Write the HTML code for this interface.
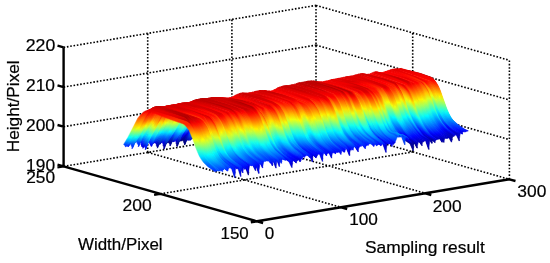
<!DOCTYPE html>
<html><head><meta charset="utf-8"><title>Sampling result surface</title>
<style>html,body{margin:0;padding:0;background:#fff;}svg{display:block;}</style></head>
<body><svg width="550" height="263" viewBox="0 0 550 263">
<rect width="550" height="263" fill="#fff"/>
<path d="M63.6 126.7L316 84.7M316 84.7L509.4 139.6M63.6 87.1L316 45.1M316 45.1L509.4 100M63.6 47.4L316 5.4M316 5.4L509.4 60.3M147.7 152.4L147.7 33.4M231.9 138.4L231.9 19.4M316 124.4L316 5.4M412.7 151.9L412.7 32.8M509.4 179.3L509.4 60.3M63.6 166.4L316 124.4M316 124.4L509.4 179.3M147.7 152.4L341.1 207.3M231.9 138.4L425.3 193.3M160.3 193.9L412.7 151.9" stroke="#000" stroke-width="1.6" stroke-dasharray="1.6 1.75" fill="none"/>
<defs><linearGradient id="g0" gradientUnits="userSpaceOnUse" x1="0" y1="0" x2="0" y2="263"><stop offset=".261" stop-color="#ec0000"/><stop offset=".275" stop-color="#f70000"/><stop offset=".308" stop-color="#ff4400"/><stop offset=".343" stop-color="#ffd300"/><stop offset=".362" stop-color="#d6ff29"/><stop offset=".406" stop-color="#19ffe6"/><stop offset=".423" stop-color="#00cfff"/><stop offset=".449" stop-color="#0068ff"/><stop offset=".478" stop-color="#0009ff"/><stop offset=".498" stop-color="#0000e3"/></linearGradient><linearGradient id="g1" gradientUnits="userSpaceOnUse" x1="0" y1="0" x2="0" y2="263"><stop offset=".262" stop-color="#eb0000"/><stop offset=".280" stop-color="#c90000"/><stop offset=".295" stop-color="#d20000"/><stop offset=".303" stop-color="#ed0000"/><stop offset=".313" stop-color="#ff1600"/><stop offset=".366" stop-color="#fff700"/><stop offset=".390" stop-color="#a1ff5e"/><stop offset=".429" stop-color="#00f9ff"/><stop offset=".464" stop-color="#006fff"/><stop offset=".490" stop-color="#0019ff"/><stop offset=".501" stop-color="#0000f1"/></linearGradient><linearGradient id="g2" gradientUnits="userSpaceOnUse" x1="0" y1="0" x2="0" y2="263"><stop offset=".262" stop-color="#e80000"/><stop offset=".279" stop-color="#b80000"/><stop offset=".293" stop-color="#be0000"/><stop offset=".306" stop-color="#e50000"/><stop offset=".317" stop-color="#ff1100"/><stop offset=".371" stop-color="#fff600"/><stop offset=".394" stop-color="#a5ff5a"/><stop offset=".433" stop-color="#00fdff"/><stop offset=".477" stop-color="#0053ff"/><stop offset=".502" stop-color="#0000f5"/></linearGradient><linearGradient id="g3" gradientUnits="userSpaceOnUse" x1="0" y1="0" x2="0" y2="263"><stop offset=".262" stop-color="#e60000"/><stop offset=".306" stop-color="#ff0500"/><stop offset=".317" stop-color="#ff2600"/><stop offset=".362" stop-color="#ffdf00"/><stop offset=".384" stop-color="#c3ff3c"/><stop offset=".424" stop-color="#13ffec"/><stop offset=".442" stop-color="#00c6ff"/><stop offset=".480" stop-color="#0038ff"/><stop offset=".500" stop-color="#0000fc"/></linearGradient><linearGradient id="g4" gradientUnits="userSpaceOnUse" x1="0" y1="0" x2="0" y2="263"><stop offset=".262" stop-color="#e50000"/><stop offset=".280" stop-color="#ff0400"/><stop offset=".311" stop-color="#ff2200"/><stop offset=".334" stop-color="#ff6e00"/><stop offset=".367" stop-color="#fffb00"/><stop offset=".389" stop-color="#a6ff59"/><stop offset=".429" stop-color="#00f9ff"/><stop offset=".467" stop-color="#005fff"/><stop offset=".495" stop-color="#0004ff"/><stop offset=".509" stop-color="#0000cc"/></linearGradient><linearGradient id="g5" gradientUnits="userSpaceOnUse" x1="0" y1="0" x2="0" y2="263"><stop offset=".263" stop-color="#e50000"/><stop offset=".280" stop-color="#ff0100"/><stop offset=".311" stop-color="#ff1f00"/><stop offset=".324" stop-color="#ff4900"/><stop offset=".369" stop-color="#f9ff06"/><stop offset=".413" stop-color="#3cffc3"/><stop offset=".431" stop-color="#00efff"/><stop offset=".459" stop-color="#007cff"/><stop offset=".491" stop-color="#000eff"/><stop offset=".496" stop-color="#0000fe"/><stop offset=".510" stop-color="#0000c9"/></linearGradient><linearGradient id="g6" gradientUnits="userSpaceOnUse" x1="0" y1="0" x2="0" y2="263"><stop offset=".263" stop-color="#e40000"/><stop offset=".279" stop-color="#f90000"/><stop offset=".309" stop-color="#ff1800"/><stop offset=".356" stop-color="#ffcf00"/><stop offset=".376" stop-color="#d9ff26"/><stop offset=".418" stop-color="#24ffdb"/><stop offset=".435" stop-color="#00d9ff"/><stop offset=".485" stop-color="#0021ff"/><stop offset=".496" stop-color="#0001ff"/><stop offset=".503" stop-color="#0000ec"/></linearGradient><linearGradient id="g7" gradientUnits="userSpaceOnUse" x1="0" y1="0" x2="0" y2="263"><stop offset=".263" stop-color="#e30000"/><stop offset=".293" stop-color="#ff0100"/><stop offset=".309" stop-color="#ff1500"/><stop offset=".361" stop-color="#ffe700"/><stop offset=".382" stop-color="#bcff43"/><stop offset=".423" stop-color="#0efff1"/><stop offset=".440" stop-color="#00c3ff"/><stop offset=".487" stop-color="#0018ff"/><stop offset=".497" stop-color="#0000f9"/><stop offset=".507" stop-color="#0000dd"/></linearGradient><linearGradient id="g8" gradientUnits="userSpaceOnUse" x1="0" y1="0" x2="0" y2="263"><stop offset=".263" stop-color="#e30000"/><stop offset=".311" stop-color="#ff0c00"/><stop offset=".357" stop-color="#ffc900"/><stop offset=".377" stop-color="#dbff24"/><stop offset=".418" stop-color="#2affd5"/><stop offset=".436" stop-color="#00e0ff"/><stop offset=".490" stop-color="#0017ff"/><stop offset=".496" stop-color="#0007ff"/><stop offset=".505" stop-color="#0000ed"/></linearGradient><linearGradient id="g9" gradientUnits="userSpaceOnUse" x1="0" y1="0" x2="0" y2="263"><stop offset=".264" stop-color="#e20000"/><stop offset=".278" stop-color="#ee0000"/><stop offset=".292" stop-color="#e00000"/><stop offset=".313" stop-color="#ff0300"/><stop offset=".355" stop-color="#ffb600"/><stop offset=".376" stop-color="#edff12"/><stop offset=".417" stop-color="#3cffc3"/><stop offset=".434" stop-color="#00f3ff"/><stop offset=".496" stop-color="#0009ff"/><stop offset=".536" stop-color="#000080"/></linearGradient><linearGradient id="g10" gradientUnits="userSpaceOnUse" x1="0" y1="0" x2="0" y2="263"><stop offset=".264" stop-color="#e20000"/><stop offset=".278" stop-color="#ed0000"/><stop offset=".292" stop-color="#d90000"/><stop offset=".316" stop-color="#ff0600"/><stop offset=".362" stop-color="#ffd000"/><stop offset=".384" stop-color="#ceff31"/><stop offset=".423" stop-color="#27ffd8"/><stop offset=".439" stop-color="#00e6ff"/><stop offset=".501" stop-color="#0001ff"/><stop offset=".525" stop-color="#00009f"/></linearGradient><linearGradient id="g11" gradientUnits="userSpaceOnUse" x1="0" y1="0" x2="0" y2="263"><stop offset=".264" stop-color="#e30000"/><stop offset=".314" stop-color="#ff0d00"/><stop offset=".370" stop-color="#fff900"/><stop offset=".392" stop-color="#a4ff5b"/><stop offset=".429" stop-color="#05fffa"/><stop offset=".499" stop-color="#0001ff"/><stop offset=".516" stop-color="#0000c5"/></linearGradient><linearGradient id="g12" gradientUnits="userSpaceOnUse" x1="0" y1="0" x2="0" y2="263"><stop offset=".266" stop-color="#e50000"/><stop offset=".284" stop-color="#ff0600"/><stop offset=".315" stop-color="#ff3b00"/><stop offset=".354" stop-color="#ffce00"/><stop offset=".373" stop-color="#e0ff1f"/><stop offset=".416" stop-color="#26ffd9"/><stop offset=".434" stop-color="#00dbff"/><stop offset=".489" stop-color="#0006ff"/><stop offset=".509" stop-color="#0000d2"/></linearGradient><linearGradient id="g13" gradientUnits="userSpaceOnUse" x1="0" y1="0" x2="0" y2="263"><stop offset=".268" stop-color="#ea0000"/><stop offset=".283" stop-color="#fa0000"/><stop offset=".313" stop-color="#ff4700"/><stop offset=".344" stop-color="#ffbe00"/><stop offset=".364" stop-color="#ecff13"/><stop offset=".407" stop-color="#30ffcf"/><stop offset=".426" stop-color="#00e0ff"/><stop offset=".477" stop-color="#0013ff"/><stop offset=".486" stop-color="#0000f3"/><stop offset=".513" stop-color="#0000b8"/></linearGradient><linearGradient id="g14" gradientUnits="userSpaceOnUse" x1="0" y1="0" x2="0" y2="263"><stop offset=".270" stop-color="#f00000"/><stop offset=".284" stop-color="#f90000"/><stop offset=".312" stop-color="#f30000"/><stop offset=".318" stop-color="#ff0700"/><stop offset=".376" stop-color="#fff300"/><stop offset=".399" stop-color="#a9ff56"/><stop offset=".438" stop-color="#02fffd"/><stop offset=".501" stop-color="#0007ff"/><stop offset=".518" stop-color="#0000c9"/></linearGradient><linearGradient id="g15" gradientUnits="userSpaceOnUse" x1="0" y1="0" x2="0" y2="263"><stop offset=".273" stop-color="#f70000"/><stop offset=".297" stop-color="#ff0600"/><stop offset=".314" stop-color="#ff2400"/><stop offset=".354" stop-color="#ffc800"/><stop offset=".375" stop-color="#ddff22"/><stop offset=".420" stop-color="#1affe5"/><stop offset=".437" stop-color="#00cfff"/><stop offset=".485" stop-color="#0013ff"/><stop offset=".494" stop-color="#0000f3"/><stop offset=".522" stop-color="#0000a5"/></linearGradient><linearGradient id="g16" gradientUnits="userSpaceOnUse" x1="0" y1="0" x2="0" y2="263"><stop offset=".273" stop-color="#f80000"/><stop offset=".297" stop-color="#ff0600"/><stop offset=".314" stop-color="#ff2300"/><stop offset=".355" stop-color="#ffc800"/><stop offset=".375" stop-color="#deff21"/><stop offset=".420" stop-color="#1affe5"/><stop offset=".437" stop-color="#00cfff"/><stop offset=".485" stop-color="#0014ff"/><stop offset=".494" stop-color="#0000f4"/><stop offset=".530" stop-color="#000080"/></linearGradient><linearGradient id="g17" gradientUnits="userSpaceOnUse" x1="0" y1="0" x2="0" y2="263"><stop offset=".274" stop-color="#fa0000"/><stop offset=".297" stop-color="#f60000"/><stop offset=".314" stop-color="#ff1000"/><stop offset=".358" stop-color="#ffc400"/><stop offset=".379" stop-color="#e0ff1f"/><stop offset=".424" stop-color="#1fffe0"/><stop offset=".442" stop-color="#00d1ff"/><stop offset=".492" stop-color="#000aff"/><stop offset=".519" stop-color="#0000af"/><stop offset=".541" stop-color="#000080"/></linearGradient><linearGradient id="g18" gradientUnits="userSpaceOnUse" x1="0" y1="0" x2="0" y2="263"><stop offset=".275" stop-color="#fd0000"/><stop offset=".297" stop-color="#e80000"/><stop offset=".315" stop-color="#fd0000"/><stop offset=".362" stop-color="#ffc000"/><stop offset=".383" stop-color="#e1ff1e"/><stop offset=".427" stop-color="#23ffdc"/><stop offset=".445" stop-color="#00d8ff"/><stop offset=".498" stop-color="#000eff"/><stop offset=".506" stop-color="#0000ed"/><stop offset=".523" stop-color="#0000b6"/></linearGradient><linearGradient id="g19" gradientUnits="userSpaceOnUse" x1="0" y1="0" x2="0" y2="263"><stop offset=".275" stop-color="#fd0000"/><stop offset=".297" stop-color="#e60000"/><stop offset=".315" stop-color="#fa0000"/><stop offset=".363" stop-color="#ffc000"/><stop offset=".384" stop-color="#e1ff1e"/><stop offset=".428" stop-color="#23ffdc"/><stop offset=".445" stop-color="#00d9ff"/><stop offset=".498" stop-color="#0010ff"/><stop offset=".506" stop-color="#0000ef"/><stop offset=".522" stop-color="#0000be"/></linearGradient><linearGradient id="g20" gradientUnits="userSpaceOnUse" x1="0" y1="0" x2="0" y2="263"><stop offset=".276" stop-color="#fe0000"/><stop offset=".299" stop-color="#ec0000"/><stop offset=".316" stop-color="#ff0200"/><stop offset=".361" stop-color="#ffbc00"/><stop offset=".382" stop-color="#e7ff18"/><stop offset=".427" stop-color="#26ffd9"/><stop offset=".444" stop-color="#00dbff"/><stop offset=".499" stop-color="#0007ff"/><stop offset=".524" stop-color="#0000b8"/></linearGradient><linearGradient id="g21" gradientUnits="userSpaceOnUse" x1="0" y1="0" x2="0" y2="263"><stop offset=".276" stop-color="#fa0000"/><stop offset=".318" stop-color="#ff0a00"/><stop offset=".377" stop-color="#fffb00"/><stop offset=".399" stop-color="#a2ff5d"/><stop offset=".439" stop-color="#00f5ff"/><stop offset=".499" stop-color="#000cff"/><stop offset=".507" stop-color="#0000ea"/><stop offset=".526" stop-color="#0000ae"/></linearGradient><linearGradient id="g22" gradientUnits="userSpaceOnUse" x1="0" y1="0" x2="0" y2="263"><stop offset=".275" stop-color="#f00000"/><stop offset=".298" stop-color="#d30000"/><stop offset=".318" stop-color="#f00000"/><stop offset=".338" stop-color="#ff4600"/><stop offset=".378" stop-color="#fff200"/><stop offset=".402" stop-color="#a5ff5a"/><stop offset=".441" stop-color="#00fcff"/><stop offset=".503" stop-color="#000fff"/><stop offset=".511" stop-color="#0000ef"/><stop offset=".526" stop-color="#0000c1"/></linearGradient><linearGradient id="g23" gradientUnits="userSpaceOnUse" x1="0" y1="0" x2="0" y2="263"><stop offset=".275" stop-color="#e90000"/><stop offset=".290" stop-color="#f90000"/><stop offset=".304" stop-color="#ef0000"/><stop offset=".323" stop-color="#ff0800"/><stop offset=".374" stop-color="#ffde00"/><stop offset=".396" stop-color="#c3ff3c"/><stop offset=".435" stop-color="#1cffe3"/><stop offset=".451" stop-color="#00d7ff"/><stop offset=".510" stop-color="#0000f7"/><stop offset=".527" stop-color="#0000be"/></linearGradient><linearGradient id="g24" gradientUnits="userSpaceOnUse" x1="0" y1="0" x2="0" y2="263"><stop offset=".274" stop-color="#e50000"/><stop offset=".292" stop-color="#ff0500"/><stop offset=".308" stop-color="#ff0200"/><stop offset=".327" stop-color="#ff1800"/><stop offset=".372" stop-color="#ffd100"/><stop offset=".392" stop-color="#d6ff29"/><stop offset=".431" stop-color="#30ffcf"/><stop offset=".449" stop-color="#00e3ff"/><stop offset=".504" stop-color="#000eff"/><stop offset=".513" stop-color="#0000ea"/><stop offset=".542" stop-color="#000080"/></linearGradient><linearGradient id="g25" gradientUnits="userSpaceOnUse" x1="0" y1="0" x2="0" y2="263"><stop offset=".274" stop-color="#e50000"/><stop offset=".292" stop-color="#ff0200"/><stop offset=".308" stop-color="#fe0000"/><stop offset=".326" stop-color="#ff1400"/><stop offset=".371" stop-color="#ffcb00"/><stop offset=".391" stop-color="#ddff22"/><stop offset=".430" stop-color="#34ffcb"/><stop offset=".448" stop-color="#00e7ff"/><stop offset=".505" stop-color="#000cff"/><stop offset=".513" stop-color="#0000e8"/><stop offset=".540" stop-color="#000080"/></linearGradient><linearGradient id="g26" gradientUnits="userSpaceOnUse" x1="0" y1="0" x2="0" y2="263"><stop offset=".274" stop-color="#e20000"/><stop offset=".288" stop-color="#ec0000"/><stop offset=".302" stop-color="#e30000"/><stop offset=".319" stop-color="#f30000"/><stop offset=".342" stop-color="#ff4d00"/><stop offset=".379" stop-color="#ffeb00"/><stop offset=".401" stop-color="#b1ff4e"/><stop offset=".440" stop-color="#0cfff3"/><stop offset=".455" stop-color="#00cfff"/><stop offset=".508" stop-color="#0001ff"/><stop offset=".526" stop-color="#0000c1"/></linearGradient><linearGradient id="g27" gradientUnits="userSpaceOnUse" x1="0" y1="0" x2="0" y2="263"><stop offset=".274" stop-color="#e10000"/><stop offset=".300" stop-color="#d90000"/><stop offset=".316" stop-color="#e70000"/><stop offset=".326" stop-color="#ff1000"/><stop offset=".375" stop-color="#ffda00"/><stop offset=".397" stop-color="#c3ff3c"/><stop offset=".437" stop-color="#18ffe7"/><stop offset=".453" stop-color="#00d5ff"/><stop offset=".507" stop-color="#0003ff"/><stop offset=".528" stop-color="#0000b7"/></linearGradient><linearGradient id="g28" gradientUnits="userSpaceOnUse" x1="0" y1="0" x2="0" y2="263"><stop offset=".274" stop-color="#de0000"/><stop offset=".295" stop-color="#c60000"/><stop offset=".311" stop-color="#d00000"/><stop offset=".319" stop-color="#ef0000"/><stop offset=".332" stop-color="#ff2300"/><stop offset=".367" stop-color="#ffb600"/><stop offset=".389" stop-color="#e7ff18"/><stop offset=".432" stop-color="#2fffd0"/><stop offset=".450" stop-color="#00e1ff"/><stop offset=".508" stop-color="#0000f9"/><stop offset=".541" stop-color="#000080"/></linearGradient><linearGradient id="g29" gradientUnits="userSpaceOnUse" x1="0" y1="0" x2="0" y2="263"><stop offset=".274" stop-color="#de0000"/><stop offset=".296" stop-color="#c50000"/><stop offset=".311" stop-color="#d10000"/><stop offset=".321" stop-color="#f50000"/><stop offset=".334" stop-color="#ff2900"/><stop offset=".370" stop-color="#ffc100"/><stop offset=".392" stop-color="#dbff24"/><stop offset=".434" stop-color="#26ffd9"/><stop offset=".452" stop-color="#00d8ff"/><stop offset=".501" stop-color="#0019ff"/><stop offset=".510" stop-color="#0000f4"/><stop offset=".541" stop-color="#000080"/></linearGradient><linearGradient id="g30" gradientUnits="userSpaceOnUse" x1="0" y1="0" x2="0" y2="263"><stop offset=".274" stop-color="#df0000"/><stop offset=".297" stop-color="#c50000"/><stop offset=".314" stop-color="#d60000"/><stop offset=".328" stop-color="#ff0c00"/><stop offset=".381" stop-color="#ffec00"/><stop offset=".404" stop-color="#abff54"/><stop offset=".443" stop-color="#07fff8"/><stop offset=".509" stop-color="#0002ff"/><stop offset=".527" stop-color="#0000c4"/></linearGradient><linearGradient id="g31" gradientUnits="userSpaceOnUse" x1="0" y1="0" x2="0" y2="263"><stop offset=".275" stop-color="#df0000"/><stop offset=".286" stop-color="#db0000"/><stop offset=".298" stop-color="#c50000"/><stop offset=".317" stop-color="#db0000"/><stop offset=".334" stop-color="#ff2100"/><stop offset=".370" stop-color="#ffb900"/><stop offset=".392" stop-color="#e3ff1c"/><stop offset=".434" stop-color="#31ffce"/><stop offset=".451" stop-color="#00e9ff"/><stop offset=".511" stop-color="#0001ff"/><stop offset=".528" stop-color="#0000c4"/></linearGradient><linearGradient id="g32" gradientUnits="userSpaceOnUse" x1="0" y1="0" x2="0" y2="263"><stop offset=".278" stop-color="#e60000"/><stop offset=".321" stop-color="#ff0300"/><stop offset=".333" stop-color="#ff2500"/><stop offset=".378" stop-color="#ffde00"/><stop offset=".399" stop-color="#c3ff3c"/><stop offset=".440" stop-color="#14ffeb"/><stop offset=".459" stop-color="#00c1ff"/><stop offset=".506" stop-color="#0005ff"/><stop offset=".529" stop-color="#0000b9"/></linearGradient><linearGradient id="g33" gradientUnits="userSpaceOnUse" x1="0" y1="0" x2="0" y2="263"><stop offset=".280" stop-color="#ef0000"/><stop offset=".324" stop-color="#ff1000"/><stop offset=".368" stop-color="#ffb800"/><stop offset=".387" stop-color="#f1ff0e"/><stop offset=".431" stop-color="#33ffcc"/><stop offset=".449" stop-color="#00e9ff"/><stop offset=".501" stop-color="#0014ff"/><stop offset=".511" stop-color="#0000ef"/><stop offset=".531" stop-color="#0000b3"/></linearGradient><linearGradient id="g34" gradientUnits="userSpaceOnUse" x1="0" y1="0" x2="0" y2="263"><stop offset=".283" stop-color="#f40000"/><stop offset=".295" stop-color="#f80000"/><stop offset=".309" stop-color="#d90000"/><stop offset=".323" stop-color="#d40000"/><stop offset=".340" stop-color="#ff0d00"/><stop offset=".390" stop-color="#ffde00"/><stop offset=".412" stop-color="#bcff43"/><stop offset=".451" stop-color="#17ffe8"/><stop offset=".467" stop-color="#00d2ff"/><stop offset=".520" stop-color="#0000fc"/><stop offset=".533" stop-color="#0000c8"/></linearGradient><linearGradient id="g35" gradientUnits="userSpaceOnUse" x1="0" y1="0" x2="0" y2="263"><stop offset=".283" stop-color="#f30000"/><stop offset=".296" stop-color="#f80000"/><stop offset=".309" stop-color="#e00000"/><stop offset=".324" stop-color="#df0000"/><stop offset=".330" stop-color="#f20000"/><stop offset=".339" stop-color="#ff1400"/><stop offset=".388" stop-color="#ffdf00"/><stop offset=".410" stop-color="#bdff42"/><stop offset=".449" stop-color="#15ffea"/><stop offset=".466" stop-color="#00ccff"/><stop offset=".513" stop-color="#0011ff"/><stop offset=".519" stop-color="#0000f6"/><stop offset=".543" stop-color="#000094"/></linearGradient><linearGradient id="g36" gradientUnits="userSpaceOnUse" x1="0" y1="0" x2="0" y2="263"><stop offset=".283" stop-color="#f20000"/><stop offset=".309" stop-color="#ee0000"/><stop offset=".329" stop-color="#ff0300"/><stop offset=".384" stop-color="#ffe000"/><stop offset=".406" stop-color="#beff41"/><stop offset=".447" stop-color="#0dfff2"/><stop offset=".466" stop-color="#00bbff"/><stop offset=".514" stop-color="#0000fa"/><stop offset=".539" stop-color="#00009c"/></linearGradient><linearGradient id="g37" gradientUnits="userSpaceOnUse" x1="0" y1="0" x2="0" y2="263"><stop offset=".283" stop-color="#f20000"/><stop offset=".324" stop-color="#ff0100"/><stop offset=".336" stop-color="#ff2400"/><stop offset=".382" stop-color="#ffe100"/><stop offset=".403" stop-color="#bfff40"/><stop offset=".445" stop-color="#0dfff2"/><stop offset=".464" stop-color="#00b8ff"/><stop offset=".513" stop-color="#0000f7"/><stop offset=".535" stop-color="#0000ac"/></linearGradient><linearGradient id="g38" gradientUnits="userSpaceOnUse" x1="0" y1="0" x2="0" y2="263"><stop offset=".283" stop-color="#f00000"/><stop offset=".325" stop-color="#ff0a00"/><stop offset=".337" stop-color="#ff2e00"/><stop offset=".382" stop-color="#ffea00"/><stop offset=".404" stop-color="#b7ff48"/><stop offset=".445" stop-color="#07fff8"/><stop offset=".502" stop-color="#001dff"/><stop offset=".512" stop-color="#0000f5"/><stop offset=".537" stop-color="#0000a0"/></linearGradient><linearGradient id="g39" gradientUnits="userSpaceOnUse" x1="0" y1="0" x2="0" y2="263"><stop offset=".283" stop-color="#ec0000"/><stop offset=".298" stop-color="#ff0000"/><stop offset=".332" stop-color="#ff3200"/><stop offset=".384" stop-color="#fcff03"/><stop offset=".429" stop-color="#3cffc3"/><stop offset=".446" stop-color="#00f1ff"/><stop offset=".502" stop-color="#000dff"/><stop offset=".512" stop-color="#0000e8"/><stop offset=".532" stop-color="#0000b3"/></linearGradient><linearGradient id="g40" gradientUnits="userSpaceOnUse" x1="0" y1="0" x2="0" y2="263"><stop offset=".282" stop-color="#e90000"/><stop offset=".300" stop-color="#ff0400"/><stop offset=".334" stop-color="#ff4600"/><stop offset=".367" stop-color="#ffc200"/><stop offset=".386" stop-color="#ebff14"/><stop offset=".430" stop-color="#2bffd4"/><stop offset=".448" stop-color="#00ddff"/><stop offset=".495" stop-color="#001dff"/><stop offset=".505" stop-color="#0000f3"/><stop offset=".543" stop-color="#000080"/></linearGradient><linearGradient id="g41" gradientUnits="userSpaceOnUse" x1="0" y1="0" x2="0" y2="263"><stop offset=".282" stop-color="#e80000"/><stop offset=".299" stop-color="#ff0100"/><stop offset=".329" stop-color="#ff3900"/><stop offset=".368" stop-color="#ffcb00"/><stop offset=".388" stop-color="#e1ff1e"/><stop offset=".432" stop-color="#22ffdd"/><stop offset=".450" stop-color="#00d2ff"/><stop offset=".496" stop-color="#0016ff"/><stop offset=".506" stop-color="#0000ec"/><stop offset=".546" stop-color="#000080"/></linearGradient><linearGradient id="g42" gradientUnits="userSpaceOnUse" x1="0" y1="0" x2="0" y2="263"><stop offset=".282" stop-color="#e30000"/><stop offset=".296" stop-color="#f10000"/><stop offset=".326" stop-color="#ff3000"/><stop offset=".376" stop-color="#fff600"/><stop offset=".397" stop-color="#afff50"/><stop offset=".438" stop-color="#00faff"/><stop offset=".494" stop-color="#0016ff"/><stop offset=".505" stop-color="#0000ed"/><stop offset=".534" stop-color="#0000a0"/></linearGradient><linearGradient id="g43" gradientUnits="userSpaceOnUse" x1="0" y1="0" x2="0" y2="263"><stop offset=".281" stop-color="#df0000"/><stop offset=".294" stop-color="#e20000"/><stop offset=".307" stop-color="#ff0600"/><stop offset=".324" stop-color="#ff2c00"/><stop offset=".363" stop-color="#ffca00"/><stop offset=".383" stop-color="#ddff22"/><stop offset=".428" stop-color="#1bffe4"/><stop offset=".445" stop-color="#00d0ff"/><stop offset=".496" stop-color="#0005ff"/><stop offset=".516" stop-color="#0000c2"/><stop offset=".532" stop-color="#0000a7"/></linearGradient><linearGradient id="g44" gradientUnits="userSpaceOnUse" x1="0" y1="0" x2="0" y2="263"><stop offset=".281" stop-color="#da0000"/><stop offset=".304" stop-color="#d80000"/><stop offset=".320" stop-color="#ec0000"/><stop offset=".330" stop-color="#ff1000"/><stop offset=".378" stop-color="#ffd900"/><stop offset=".400" stop-color="#c4ff3b"/><stop offset=".441" stop-color="#13ffec"/><stop offset=".458" stop-color="#00caff"/><stop offset=".505" stop-color="#0015ff"/><stop offset=".514" stop-color="#0000f1"/><stop offset=".535" stop-color="#0000b3"/></linearGradient><linearGradient id="g45" gradientUnits="userSpaceOnUse" x1="0" y1="0" x2="0" y2="263"><stop offset=".281" stop-color="#d60000"/><stop offset=".301" stop-color="#b00000"/><stop offset=".317" stop-color="#b40000"/><stop offset=".338" stop-color="#ff0700"/><stop offset=".395" stop-color="#fffa00"/><stop offset=".418" stop-color="#9eff61"/><stop offset=".458" stop-color="#00f1ff"/><stop offset=".513" stop-color="#0017ff"/><stop offset=".522" stop-color="#0000ef"/><stop offset=".533" stop-color="#0000c4"/><stop offset=".569" stop-color="#000080"/></linearGradient><linearGradient id="g46" gradientUnits="userSpaceOnUse" x1="0" y1="0" x2="0" y2="263"><stop offset=".281" stop-color="#d60000"/><stop offset=".301" stop-color="#ad0000"/><stop offset=".317" stop-color="#b00000"/><stop offset=".338" stop-color="#ff0200"/><stop offset=".395" stop-color="#fff400"/><stop offset=".418" stop-color="#a3ff5c"/><stop offset=".458" stop-color="#00f8ff"/><stop offset=".490" stop-color="#0072ff"/><stop offset=".521" stop-color="#0000f6"/><stop offset=".533" stop-color="#0000ca"/><stop offset=".566" stop-color="#000080"/></linearGradient><linearGradient id="g47" gradientUnits="userSpaceOnUse" x1="0" y1="0" x2="0" y2="263"><stop offset=".281" stop-color="#d40000"/><stop offset=".305" stop-color="#cc0000"/><stop offset=".322" stop-color="#df0000"/><stop offset=".333" stop-color="#ff0d00"/><stop offset=".383" stop-color="#ffdf00"/><stop offset=".406" stop-color="#bbff44"/><stop offset=".446" stop-color="#12ffed"/><stop offset=".461" stop-color="#00d3ff"/><stop offset=".515" stop-color="#0000ff"/><stop offset=".533" stop-color="#0000c8"/></linearGradient><linearGradient id="g48" gradientUnits="userSpaceOnUse" x1="0" y1="0" x2="0" y2="263"><stop offset=".281" stop-color="#d10000"/><stop offset=".310" stop-color="#f90000"/><stop offset=".329" stop-color="#ff2400"/><stop offset=".379" stop-color="#fff600"/><stop offset=".400" stop-color="#abff54"/><stop offset=".440" stop-color="#02fffd"/><stop offset=".499" stop-color="#0018ff"/><stop offset=".509" stop-color="#0000f4"/><stop offset=".518" stop-color="#0000d6"/><stop offset=".533" stop-color="#0000bc"/></linearGradient><linearGradient id="g49" gradientUnits="userSpaceOnUse" x1="0" y1="0" x2="0" y2="263"><stop offset=".282" stop-color="#d20000"/><stop offset=".301" stop-color="#f60000"/><stop offset=".318" stop-color="#ff0000"/><stop offset=".343" stop-color="#ff3b00"/><stop offset=".390" stop-color="#f8ff07"/><stop offset=".446" stop-color="#09fff6"/><stop offset=".514" stop-color="#0009ff"/><stop offset=".534" stop-color="#0000cd"/></linearGradient><linearGradient id="g50" gradientUnits="userSpaceOnUse" x1="0" y1="0" x2="0" y2="263"><stop offset=".284" stop-color="#d60000"/><stop offset=".304" stop-color="#ff0200"/><stop offset=".322" stop-color="#ff0f00"/><stop offset=".347" stop-color="#ff4800"/><stop offset=".373" stop-color="#ffbd00"/><stop offset=".391" stop-color="#f4ff0b"/><stop offset=".447" stop-color="#09fff6"/><stop offset=".516" stop-color="#0005ff"/><stop offset=".539" stop-color="#0000bd"/></linearGradient><linearGradient id="g51" gradientUnits="userSpaceOnUse" x1="0" y1="0" x2="0" y2="263"><stop offset=".285" stop-color="#d90000"/><stop offset=".302" stop-color="#f20000"/><stop offset=".317" stop-color="#f90000"/><stop offset=".337" stop-color="#ff1a00"/><stop offset=".388" stop-color="#fff200"/><stop offset=".410" stop-color="#afff50"/><stop offset=".447" stop-color="#10ffef"/><stop offset=".463" stop-color="#00d0ff"/><stop offset=".514" stop-color="#000dff"/><stop offset=".523" stop-color="#0000eb"/><stop offset=".539" stop-color="#0000bd"/></linearGradient><linearGradient id="g52" gradientUnits="userSpaceOnUse" x1="0" y1="0" x2="0" y2="263"><stop offset=".286" stop-color="#db0000"/><stop offset=".333" stop-color="#ff0500"/><stop offset=".376" stop-color="#ffb600"/><stop offset=".396" stop-color="#f0ff0f"/><stop offset=".438" stop-color="#3bffc4"/><stop offset=".456" stop-color="#00efff"/><stop offset=".516" stop-color="#0005ff"/><stop offset=".553" stop-color="#000080"/></linearGradient><linearGradient id="g53" gradientUnits="userSpaceOnUse" x1="0" y1="0" x2="0" y2="263"><stop offset=".286" stop-color="#db0000"/><stop offset=".333" stop-color="#ff0500"/><stop offset=".395" stop-color="#f6ff09"/><stop offset=".437" stop-color="#40ffbf"/><stop offset=".455" stop-color="#00f3ff"/><stop offset=".516" stop-color="#0003ff"/><stop offset=".553" stop-color="#000080"/></linearGradient><linearGradient id="g54" gradientUnits="userSpaceOnUse" x1="0" y1="0" x2="0" y2="263"><stop offset=".287" stop-color="#dd0000"/><stop offset=".333" stop-color="#ff0300"/><stop offset=".390" stop-color="#ffe900"/><stop offset=".411" stop-color="#b6ff49"/><stop offset=".451" stop-color="#0efff1"/><stop offset=".466" stop-color="#00cdff"/><stop offset=".512" stop-color="#001bff"/><stop offset=".521" stop-color="#0000f5"/><stop offset=".543" stop-color="#0000ae"/></linearGradient><linearGradient id="g55" gradientUnits="userSpaceOnUse" x1="0" y1="0" x2="0" y2="263"><stop offset=".288" stop-color="#de0000"/><stop offset=".333" stop-color="#ff0100"/><stop offset=".384" stop-color="#ffcc00"/><stop offset=".405" stop-color="#d9ff26"/><stop offset=".446" stop-color="#28ffd7"/><stop offset=".464" stop-color="#00deff"/><stop offset=".521" stop-color="#0000fb"/><stop offset=".541" stop-color="#0000bb"/></linearGradient><linearGradient id="g56" gradientUnits="userSpaceOnUse" x1="0" y1="0" x2="0" y2="263"><stop offset=".289" stop-color="#e00000"/><stop offset=".310" stop-color="#d50000"/><stop offset=".324" stop-color="#e40000"/><stop offset=".336" stop-color="#ff0900"/><stop offset=".381" stop-color="#ffc100"/><stop offset=".402" stop-color="#e1ff1e"/><stop offset=".445" stop-color="#27ffd8"/><stop offset=".465" stop-color="#00d3ff"/><stop offset=".518" stop-color="#0000fe"/><stop offset=".540" stop-color="#0000bb"/></linearGradient><linearGradient id="g57" gradientUnits="userSpaceOnUse" x1="0" y1="0" x2="0" y2="263"><stop offset=".290" stop-color="#e00000"/><stop offset=".313" stop-color="#d60000"/><stop offset=".328" stop-color="#e00000"/><stop offset=".334" stop-color="#f30000"/><stop offset=".343" stop-color="#ff1400"/><stop offset=".392" stop-color="#ffe300"/><stop offset=".415" stop-color="#b9ff46"/><stop offset=".455" stop-color="#0ffff0"/><stop offset=".473" stop-color="#00c1ff"/><stop offset=".520" stop-color="#0004ff"/><stop offset=".542" stop-color="#0000bb"/></linearGradient><linearGradient id="g58" gradientUnits="userSpaceOnUse" x1="0" y1="0" x2="0" y2="263"><stop offset=".290" stop-color="#e00000"/><stop offset=".332" stop-color="#dd0000"/><stop offset=".339" stop-color="#f80000"/><stop offset=".384" stop-color="#ffb100"/><stop offset=".405" stop-color="#f2ff0d"/><stop offset=".448" stop-color="#3affc5"/><stop offset=".467" stop-color="#00e8ff"/><stop offset=".519" stop-color="#0015ff"/><stop offset=".529" stop-color="#0000ed"/><stop offset=".563" stop-color="#000080"/></linearGradient><linearGradient id="g59" gradientUnits="userSpaceOnUse" x1="0" y1="0" x2="0" y2="263"><stop offset=".290" stop-color="#e00000"/><stop offset=".304" stop-color="#e80000"/><stop offset=".317" stop-color="#d80000"/><stop offset=".333" stop-color="#de0000"/><stop offset=".342" stop-color="#fe0000"/><stop offset=".388" stop-color="#ffbc00"/><stop offset=".410" stop-color="#e4ff1b"/><stop offset=".451" stop-color="#33ffcc"/><stop offset=".469" stop-color="#00e4ff"/><stop offset=".528" stop-color="#0000f7"/><stop offset=".562" stop-color="#000080"/></linearGradient><linearGradient id="g60" gradientUnits="userSpaceOnUse" x1="0" y1="0" x2="0" y2="263"><stop offset=".290" stop-color="#e00000"/><stop offset=".337" stop-color="#ff0200"/><stop offset=".400" stop-color="#f6ff09"/><stop offset=".442" stop-color="#40ffbf"/><stop offset=".460" stop-color="#00f5ff"/><stop offset=".517" stop-color="#0016ff"/><stop offset=".527" stop-color="#0000f0"/><stop offset=".551" stop-color="#000097"/></linearGradient><linearGradient id="g61" gradientUnits="userSpaceOnUse" x1="0" y1="0" x2="0" y2="263"><stop offset=".291" stop-color="#df0000"/><stop offset=".308" stop-color="#fa0000"/><stop offset=".324" stop-color="#ff1900"/><stop offset=".346" stop-color="#ff5100"/><stop offset=".388" stop-color="#faff05"/><stop offset=".447" stop-color="#00fcff"/><stop offset=".513" stop-color="#0000f9"/><stop offset=".531" stop-color="#0000bc"/><stop offset=".547" stop-color="#00009a"/></linearGradient><linearGradient id="g62" gradientUnits="userSpaceOnUse" x1="0" y1="0" x2="0" y2="263"><stop offset=".292" stop-color="#df0000"/><stop offset=".303" stop-color="#da0000"/><stop offset=".315" stop-color="#eb0000"/><stop offset=".335" stop-color="#ff1c00"/><stop offset=".374" stop-color="#ffc300"/><stop offset=".395" stop-color="#e1ff1e"/><stop offset=".440" stop-color="#1fffe0"/><stop offset=".458" stop-color="#00d3ff"/><stop offset=".512" stop-color="#0004ff"/><stop offset=".529" stop-color="#0000c7"/><stop offset=".543" stop-color="#0000b3"/></linearGradient><linearGradient id="g63" gradientUnits="userSpaceOnUse" x1="0" y1="0" x2="0" y2="263"><stop offset=".292" stop-color="#de0000"/><stop offset=".301" stop-color="#d20000"/><stop offset=".333" stop-color="#ff0f00"/><stop offset=".371" stop-color="#ffb100"/><stop offset=".392" stop-color="#f1ff0e"/><stop offset=".438" stop-color="#29ffd6"/><stop offset=".456" stop-color="#00dbff"/><stop offset=".505" stop-color="#0018ff"/><stop offset=".515" stop-color="#0000f3"/><stop offset=".532" stop-color="#0000b7"/><stop offset=".558" stop-color="#000080"/></linearGradient><linearGradient id="g64" gradientUnits="userSpaceOnUse" x1="0" y1="0" x2="0" y2="263"><stop offset=".292" stop-color="#de0000"/><stop offset=".303" stop-color="#d80000"/><stop offset=".315" stop-color="#ec0000"/><stop offset=".335" stop-color="#ff1c00"/><stop offset=".371" stop-color="#ffb700"/><stop offset=".392" stop-color="#eeff11"/><stop offset=".437" stop-color="#28ffd7"/><stop offset=".455" stop-color="#00dbff"/><stop offset=".509" stop-color="#0002ff"/><stop offset=".541" stop-color="#000096"/><stop offset=".573" stop-color="#000080"/></linearGradient><linearGradient id="g65" gradientUnits="userSpaceOnUse" x1="0" y1="0" x2="0" y2="263"><stop offset=".293" stop-color="#de0000"/><stop offset=".306" stop-color="#e40000"/><stop offset=".319" stop-color="#ff0500"/><stop offset=".339" stop-color="#ff3600"/><stop offset=".372" stop-color="#ffc100"/><stop offset=".392" stop-color="#e7ff18"/><stop offset=".436" stop-color="#25ffda"/><stop offset=".454" stop-color="#00dbff"/><stop offset=".510" stop-color="#0000ff"/><stop offset=".527" stop-color="#0000c7"/><stop offset=".546" stop-color="#00009e"/></linearGradient><linearGradient id="g66" gradientUnits="userSpaceOnUse" x1="0" y1="0" x2="0" y2="263"><stop offset=".293" stop-color="#de0000"/><stop offset=".308" stop-color="#ed0000"/><stop offset=".322" stop-color="#ff1600"/><stop offset=".341" stop-color="#ff4800"/><stop offset=".372" stop-color="#ffc800"/><stop offset=".392" stop-color="#e2ff1d"/><stop offset=".436" stop-color="#24ffdb"/><stop offset=".453" stop-color="#00dbff"/><stop offset=".510" stop-color="#0000fc"/><stop offset=".527" stop-color="#0000c5"/><stop offset=".541" stop-color="#0000b4"/></linearGradient><linearGradient id="g67" gradientUnits="userSpaceOnUse" x1="0" y1="0" x2="0" y2="263"><stop offset=".294" stop-color="#df0000"/><stop offset=".305" stop-color="#da0000"/><stop offset=".335" stop-color="#ff1300"/><stop offset=".380" stop-color="#ffcb00"/><stop offset=".401" stop-color="#d8ff27"/><stop offset=".445" stop-color="#18ffe7"/><stop offset=".462" stop-color="#00cdff"/><stop offset=".516" stop-color="#0000ff"/><stop offset=".538" stop-color="#0000d1"/></linearGradient><linearGradient id="g68" gradientUnits="userSpaceOnUse" x1="0" y1="0" x2="0" y2="263"><stop offset=".296" stop-color="#e10000"/><stop offset=".308" stop-color="#e20000"/><stop offset=".321" stop-color="#ff0400"/><stop offset=".336" stop-color="#ff2100"/><stop offset=".386" stop-color="#ffe900"/><stop offset=".407" stop-color="#bbff44"/><stop offset=".450" stop-color="#01fffe"/><stop offset=".512" stop-color="#0008ff"/><stop offset=".516" stop-color="#0003ff"/><stop offset=".519" stop-color="#0018ff"/><stop offset=".527" stop-color="#0004ff"/></linearGradient><linearGradient id="g69" gradientUnits="userSpaceOnUse" x1="0" y1="0" x2="0" y2="263"><stop offset=".297" stop-color="#e20000"/><stop offset=".315" stop-color="#ff0000"/><stop offset=".330" stop-color="#fd0000"/><stop offset=".350" stop-color="#ff1a00"/><stop offset=".401" stop-color="#fff000"/><stop offset=".422" stop-color="#b1ff4e"/><stop offset=".460" stop-color="#13ffec"/><stop offset=".475" stop-color="#00d4ff"/><stop offset=".511" stop-color="#004fff"/><stop offset=".518" stop-color="#004cff"/><stop offset=".519" stop-color="#0036ff"/><stop offset=".519" stop-color="#0041ff"/><stop offset=".520" stop-color="#0035ff"/><stop offset=".521" stop-color="#004eff"/></linearGradient><linearGradient id="g70" gradientUnits="userSpaceOnUse" x1="0" y1="0" x2="0" y2="263"><stop offset=".298" stop-color="#e30000"/><stop offset=".317" stop-color="#ff0600"/><stop offset=".351" stop-color="#ff0c00"/><stop offset=".399" stop-color="#ffc900"/><stop offset=".420" stop-color="#dbff24"/><stop offset=".461" stop-color="#2dffd2"/><stop offset=".478" stop-color="#00e2ff"/><stop offset=".509" stop-color="#006eff"/><stop offset=".512" stop-color="#0074ff"/><stop offset=".512" stop-color="#0067ff"/><stop offset=".519" stop-color="#005eff"/></linearGradient><linearGradient id="g71" gradientUnits="userSpaceOnUse" x1="0" y1="0" x2="0" y2="263"><stop offset=".298" stop-color="#e30000"/><stop offset=".318" stop-color="#ff0800"/><stop offset=".349" stop-color="#fe0000"/><stop offset=".372" stop-color="#ff4a00"/><stop offset=".406" stop-color="#ffd900"/><stop offset=".429" stop-color="#c0ff3f"/><stop offset=".471" stop-color="#0afff5"/><stop offset=".510" stop-color="#006eff"/><stop offset=".513" stop-color="#0064ff"/><stop offset=".514" stop-color="#006dff"/><stop offset=".530" stop-color="#0028ff"/></linearGradient><linearGradient id="g72" gradientUnits="userSpaceOnUse" x1="0" y1="0" x2="0" y2="263"><stop offset=".299" stop-color="#e40000"/><stop offset=".315" stop-color="#f90000"/><stop offset=".349" stop-color="#ff0600"/><stop offset=".401" stop-color="#ffd400"/><stop offset=".422" stop-color="#cdff32"/><stop offset=".466" stop-color="#11ffee"/><stop offset=".485" stop-color="#00beff"/><stop offset=".510" stop-color="#005cff"/><stop offset=".518" stop-color="#0040ff"/><stop offset=".520" stop-color="#004aff"/><stop offset=".520" stop-color="#003bff"/><stop offset=".520" stop-color="#0041ff"/><stop offset=".551" stop-color="#0000c2"/></linearGradient><linearGradient id="g73" gradientUnits="userSpaceOnUse" x1="0" y1="0" x2="0" y2="263"><stop offset=".299" stop-color="#e40000"/><stop offset=".321" stop-color="#d50000"/><stop offset=".340" stop-color="#f10000"/><stop offset=".355" stop-color="#ff3300"/><stop offset=".390" stop-color="#ffc700"/><stop offset=".412" stop-color="#d7ff28"/><stop offset=".455" stop-color="#1effe1"/><stop offset=".473" stop-color="#00d3ff"/><stop offset=".510" stop-color="#004bff"/><stop offset=".516" stop-color="#0055ff"/><stop offset=".516" stop-color="#0035ff"/><stop offset=".517" stop-color="#0047ff"/><stop offset=".518" stop-color="#0038ff"/><stop offset=".519" stop-color="#0052ff"/></linearGradient><linearGradient id="g74" gradientUnits="userSpaceOnUse" x1="0" y1="0" x2="0" y2="263"><stop offset=".299" stop-color="#e40000"/><stop offset=".305" stop-color="#c40000"/><stop offset=".314" stop-color="#bc0000"/><stop offset=".338" stop-color="#f80000"/><stop offset=".389" stop-color="#ffda00"/><stop offset=".414" stop-color="#b9ff46"/><stop offset=".457" stop-color="#00fbff"/><stop offset=".485" stop-color="#008aff"/><stop offset=".515" stop-color="#0025ff"/><stop offset=".517" stop-color="#0049ff"/><stop offset=".520" stop-color="#002dff"/><stop offset=".520" stop-color="#0048ff"/><stop offset=".521" stop-color="#0014ff"/><stop offset=".521" stop-color="#001dff"/></linearGradient><linearGradient id="g75" gradientUnits="userSpaceOnUse" x1="0" y1="0" x2="0" y2="263"><stop offset=".301" stop-color="#e40000"/><stop offset=".310" stop-color="#db0000"/><stop offset=".322" stop-color="#fe0000"/><stop offset=".337" stop-color="#ff1f00"/><stop offset=".385" stop-color="#ffda00"/><stop offset=".406" stop-color="#c9ff36"/><stop offset=".450" stop-color="#07fff8"/><stop offset=".510" stop-color="#001eff"/><stop offset=".510" stop-color="#004eff"/><stop offset=".511" stop-color="#0028ff"/><stop offset=".511" stop-color="#0039ff"/><stop offset=".519" stop-color="#003cff"/></linearGradient><linearGradient id="g76" gradientUnits="userSpaceOnUse" x1="0" y1="0" x2="0" y2="263"><stop offset=".302" stop-color="#e50000"/><stop offset=".323" stop-color="#ce0000"/><stop offset=".337" stop-color="#d50000"/><stop offset=".351" stop-color="#fb0000"/><stop offset=".412" stop-color="#fff800"/><stop offset=".474" stop-color="#00fcff"/><stop offset=".499" stop-color="#0096ff"/><stop offset=".503" stop-color="#008dff"/><stop offset=".505" stop-color="#0097ff"/><stop offset=".512" stop-color="#0085ff"/></linearGradient><linearGradient id="g77" gradientUnits="userSpaceOnUse" x1="0" y1="0" x2="0" y2="263"><stop offset=".303" stop-color="#e60000"/><stop offset=".323" stop-color="#cc0000"/><stop offset=".337" stop-color="#d10000"/><stop offset=".351" stop-color="#f40000"/><stop offset=".361" stop-color="#ff1800"/><stop offset=".410" stop-color="#ffe700"/><stop offset=".432" stop-color="#b7ff48"/><stop offset=".472" stop-color="#0cfff3"/><stop offset=".499" stop-color="#00a0ff"/><stop offset=".511" stop-color="#008cff"/></linearGradient><linearGradient id="g78" gradientUnits="userSpaceOnUse" x1="0" y1="0" x2="0" y2="263"><stop offset=".303" stop-color="#e60000"/><stop offset=".324" stop-color="#cb0000"/><stop offset=".338" stop-color="#cf0000"/><stop offset=".351" stop-color="#f10000"/><stop offset=".360" stop-color="#ff1300"/><stop offset=".409" stop-color="#ffdf00"/><stop offset=".432" stop-color="#beff41"/><stop offset=".473" stop-color="#0efff1"/><stop offset=".500" stop-color="#009eff"/><stop offset=".505" stop-color="#0090ff"/><stop offset=".507" stop-color="#0097ff"/><stop offset=".517" stop-color="#0072ff"/></linearGradient><linearGradient id="g79" gradientUnits="userSpaceOnUse" x1="0" y1="0" x2="0" y2="263"><stop offset=".303" stop-color="#e70000"/><stop offset=".323" stop-color="#cd0000"/><stop offset=".337" stop-color="#d30000"/><stop offset=".351" stop-color="#f60000"/><stop offset=".361" stop-color="#ff1900"/><stop offset=".410" stop-color="#ffe700"/><stop offset=".432" stop-color="#b5ff4a"/><stop offset=".474" stop-color="#04fffb"/><stop offset=".501" stop-color="#0095ff"/><stop offset=".506" stop-color="#0087ff"/><stop offset=".508" stop-color="#008cff"/><stop offset=".521" stop-color="#005eff"/></linearGradient><linearGradient id="g80" gradientUnits="userSpaceOnUse" x1="0" y1="0" x2="0" y2="263"><stop offset=".304" stop-color="#e80000"/><stop offset=".312" stop-color="#d40000"/><stop offset=".323" stop-color="#d40000"/><stop offset=".345" stop-color="#f30000"/><stop offset=".352" stop-color="#ff0b00"/><stop offset=".412" stop-color="#fdff02"/><stop offset=".456" stop-color="#3bffc4"/><stop offset=".474" stop-color="#00f0ff"/><stop offset=".500" stop-color="#0085ff"/><stop offset=".518" stop-color="#0066ff"/></linearGradient><linearGradient id="g81" gradientUnits="userSpaceOnUse" x1="0" y1="0" x2="0" y2="263"><stop offset=".305" stop-color="#e90000"/><stop offset=".311" stop-color="#d00000"/><stop offset=".344" stop-color="#ff0400"/><stop offset=".393" stop-color="#ffc500"/><stop offset=".413" stop-color="#e3ff1c"/><stop offset=".458" stop-color="#22ffdd"/><stop offset=".475" stop-color="#00d7ff"/><stop offset=".501" stop-color="#006eff"/><stop offset=".523" stop-color="#0042ff"/></linearGradient><linearGradient id="g82" gradientUnits="userSpaceOnUse" x1="0" y1="0" x2="0" y2="263"><stop offset=".306" stop-color="#ec0000"/><stop offset=".319" stop-color="#f10000"/><stop offset=".333" stop-color="#d30000"/><stop offset=".350" stop-color="#dc0000"/><stop offset=".363" stop-color="#ff1000"/><stop offset=".415" stop-color="#ffe900"/><stop offset=".437" stop-color="#b1ff4e"/><stop offset=".475" stop-color="#10ffef"/><stop offset=".489" stop-color="#00d9ff"/><stop offset=".543" stop-color="#0014ff"/></linearGradient><linearGradient id="g83" gradientUnits="userSpaceOnUse" x1="0" y1="0" x2="0" y2="263"><stop offset=".308" stop-color="#ef0000"/><stop offset=".318" stop-color="#e30000"/><stop offset=".347" stop-color="#ff0d00"/><stop offset=".392" stop-color="#ffbd00"/><stop offset=".413" stop-color="#e8ff17"/><stop offset=".458" stop-color="#26ffd9"/><stop offset=".475" stop-color="#00dcff"/><stop offset=".519" stop-color="#0037ff"/><stop offset=".532" stop-color="#0013ff"/><stop offset=".549" stop-color="#0000d2"/></linearGradient><linearGradient id="g84" gradientUnits="userSpaceOnUse" x1="0" y1="0" x2="0" y2="263"><stop offset=".309" stop-color="#f00000"/><stop offset=".331" stop-color="#ed0000"/><stop offset=".351" stop-color="#ff0900"/><stop offset=".405" stop-color="#ffe500"/><stop offset=".427" stop-color="#bbff44"/><stop offset=".468" stop-color="#08fff7"/><stop offset=".515" stop-color="#0050ff"/><stop offset=".534" stop-color="#0016ff"/><stop offset=".547" stop-color="#0000e8"/></linearGradient><linearGradient id="g85" gradientUnits="userSpaceOnUse" x1="0" y1="0" x2="0" y2="263"><stop offset=".309" stop-color="#f00000"/><stop offset=".334" stop-color="#e60000"/><stop offset=".349" stop-color="#ee0000"/><stop offset=".357" stop-color="#ff0b00"/><stop offset=".401" stop-color="#ffbf00"/><stop offset=".422" stop-color="#e4ff1b"/><stop offset=".465" stop-color="#2affd5"/><stop offset=".483" stop-color="#00ddff"/><stop offset=".539" stop-color="#0010ff"/><stop offset=".557" stop-color="#0000c6"/></linearGradient><linearGradient id="g86" gradientUnits="userSpaceOnUse" x1="0" y1="0" x2="0" y2="263"><stop offset=".310" stop-color="#f10000"/><stop offset=".322" stop-color="#f30000"/><stop offset=".335" stop-color="#e30000"/><stop offset=".351" stop-color="#ed0000"/><stop offset=".360" stop-color="#ff1000"/><stop offset=".408" stop-color="#ffd400"/><stop offset=".430" stop-color="#caff35"/><stop offset=".470" stop-color="#1affe5"/><stop offset=".488" stop-color="#00d1ff"/><stop offset=".539" stop-color="#0017ff"/><stop offset=".549" stop-color="#0000f1"/></linearGradient><linearGradient id="g87" gradientUnits="userSpaceOnUse" x1="0" y1="0" x2="0" y2="263"><stop offset=".310" stop-color="#f10000"/><stop offset=".352" stop-color="#fc0000"/><stop offset=".405" stop-color="#ffd300"/><stop offset=".426" stop-color="#cfff30"/><stop offset=".468" stop-color="#1cffe3"/><stop offset=".485" stop-color="#00d1ff"/><stop offset=".507" stop-color="#007eff"/><stop offset=".547" stop-color="#0000f7"/></linearGradient><linearGradient id="g88" gradientUnits="userSpaceOnUse" x1="0" y1="0" x2="0" y2="263"><stop offset=".311" stop-color="#f10000"/><stop offset=".326" stop-color="#ff0400"/><stop offset=".356" stop-color="#ff2e00"/><stop offset=".398" stop-color="#ffce00"/><stop offset=".417" stop-color="#ddff22"/><stop offset=".461" stop-color="#20ffdf"/><stop offset=".478" stop-color="#00d5ff"/><stop offset=".520" stop-color="#0038ff"/><stop offset=".537" stop-color="#0009ff"/><stop offset=".546" stop-color="#0000ee"/></linearGradient><linearGradient id="g89" gradientUnits="userSpaceOnUse" x1="0" y1="0" x2="0" y2="263"><stop offset=".311" stop-color="#f00000"/><stop offset=".335" stop-color="#ff2800"/><stop offset=".369" stop-color="#ff4a00"/><stop offset=".413" stop-color="#fff300"/><stop offset=".432" stop-color="#bbff44"/><stop offset=".471" stop-color="#12ffed"/><stop offset=".488" stop-color="#00c8ff"/><stop offset=".509" stop-color="#0079ff"/><stop offset=".548" stop-color="#0000fb"/></linearGradient><linearGradient id="g90" gradientUnits="userSpaceOnUse" x1="0" y1="0" x2="0" y2="263"><stop offset=".312" stop-color="#ec0000"/><stop offset=".323" stop-color="#e80000"/><stop offset=".335" stop-color="#ff0600"/><stop offset=".350" stop-color="#ff2500"/><stop offset=".405" stop-color="#fdff02"/><stop offset=".450" stop-color="#39ffc6"/><stop offset=".469" stop-color="#00e7ff"/><stop offset=".523" stop-color="#0018ff"/><stop offset=".535" stop-color="#0000fd"/><stop offset=".547" stop-color="#0000e6"/></linearGradient><linearGradient id="g91" gradientUnits="userSpaceOnUse" x1="0" y1="0" x2="0" y2="263"><stop offset=".312" stop-color="#ec0000"/><stop offset=".322" stop-color="#e30000"/><stop offset=".334" stop-color="#ff0200"/><stop offset=".349" stop-color="#ff2200"/><stop offset=".404" stop-color="#fcff03"/><stop offset=".450" stop-color="#36ffc9"/><stop offset=".469" stop-color="#00e3ff"/><stop offset=".524" stop-color="#000eff"/><stop offset=".530" stop-color="#0001ff"/><stop offset=".541" stop-color="#0000ed"/><stop offset=".552" stop-color="#0000cb"/></linearGradient><linearGradient id="g92" gradientUnits="userSpaceOnUse" x1="0" y1="0" x2="0" y2="263"><stop offset=".312" stop-color="#ea0000"/><stop offset=".322" stop-color="#e40000"/><stop offset=".335" stop-color="#f90000"/><stop offset=".349" stop-color="#ff1200"/><stop offset=".400" stop-color="#ffda00"/><stop offset=".421" stop-color="#c9ff36"/><stop offset=".466" stop-color="#07fff8"/><stop offset=".531" stop-color="#0002ff"/><stop offset=".580" stop-color="#000080"/></linearGradient><linearGradient id="g93" gradientUnits="userSpaceOnUse" x1="0" y1="0" x2="0" y2="263"><stop offset=".312" stop-color="#e70000"/><stop offset=".323" stop-color="#e50000"/><stop offset=".350" stop-color="#ff0100"/><stop offset=".415" stop-color="#fbff04"/><stop offset=".460" stop-color="#38ffc7"/><stop offset=".477" stop-color="#00eeff"/><stop offset=".520" stop-color="#004aff"/><stop offset=".538" stop-color="#0016ff"/><stop offset=".550" stop-color="#0000ec"/></linearGradient><linearGradient id="g94" gradientUnits="userSpaceOnUse" x1="0" y1="0" x2="0" y2="263"><stop offset=".312" stop-color="#e60000"/><stop offset=".351" stop-color="#f90000"/><stop offset=".356" stop-color="#ff0b00"/><stop offset=".413" stop-color="#fff200"/><stop offset=".435" stop-color="#abff54"/><stop offset=".476" stop-color="#00feff"/><stop offset=".512" stop-color="#006dff"/><stop offset=".549" stop-color="#0000f4"/></linearGradient><linearGradient id="g95" gradientUnits="userSpaceOnUse" x1="0" y1="0" x2="0" y2="263"><stop offset=".311" stop-color="#dc0000"/><stop offset=".334" stop-color="#c80000"/><stop offset=".348" stop-color="#cd0000"/><stop offset=".361" stop-color="#f50000"/><stop offset=".374" stop-color="#ff2800"/><stop offset=".408" stop-color="#ffbb00"/><stop offset=".430" stop-color="#e4ff1b"/><stop offset=".472" stop-color="#32ffcd"/><stop offset=".489" stop-color="#00e7ff"/><stop offset=".546" stop-color="#0016ff"/></linearGradient><linearGradient id="g96" gradientUnits="userSpaceOnUse" x1="0" y1="0" x2="0" y2="263"><stop offset=".309" stop-color="#d10000"/><stop offset=".320" stop-color="#cd0000"/><stop offset=".333" stop-color="#ab0000"/><stop offset=".351" stop-color="#b70000"/><stop offset=".366" stop-color="#f40000"/><stop offset=".379" stop-color="#ff2a00"/><stop offset=".421" stop-color="#ffe200"/><stop offset=".445" stop-color="#b6ff49"/><stop offset=".482" stop-color="#1affe5"/><stop offset=".493" stop-color="#00eaff"/><stop offset=".524" stop-color="#0081ff"/><stop offset=".550" stop-color="#0017ff"/></linearGradient><linearGradient id="g97" gradientUnits="userSpaceOnUse" x1="0" y1="0" x2="0" y2="263"><stop offset=".309" stop-color="#d00000"/><stop offset=".320" stop-color="#cd0000"/><stop offset=".333" stop-color="#ad0000"/><stop offset=".351" stop-color="#ba0000"/><stop offset=".366" stop-color="#f60000"/><stop offset=".379" stop-color="#ff2b00"/><stop offset=".421" stop-color="#ffe200"/><stop offset=".444" stop-color="#b6ff49"/><stop offset=".481" stop-color="#19ffe6"/><stop offset=".493" stop-color="#00e9ff"/><stop offset=".524" stop-color="#007fff"/><stop offset=".551" stop-color="#0014ff"/></linearGradient><linearGradient id="g98" gradientUnits="userSpaceOnUse" x1="0" y1="0" x2="0" y2="263"><stop offset=".309" stop-color="#cb0000"/><stop offset=".335" stop-color="#c80000"/><stop offset=".353" stop-color="#db0000"/><stop offset=".366" stop-color="#ff1100"/><stop offset=".418" stop-color="#ffec00"/><stop offset=".441" stop-color="#afff50"/><stop offset=".479" stop-color="#0efff1"/><stop offset=".492" stop-color="#00d6ff"/><stop offset=".541" stop-color="#002aff"/><stop offset=".555" stop-color="#0000f5"/></linearGradient><linearGradient id="g99" gradientUnits="userSpaceOnUse" x1="0" y1="0" x2="0" y2="263"><stop offset=".308" stop-color="#c60000"/><stop offset=".355" stop-color="#fd0000"/><stop offset=".415" stop-color="#fff500"/><stop offset=".437" stop-color="#a8ff57"/><stop offset=".475" stop-color="#06fff9"/><stop offset=".508" stop-color="#0086ff"/><stop offset=".550" stop-color="#0005ff"/></linearGradient><linearGradient id="g100" gradientUnits="userSpaceOnUse" x1="0" y1="0" x2="0" y2="263"><stop offset=".308" stop-color="#c60000"/><stop offset=".355" stop-color="#ff0300"/><stop offset=".415" stop-color="#fff600"/><stop offset=".437" stop-color="#a7ff58"/><stop offset=".475" stop-color="#05fffa"/><stop offset=".508" stop-color="#0083ff"/><stop offset=".549" stop-color="#0004ff"/></linearGradient><linearGradient id="g101" gradientUnits="userSpaceOnUse" x1="0" y1="0" x2="0" y2="263"><stop offset=".308" stop-color="#be0000"/><stop offset=".340" stop-color="#eb0000"/><stop offset=".359" stop-color="#ff1100"/><stop offset=".408" stop-color="#ffdd00"/><stop offset=".429" stop-color="#c6ff39"/><stop offset=".467" stop-color="#23ffdc"/><stop offset=".484" stop-color="#00ddff"/><stop offset=".511" stop-color="#007aff"/><stop offset=".549" stop-color="#000aff"/></linearGradient><linearGradient id="g102" gradientUnits="userSpaceOnUse" x1="0" y1="0" x2="0" y2="263"><stop offset=".308" stop-color="#ba0000"/><stop offset=".348" stop-color="#cf0000"/><stop offset=".366" stop-color="#ff1100"/><stop offset=".418" stop-color="#ffeb00"/><stop offset=".441" stop-color="#afff50"/><stop offset=".479" stop-color="#0efff1"/><stop offset=".492" stop-color="#00d7ff"/><stop offset=".555" stop-color="#0000f7"/></linearGradient><linearGradient id="g103" gradientUnits="userSpaceOnUse" x1="0" y1="0" x2="0" y2="263"><stop offset=".309" stop-color="#ba0000"/><stop offset=".333" stop-color="#ae0000"/><stop offset=".349" stop-color="#bb0000"/><stop offset=".371" stop-color="#ff1200"/><stop offset=".430" stop-color="#f3ff0c"/><stop offset=".487" stop-color="#00feff"/><stop offset=".546" stop-color="#0032ff"/></linearGradient><linearGradient id="g104" gradientUnits="userSpaceOnUse" x1="0" y1="0" x2="0" y2="263"><stop offset=".309" stop-color="#ba0000"/><stop offset=".334" stop-color="#b90000"/><stop offset=".351" stop-color="#cb0000"/><stop offset=".361" stop-color="#f10000"/><stop offset=".373" stop-color="#ff2200"/><stop offset=".409" stop-color="#ffbc00"/><stop offset=".432" stop-color="#e1ff1e"/><stop offset=".472" stop-color="#35ffca"/><stop offset=".488" stop-color="#00f1ff"/><stop offset=".551" stop-color="#0014ff"/></linearGradient><linearGradient id="g105" gradientUnits="userSpaceOnUse" x1="0" y1="0" x2="0" y2="263"><stop offset=".310" stop-color="#bb0000"/><stop offset=".336" stop-color="#cd0000"/><stop offset=".353" stop-color="#e70000"/><stop offset=".364" stop-color="#ff1200"/><stop offset=".413" stop-color="#ffdc00"/><stop offset=".435" stop-color="#c0ff3f"/><stop offset=".475" stop-color="#17ffe8"/><stop offset=".490" stop-color="#00d4ff"/><stop offset=".519" stop-color="#006cff"/><stop offset=".541" stop-color="#002bff"/><stop offset=".557" stop-color="#0000ee"/></linearGradient><linearGradient id="g106" gradientUnits="userSpaceOnUse" x1="0" y1="0" x2="0" y2="263"><stop offset=".310" stop-color="#bb0000"/><stop offset=".324" stop-color="#c50000"/><stop offset=".355" stop-color="#fa0000"/><stop offset=".415" stop-color="#fff200"/><stop offset=".437" stop-color="#aaff55"/><stop offset=".476" stop-color="#04fffb"/><stop offset=".518" stop-color="#0064ff"/><stop offset=".548" stop-color="#0016ff"/></linearGradient><linearGradient id="g107" gradientUnits="userSpaceOnUse" x1="0" y1="0" x2="0" y2="263"><stop offset=".310" stop-color="#bb0000"/><stop offset=".324" stop-color="#c50000"/><stop offset=".355" stop-color="#f50000"/><stop offset=".377" stop-color="#ff4c00"/><stop offset=".413" stop-color="#ffe500"/><stop offset=".435" stop-color="#b8ff47"/><stop offset=".475" stop-color="#10ffef"/><stop offset=".490" stop-color="#00d0ff"/><stop offset=".523" stop-color="#005aff"/><stop offset=".546" stop-color="#0022ff"/></linearGradient><linearGradient id="g108" gradientUnits="userSpaceOnUse" x1="0" y1="0" x2="0" y2="263"><stop offset=".311" stop-color="#bc0000"/><stop offset=".353" stop-color="#d30000"/><stop offset=".360" stop-color="#ec0000"/><stop offset=".371" stop-color="#ff1800"/><stop offset=".424" stop-color="#fff500"/><stop offset=".447" stop-color="#a6ff59"/><stop offset=".484" stop-color="#07fff8"/><stop offset=".549" stop-color="#0026ff"/></linearGradient><linearGradient id="g109" gradientUnits="userSpaceOnUse" x1="0" y1="0" x2="0" y2="263"><stop offset=".313" stop-color="#bd0000"/><stop offset=".334" stop-color="#9e0000"/><stop offset=".349" stop-color="#a00000"/><stop offset=".371" stop-color="#ea0000"/><stop offset=".383" stop-color="#ff1e00"/><stop offset=".423" stop-color="#ffc900"/><stop offset=".446" stop-color="#d2ff2d"/><stop offset=".484" stop-color="#2fffd0"/><stop offset=".498" stop-color="#00f5ff"/><stop offset=".546" stop-color="#0047ff"/></linearGradient><linearGradient id="g110" gradientUnits="userSpaceOnUse" x1="0" y1="0" x2="0" y2="263"><stop offset=".314" stop-color="#bc0000"/><stop offset=".358" stop-color="#f50000"/><stop offset=".368" stop-color="#ff1c00"/><stop offset=".415" stop-color="#ffe000"/><stop offset=".437" stop-color="#beff41"/><stop offset=".477" stop-color="#14ffeb"/><stop offset=".493" stop-color="#00d2ff"/><stop offset=".520" stop-color="#006fff"/><stop offset=".552" stop-color="#0015ff"/></linearGradient><linearGradient id="g111" gradientUnits="userSpaceOnUse" x1="0" y1="0" x2="0" y2="263"><stop offset=".315" stop-color="#bd0000"/><stop offset=".329" stop-color="#c70000"/><stop offset=".343" stop-color="#ee0000"/><stop offset=".358" stop-color="#ff0d00"/><stop offset=".408" stop-color="#ffd500"/><stop offset=".429" stop-color="#cfff30"/><stop offset=".471" stop-color="#1affe5"/><stop offset=".488" stop-color="#00cfff"/><stop offset=".526" stop-color="#0046ff"/><stop offset=".552" stop-color="#000aff"/></linearGradient><linearGradient id="g112" gradientUnits="userSpaceOnUse" x1="0" y1="0" x2="0" y2="263"><stop offset=".315" stop-color="#be0000"/><stop offset=".329" stop-color="#c60000"/><stop offset=".359" stop-color="#ff0500"/><stop offset=".419" stop-color="#fffb00"/><stop offset=".442" stop-color="#a1ff5e"/><stop offset=".480" stop-color="#00faff"/><stop offset=".522" stop-color="#005cff"/><stop offset=".552" stop-color="#0014ff"/></linearGradient><linearGradient id="g113" gradientUnits="userSpaceOnUse" x1="0" y1="0" x2="0" y2="263"><stop offset=".316" stop-color="#be0000"/><stop offset=".342" stop-color="#cc0000"/><stop offset=".362" stop-color="#f40000"/><stop offset=".420" stop-color="#ffec00"/><stop offset=".443" stop-color="#aeff51"/><stop offset=".481" stop-color="#0afff5"/><stop offset=".537" stop-color="#003bff"/><stop offset=".551" stop-color="#0017ff"/><stop offset=".566" stop-color="#0000e2"/></linearGradient><linearGradient id="g114" gradientUnits="userSpaceOnUse" x1="0" y1="0" x2="0" y2="263"><stop offset=".316" stop-color="#bf0000"/><stop offset=".342" stop-color="#bc0000"/><stop offset=".366" stop-color="#f20000"/><stop offset=".413" stop-color="#ffc300"/><stop offset=".436" stop-color="#d8ff27"/><stop offset=".476" stop-color="#2dffd2"/><stop offset=".491" stop-color="#00ebff"/><stop offset=".526" stop-color="#0070ff"/><stop offset=".556" stop-color="#001cff"/></linearGradient><linearGradient id="g115" gradientUnits="userSpaceOnUse" x1="0" y1="0" x2="0" y2="263"><stop offset=".317" stop-color="#c00000"/><stop offset=".342" stop-color="#c10000"/><stop offset=".362" stop-color="#e70000"/><stop offset=".383" stop-color="#ff3f00"/><stop offset=".423" stop-color="#ffee00"/><stop offset=".446" stop-color="#abff54"/><stop offset=".484" stop-color="#0afff5"/><stop offset=".523" stop-color="#007aff"/><stop offset=".554" stop-color="#0025ff"/></linearGradient><linearGradient id="g116" gradientUnits="userSpaceOnUse" x1="0" y1="0" x2="0" y2="263"><stop offset=".318" stop-color="#c30000"/><stop offset=".330" stop-color="#c20000"/><stop offset=".364" stop-color="#fe0000"/><stop offset=".417" stop-color="#ffd300"/><stop offset=".438" stop-color="#cfff30"/><stop offset=".480" stop-color="#1bffe4"/><stop offset=".498" stop-color="#00d0ff"/><stop offset=".520" stop-color="#007bff"/><stop offset=".549" stop-color="#002cff"/></linearGradient><linearGradient id="g117" gradientUnits="userSpaceOnUse" x1="0" y1="0" x2="0" y2="263"><stop offset=".320" stop-color="#c80000"/><stop offset=".367" stop-color="#fb0000"/><stop offset=".372" stop-color="#ff0900"/><stop offset=".425" stop-color="#ffe000"/><stop offset=".447" stop-color="#bfff40"/><stop offset=".486" stop-color="#16ffe9"/><stop offset=".502" stop-color="#00d5ff"/><stop offset=".529" stop-color="#0073ff"/><stop offset=".555" stop-color="#0023ff"/></linearGradient><linearGradient id="g118" gradientUnits="userSpaceOnUse" x1="0" y1="0" x2="0" y2="263"><stop offset=".322" stop-color="#cc0000"/><stop offset=".336" stop-color="#d40000"/><stop offset=".349" stop-color="#f70000"/><stop offset=".365" stop-color="#ff1500"/><stop offset=".416" stop-color="#ffe200"/><stop offset=".437" stop-color="#c1ff3e"/><stop offset=".479" stop-color="#0dfff2"/><stop offset=".496" stop-color="#00c2ff"/><stop offset=".533" stop-color="#003bff"/><stop offset=".558" stop-color="#0006ff"/></linearGradient><linearGradient id="g119" gradientUnits="userSpaceOnUse" x1="0" y1="0" x2="0" y2="263"><stop offset=".323" stop-color="#cd0000"/><stop offset=".336" stop-color="#d20000"/><stop offset=".365" stop-color="#ff0700"/><stop offset=".417" stop-color="#ffdb00"/><stop offset=".439" stop-color="#c7ff38"/><stop offset=".480" stop-color="#14ffeb"/><stop offset=".498" stop-color="#00c9ff"/><stop offset=".534" stop-color="#0045ff"/><stop offset=".560" stop-color="#0008ff"/></linearGradient><linearGradient id="g120" gradientUnits="userSpaceOnUse" x1="0" y1="0" x2="0" y2="263"><stop offset=".324" stop-color="#ce0000"/><stop offset=".336" stop-color="#d10000"/><stop offset=".365" stop-color="#f90000"/><stop offset=".373" stop-color="#ff1700"/><stop offset=".419" stop-color="#ffd400"/><stop offset=".440" stop-color="#cdff32"/><stop offset=".482" stop-color="#17ffe8"/><stop offset=".501" stop-color="#00c6ff"/><stop offset=".533" stop-color="#004cff"/><stop offset=".557" stop-color="#000cff"/><stop offset=".576" stop-color="#0000bd"/></linearGradient><linearGradient id="g121" gradientUnits="userSpaceOnUse" x1="0" y1="0" x2="0" y2="263"><stop offset=".324" stop-color="#ce0000"/><stop offset=".336" stop-color="#d00000"/><stop offset=".365" stop-color="#f70000"/><stop offset=".373" stop-color="#ff1600"/><stop offset=".419" stop-color="#ffd300"/><stop offset=".441" stop-color="#cdff32"/><stop offset=".483" stop-color="#18ffe7"/><stop offset=".501" stop-color="#00c7ff"/><stop offset=".533" stop-color="#004fff"/><stop offset=".556" stop-color="#000eff"/><stop offset=".576" stop-color="#0000c0"/></linearGradient><linearGradient id="g122" gradientUnits="userSpaceOnUse" x1="0" y1="0" x2="0" y2="263"><stop offset=".324" stop-color="#ce0000"/><stop offset=".335" stop-color="#cc0000"/><stop offset=".365" stop-color="#fc0000"/><stop offset=".429" stop-color="#f8ff07"/><stop offset=".474" stop-color="#37ffc8"/><stop offset=".491" stop-color="#00ecff"/><stop offset=".538" stop-color="#0041ff"/><stop offset=".554" stop-color="#0018ff"/><stop offset=".568" stop-color="#0000e5"/></linearGradient><linearGradient id="g123" gradientUnits="userSpaceOnUse" x1="0" y1="0" x2="0" y2="263"><stop offset=".325" stop-color="#cd0000"/><stop offset=".335" stop-color="#c50000"/><stop offset=".366" stop-color="#ff0400"/><stop offset=".423" stop-color="#fff400"/><stop offset=".446" stop-color="#a5ff5a"/><stop offset=".487" stop-color="#00f5ff"/><stop offset=".535" stop-color="#003fff"/><stop offset=".556" stop-color="#000eff"/><stop offset=".560" stop-color="#000fff"/></linearGradient><linearGradient id="g124" gradientUnits="userSpaceOnUse" x1="0" y1="0" x2="0" y2="263"><stop offset=".325" stop-color="#cc0000"/><stop offset=".333" stop-color="#ba0000"/><stop offset=".344" stop-color="#c00000"/><stop offset=".358" stop-color="#cf0000"/><stop offset=".372" stop-color="#f20000"/><stop offset=".381" stop-color="#ff1200"/><stop offset=".429" stop-color="#ffda00"/><stop offset=".451" stop-color="#c7ff38"/><stop offset=".492" stop-color="#16ffe9"/><stop offset=".509" stop-color="#00ccff"/><stop offset=".554" stop-color="#0034ff"/></linearGradient><linearGradient id="g125" gradientUnits="userSpaceOnUse" x1="0" y1="0" x2="0" y2="263"><stop offset=".326" stop-color="#cb0000"/><stop offset=".368" stop-color="#e00000"/><stop offset=".377" stop-color="#f50000"/><stop offset=".386" stop-color="#ff1600"/><stop offset=".435" stop-color="#ffe000"/><stop offset=".457" stop-color="#bdff42"/><stop offset=".496" stop-color="#14ffeb"/><stop offset=".512" stop-color="#00d3ff"/><stop offset=".560" stop-color="#0026ff"/></linearGradient><linearGradient id="g126" gradientUnits="userSpaceOnUse" x1="0" y1="0" x2="0" y2="263"><stop offset=".326" stop-color="#ca0000"/><stop offset=".343" stop-color="#e10000"/><stop offset=".376" stop-color="#e70000"/><stop offset=".381" stop-color="#f70000"/><stop offset=".401" stop-color="#ff4400"/><stop offset=".440" stop-color="#ffe800"/><stop offset=".464" stop-color="#adff52"/><stop offset=".504" stop-color="#01fffe"/><stop offset=".571" stop-color="#0000f6"/></linearGradient><linearGradient id="g127" gradientUnits="userSpaceOnUse" x1="0" y1="0" x2="0" y2="263"><stop offset=".326" stop-color="#ca0000"/><stop offset=".343" stop-color="#e20000"/><stop offset=".376" stop-color="#e70000"/><stop offset=".381" stop-color="#f70000"/><stop offset=".401" stop-color="#ff4400"/><stop offset=".440" stop-color="#ffe900"/><stop offset=".464" stop-color="#adff52"/><stop offset=".504" stop-color="#01fffe"/><stop offset=".569" stop-color="#0003ff"/></linearGradient><linearGradient id="g128" gradientUnits="userSpaceOnUse" x1="0" y1="0" x2="0" y2="263"><stop offset=".326" stop-color="#ca0000"/><stop offset=".376" stop-color="#fb0000"/><stop offset=".393" stop-color="#ff3700"/><stop offset=".424" stop-color="#ffb800"/><stop offset=".445" stop-color="#edff12"/><stop offset=".486" stop-color="#3affc5"/><stop offset=".504" stop-color="#00efff"/><stop offset=".564" stop-color="#0017ff"/></linearGradient><linearGradient id="g129" gradientUnits="userSpaceOnUse" x1="0" y1="0" x2="0" y2="263"><stop offset=".327" stop-color="#ca0000"/><stop offset=".373" stop-color="#fa0000"/><stop offset=".379" stop-color="#ff0a00"/><stop offset=".433" stop-color="#ffe600"/><stop offset=".455" stop-color="#b9ff46"/><stop offset=".494" stop-color="#12ffed"/><stop offset=".509" stop-color="#00d4ff"/><stop offset=".562" stop-color="#0022ff"/></linearGradient><linearGradient id="g130" gradientUnits="userSpaceOnUse" x1="0" y1="0" x2="0" y2="263"><stop offset=".327" stop-color="#c90000"/><stop offset=".359" stop-color="#f20000"/><stop offset=".377" stop-color="#ff0f00"/><stop offset=".437" stop-color="#f6ff09"/><stop offset=".496" stop-color="#00f7ff"/><stop offset=".537" stop-color="#005eff"/><stop offset=".570" stop-color="#0000fa"/></linearGradient><linearGradient id="g131" gradientUnits="userSpaceOnUse" x1="0" y1="0" x2="0" y2="263"><stop offset=".327" stop-color="#c90000"/><stop offset=".358" stop-color="#f00000"/><stop offset=".376" stop-color="#ff0d00"/><stop offset=".436" stop-color="#fbff04"/><stop offset=".495" stop-color="#00faff"/><stop offset=".537" stop-color="#005cff"/><stop offset=".559" stop-color="#001eff"/><stop offset=".571" stop-color="#0000f1"/></linearGradient><linearGradient id="g132" gradientUnits="userSpaceOnUse" x1="0" y1="0" x2="0" y2="263"><stop offset=".327" stop-color="#c90000"/><stop offset=".340" stop-color="#cd0000"/><stop offset=".369" stop-color="#f50000"/><stop offset=".379" stop-color="#ff1800"/><stop offset=".425" stop-color="#ffda00"/><stop offset=".447" stop-color="#c5ff3a"/><stop offset=".488" stop-color="#16ffe9"/><stop offset=".505" stop-color="#00cdff"/><stop offset=".539" stop-color="#0052ff"/><stop offset=".565" stop-color="#000dff"/></linearGradient><linearGradient id="g133" gradientUnits="userSpaceOnUse" x1="0" y1="0" x2="0" y2="263"><stop offset=".328" stop-color="#c90000"/><stop offset=".339" stop-color="#c80000"/><stop offset=".367" stop-color="#ef0000"/><stop offset=".376" stop-color="#ff0e00"/><stop offset=".422" stop-color="#ffce00"/><stop offset=".444" stop-color="#d2ff2d"/><stop offset=".486" stop-color="#1effe1"/><stop offset=".503" stop-color="#00d3ff"/><stop offset=".539" stop-color="#0052ff"/><stop offset=".569" stop-color="#0000f7"/></linearGradient><linearGradient id="g134" gradientUnits="userSpaceOnUse" x1="0" y1="0" x2="0" y2="263"><stop offset=".328" stop-color="#c90000"/><stop offset=".337" stop-color="#ba0000"/><stop offset=".363" stop-color="#de0000"/><stop offset=".371" stop-color="#fa0000"/><stop offset=".414" stop-color="#ffad00"/><stop offset=".436" stop-color="#f3ff0c"/><stop offset=".481" stop-color="#2fffd0"/><stop offset=".500" stop-color="#00dcff"/><stop offset=".537" stop-color="#0049ff"/><stop offset=".562" stop-color="#0007ff"/><stop offset=".587" stop-color="#0000a0"/></linearGradient><linearGradient id="g135" gradientUnits="userSpaceOnUse" x1="0" y1="0" x2="0" y2="263"><stop offset=".328" stop-color="#ca0000"/><stop offset=".337" stop-color="#bb0000"/><stop offset=".363" stop-color="#df0000"/><stop offset=".371" stop-color="#f90000"/><stop offset=".394" stop-color="#ff5600"/><stop offset=".434" stop-color="#fdff02"/><stop offset=".480" stop-color="#36ffc9"/><stop offset=".499" stop-color="#00e1ff"/><stop offset=".538" stop-color="#0045ff"/><stop offset=".563" stop-color="#0001ff"/><stop offset=".592" stop-color="#000088"/></linearGradient><linearGradient id="g136" gradientUnits="userSpaceOnUse" x1="0" y1="0" x2="0" y2="263"><stop offset=".329" stop-color="#ca0000"/><stop offset=".339" stop-color="#c30000"/><stop offset=".371" stop-color="#f10000"/><stop offset=".378" stop-color="#ff0b00"/><stop offset=".426" stop-color="#ffd000"/><stop offset=".447" stop-color="#d0ff2f"/><stop offset=".489" stop-color="#1dffe2"/><stop offset=".506" stop-color="#00d2ff"/><stop offset=".535" stop-color="#0066ff"/><stop offset=".571" stop-color="#0000f4"/></linearGradient><linearGradient id="g137" gradientUnits="userSpaceOnUse" x1="0" y1="0" x2="0" y2="263"><stop offset=".330" stop-color="#cb0000"/><stop offset=".354" stop-color="#d70000"/><stop offset=".371" stop-color="#ec0000"/><stop offset=".378" stop-color="#ff0100"/><stop offset=".437" stop-color="#fff500"/><stop offset=".460" stop-color="#a7ff58"/><stop offset=".499" stop-color="#00ffff"/><stop offset=".533" stop-color="#0078ff"/><stop offset=".568" stop-color="#000aff"/></linearGradient><linearGradient id="g138" gradientUnits="userSpaceOnUse" x1="0" y1="0" x2="0" y2="263"><stop offset=".332" stop-color="#d10000"/><stop offset=".381" stop-color="#ff0400"/><stop offset=".431" stop-color="#ffca00"/><stop offset=".452" stop-color="#d8ff27"/><stop offset=".494" stop-color="#25ffda"/><stop offset=".511" stop-color="#00daff"/><stop offset=".533" stop-color="#0086ff"/><stop offset=".563" stop-color="#0028ff"/></linearGradient><linearGradient id="g139" gradientUnits="userSpaceOnUse" x1="0" y1="0" x2="0" y2="263"><stop offset=".333" stop-color="#d50000"/><stop offset=".365" stop-color="#ff0100"/><stop offset=".380" stop-color="#ff1000"/><stop offset=".402" stop-color="#ff5c00"/><stop offset=".435" stop-color="#ffe700"/><stop offset=".457" stop-color="#baff45"/><stop offset=".497" stop-color="#0dfff2"/><stop offset=".513" stop-color="#00c7ff"/><stop offset=".541" stop-color="#0063ff"/><stop offset=".567" stop-color="#0017ff"/></linearGradient><linearGradient id="g140" gradientUnits="userSpaceOnUse" x1="0" y1="0" x2="0" y2="263"><stop offset=".334" stop-color="#d90000"/><stop offset=".353" stop-color="#f90000"/><stop offset=".386" stop-color="#ff2c00"/><stop offset=".440" stop-color="#f6ff09"/><stop offset=".500" stop-color="#00f6ff"/><stop offset=".543" stop-color="#004fff"/><stop offset=".566" stop-color="#000fff"/><stop offset=".578" stop-color="#0000e3"/></linearGradient><linearGradient id="g141" gradientUnits="userSpaceOnUse" x1="0" y1="0" x2="0" y2="263"><stop offset=".335" stop-color="#da0000"/><stop offset=".353" stop-color="#fb0000"/><stop offset=".387" stop-color="#ff3300"/><stop offset=".427" stop-color="#ffd000"/><stop offset=".446" stop-color="#ddff22"/><stop offset=".486" stop-color="#2fffd0"/><stop offset=".504" stop-color="#00e3ff"/><stop offset=".544" stop-color="#004aff"/><stop offset=".566" stop-color="#000dff"/><stop offset=".577" stop-color="#0000e8"/></linearGradient><linearGradient id="g142" gradientUnits="userSpaceOnUse" x1="0" y1="0" x2="0" y2="263"><stop offset=".336" stop-color="#de0000"/><stop offset=".367" stop-color="#ff0300"/><stop offset=".383" stop-color="#ff1c00"/><stop offset=".441" stop-color="#f6ff09"/><stop offset=".484" stop-color="#3dffc2"/><stop offset=".501" stop-color="#00f2ff"/><stop offset=".543" stop-color="#0055ff"/><stop offset=".566" stop-color="#0013ff"/><stop offset=".579" stop-color="#0000e1"/></linearGradient><linearGradient id="g143" gradientUnits="userSpaceOnUse" x1="0" y1="0" x2="0" y2="263"><stop offset=".338" stop-color="#e60000"/><stop offset=".361" stop-color="#e00000"/><stop offset=".377" stop-color="#f40000"/><stop offset=".386" stop-color="#ff1700"/><stop offset=".434" stop-color="#ffdf00"/><stop offset=".456" stop-color="#beff41"/><stop offset=".498" stop-color="#0cfff3"/><stop offset=".543" stop-color="#005aff"/><stop offset=".574" stop-color="#0000ff"/></linearGradient><linearGradient id="g144" gradientUnits="userSpaceOnUse" x1="0" y1="0" x2="0" y2="263"><stop offset=".341" stop-color="#ee0000"/><stop offset=".380" stop-color="#e80000"/><stop offset=".389" stop-color="#fe0000"/><stop offset=".447" stop-color="#ffea00"/><stop offset=".469" stop-color="#b3ff4c"/><stop offset=".509" stop-color="#09fff6"/><stop offset=".573" stop-color="#0013ff"/></linearGradient><linearGradient id="g145" gradientUnits="userSpaceOnUse" x1="0" y1="0" x2="0" y2="263"><stop offset=".342" stop-color="#f10000"/><stop offset=".382" stop-color="#e50000"/><stop offset=".394" stop-color="#ff0300"/><stop offset=".457" stop-color="#f8ff07"/><stop offset=".501" stop-color="#37ffc8"/><stop offset=".519" stop-color="#00e9ff"/><stop offset=".580" stop-color="#0000f7"/></linearGradient><linearGradient id="g146" gradientUnits="userSpaceOnUse" x1="0" y1="0" x2="0" y2="263"><stop offset=".342" stop-color="#f30000"/><stop offset=".382" stop-color="#ec0000"/><stop offset=".395" stop-color="#ff0b00"/><stop offset=".437" stop-color="#ffb600"/><stop offset=".458" stop-color="#edff12"/><stop offset=".503" stop-color="#28ffd7"/><stop offset=".522" stop-color="#00d8ff"/><stop offset=".567" stop-color="#0028ff"/><stop offset=".587" stop-color="#0000d3"/></linearGradient><linearGradient id="g147" gradientUnits="userSpaceOnUse" x1="0" y1="0" x2="0" y2="263"><stop offset=".343" stop-color="#f70000"/><stop offset=".383" stop-color="#ff0000"/><stop offset=".390" stop-color="#ff0a00"/><stop offset=".439" stop-color="#ffd000"/><stop offset=".460" stop-color="#d4ff2b"/><stop offset=".503" stop-color="#1cffe3"/><stop offset=".520" stop-color="#00d2ff"/><stop offset=".575" stop-color="#000cff"/></linearGradient><linearGradient id="g148" gradientUnits="userSpaceOnUse" x1="0" y1="0" x2="0" y2="263"><stop offset=".344" stop-color="#fa0000"/><stop offset=".387" stop-color="#ff1200"/><stop offset=".397" stop-color="#ff3100"/><stop offset=".441" stop-color="#ffe500"/><stop offset=".462" stop-color="#beff41"/><stop offset=".505" stop-color="#08fff7"/><stop offset=".545" stop-color="#0063ff"/><stop offset=".577" stop-color="#0000f8"/></linearGradient><linearGradient id="g149" gradientUnits="userSpaceOnUse" x1="0" y1="0" x2="0" y2="263"><stop offset=".346" stop-color="#fd0000"/><stop offset=".370" stop-color="#fe0000"/><stop offset=".388" stop-color="#ff1200"/><stop offset=".437" stop-color="#ffd400"/><stop offset=".458" stop-color="#d1ff2e"/><stop offset=".501" stop-color="#16ffe9"/><stop offset=".519" stop-color="#00cbff"/><stop offset=".558" stop-color="#0036ff"/><stop offset=".579" stop-color="#0000f4"/></linearGradient><linearGradient id="g150" gradientUnits="userSpaceOnUse" x1="0" y1="0" x2="0" y2="263"><stop offset=".347" stop-color="#fa0000"/><stop offset=".391" stop-color="#ff1700"/><stop offset=".403" stop-color="#ff3c00"/><stop offset=".449" stop-color="#fff900"/><stop offset=".471" stop-color="#a6ff59"/><stop offset=".511" stop-color="#00f7ff"/><stop offset=".549" stop-color="#0061ff"/><stop offset=".578" stop-color="#0002ff"/></linearGradient><linearGradient id="g151" gradientUnits="userSpaceOnUse" x1="0" y1="0" x2="0" y2="263"><stop offset=".347" stop-color="#fa0000"/><stop offset=".391" stop-color="#ff1800"/><stop offset=".403" stop-color="#ff3b00"/><stop offset=".449" stop-color="#fff800"/><stop offset=".471" stop-color="#a8ff57"/><stop offset=".511" stop-color="#00f7ff"/><stop offset=".549" stop-color="#0061ff"/><stop offset=".579" stop-color="#0001ff"/></linearGradient><linearGradient id="g152" gradientUnits="userSpaceOnUse" x1="0" y1="0" x2="0" y2="263"><stop offset=".347" stop-color="#f80000"/><stop offset=".361" stop-color="#ff0400"/><stop offset=".396" stop-color="#ff2a00"/><stop offset=".448" stop-color="#fffa00"/><stop offset=".470" stop-color="#a6ff59"/><stop offset=".493" stop-color="#3fffc0"/><stop offset=".512" stop-color="#00eeff"/><stop offset=".558" stop-color="#0039ff"/><stop offset=".571" stop-color="#0011ff"/><stop offset=".586" stop-color="#0000da"/></linearGradient><linearGradient id="g153" gradientUnits="userSpaceOnUse" x1="0" y1="0" x2="0" y2="263"><stop offset=".346" stop-color="#f50000"/><stop offset=".361" stop-color="#ff0200"/><stop offset=".396" stop-color="#ff3100"/><stop offset=".446" stop-color="#fffc00"/><stop offset=".468" stop-color="#a5ff5a"/><stop offset=".491" stop-color="#42ffbd"/><stop offset=".509" stop-color="#00f2ff"/><stop offset=".548" stop-color="#0056ff"/><stop offset=".577" stop-color="#0002ff"/></linearGradient><linearGradient id="g154" gradientUnits="userSpaceOnUse" x1="0" y1="0" x2="0" y2="263"><stop offset=".346" stop-color="#f40000"/><stop offset=".361" stop-color="#ff0100"/><stop offset=".396" stop-color="#ff3300"/><stop offset=".446" stop-color="#fffd00"/><stop offset=".467" stop-color="#a5ff5a"/><stop offset=".490" stop-color="#42ffbd"/><stop offset=".509" stop-color="#00f1ff"/><stop offset=".548" stop-color="#0055ff"/><stop offset=".569" stop-color="#0019ff"/><stop offset=".581" stop-color="#0000ef"/></linearGradient><linearGradient id="g155" gradientUnits="userSpaceOnUse" x1="0" y1="0" x2="0" y2="263"><stop offset=".346" stop-color="#eb0000"/><stop offset=".361" stop-color="#fe0000"/><stop offset=".392" stop-color="#ff0d00"/><stop offset=".416" stop-color="#ff6000"/><stop offset=".451" stop-color="#fff300"/><stop offset=".473" stop-color="#abff54"/><stop offset=".513" stop-color="#00ffff"/><stop offset=".540" stop-color="#0094ff"/><stop offset=".582" stop-color="#0000fc"/></linearGradient><linearGradient id="g156" gradientUnits="userSpaceOnUse" x1="0" y1="0" x2="0" y2="263"><stop offset=".345" stop-color="#e80000"/><stop offset=".392" stop-color="#ff0600"/><stop offset=".456" stop-color="#f5ff0a"/><stop offset=".500" stop-color="#39ffc6"/><stop offset=".517" stop-color="#00eeff"/><stop offset=".542" stop-color="#008cff"/><stop offset=".579" stop-color="#000fff"/></linearGradient><linearGradient id="g157" gradientUnits="userSpaceOnUse" x1="0" y1="0" x2="0" y2="263"><stop offset=".345" stop-color="#e40000"/><stop offset=".392" stop-color="#ff0100"/><stop offset=".444" stop-color="#ffd300"/><stop offset=".465" stop-color="#cfff30"/><stop offset=".509" stop-color="#12ffed"/><stop offset=".528" stop-color="#00c0ff"/><stop offset=".577" stop-color="#000fff"/><stop offset=".601" stop-color="#0000a5"/></linearGradient><linearGradient id="g158" gradientUnits="userSpaceOnUse" x1="0" y1="0" x2="0" y2="263"><stop offset=".345" stop-color="#e20000"/><stop offset=".386" stop-color="#ed0000"/><stop offset=".392" stop-color="#fe0000"/><stop offset=".448" stop-color="#ffe500"/><stop offset=".471" stop-color="#b8ff47"/><stop offset=".511" stop-color="#09fff6"/><stop offset=".574" stop-color="#0020ff"/><stop offset=".589" stop-color="#0000e1"/></linearGradient><linearGradient id="g159" gradientUnits="userSpaceOnUse" x1="0" y1="0" x2="0" y2="263"><stop offset=".345" stop-color="#e00000"/><stop offset=".370" stop-color="#e10000"/><stop offset=".385" stop-color="#ec0000"/><stop offset=".391" stop-color="#fe0000"/><stop offset=".448" stop-color="#ffea00"/><stop offset=".471" stop-color="#b2ff4d"/><stop offset=".510" stop-color="#09fff6"/><stop offset=".581" stop-color="#000aff"/></linearGradient><linearGradient id="g160" gradientUnits="userSpaceOnUse" x1="0" y1="0" x2="0" y2="263"><stop offset=".344" stop-color="#da0000"/><stop offset=".353" stop-color="#cd0000"/><stop offset=".365" stop-color="#d50000"/><stop offset=".380" stop-color="#e90000"/><stop offset=".387" stop-color="#ff0100"/><stop offset=".448" stop-color="#feff01"/><stop offset=".493" stop-color="#3affc5"/><stop offset=".511" stop-color="#00efff"/><stop offset=".553" stop-color="#004eff"/><stop offset=".583" stop-color="#0000f4"/></linearGradient><linearGradient id="g161" gradientUnits="userSpaceOnUse" x1="0" y1="0" x2="0" y2="263"><stop offset=".344" stop-color="#d50000"/><stop offset=".351" stop-color="#bc0000"/><stop offset=".376" stop-color="#eb0000"/><stop offset=".386" stop-color="#ff0e00"/><stop offset=".435" stop-color="#ffdb00"/><stop offset=".457" stop-color="#c0ff3f"/><stop offset=".501" stop-color="#05fffa"/><stop offset=".555" stop-color="#0032ff"/><stop offset=".572" stop-color="#000fff"/><stop offset=".582" stop-color="#0000f2"/></linearGradient><linearGradient id="g162" gradientUnits="userSpaceOnUse" x1="0" y1="0" x2="0" y2="263"><stop offset=".345" stop-color="#d50000"/><stop offset=".352" stop-color="#c10000"/><stop offset=".379" stop-color="#ee0000"/><stop offset=".389" stop-color="#ff1400"/><stop offset=".439" stop-color="#ffe500"/><stop offset=".462" stop-color="#b4ff4b"/><stop offset=".504" stop-color="#00feff"/><stop offset=".556" stop-color="#0036ff"/><stop offset=".583" stop-color="#0000f4"/></linearGradient><linearGradient id="g163" gradientUnits="userSpaceOnUse" x1="0" y1="0" x2="0" y2="263"><stop offset=".345" stop-color="#d40000"/><stop offset=".354" stop-color="#c80000"/><stop offset=".382" stop-color="#f20000"/><stop offset=".394" stop-color="#ff1f00"/><stop offset=".444" stop-color="#fff400"/><stop offset=".468" stop-color="#a4ff5b"/><stop offset=".508" stop-color="#00f5ff"/><stop offset=".559" stop-color="#0034ff"/><stop offset=".576" stop-color="#000cff"/><stop offset=".593" stop-color="#0000cc"/></linearGradient><linearGradient id="g164" gradientUnits="userSpaceOnUse" x1="0" y1="0" x2="0" y2="263"><stop offset=".345" stop-color="#d30000"/><stop offset=".355" stop-color="#cb0000"/><stop offset=".384" stop-color="#f40000"/><stop offset=".409" stop-color="#ff5700"/><stop offset=".447" stop-color="#fffc00"/><stop offset=".471" stop-color="#9cff63"/><stop offset=".493" stop-color="#3dffc2"/><stop offset=".510" stop-color="#00f1ff"/><stop offset=".553" stop-color="#0050ff"/><stop offset=".584" stop-color="#0000fa"/></linearGradient><linearGradient id="g165" gradientUnits="userSpaceOnUse" x1="0" y1="0" x2="0" y2="263"><stop offset=".345" stop-color="#d30000"/><stop offset=".356" stop-color="#d00000"/><stop offset=".385" stop-color="#f70000"/><stop offset=".395" stop-color="#ff1d00"/><stop offset=".443" stop-color="#ffe600"/><stop offset=".466" stop-color="#b6ff49"/><stop offset=".506" stop-color="#07fff8"/><stop offset=".551" stop-color="#005bff"/><stop offset=".585" stop-color="#0000f9"/></linearGradient><linearGradient id="g166" gradientUnits="userSpaceOnUse" x1="0" y1="0" x2="0" y2="263"><stop offset=".346" stop-color="#d30000"/><stop offset=".389" stop-color="#ff0900"/><stop offset=".413" stop-color="#ff5c00"/><stop offset=".447" stop-color="#ffec00"/><stop offset=".469" stop-color="#b4ff4b"/><stop offset=".509" stop-color="#06fff9"/><stop offset=".554" stop-color="#005aff"/><stop offset=".581" stop-color="#000fff"/></linearGradient><linearGradient id="g167" gradientUnits="userSpaceOnUse" x1="0" y1="0" x2="0" y2="263"><stop offset=".347" stop-color="#d40000"/><stop offset=".388" stop-color="#e20000"/><stop offset=".395" stop-color="#f90000"/><stop offset=".417" stop-color="#ff5000"/><stop offset=".456" stop-color="#fff700"/><stop offset=".479" stop-color="#a3ff5c"/><stop offset=".517" stop-color="#00ffff"/><stop offset=".541" stop-color="#009eff"/><stop offset=".584" stop-color="#000fff"/></linearGradient><linearGradient id="g168" gradientUnits="userSpaceOnUse" x1="0" y1="0" x2="0" y2="263"><stop offset=".347" stop-color="#d50000"/><stop offset=".372" stop-color="#cb0000"/><stop offset=".387" stop-color="#d30000"/><stop offset=".395" stop-color="#ee0000"/><stop offset=".406" stop-color="#ff1b00"/><stop offset=".460" stop-color="#fffd00"/><stop offset=".483" stop-color="#9cff63"/><stop offset=".522" stop-color="#00f3ff"/><stop offset=".548" stop-color="#008aff"/><stop offset=".580" stop-color="#001dff"/><stop offset=".602" stop-color="#0000c2"/></linearGradient><linearGradient id="g169" gradientUnits="userSpaceOnUse" x1="0" y1="0" x2="0" y2="263"><stop offset=".348" stop-color="#d50000"/><stop offset=".387" stop-color="#dd0000"/><stop offset=".395" stop-color="#f60000"/><stop offset=".418" stop-color="#ff5100"/><stop offset=".458" stop-color="#fffe00"/><stop offset=".481" stop-color="#9cff63"/><stop offset=".502" stop-color="#40ffbf"/><stop offset=".522" stop-color="#00eaff"/><stop offset=".551" stop-color="#0076ff"/><stop offset=".584" stop-color="#0009ff"/><stop offset=".614" stop-color="#000083"/></linearGradient><linearGradient id="g170" gradientUnits="userSpaceOnUse" x1="0" y1="0" x2="0" y2="263"><stop offset=".348" stop-color="#d60000"/><stop offset=".389" stop-color="#f70000"/><stop offset=".395" stop-color="#ff0d00"/><stop offset=".455" stop-color="#fdff02"/><stop offset=".499" stop-color="#3dffc2"/><stop offset=".516" stop-color="#00f2ff"/><stop offset=".550" stop-color="#006eff"/><stop offset=".584" stop-color="#000dff"/></linearGradient><linearGradient id="g171" gradientUnits="userSpaceOnUse" x1="0" y1="0" x2="0" y2="263"><stop offset=".349" stop-color="#d70000"/><stop offset=".362" stop-color="#db0000"/><stop offset=".375" stop-color="#f60000"/><stop offset=".390" stop-color="#ff1000"/><stop offset=".452" stop-color="#f8ff07"/><stop offset=".496" stop-color="#36ffc9"/><stop offset=".514" stop-color="#00ebff"/><stop offset=".557" stop-color="#0045ff"/><stop offset=".575" stop-color="#0019ff"/><stop offset=".588" stop-color="#0000ed"/></linearGradient><linearGradient id="g172" gradientUnits="userSpaceOnUse" x1="0" y1="0" x2="0" y2="263"><stop offset=".351" stop-color="#da0000"/><stop offset=".392" stop-color="#ff0b00"/><stop offset=".437" stop-color="#ffb900"/><stop offset=".457" stop-color="#eeff11"/><stop offset=".501" stop-color="#2fffd0"/><stop offset=".518" stop-color="#00e4ff"/><stop offset=".560" stop-color="#0047ff"/><stop offset=".585" stop-color="#0009ff"/></linearGradient><linearGradient id="g173" gradientUnits="userSpaceOnUse" x1="0" y1="0" x2="0" y2="263"><stop offset=".352" stop-color="#dd0000"/><stop offset=".381" stop-color="#ff0400"/><stop offset=".401" stop-color="#ff2f00"/><stop offset=".434" stop-color="#ffbb00"/><stop offset=".454" stop-color="#efff10"/><stop offset=".497" stop-color="#33ffcc"/><stop offset=".515" stop-color="#00eaff"/><stop offset=".557" stop-color="#0049ff"/><stop offset=".574" stop-color="#0017ff"/><stop offset=".588" stop-color="#0000fe"/></linearGradient><linearGradient id="g174" gradientUnits="userSpaceOnUse" x1="0" y1="0" x2="0" y2="263"><stop offset=".353" stop-color="#de0000"/><stop offset=".365" stop-color="#df0000"/><stop offset=".378" stop-color="#fe0000"/><stop offset=".398" stop-color="#ff3500"/><stop offset=".436" stop-color="#ffd700"/><stop offset=".457" stop-color="#cdff32"/><stop offset=".501" stop-color="#0efff1"/><stop offset=".519" stop-color="#00c3ff"/><stop offset=".543" stop-color="#0062ff"/><stop offset=".571" stop-color="#0008ff"/><stop offset=".585" stop-color="#0000ef"/><stop offset=".596" stop-color="#0000d2"/></linearGradient><linearGradient id="g175" gradientUnits="userSpaceOnUse" x1="0" y1="0" x2="0" y2="263"><stop offset=".354" stop-color="#df0000"/><stop offset=".364" stop-color="#d60000"/><stop offset=".376" stop-color="#fb0000"/><stop offset=".396" stop-color="#ff3900"/><stop offset=".438" stop-color="#ffeb00"/><stop offset=".459" stop-color="#b6ff49"/><stop offset=".504" stop-color="#00f4ff"/><stop offset=".546" stop-color="#0049ff"/><stop offset=".568" stop-color="#0000ff"/><stop offset=".588" stop-color="#0000de"/><stop offset=".601" stop-color="#0000b6"/></linearGradient><linearGradient id="g176" gradientUnits="userSpaceOnUse" x1="0" y1="0" x2="0" y2="263"><stop offset=".354" stop-color="#df0000"/><stop offset=".364" stop-color="#d60000"/><stop offset=".376" stop-color="#f90000"/><stop offset=".396" stop-color="#ff3500"/><stop offset=".435" stop-color="#ffde00"/><stop offset=".457" stop-color="#c4ff3b"/><stop offset=".502" stop-color="#01fffe"/><stop offset=".545" stop-color="#0050ff"/><stop offset=".567" stop-color="#0003ff"/><stop offset=".588" stop-color="#0000de"/><stop offset=".600" stop-color="#0000bb"/></linearGradient><linearGradient id="g177" gradientUnits="userSpaceOnUse" x1="0" y1="0" x2="0" y2="263"><stop offset=".354" stop-color="#de0000"/><stop offset=".363" stop-color="#d10000"/><stop offset=".391" stop-color="#ff0b00"/><stop offset=".433" stop-color="#ffb400"/><stop offset=".454" stop-color="#efff10"/><stop offset=".500" stop-color="#26ffd9"/><stop offset=".518" stop-color="#00dbff"/><stop offset=".567" stop-color="#0023ff"/><stop offset=".590" stop-color="#0000f6"/></linearGradient><linearGradient id="g178" gradientUnits="userSpaceOnUse" x1="0" y1="0" x2="0" y2="263"><stop offset=".354" stop-color="#dd0000"/><stop offset=".363" stop-color="#cc0000"/><stop offset=".394" stop-color="#f60000"/><stop offset=".402" stop-color="#ff1100"/><stop offset=".449" stop-color="#ffd800"/><stop offset=".471" stop-color="#c7ff38"/><stop offset=".513" stop-color="#11ffee"/><stop offset=".531" stop-color="#00c7ff"/><stop offset=".561" stop-color="#0057ff"/><stop offset=".588" stop-color="#000cff"/></linearGradient><linearGradient id="g179" gradientUnits="userSpaceOnUse" x1="0" y1="0" x2="0" y2="263"><stop offset=".355" stop-color="#da0000"/><stop offset=".365" stop-color="#d20000"/><stop offset=".377" stop-color="#ef0000"/><stop offset=".392" stop-color="#ff0c00"/><stop offset=".405" stop-color="#ff3800"/><stop offset=".453" stop-color="#fdff02"/><stop offset=".498" stop-color="#3affc5"/><stop offset=".516" stop-color="#00ecff"/><stop offset=".562" stop-color="#003cff"/><stop offset=".588" stop-color="#0001ff"/></linearGradient><linearGradient id="g180" gradientUnits="userSpaceOnUse" x1="0" y1="0" x2="0" y2="263"><stop offset=".355" stop-color="#d80000"/><stop offset=".366" stop-color="#d40000"/><stop offset=".378" stop-color="#f90000"/><stop offset=".393" stop-color="#ff1800"/><stop offset=".434" stop-color="#ffb600"/><stop offset=".455" stop-color="#efff10"/><stop offset=".500" stop-color="#29ffd6"/><stop offset=".519" stop-color="#00d7ff"/><stop offset=".566" stop-color="#001fff"/><stop offset=".585" stop-color="#0000f8"/><stop offset=".607" stop-color="#0000a2"/></linearGradient><linearGradient id="g181" gradientUnits="userSpaceOnUse" x1="0" y1="0" x2="0" y2="263"><stop offset=".354" stop-color="#d70000"/><stop offset=".367" stop-color="#d80000"/><stop offset=".380" stop-color="#ff0000"/><stop offset=".394" stop-color="#ff2000"/><stop offset=".441" stop-color="#ffd600"/><stop offset=".461" stop-color="#d1ff2e"/><stop offset=".506" stop-color="#0dfff2"/><stop offset=".526" stop-color="#00b9ff"/><stop offset=".571" stop-color="#0009ff"/><stop offset=".589" stop-color="#0000e7"/><stop offset=".616" stop-color="#000080"/></linearGradient><linearGradient id="g182" gradientUnits="userSpaceOnUse" x1="0" y1="0" x2="0" y2="263"><stop offset=".354" stop-color="#d40000"/><stop offset=".369" stop-color="#e20000"/><stop offset=".383" stop-color="#ff1100"/><stop offset=".400" stop-color="#ff3900"/><stop offset=".438" stop-color="#ffce00"/><stop offset=".457" stop-color="#dcff23"/><stop offset=".501" stop-color="#1fffe0"/><stop offset=".518" stop-color="#00d4ff"/><stop offset=".567" stop-color="#001eff"/><stop offset=".583" stop-color="#0002ff"/><stop offset=".593" stop-color="#0000eb"/></linearGradient><linearGradient id="g183" gradientUnits="userSpaceOnUse" x1="0" y1="0" x2="0" y2="263"><stop offset=".354" stop-color="#d10000"/><stop offset=".371" stop-color="#ea0000"/><stop offset=".387" stop-color="#ff1e00"/><stop offset=".405" stop-color="#ff4f00"/><stop offset=".432" stop-color="#ffbd00"/><stop offset=".451" stop-color="#f0ff0f"/><stop offset=".494" stop-color="#39ffc6"/><stop offset=".511" stop-color="#00eeff"/><stop offset=".550" stop-color="#0055ff"/><stop offset=".570" stop-color="#0014ff"/><stop offset=".591" stop-color="#0000f6"/></linearGradient><linearGradient id="g184" gradientUnits="userSpaceOnUse" x1="0" y1="0" x2="0" y2="263"><stop offset=".354" stop-color="#d00000"/><stop offset=".385" stop-color="#ff0c00"/><stop offset=".402" stop-color="#ff3100"/><stop offset=".440" stop-color="#ffc900"/><stop offset=".459" stop-color="#e2ff1d"/><stop offset=".502" stop-color="#29ffd6"/><stop offset=".520" stop-color="#00deff"/><stop offset=".567" stop-color="#002dff"/><stop offset=".592" stop-color="#0000f7"/></linearGradient><linearGradient id="g185" gradientUnits="userSpaceOnUse" x1="0" y1="0" x2="0" y2="263"><stop offset=".354" stop-color="#cd0000"/><stop offset=".397" stop-color="#ff0300"/><stop offset=".424" stop-color="#ff6500"/><stop offset=".461" stop-color="#fcff03"/><stop offset=".505" stop-color="#3cffc3"/><stop offset=".523" stop-color="#00efff"/><stop offset=".565" stop-color="#004cff"/><stop offset=".583" stop-color="#001eff"/><stop offset=".600" stop-color="#0000df"/></linearGradient><linearGradient id="g186" gradientUnits="userSpaceOnUse" x1="0" y1="0" x2="0" y2="263"><stop offset=".354" stop-color="#cb0000"/><stop offset=".380" stop-color="#db0000"/><stop offset=".405" stop-color="#ff0a00"/><stop offset=".450" stop-color="#ffbf00"/><stop offset=".471" stop-color="#e3ff1c"/><stop offset=".513" stop-color="#2cffd3"/><stop offset=".531" stop-color="#00e1ff"/><stop offset=".554" stop-color="#0087ff"/><stop offset=".595" stop-color="#0000fd"/></linearGradient><linearGradient id="g187" gradientUnits="userSpaceOnUse" x1="0" y1="0" x2="0" y2="263"><stop offset=".354" stop-color="#cb0000"/><stop offset=".379" stop-color="#d60000"/><stop offset=".398" stop-color="#f20000"/><stop offset=".406" stop-color="#ff0c00"/><stop offset=".452" stop-color="#ffcc00"/><stop offset=".474" stop-color="#d4ff2b"/><stop offset=".515" stop-color="#23ffdc"/><stop offset=".533" stop-color="#00d8ff"/><stop offset=".561" stop-color="#006fff"/><stop offset=".588" stop-color="#0023ff"/></linearGradient><linearGradient id="g188" gradientUnits="userSpaceOnUse" x1="0" y1="0" x2="0" y2="263"><stop offset=".354" stop-color="#c90000"/><stop offset=".363" stop-color="#b80000"/><stop offset=".374" stop-color="#bb0000"/><stop offset=".389" stop-color="#ce0000"/><stop offset=".397" stop-color="#ed0000"/><stop offset=".409" stop-color="#ff1d00"/><stop offset=".465" stop-color="#f4ff0b"/><stop offset=".509" stop-color="#37ffc8"/><stop offset=".526" stop-color="#00ecff"/><stop offset=".558" stop-color="#0075ff"/><stop offset=".592" stop-color="#0010ff"/></linearGradient><linearGradient id="g189" gradientUnits="userSpaceOnUse" x1="0" y1="0" x2="0" y2="263"><stop offset=".356" stop-color="#cc0000"/><stop offset=".381" stop-color="#d40000"/><stop offset=".396" stop-color="#e30000"/><stop offset=".402" stop-color="#f40000"/><stop offset=".410" stop-color="#ff1300"/><stop offset=".459" stop-color="#ffdc00"/><stop offset=".481" stop-color="#c1ff3e"/><stop offset=".521" stop-color="#16ffe9"/><stop offset=".537" stop-color="#00d2ff"/><stop offset=".564" stop-color="#006eff"/><stop offset=".592" stop-color="#001bff"/></linearGradient><linearGradient id="g190" gradientUnits="userSpaceOnUse" x1="0" y1="0" x2="0" y2="263"><stop offset=".359" stop-color="#d40000"/><stop offset=".372" stop-color="#db0000"/><stop offset=".386" stop-color="#f80000"/><stop offset=".401" stop-color="#ff1100"/><stop offset=".447" stop-color="#ffc600"/><stop offset=".467" stop-color="#e1ff1e"/><stop offset=".511" stop-color="#24ffdb"/><stop offset=".528" stop-color="#00d9ff"/><stop offset=".569" stop-color="#0041ff"/><stop offset=".586" stop-color="#0019ff"/><stop offset=".599" stop-color="#0000f0"/></linearGradient><linearGradient id="g191" gradientUnits="userSpaceOnUse" x1="0" y1="0" x2="0" y2="263"><stop offset=".361" stop-color="#dc0000"/><stop offset=".388" stop-color="#e20000"/><stop offset=".403" stop-color="#ec0000"/><stop offset=".408" stop-color="#fa0000"/><stop offset=".428" stop-color="#ff4500"/><stop offset=".463" stop-color="#ffd900"/><stop offset=".485" stop-color="#c5ff3a"/><stop offset=".525" stop-color="#18ffe7"/><stop offset=".542" stop-color="#00d2ff"/><stop offset=".595" stop-color="#0019ff"/></linearGradient><linearGradient id="g192" gradientUnits="userSpaceOnUse" x1="0" y1="0" x2="0" y2="263"><stop offset=".362" stop-color="#e00000"/><stop offset=".376" stop-color="#e60000"/><stop offset=".389" stop-color="#d60000"/><stop offset=".404" stop-color="#d80000"/><stop offset=".415" stop-color="#fa0000"/><stop offset=".461" stop-color="#ffb600"/><stop offset=".482" stop-color="#ebff14"/><stop offset=".524" stop-color="#36ffc9"/><stop offset=".542" stop-color="#00e9ff"/><stop offset=".601" stop-color="#0009ff"/></linearGradient><linearGradient id="g193" gradientUnits="userSpaceOnUse" x1="0" y1="0" x2="0" y2="263"><stop offset=".363" stop-color="#e10000"/><stop offset=".376" stop-color="#e80000"/><stop offset=".390" stop-color="#d90000"/><stop offset=".404" stop-color="#db0000"/><stop offset=".418" stop-color="#ff0700"/><stop offset=".465" stop-color="#ffca00"/><stop offset=".487" stop-color="#d5ff2a"/><stop offset=".528" stop-color="#24ffdb"/><stop offset=".545" stop-color="#00dbff"/><stop offset=".591" stop-color="#002eff"/><stop offset=".608" stop-color="#0000ea"/></linearGradient><linearGradient id="g194" gradientUnits="userSpaceOnUse" x1="0" y1="0" x2="0" y2="263"><stop offset=".364" stop-color="#e60000"/><stop offset=".378" stop-color="#ef0000"/><stop offset=".392" stop-color="#e40000"/><stop offset=".408" stop-color="#ee0000"/><stop offset=".416" stop-color="#ff0e00"/><stop offset=".462" stop-color="#ffcb00"/><stop offset=".484" stop-color="#d6ff29"/><stop offset=".524" stop-color="#27ffd8"/><stop offset=".542" stop-color="#00ddff"/><stop offset=".603" stop-color="#0001ff"/></linearGradient><linearGradient id="g195" gradientUnits="userSpaceOnUse" x1="0" y1="0" x2="0" y2="263"><stop offset=".366" stop-color="#eb0000"/><stop offset=".380" stop-color="#f50000"/><stop offset=".394" stop-color="#ed0000"/><stop offset=".412" stop-color="#ff0300"/><stop offset=".457" stop-color="#ffbc00"/><stop offset=".477" stop-color="#e8ff17"/><stop offset=".519" stop-color="#34ffcb"/><stop offset=".537" stop-color="#00e9ff"/><stop offset=".560" stop-color="#008fff"/><stop offset=".603" stop-color="#0003ff"/></linearGradient><linearGradient id="g196" gradientUnits="userSpaceOnUse" x1="0" y1="0" x2="0" y2="263"><stop offset=".366" stop-color="#ec0000"/><stop offset=".412" stop-color="#ff0700"/><stop offset=".460" stop-color="#ffcc00"/><stop offset=".481" stop-color="#d6ff29"/><stop offset=".522" stop-color="#26ffd9"/><stop offset=".540" stop-color="#00dbff"/><stop offset=".597" stop-color="#000fff"/><stop offset=".609" stop-color="#0000e2"/></linearGradient><linearGradient id="g197" gradientUnits="userSpaceOnUse" x1="0" y1="0" x2="0" y2="263"><stop offset=".367" stop-color="#ef0000"/><stop offset=".397" stop-color="#ff0600"/><stop offset=".415" stop-color="#ff1f00"/><stop offset=".459" stop-color="#ffd400"/><stop offset=".480" stop-color="#d2ff2d"/><stop offset=".521" stop-color="#21ffde"/><stop offset=".539" stop-color="#00d5ff"/><stop offset=".571" stop-color="#005aff"/><stop offset=".600" stop-color="#0000fd"/><stop offset=".616" stop-color="#0000be"/></linearGradient><linearGradient id="g198" gradientUnits="userSpaceOnUse" x1="0" y1="0" x2="0" y2="263"><stop offset=".369" stop-color="#f40000"/><stop offset=".419" stop-color="#ff3c00"/><stop offset=".459" stop-color="#ffde00"/><stop offset=".478" stop-color="#cdff32"/><stop offset=".520" stop-color="#1bffe4"/><stop offset=".537" stop-color="#00d0ff"/><stop offset=".561" stop-color="#0071ff"/><stop offset=".589" stop-color="#0018ff"/><stop offset=".599" stop-color="#0000fd"/><stop offset=".608" stop-color="#0000e0"/></linearGradient><linearGradient id="g199" gradientUnits="userSpaceOnUse" x1="0" y1="0" x2="0" y2="263"><stop offset=".369" stop-color="#f60000"/><stop offset=".420" stop-color="#ff4800"/><stop offset=".459" stop-color="#ffe100"/><stop offset=".478" stop-color="#cbff34"/><stop offset=".519" stop-color="#19ffe6"/><stop offset=".537" stop-color="#00ceff"/><stop offset=".583" stop-color="#0024ff"/><stop offset=".594" stop-color="#0006ff"/><stop offset=".605" stop-color="#0000ed"/></linearGradient><linearGradient id="g200" gradientUnits="userSpaceOnUse" x1="0" y1="0" x2="0" y2="263"><stop offset=".372" stop-color="#fc0000"/><stop offset=".381" stop-color="#f00000"/><stop offset=".392" stop-color="#f50000"/><stop offset=".411" stop-color="#ff1800"/><stop offset=".460" stop-color="#ffe700"/><stop offset=".482" stop-color="#b6ff49"/><stop offset=".526" stop-color="#00f9ff"/><stop offset=".566" stop-color="#0057ff"/><stop offset=".586" stop-color="#0015ff"/><stop offset=".597" stop-color="#0000f9"/><stop offset=".610" stop-color="#0000d6"/></linearGradient><linearGradient id="g201" gradientUnits="userSpaceOnUse" x1="0" y1="0" x2="0" y2="263"><stop offset=".372" stop-color="#fc0000"/><stop offset=".392" stop-color="#e90000"/><stop offset=".411" stop-color="#ff0d00"/><stop offset=".467" stop-color="#fff900"/><stop offset=".490" stop-color="#a0ff5f"/><stop offset=".514" stop-color="#38ffc7"/><stop offset=".532" stop-color="#00eaff"/><stop offset=".582" stop-color="#002dff"/><stop offset=".598" stop-color="#0000fd"/><stop offset=".608" stop-color="#0000e8"/></linearGradient><linearGradient id="g202" gradientUnits="userSpaceOnUse" x1="0" y1="0" x2="0" y2="263"><stop offset=".373" stop-color="#fd0000"/><stop offset=".391" stop-color="#d40000"/><stop offset=".412" stop-color="#f80000"/><stop offset=".457" stop-color="#ffbb00"/><stop offset=".480" stop-color="#e1ff1e"/><stop offset=".524" stop-color="#1fffe0"/><stop offset=".543" stop-color="#00d0ff"/><stop offset=".566" stop-color="#0073ff"/><stop offset=".599" stop-color="#0006ff"/><stop offset=".621" stop-color="#0000ba"/></linearGradient><linearGradient id="g203" gradientUnits="userSpaceOnUse" x1="0" y1="0" x2="0" y2="263"><stop offset=".373" stop-color="#fe0000"/><stop offset=".391" stop-color="#cb0000"/><stop offset=".414" stop-color="#f50000"/><stop offset=".462" stop-color="#ffc700"/><stop offset=".485" stop-color="#d1ff2e"/><stop offset=".528" stop-color="#15ffea"/><stop offset=".546" stop-color="#00c9ff"/><stop offset=".604" stop-color="#0000ff"/><stop offset=".617" stop-color="#0000d1"/></linearGradient><linearGradient id="g204" gradientUnits="userSpaceOnUse" x1="0" y1="0" x2="0" y2="263"><stop offset=".373" stop-color="#fe0000"/><stop offset=".391" stop-color="#c60000"/><stop offset=".415" stop-color="#f20000"/><stop offset=".465" stop-color="#ffcf00"/><stop offset=".489" stop-color="#c7ff38"/><stop offset=".531" stop-color="#0efff1"/><stop offset=".548" stop-color="#00c8ff"/><stop offset=".603" stop-color="#0007ff"/><stop offset=".614" stop-color="#0000e4"/></linearGradient><linearGradient id="g205" gradientUnits="userSpaceOnUse" x1="0" y1="0" x2="0" y2="263"><stop offset=".373" stop-color="#fe0000"/><stop offset=".392" stop-color="#d10000"/><stop offset=".417" stop-color="#ff0100"/><stop offset=".466" stop-color="#ffdb00"/><stop offset=".490" stop-color="#bbff44"/><stop offset=".532" stop-color="#06fff9"/><stop offset=".575" stop-color="#005fff"/><stop offset=".603" stop-color="#0008ff"/><stop offset=".611" stop-color="#0000f1"/></linearGradient><linearGradient id="g206" gradientUnits="userSpaceOnUse" x1="0" y1="0" x2="0" y2="263"><stop offset=".374" stop-color="#fc0000"/><stop offset=".399" stop-color="#ff0100"/><stop offset=".424" stop-color="#ff3c00"/><stop offset=".453" stop-color="#ffba00"/><stop offset=".473" stop-color="#edff12"/><stop offset=".517" stop-color="#2cffd3"/><stop offset=".535" stop-color="#00e1ff"/><stop offset=".560" stop-color="#007bff"/><stop offset=".588" stop-color="#001eff"/><stop offset=".598" stop-color="#0002ff"/><stop offset=".612" stop-color="#0000e1"/></linearGradient><linearGradient id="g207" gradientUnits="userSpaceOnUse" x1="0" y1="0" x2="0" y2="263"><stop offset=".374" stop-color="#fc0000"/><stop offset=".402" stop-color="#ff1100"/><stop offset=".427" stop-color="#ff5000"/><stop offset=".455" stop-color="#ffce00"/><stop offset=".475" stop-color="#daff25"/><stop offset=".518" stop-color="#1effe1"/><stop offset=".536" stop-color="#00d5ff"/><stop offset=".561" stop-color="#0072ff"/><stop offset=".589" stop-color="#0015ff"/><stop offset=".599" stop-color="#0000fa"/><stop offset=".609" stop-color="#0000ea"/></linearGradient><linearGradient id="g208" gradientUnits="userSpaceOnUse" x1="0" y1="0" x2="0" y2="263"><stop offset=".374" stop-color="#f90000"/><stop offset=".403" stop-color="#ff0200"/><stop offset=".422" stop-color="#ff1c00"/><stop offset=".471" stop-color="#ffea00"/><stop offset=".492" stop-color="#b7ff48"/><stop offset=".532" stop-color="#0dfff2"/><stop offset=".549" stop-color="#00c5ff"/><stop offset=".605" stop-color="#0003ff"/><stop offset=".612" stop-color="#0000ec"/></linearGradient><linearGradient id="g209" gradientUnits="userSpaceOnUse" x1="0" y1="0" x2="0" y2="263"><stop offset=".374" stop-color="#f80000"/><stop offset=".389" stop-color="#ff0800"/><stop offset=".403" stop-color="#fd0000"/><stop offset=".421" stop-color="#ff1000"/><stop offset=".464" stop-color="#ffc200"/><stop offset=".485" stop-color="#e5ff1a"/><stop offset=".526" stop-color="#31ffce"/><stop offset=".544" stop-color="#00e6ff"/><stop offset=".604" stop-color="#000dff"/><stop offset=".613" stop-color="#0000ec"/></linearGradient><linearGradient id="g210" gradientUnits="userSpaceOnUse" x1="0" y1="0" x2="0" y2="263"><stop offset=".374" stop-color="#f70000"/><stop offset=".420" stop-color="#ff0900"/><stop offset=".480" stop-color="#fffd00"/><stop offset=".502" stop-color="#a0ff5f"/><stop offset=".540" stop-color="#00fbff"/><stop offset=".606" stop-color="#0009ff"/><stop offset=".622" stop-color="#0000c6"/></linearGradient><linearGradient id="g211" gradientUnits="userSpaceOnUse" x1="0" y1="0" x2="0" y2="263"><stop offset=".374" stop-color="#f50000"/><stop offset=".421" stop-color="#ff0900"/><stop offset=".469" stop-color="#ffd500"/><stop offset=".491" stop-color="#cdff32"/><stop offset=".531" stop-color="#1fffe0"/><stop offset=".549" stop-color="#00d0ff"/><stop offset=".584" stop-color="#004bff"/><stop offset=".607" stop-color="#0000fa"/><stop offset=".637" stop-color="#000080"/></linearGradient><linearGradient id="g212" gradientUnits="userSpaceOnUse" x1="0" y1="0" x2="0" y2="263"><stop offset=".373" stop-color="#f20000"/><stop offset=".386" stop-color="#f70000"/><stop offset=".400" stop-color="#e90000"/><stop offset=".421" stop-color="#ff0a00"/><stop offset=".462" stop-color="#ffbb00"/><stop offset=".483" stop-color="#e8ff17"/><stop offset=".525" stop-color="#32ffcd"/><stop offset=".542" stop-color="#00e7ff"/><stop offset=".580" stop-color="#005eff"/><stop offset=".605" stop-color="#000bff"/><stop offset=".614" stop-color="#0000ee"/></linearGradient><linearGradient id="g213" gradientUnits="userSpaceOnUse" x1="0" y1="0" x2="0" y2="263"><stop offset=".373" stop-color="#f00000"/><stop offset=".386" stop-color="#f30000"/><stop offset=".399" stop-color="#e40000"/><stop offset=".422" stop-color="#ff1000"/><stop offset=".468" stop-color="#ffd800"/><stop offset=".490" stop-color="#c6ff39"/><stop offset=".530" stop-color="#18ffe7"/><stop offset=".547" stop-color="#00d1ff"/><stop offset=".575" stop-color="#006dff"/><stop offset=".609" stop-color="#0008ff"/></linearGradient><linearGradient id="g214" gradientUnits="userSpaceOnUse" x1="0" y1="0" x2="0" y2="263"><stop offset=".373" stop-color="#ed0000"/><stop offset=".387" stop-color="#f80000"/><stop offset=".401" stop-color="#e80000"/><stop offset=".420" stop-color="#fb0000"/><stop offset=".467" stop-color="#ffbf00"/><stop offset=".488" stop-color="#e4ff1b"/><stop offset=".529" stop-color="#33ffcc"/><stop offset=".546" stop-color="#00e9ff"/><stop offset=".611" stop-color="#0002ff"/></linearGradient><linearGradient id="g215" gradientUnits="userSpaceOnUse" x1="0" y1="0" x2="0" y2="263"><stop offset=".373" stop-color="#e70000"/><stop offset=".390" stop-color="#ff0400"/><stop offset=".422" stop-color="#e90000"/><stop offset=".434" stop-color="#ff0e00"/><stop offset=".479" stop-color="#ffc700"/><stop offset=".501" stop-color="#d5ff2a"/><stop offset=".541" stop-color="#2cffd3"/><stop offset=".556" stop-color="#00eaff"/><stop offset=".609" stop-color="#0018ff"/></linearGradient><linearGradient id="g216" gradientUnits="userSpaceOnUse" x1="0" y1="0" x2="0" y2="263"><stop offset=".372" stop-color="#e60000"/><stop offset=".388" stop-color="#f70000"/><stop offset=".419" stop-color="#e50000"/><stop offset=".424" stop-color="#f40000"/><stop offset=".433" stop-color="#ff1300"/><stop offset=".480" stop-color="#ffd700"/><stop offset=".502" stop-color="#c5ff3a"/><stop offset=".542" stop-color="#1dffe2"/><stop offset=".557" stop-color="#00deff"/><stop offset=".614" stop-color="#0000f9"/></linearGradient><linearGradient id="g217" gradientUnits="userSpaceOnUse" x1="0" y1="0" x2="0" y2="263"><stop offset=".372" stop-color="#e50000"/><stop offset=".387" stop-color="#f20000"/><stop offset=".401" stop-color="#e30000"/><stop offset=".418" stop-color="#e30000"/><stop offset=".424" stop-color="#f40000"/><stop offset=".432" stop-color="#ff1500"/><stop offset=".480" stop-color="#ffdd00"/><stop offset=".503" stop-color="#bfff40"/><stop offset=".542" stop-color="#17ffe8"/><stop offset=".557" stop-color="#00d8ff"/><stop offset=".605" stop-color="#0026ff"/></linearGradient><linearGradient id="g218" gradientUnits="userSpaceOnUse" x1="0" y1="0" x2="0" y2="263"><stop offset=".372" stop-color="#e20000"/><stop offset=".392" stop-color="#c90000"/><stop offset=".407" stop-color="#d10000"/><stop offset=".419" stop-color="#f40000"/><stop offset=".430" stop-color="#ff2000"/><stop offset=".484" stop-color="#fbff04"/><stop offset=".528" stop-color="#3cffc3"/><stop offset=".546" stop-color="#00eeff"/><stop offset=".571" stop-color="#008bff"/><stop offset=".598" stop-color="#002bff"/><stop offset=".613" stop-color="#0000f1"/></linearGradient><linearGradient id="g219" gradientUnits="userSpaceOnUse" x1="0" y1="0" x2="0" y2="263"><stop offset=".372" stop-color="#de0000"/><stop offset=".375" stop-color="#b60000"/><stop offset=".384" stop-color="#ae0000"/><stop offset=".398" stop-color="#bf0000"/><stop offset=".414" stop-color="#f40000"/><stop offset=".427" stop-color="#ff2c00"/><stop offset=".464" stop-color="#ffc900"/><stop offset=".487" stop-color="#d4ff2b"/><stop offset=".529" stop-color="#1cffe3"/><stop offset=".547" stop-color="#00d1ff"/><stop offset=".578" stop-color="#005cff"/><stop offset=".606" stop-color="#000cff"/></linearGradient><linearGradient id="g220" gradientUnits="userSpaceOnUse" x1="0" y1="0" x2="0" y2="263"><stop offset=".372" stop-color="#de0000"/><stop offset=".373" stop-color="#d00000"/><stop offset=".379" stop-color="#d20000"/><stop offset=".398" stop-color="#ff0300"/><stop offset=".415" stop-color="#ff4100"/><stop offset=".433" stop-color="#ffa000"/><stop offset=".452" stop-color="#e3ff1c"/><stop offset=".486" stop-color="#00f7ff"/><stop offset=".501" stop-color="#008fff"/><stop offset=".529" stop-color="#0000d6"/></linearGradient><linearGradient id="g221" gradientUnits="userSpaceOnUse" x1="0" y1="0" x2="0" y2="263"><stop offset=".372" stop-color="#de0000"/><stop offset=".376" stop-color="#b70000"/><stop offset=".384" stop-color="#b10000"/><stop offset=".399" stop-color="#c20000"/><stop offset=".414" stop-color="#f60000"/><stop offset=".428" stop-color="#ff2e00"/><stop offset=".464" stop-color="#ffca00"/><stop offset=".487" stop-color="#d2ff2d"/><stop offset=".529" stop-color="#1bffe4"/><stop offset=".547" stop-color="#00d0ff"/><stop offset=".570" stop-color="#0075ff"/><stop offset=".608" stop-color="#0001ff"/></linearGradient><linearGradient id="g222" gradientUnits="userSpaceOnUse" x1="0" y1="0" x2="0" y2="263"><stop offset=".372" stop-color="#dd0000"/><stop offset=".373" stop-color="#d00000"/><stop offset=".379" stop-color="#d30000"/><stop offset=".399" stop-color="#ff0500"/><stop offset=".415" stop-color="#ff4400"/><stop offset=".434" stop-color="#ffa300"/><stop offset=".452" stop-color="#e0ff1f"/><stop offset=".487" stop-color="#00f4ff"/><stop offset=".501" stop-color="#008cff"/><stop offset=".528" stop-color="#0000d8"/></linearGradient><linearGradient id="g223" gradientUnits="userSpaceOnUse" x1="0" y1="0" x2="0" y2="263"><stop offset=".372" stop-color="#dd0000"/><stop offset=".376" stop-color="#b80000"/><stop offset=".385" stop-color="#b30000"/><stop offset=".399" stop-color="#c50000"/><stop offset=".414" stop-color="#f80000"/><stop offset=".465" stop-color="#ffcc00"/><stop offset=".487" stop-color="#d1ff2e"/><stop offset=".529" stop-color="#1affe5"/><stop offset=".547" stop-color="#00cfff"/><stop offset=".578" stop-color="#005bff"/><stop offset=".607" stop-color="#0006ff"/></linearGradient><linearGradient id="g224" gradientUnits="userSpaceOnUse" x1="0" y1="0" x2="0" y2="263"><stop offset=".371" stop-color="#d60000"/><stop offset=".372" stop-color="#ca0000"/><stop offset=".394" stop-color="#fd0000"/><stop offset=".426" stop-color="#ff7600"/><stop offset=".444" stop-color="#ffd400"/><stop offset=".463" stop-color="#aeff51"/><stop offset=".480" stop-color="#3affc5"/><stop offset=".496" stop-color="#00caff"/><stop offset=".510" stop-color="#0064ff"/><stop offset=".533" stop-color="#0000bf"/></linearGradient><linearGradient id="g225" gradientUnits="userSpaceOnUse" x1="0" y1="0" x2="0" y2="263"><stop offset=".371" stop-color="#d60000"/><stop offset=".379" stop-color="#c50000"/><stop offset=".411" stop-color="#fd0000"/><stop offset=".466" stop-color="#ffe100"/><stop offset=".488" stop-color="#beff41"/><stop offset=".530" stop-color="#09fff6"/><stop offset=".577" stop-color="#004fff"/><stop offset=".610" stop-color="#0000f2"/></linearGradient><linearGradient id="g226" gradientUnits="userSpaceOnUse" x1="0" y1="0" x2="0" y2="263"><stop offset=".371" stop-color="#d00000"/><stop offset=".372" stop-color="#c40000"/><stop offset=".400" stop-color="#ff0e00"/><stop offset=".436" stop-color="#ff9700"/><stop offset=".454" stop-color="#fff600"/><stop offset=".472" stop-color="#8fff70"/><stop offset=".489" stop-color="#1dffe2"/><stop offset=".503" stop-color="#00b5ff"/><stop offset=".518" stop-color="#0049ff"/><stop offset=".533" stop-color="#0000cf"/></linearGradient><linearGradient id="g227" gradientUnits="userSpaceOnUse" x1="0" y1="0" x2="0" y2="263"><stop offset=".371" stop-color="#d00000"/><stop offset=".391" stop-color="#a70000"/><stop offset=".406" stop-color="#ab0000"/><stop offset=".427" stop-color="#fb0000"/><stop offset=".483" stop-color="#ffec00"/><stop offset=".507" stop-color="#abff54"/><stop offset=".544" stop-color="#0dfff2"/><stop offset=".556" stop-color="#00dbff"/><stop offset=".608" stop-color="#0022ff"/></linearGradient><linearGradient id="g228" gradientUnits="userSpaceOnUse" x1="0" y1="0" x2="0" y2="263"><stop offset=".371" stop-color="#cd0000"/><stop offset=".373" stop-color="#c20000"/><stop offset=".395" stop-color="#ff0200"/><stop offset=".427" stop-color="#ff7b00"/><stop offset=".445" stop-color="#ffda00"/><stop offset=".464" stop-color="#a9ff56"/><stop offset=".481" stop-color="#35ffca"/><stop offset=".496" stop-color="#00c5ff"/><stop offset=".511" stop-color="#005fff"/><stop offset=".534" stop-color="#0000bd"/></linearGradient><linearGradient id="g229" gradientUnits="userSpaceOnUse" x1="0" y1="0" x2="0" y2="263"><stop offset=".371" stop-color="#cd0000"/><stop offset=".395" stop-color="#be0000"/><stop offset=".409" stop-color="#c60000"/><stop offset=".422" stop-color="#ec0000"/><stop offset=".434" stop-color="#ff1e00"/><stop offset=".469" stop-color="#ffaf00"/><stop offset=".490" stop-color="#f1ff0e"/><stop offset=".532" stop-color="#3effc1"/><stop offset=".549" stop-color="#00f3ff"/><stop offset=".604" stop-color="#0030ff"/></linearGradient><linearGradient id="g230" gradientUnits="userSpaceOnUse" x1="0" y1="0" x2="0" y2="263"><stop offset=".372" stop-color="#cd0000"/><stop offset=".373" stop-color="#c20000"/><stop offset=".394" stop-color="#ff0400"/><stop offset=".426" stop-color="#ff7c00"/><stop offset=".444" stop-color="#ffda00"/><stop offset=".462" stop-color="#a8ff57"/><stop offset=".480" stop-color="#33ffcc"/><stop offset=".496" stop-color="#00c3ff"/><stop offset=".509" stop-color="#005dff"/><stop offset=".534" stop-color="#0000b6"/></linearGradient><linearGradient id="g231" gradientUnits="userSpaceOnUse" x1="0" y1="0" x2="0" y2="263"><stop offset=".372" stop-color="#cd0000"/><stop offset=".395" stop-color="#c20000"/><stop offset=".410" stop-color="#c90000"/><stop offset=".421" stop-color="#ea0000"/><stop offset=".433" stop-color="#ff1900"/><stop offset=".487" stop-color="#ffff00"/><stop offset=".547" stop-color="#00feff"/><stop offset=".605" stop-color="#002cff"/></linearGradient><linearGradient id="g232" gradientUnits="userSpaceOnUse" x1="0" y1="0" x2="0" y2="263"><stop offset=".372" stop-color="#cd0000"/><stop offset=".373" stop-color="#c30000"/><stop offset=".392" stop-color="#ff0a00"/><stop offset=".423" stop-color="#ff7d00"/><stop offset=".441" stop-color="#ffdc00"/><stop offset=".460" stop-color="#a7ff58"/><stop offset=".477" stop-color="#31ffce"/><stop offset=".494" stop-color="#00bfff"/><stop offset=".507" stop-color="#005bff"/><stop offset=".534" stop-color="#0000a7"/></linearGradient><linearGradient id="g233" gradientUnits="userSpaceOnUse" x1="0" y1="0" x2="0" y2="263"><stop offset=".372" stop-color="#cd0000"/><stop offset=".412" stop-color="#d10000"/><stop offset=".431" stop-color="#ff0f00"/><stop offset=".481" stop-color="#ffe200"/><stop offset=".504" stop-color="#b7ff48"/><stop offset=".545" stop-color="#0bfff4"/><stop offset=".560" stop-color="#00cbff"/><stop offset=".614" stop-color="#0002ff"/></linearGradient><linearGradient id="g234" gradientUnits="userSpaceOnUse" x1="0" y1="0" x2="0" y2="263"><stop offset=".372" stop-color="#cd0000"/><stop offset=".373" stop-color="#c40000"/><stop offset=".391" stop-color="#ff0d00"/><stop offset=".421" stop-color="#ff7e00"/><stop offset=".440" stop-color="#ffdc00"/><stop offset=".458" stop-color="#a6ff59"/><stop offset=".476" stop-color="#2fffd0"/><stop offset=".492" stop-color="#00bdff"/><stop offset=".506" stop-color="#0059ff"/><stop offset=".537" stop-color="#00008e"/></linearGradient><linearGradient id="g235" gradientUnits="userSpaceOnUse" x1="0" y1="0" x2="0" y2="263"><stop offset=".372" stop-color="#cd0000"/><stop offset=".415" stop-color="#d80000"/><stop offset=".430" stop-color="#ff0800"/><stop offset=".478" stop-color="#ffd000"/><stop offset=".501" stop-color="#caff35"/><stop offset=".543" stop-color="#13ffec"/><stop offset=".560" stop-color="#00c9ff"/><stop offset=".600" stop-color="#0037ff"/><stop offset=".621" stop-color="#0000df"/></linearGradient><linearGradient id="g236" gradientUnits="userSpaceOnUse" x1="0" y1="0" x2="0" y2="263"><stop offset=".372" stop-color="#cc0000"/><stop offset=".373" stop-color="#c50000"/><stop offset=".380" stop-color="#e70000"/><stop offset=".389" stop-color="#ff1500"/><stop offset=".417" stop-color="#ff7f00"/><stop offset=".436" stop-color="#ffde00"/><stop offset=".454" stop-color="#a5ff5a"/><stop offset=".472" stop-color="#2bffd4"/><stop offset=".488" stop-color="#00b9ff"/><stop offset=".503" stop-color="#0053ff"/><stop offset=".543" stop-color="#000080"/></linearGradient><linearGradient id="g237" gradientUnits="userSpaceOnUse" x1="0" y1="0" x2="0" y2="263"><stop offset=".372" stop-color="#cc0000"/><stop offset=".417" stop-color="#e10000"/><stop offset=".427" stop-color="#fb0000"/><stop offset=".490" stop-color="#faff05"/><stop offset=".550" stop-color="#00f8ff"/><stop offset=".604" stop-color="#0033ff"/></linearGradient><linearGradient id="g238" gradientUnits="userSpaceOnUse" x1="0" y1="0" x2="0" y2="263"><stop offset=".372" stop-color="#cc0000"/><stop offset=".373" stop-color="#c50000"/><stop offset=".380" stop-color="#e80000"/><stop offset=".389" stop-color="#ff1700"/><stop offset=".417" stop-color="#ff8200"/><stop offset=".436" stop-color="#ffe100"/><stop offset=".454" stop-color="#a2ff5d"/><stop offset=".472" stop-color="#29ffd6"/><stop offset=".489" stop-color="#00b7ff"/><stop offset=".503" stop-color="#0050ff"/><stop offset=".544" stop-color="#000080"/></linearGradient><linearGradient id="g239" gradientUnits="userSpaceOnUse" x1="0" y1="0" x2="0" y2="263"><stop offset=".372" stop-color="#cc0000"/><stop offset=".417" stop-color="#e10000"/><stop offset=".427" stop-color="#fa0000"/><stop offset=".491" stop-color="#faff05"/><stop offset=".550" stop-color="#00f9ff"/><stop offset=".606" stop-color="#002bff"/></linearGradient><linearGradient id="g240" gradientUnits="userSpaceOnUse" x1="0" y1="0" x2="0" y2="263"><stop offset=".372" stop-color="#cc0000"/><stop offset=".374" stop-color="#c60000"/><stop offset=".380" stop-color="#f10000"/><stop offset=".390" stop-color="#ff2900"/><stop offset=".418" stop-color="#ff9600"/><stop offset=".437" stop-color="#fff500"/><stop offset=".455" stop-color="#8eff71"/><stop offset=".473" stop-color="#15ffea"/><stop offset=".489" stop-color="#00a3ff"/><stop offset=".503" stop-color="#003dff"/><stop offset=".551" stop-color="#000080"/></linearGradient><linearGradient id="g241" gradientUnits="userSpaceOnUse" x1="0" y1="0" x2="0" y2="263"><stop offset=".372" stop-color="#cc0000"/><stop offset=".417" stop-color="#db0000"/><stop offset=".427" stop-color="#f80000"/><stop offset=".438" stop-color="#ff2500"/><stop offset=".492" stop-color="#f8ff07"/><stop offset=".551" stop-color="#00f8ff"/><stop offset=".606" stop-color="#002eff"/></linearGradient><linearGradient id="g242" gradientUnits="userSpaceOnUse" x1="0" y1="0" x2="0" y2="263"><stop offset=".372" stop-color="#cc0000"/><stop offset=".374" stop-color="#c60000"/><stop offset=".380" stop-color="#f20000"/><stop offset=".390" stop-color="#ff2a00"/><stop offset=".418" stop-color="#ff9700"/><stop offset=".437" stop-color="#fff600"/><stop offset=".455" stop-color="#8dff72"/><stop offset=".473" stop-color="#14ffeb"/><stop offset=".489" stop-color="#00a2ff"/><stop offset=".503" stop-color="#003cff"/><stop offset=".551" stop-color="#000080"/></linearGradient><linearGradient id="g243" gradientUnits="userSpaceOnUse" x1="0" y1="0" x2="0" y2="263"><stop offset=".372" stop-color="#cc0000"/><stop offset=".417" stop-color="#db0000"/><stop offset=".427" stop-color="#f70000"/><stop offset=".438" stop-color="#ff2500"/><stop offset=".492" stop-color="#f7ff08"/><stop offset=".551" stop-color="#00f8ff"/><stop offset=".607" stop-color="#0028ff"/></linearGradient><linearGradient id="g244" gradientUnits="userSpaceOnUse" x1="0" y1="0" x2="0" y2="263"><stop offset=".373" stop-color="#cb0000"/><stop offset=".374" stop-color="#c80000"/><stop offset=".381" stop-color="#ff0200"/><stop offset=".391" stop-color="#ff4700"/><stop offset=".420" stop-color="#ffb900"/><stop offset=".438" stop-color="#e6ff19"/><stop offset=".474" stop-color="#00f2ff"/><stop offset=".505" stop-color="#001cff"/><stop offset=".542" stop-color="#000080"/></linearGradient><linearGradient id="g245" gradientUnits="userSpaceOnUse" x1="0" y1="0" x2="0" y2="263"><stop offset=".373" stop-color="#cb0000"/><stop offset=".413" stop-color="#d00000"/><stop offset=".427" stop-color="#f30000"/><stop offset=".439" stop-color="#ff2400"/><stop offset=".472" stop-color="#ffaf00"/><stop offset=".494" stop-color="#eeff11"/><stop offset=".540" stop-color="#26ffd9"/><stop offset=".560" stop-color="#00d1ff"/><stop offset=".603" stop-color="#0031ff"/><stop offset=".634" stop-color="#0000a8"/></linearGradient><linearGradient id="g246" gradientUnits="userSpaceOnUse" x1="0" y1="0" x2="0" y2="263"><stop offset=".373" stop-color="#cb0000"/><stop offset=".374" stop-color="#c90000"/><stop offset=".381" stop-color="#ff0a00"/><stop offset=".391" stop-color="#ff5600"/><stop offset=".420" stop-color="#ffca00"/><stop offset=".439" stop-color="#d5ff2a"/><stop offset=".457" stop-color="#5affa5"/><stop offset=".475" stop-color="#00e1ff"/><stop offset=".505" stop-color="#000bff"/><stop offset=".537" stop-color="#000080"/></linearGradient><linearGradient id="g247" gradientUnits="userSpaceOnUse" x1="0" y1="0" x2="0" y2="263"><stop offset=".373" stop-color="#cb0000"/><stop offset=".412" stop-color="#cb0000"/><stop offset=".427" stop-color="#f20000"/><stop offset=".439" stop-color="#ff2300"/><stop offset=".473" stop-color="#ffb100"/><stop offset=".495" stop-color="#eeff11"/><stop offset=".538" stop-color="#32ffcd"/><stop offset=".557" stop-color="#00e2ff"/><stop offset=".618" stop-color="#0000f7"/></linearGradient><linearGradient id="g248" gradientUnits="userSpaceOnUse" x1="0" y1="0" x2="0" y2="263"><stop offset=".373" stop-color="#ca0000"/><stop offset=".374" stop-color="#ca0000"/><stop offset=".382" stop-color="#ff0e00"/><stop offset=".392" stop-color="#ff5f00"/><stop offset=".421" stop-color="#ffd400"/><stop offset=".439" stop-color="#cbff34"/><stop offset=".458" stop-color="#50ffaf"/><stop offset=".476" stop-color="#00d7ff"/><stop offset=".506" stop-color="#0001ff"/><stop offset=".533" stop-color="#000080"/></linearGradient><linearGradient id="g249" gradientUnits="userSpaceOnUse" x1="0" y1="0" x2="0" y2="263"><stop offset=".373" stop-color="#ca0000"/><stop offset=".413" stop-color="#ca0000"/><stop offset=".431" stop-color="#ff0200"/><stop offset=".480" stop-color="#ffce00"/><stop offset=".503" stop-color="#ceff31"/><stop offset=".542" stop-color="#25ffda"/><stop offset=".558" stop-color="#00e3ff"/><stop offset=".607" stop-color="#0032ff"/></linearGradient><linearGradient id="g250" gradientUnits="userSpaceOnUse" x1="0" y1="0" x2="0" y2="263"><stop offset=".373" stop-color="#ca0000"/><stop offset=".374" stop-color="#ca0000"/><stop offset=".382" stop-color="#ff0f00"/><stop offset=".392" stop-color="#ff6000"/><stop offset=".421" stop-color="#ffd500"/><stop offset=".440" stop-color="#caff35"/><stop offset=".458" stop-color="#4fffb0"/><stop offset=".476" stop-color="#00d6ff"/><stop offset=".506" stop-color="#0000ff"/><stop offset=".533" stop-color="#000080"/></linearGradient><linearGradient id="g251" gradientUnits="userSpaceOnUse" x1="0" y1="0" x2="0" y2="263"><stop offset=".373" stop-color="#ca0000"/><stop offset=".413" stop-color="#ca0000"/><stop offset=".432" stop-color="#ff0400"/><stop offset=".481" stop-color="#ffd100"/><stop offset=".503" stop-color="#cbff34"/><stop offset=".542" stop-color="#23ffdc"/><stop offset=".558" stop-color="#00e4ff"/><stop offset=".606" stop-color="#0036ff"/></linearGradient><linearGradient id="g252" gradientUnits="userSpaceOnUse" x1="0" y1="0" x2="0" y2="263"><stop offset=".374" stop-color="#c90000"/><stop offset=".383" stop-color="#ff2100"/><stop offset=".393" stop-color="#ff8300"/><stop offset=".423" stop-color="#fffe00"/><stop offset=".442" stop-color="#a1ff5e"/><stop offset=".460" stop-color="#26ffd9"/><stop offset=".478" stop-color="#00aeff"/><stop offset=".494" stop-color="#003dff"/><stop offset=".508" stop-color="#0000d7"/><stop offset=".535" stop-color="#000080"/></linearGradient><linearGradient id="g253" gradientUnits="userSpaceOnUse" x1="0" y1="0" x2="0" y2="263"><stop offset=".374" stop-color="#c90000"/><stop offset=".388" stop-color="#d40000"/><stop offset=".402" stop-color="#c50000"/><stop offset=".417" stop-color="#ca0000"/><stop offset=".436" stop-color="#ff1100"/><stop offset=".490" stop-color="#fff300"/><stop offset=".512" stop-color="#a9ff56"/><stop offset=".549" stop-color="#0ffff0"/><stop offset=".560" stop-color="#00e1ff"/><stop offset=".611" stop-color="#002bff"/></linearGradient><linearGradient id="g254" gradientUnits="userSpaceOnUse" x1="0" y1="0" x2="0" y2="263"><stop offset=".374" stop-color="#c80000"/><stop offset=".384" stop-color="#ff2500"/><stop offset=".396" stop-color="#ff8e00"/><stop offset=".409" stop-color="#ffc600"/><stop offset=".427" stop-color="#eeff11"/><stop offset=".446" stop-color="#90ff6f"/><stop offset=".464" stop-color="#15ffea"/><stop offset=".481" stop-color="#009fff"/><stop offset=".497" stop-color="#002fff"/><stop offset=".511" stop-color="#0000c9"/><stop offset=".536" stop-color="#000080"/></linearGradient><linearGradient id="g255" gradientUnits="userSpaceOnUse" x1="0" y1="0" x2="0" y2="263"><stop offset=".374" stop-color="#c80000"/><stop offset=".389" stop-color="#d90000"/><stop offset=".419" stop-color="#de0000"/><stop offset=".426" stop-color="#f60000"/><stop offset=".449" stop-color="#ff5100"/><stop offset=".489" stop-color="#fffd00"/><stop offset=".548" stop-color="#04fffb"/><stop offset=".611" stop-color="#0025ff"/></linearGradient><linearGradient id="g256" gradientUnits="userSpaceOnUse" x1="0" y1="0" x2="0" y2="263"><stop offset=".374" stop-color="#c70000"/><stop offset=".385" stop-color="#ff2a00"/><stop offset=".399" stop-color="#ff9b00"/><stop offset=".414" stop-color="#ffdc00"/><stop offset=".432" stop-color="#d8ff27"/><stop offset=".451" stop-color="#7aff85"/><stop offset=".469" stop-color="#00fdff"/><stop offset=".501" stop-color="#001eff"/><stop offset=".516" stop-color="#0000b6"/><stop offset=".536" stop-color="#000080"/></linearGradient><linearGradient id="g257" gradientUnits="userSpaceOnUse" x1="0" y1="0" x2="0" y2="263"><stop offset=".374" stop-color="#c70000"/><stop offset=".421" stop-color="#f90000"/><stop offset=".438" stop-color="#ff3800"/><stop offset=".469" stop-color="#ffb500"/><stop offset=".489" stop-color="#f3ff0c"/><stop offset=".531" stop-color="#3cffc3"/><stop offset=".551" stop-color="#00e7ff"/><stop offset=".578" stop-color="#007bff"/><stop offset=".609" stop-color="#0014ff"/><stop offset=".639" stop-color="#000092"/></linearGradient><linearGradient id="g258" gradientUnits="userSpaceOnUse" x1="0" y1="0" x2="0" y2="263"><stop offset=".374" stop-color="#c60000"/><stop offset=".386" stop-color="#ff2c00"/><stop offset=".401" stop-color="#ffa100"/><stop offset=".416" stop-color="#ffe700"/><stop offset=".435" stop-color="#ceff31"/><stop offset=".472" stop-color="#00f3ff"/><stop offset=".503" stop-color="#0017ff"/><stop offset=".518" stop-color="#0000ad"/><stop offset=".536" stop-color="#000080"/></linearGradient><linearGradient id="g259" gradientUnits="userSpaceOnUse" x1="0" y1="0" x2="0" y2="263"><stop offset=".374" stop-color="#c60000"/><stop offset=".422" stop-color="#ff0700"/><stop offset=".469" stop-color="#ffbc00"/><stop offset=".488" stop-color="#edff12"/><stop offset=".530" stop-color="#37ffc8"/><stop offset=".549" stop-color="#00e7ff"/><stop offset=".574" stop-color="#0083ff"/><stop offset=".606" stop-color="#0021ff"/><stop offset=".624" stop-color="#0000d7"/></linearGradient><linearGradient id="g260" gradientUnits="userSpaceOnUse" x1="0" y1="0" x2="0" y2="263"><stop offset=".374" stop-color="#c60000"/><stop offset=".386" stop-color="#ff2200"/><stop offset=".399" stop-color="#ff8c00"/><stop offset=".414" stop-color="#ffcc00"/><stop offset=".432" stop-color="#e9ff16"/><stop offset=".451" stop-color="#8bff74"/><stop offset=".469" stop-color="#0ffff0"/><stop offset=".486" stop-color="#009bff"/><stop offset=".501" stop-color="#002eff"/><stop offset=".516" stop-color="#0000c6"/><stop offset=".537" stop-color="#000080"/></linearGradient><linearGradient id="g261" gradientUnits="userSpaceOnUse" x1="0" y1="0" x2="0" y2="263"><stop offset=".374" stop-color="#c60000"/><stop offset=".422" stop-color="#ff0300"/><stop offset=".446" stop-color="#ff5400"/><stop offset=".480" stop-color="#ffe500"/><stop offset=".502" stop-color="#bbff44"/><stop offset=".541" stop-color="#13ffec"/><stop offset=".556" stop-color="#00d3ff"/><stop offset=".583" stop-color="#0072ff"/><stop offset=".609" stop-color="#0024ff"/></linearGradient><linearGradient id="g262" gradientUnits="userSpaceOnUse" x1="0" y1="0" x2="0" y2="263"><stop offset=".375" stop-color="#c40000"/><stop offset=".376" stop-color="#c20000"/><stop offset=".384" stop-color="#ff0500"/><stop offset=".395" stop-color="#ff5600"/><stop offset=".426" stop-color="#ffd000"/><stop offset=".444" stop-color="#d0ff2f"/><stop offset=".463" stop-color="#54ffab"/><stop offset=".480" stop-color="#00ddff"/><stop offset=".510" stop-color="#0008ff"/><stop offset=".537" stop-color="#000080"/></linearGradient><linearGradient id="g263" gradientUnits="userSpaceOnUse" x1="0" y1="0" x2="0" y2="263"><stop offset=".375" stop-color="#c40000"/><stop offset=".393" stop-color="#e30000"/><stop offset=".429" stop-color="#ff0000"/><stop offset=".481" stop-color="#ffce00"/><stop offset=".503" stop-color="#cfff30"/><stop offset=".542" stop-color="#25ffda"/><stop offset=".558" stop-color="#00e2ff"/><stop offset=".612" stop-color="#001eff"/></linearGradient><linearGradient id="g264" gradientUnits="userSpaceOnUse" x1="0" y1="0" x2="0" y2="263"><stop offset=".375" stop-color="#c40000"/><stop offset=".376" stop-color="#c10000"/><stop offset=".384" stop-color="#ff0100"/><stop offset=".394" stop-color="#ff4d00"/><stop offset=".425" stop-color="#ffc400"/><stop offset=".443" stop-color="#dbff24"/><stop offset=".461" stop-color="#60ff9f"/><stop offset=".479" stop-color="#00e8ff"/><stop offset=".509" stop-color="#0012ff"/><stop offset=".539" stop-color="#000080"/></linearGradient><linearGradient id="g265" gradientUnits="userSpaceOnUse" x1="0" y1="0" x2="0" y2="263"><stop offset=".375" stop-color="#c40000"/><stop offset=".393" stop-color="#e30000"/><stop offset=".428" stop-color="#fa0000"/><stop offset=".445" stop-color="#ff3600"/><stop offset=".477" stop-color="#ffbd00"/><stop offset=".499" stop-color="#e2ff1d"/><stop offset=".540" stop-color="#34ffcb"/><stop offset=".557" stop-color="#00ecff"/><stop offset=".608" stop-color="#0033ff"/></linearGradient><linearGradient id="g266" gradientUnits="userSpaceOnUse" x1="0" y1="0" x2="0" y2="263"><stop offset=".375" stop-color="#c20000"/><stop offset=".376" stop-color="#bd0000"/><stop offset=".385" stop-color="#f20000"/><stop offset=".397" stop-color="#ff3600"/><stop offset=".428" stop-color="#ffb100"/><stop offset=".446" stop-color="#efff10"/><stop offset=".482" stop-color="#00fdff"/><stop offset=".512" stop-color="#0028ff"/><stop offset=".550" stop-color="#000080"/></linearGradient><linearGradient id="g267" gradientUnits="userSpaceOnUse" x1="0" y1="0" x2="0" y2="263"><stop offset=".375" stop-color="#c20000"/><stop offset=".425" stop-color="#f70000"/><stop offset=".431" stop-color="#ff0a00"/><stop offset=".474" stop-color="#ffba00"/><stop offset=".496" stop-color="#e7ff18"/><stop offset=".537" stop-color="#34ffcb"/><stop offset=".555" stop-color="#00e9ff"/><stop offset=".577" stop-color="#0095ff"/><stop offset=".606" stop-color="#0039ff"/></linearGradient><linearGradient id="g268" gradientUnits="userSpaceOnUse" x1="0" y1="0" x2="0" y2="263"><stop offset=".375" stop-color="#c20000"/><stop offset=".376" stop-color="#bb0000"/><stop offset=".386" stop-color="#e80000"/><stop offset=".398" stop-color="#ff2600"/><stop offset=".430" stop-color="#ffa300"/><stop offset=".448" stop-color="#fdff02"/><stop offset=".484" stop-color="#0dfff2"/><stop offset=".500" stop-color="#009dff"/><stop offset=".514" stop-color="#0037ff"/><stop offset=".558" stop-color="#000080"/></linearGradient><linearGradient id="g269" gradientUnits="userSpaceOnUse" x1="0" y1="0" x2="0" y2="263"><stop offset=".375" stop-color="#c20000"/><stop offset=".423" stop-color="#f50000"/><stop offset=".429" stop-color="#ff0a00"/><stop offset=".472" stop-color="#ffb900"/><stop offset=".494" stop-color="#e8ff17"/><stop offset=".539" stop-color="#24ffdb"/><stop offset=".558" stop-color="#00d3ff"/><stop offset=".581" stop-color="#0077ff"/><stop offset=".602" stop-color="#0038ff"/><stop offset=".625" stop-color="#0000d7"/></linearGradient><linearGradient id="g270" gradientUnits="userSpaceOnUse" x1="0" y1="0" x2="0" y2="263"><stop offset=".375" stop-color="#c10000"/><stop offset=".377" stop-color="#ba0000"/><stop offset=".386" stop-color="#e40000"/><stop offset=".399" stop-color="#ff2000"/><stop offset=".431" stop-color="#ff9d00"/><stop offset=".449" stop-color="#fffc00"/><stop offset=".468" stop-color="#86ff79"/><stop offset=".485" stop-color="#13ffec"/><stop offset=".501" stop-color="#00a4ff"/><stop offset=".515" stop-color="#003dff"/><stop offset=".555" stop-color="#000080"/></linearGradient><linearGradient id="g271" gradientUnits="userSpaceOnUse" x1="0" y1="0" x2="0" y2="263"><stop offset=".375" stop-color="#c10000"/><stop offset=".388" stop-color="#c70000"/><stop offset=".422" stop-color="#f40000"/><stop offset=".429" stop-color="#ff0a00"/><stop offset=".471" stop-color="#ffb800"/><stop offset=".493" stop-color="#e8ff17"/><stop offset=".539" stop-color="#1effe1"/><stop offset=".559" stop-color="#00caff"/><stop offset=".583" stop-color="#006cff"/><stop offset=".603" stop-color="#002eff"/><stop offset=".631" stop-color="#0000ba"/></linearGradient><linearGradient id="g272" gradientUnits="userSpaceOnUse" x1="0" y1="0" x2="0" y2="263"><stop offset=".375" stop-color="#c10000"/><stop offset=".377" stop-color="#b90000"/><stop offset=".386" stop-color="#e20000"/><stop offset=".399" stop-color="#ff1c00"/><stop offset=".432" stop-color="#ff9a00"/><stop offset=".450" stop-color="#fff800"/><stop offset=".468" stop-color="#8aff75"/><stop offset=".485" stop-color="#16ffe9"/><stop offset=".501" stop-color="#00a8ff"/><stop offset=".515" stop-color="#0041ff"/><stop offset=".553" stop-color="#000080"/></linearGradient><linearGradient id="g273" gradientUnits="userSpaceOnUse" x1="0" y1="0" x2="0" y2="263"><stop offset=".375" stop-color="#c10000"/><stop offset=".388" stop-color="#c40000"/><stop offset=".422" stop-color="#f40000"/><stop offset=".428" stop-color="#ff0a00"/><stop offset=".471" stop-color="#ffb700"/><stop offset=".492" stop-color="#eaff15"/><stop offset=".538" stop-color="#22ffdd"/><stop offset=".557" stop-color="#00d0ff"/><stop offset=".581" stop-color="#0071ff"/><stop offset=".602" stop-color="#0034ff"/><stop offset=".625" stop-color="#0000d7"/></linearGradient><linearGradient id="g274" gradientUnits="userSpaceOnUse" x1="0" y1="0" x2="0" y2="263"><stop offset=".375" stop-color="#c00000"/><stop offset=".377" stop-color="#b70000"/><stop offset=".396" stop-color="#fd0000"/><stop offset=".427" stop-color="#ff7300"/><stop offset=".445" stop-color="#ffd100"/><stop offset=".464" stop-color="#b1ff4e"/><stop offset=".481" stop-color="#3cffc3"/><stop offset=".498" stop-color="#00c9ff"/><stop offset=".511" stop-color="#0065ff"/><stop offset=".545" stop-color="#000090"/></linearGradient><linearGradient id="g275" gradientUnits="userSpaceOnUse" x1="0" y1="0" x2="0" y2="263"><stop offset=".375" stop-color="#c00000"/><stop offset=".400" stop-color="#cc0000"/><stop offset=".417" stop-color="#e10000"/><stop offset=".424" stop-color="#f70000"/><stop offset=".446" stop-color="#ff4d00"/><stop offset=".484" stop-color="#fff000"/><stop offset=".507" stop-color="#abff54"/><stop offset=".546" stop-color="#05fffa"/><stop offset=".617" stop-color="#0004ff"/></linearGradient><linearGradient id="g276" gradientUnits="userSpaceOnUse" x1="0" y1="0" x2="0" y2="263"><stop offset=".376" stop-color="#bf0000"/><stop offset=".377" stop-color="#b40000"/><stop offset=".405" stop-color="#ff0b00"/><stop offset=".423" stop-color="#ff4f00"/><stop offset=".441" stop-color="#ffae00"/><stop offset=".460" stop-color="#d5ff2a"/><stop offset=".478" stop-color="#5dffa2"/><stop offset=".494" stop-color="#00eaff"/><stop offset=".508" stop-color="#0086ff"/><stop offset=".535" stop-color="#0000d0"/></linearGradient><linearGradient id="g277" gradientUnits="userSpaceOnUse" x1="0" y1="0" x2="0" y2="263"><stop offset=".376" stop-color="#bf0000"/><stop offset=".386" stop-color="#b90000"/><stop offset=".413" stop-color="#d10000"/><stop offset=".427" stop-color="#fe0000"/><stop offset=".476" stop-color="#ffca00"/><stop offset=".498" stop-color="#d4ff2b"/><stop offset=".538" stop-color="#25ffda"/><stop offset=".556" stop-color="#00ddff"/><stop offset=".583" stop-color="#0077ff"/><stop offset=".613" stop-color="#001dff"/></linearGradient><linearGradient id="g278" gradientUnits="userSpaceOnUse" x1="0" y1="0" x2="0" y2="263"><stop offset=".376" stop-color="#bf0000"/><stop offset=".377" stop-color="#b20000"/><stop offset=".383" stop-color="#ba0000"/><stop offset=".403" stop-color="#f10000"/><stop offset=".419" stop-color="#ff3000"/><stop offset=".438" stop-color="#ff8f00"/><stop offset=".456" stop-color="#f4ff0b"/><stop offset=".491" stop-color="#08fff7"/><stop offset=".505" stop-color="#00a0ff"/><stop offset=".532" stop-color="#0000ec"/></linearGradient><linearGradient id="g279" gradientUnits="userSpaceOnUse" x1="0" y1="0" x2="0" y2="263"><stop offset=".376" stop-color="#bf0000"/><stop offset=".397" stop-color="#b60000"/><stop offset=".412" stop-color="#c60000"/><stop offset=".432" stop-color="#ff1100"/><stop offset=".487" stop-color="#fff800"/><stop offset=".510" stop-color="#a0ff5f"/><stop offset=".548" stop-color="#00ffff"/><stop offset=".571" stop-color="#00a2ff"/><stop offset=".621" stop-color="#0000f7"/></linearGradient><linearGradient id="g280" gradientUnits="userSpaceOnUse" x1="0" y1="0" x2="0" y2="263"><stop offset=".376" stop-color="#bf0000"/><stop offset=".377" stop-color="#b20000"/><stop offset=".383" stop-color="#b90000"/><stop offset=".403" stop-color="#ef0000"/><stop offset=".419" stop-color="#ff2e00"/><stop offset=".438" stop-color="#ff8e00"/><stop offset=".456" stop-color="#f6ff09"/><stop offset=".491" stop-color="#0afff5"/><stop offset=".505" stop-color="#00a1ff"/><stop offset=".532" stop-color="#0000ee"/></linearGradient><linearGradient id="g281" gradientUnits="userSpaceOnUse" x1="0" y1="0" x2="0" y2="263"><stop offset=".376" stop-color="#bf0000"/><stop offset=".397" stop-color="#b50000"/><stop offset=".412" stop-color="#c50000"/><stop offset=".432" stop-color="#ff1200"/><stop offset=".487" stop-color="#fffb00"/><stop offset=".511" stop-color="#9dff62"/><stop offset=".548" stop-color="#00fdff"/><stop offset=".572" stop-color="#00a1ff"/><stop offset=".617" stop-color="#000bff"/></linearGradient><linearGradient id="g282" gradientUnits="userSpaceOnUse" x1="0" y1="0" x2="0" y2="263"><stop offset=".376" stop-color="#be0000"/><stop offset=".377" stop-color="#b10000"/><stop offset=".385" stop-color="#c00000"/><stop offset=".408" stop-color="#ff0300"/><stop offset=".427" stop-color="#ff4d00"/><stop offset=".445" stop-color="#ffab00"/><stop offset=".463" stop-color="#d8ff27"/><stop offset=".481" stop-color="#61ff9e"/><stop offset=".497" stop-color="#00efff"/><stop offset=".511" stop-color="#008aff"/><stop offset=".538" stop-color="#0000d5"/></linearGradient><linearGradient id="g283" gradientUnits="userSpaceOnUse" x1="0" y1="0" x2="0" y2="263"><stop offset=".376" stop-color="#be0000"/><stop offset=".416" stop-color="#d10000"/><stop offset=".429" stop-color="#f80000"/><stop offset=".475" stop-color="#ffbb00"/><stop offset=".497" stop-color="#e5ff1a"/><stop offset=".539" stop-color="#32ffcd"/><stop offset=".557" stop-color="#00e5ff"/><stop offset=".616" stop-color="#0015ff"/></linearGradient><linearGradient id="g284" gradientUnits="userSpaceOnUse" x1="0" y1="0" x2="0" y2="263"><stop offset=".376" stop-color="#bd0000"/><stop offset=".378" stop-color="#b10000"/><stop offset=".401" stop-color="#ed0000"/><stop offset=".416" stop-color="#ff2200"/><stop offset=".434" stop-color="#ff6c00"/><stop offset=".452" stop-color="#ffca00"/><stop offset=".471" stop-color="#b8ff47"/><stop offset=".488" stop-color="#45ffba"/><stop offset=".503" stop-color="#00d8ff"/><stop offset=".518" stop-color="#0070ff"/><stop offset=".539" stop-color="#0000d8"/></linearGradient><linearGradient id="g285" gradientUnits="userSpaceOnUse" x1="0" y1="0" x2="0" y2="263"><stop offset=".376" stop-color="#bd0000"/><stop offset=".422" stop-color="#de0000"/><stop offset=".436" stop-color="#ff0c00"/><stop offset=".483" stop-color="#ffd000"/><stop offset=".506" stop-color="#cdff32"/><stop offset=".545" stop-color="#24ffdb"/><stop offset=".560" stop-color="#00e4ff"/><stop offset=".608" stop-color="#0041ff"/></linearGradient><linearGradient id="g286" gradientUnits="userSpaceOnUse" x1="0" y1="0" x2="0" y2="263"><stop offset=".376" stop-color="#bc0000"/><stop offset=".378" stop-color="#b00000"/><stop offset=".402" stop-color="#f20000"/><stop offset=".418" stop-color="#ff2a00"/><stop offset=".436" stop-color="#ff7400"/><stop offset=".454" stop-color="#ffd200"/><stop offset=".473" stop-color="#b0ff4f"/><stop offset=".490" stop-color="#3effc1"/><stop offset=".505" stop-color="#00d2ff"/><stop offset=".519" stop-color="#006aff"/><stop offset=".539" stop-color="#0000da"/></linearGradient><linearGradient id="g287" gradientUnits="userSpaceOnUse" x1="0" y1="0" x2="0" y2="263"><stop offset=".376" stop-color="#bc0000"/><stop offset=".423" stop-color="#e00000"/><stop offset=".435" stop-color="#ff0400"/><stop offset=".480" stop-color="#ffbf00"/><stop offset=".502" stop-color="#e0ff1f"/><stop offset=".542" stop-color="#33ffcc"/><stop offset=".559" stop-color="#00ecff"/><stop offset=".611" stop-color="#0031ff"/></linearGradient><linearGradient id="g288" gradientUnits="userSpaceOnUse" x1="0" y1="0" x2="0" y2="263"><stop offset=".377" stop-color="#bb0000"/><stop offset=".378" stop-color="#af0000"/><stop offset=".399" stop-color="#e70000"/><stop offset=".411" stop-color="#ff1400"/><stop offset=".430" stop-color="#ff5e00"/><stop offset=".449" stop-color="#ffbc00"/><stop offset=".467" stop-color="#c6ff39"/><stop offset=".484" stop-color="#51ffae"/><stop offset=".500" stop-color="#00e0ff"/><stop offset=".514" stop-color="#007bff"/><stop offset=".539" stop-color="#0000d0"/></linearGradient><linearGradient id="g289" gradientUnits="userSpaceOnUse" x1="0" y1="0" x2="0" y2="263"><stop offset=".377" stop-color="#bb0000"/><stop offset=".425" stop-color="#ff0300"/><stop offset=".479" stop-color="#ffdb00"/><stop offset=".501" stop-color="#c5ff3a"/><stop offset=".541" stop-color="#18ffe7"/><stop offset=".558" stop-color="#00d2ff"/><stop offset=".585" stop-color="#006eff"/><stop offset=".612" stop-color="#0026ff"/></linearGradient><linearGradient id="g290" gradientUnits="userSpaceOnUse" x1="0" y1="0" x2="0" y2="263"><stop offset=".377" stop-color="#bb0000"/><stop offset=".378" stop-color="#af0000"/><stop offset=".399" stop-color="#e80000"/><stop offset=".411" stop-color="#ff1400"/><stop offset=".430" stop-color="#ff5e00"/><stop offset=".448" stop-color="#ffbc00"/><stop offset=".467" stop-color="#c6ff39"/><stop offset=".484" stop-color="#51ffae"/><stop offset=".500" stop-color="#00e0ff"/><stop offset=".514" stop-color="#007bff"/><stop offset=".539" stop-color="#0000cf"/></linearGradient><linearGradient id="g291" gradientUnits="userSpaceOnUse" x1="0" y1="0" x2="0" y2="263"><stop offset=".377" stop-color="#bb0000"/><stop offset=".425" stop-color="#ff0200"/><stop offset=".479" stop-color="#ffda00"/><stop offset=".501" stop-color="#c6ff39"/><stop offset=".541" stop-color="#19ffe6"/><stop offset=".558" stop-color="#00d3ff"/><stop offset=".585" stop-color="#006eff"/><stop offset=".610" stop-color="#002eff"/></linearGradient><linearGradient id="g292" gradientUnits="userSpaceOnUse" x1="0" y1="0" x2="0" y2="263"><stop offset=".378" stop-color="#bb0000"/><stop offset=".379" stop-color="#b20000"/><stop offset=".398" stop-color="#f60000"/><stop offset=".409" stop-color="#ff2000"/><stop offset=".427" stop-color="#ff6800"/><stop offset=".446" stop-color="#ffc600"/><stop offset=".464" stop-color="#bcff43"/><stop offset=".482" stop-color="#45ffba"/><stop offset=".498" stop-color="#00d3ff"/><stop offset=".512" stop-color="#006fff"/><stop offset=".555" stop-color="#000080"/></linearGradient><linearGradient id="g293" gradientUnits="userSpaceOnUse" x1="0" y1="0" x2="0" y2="263"><stop offset=".378" stop-color="#bb0000"/><stop offset=".421" stop-color="#e50000"/><stop offset=".431" stop-color="#ff0100"/><stop offset=".475" stop-color="#ffb400"/><stop offset=".496" stop-color="#f0ff0f"/><stop offset=".537" stop-color="#3bffc4"/><stop offset=".555" stop-color="#00f0ff"/><stop offset=".577" stop-color="#009aff"/><stop offset=".613" stop-color="#002bff"/></linearGradient><linearGradient id="g294" gradientUnits="userSpaceOnUse" x1="0" y1="0" x2="0" y2="263"><stop offset=".378" stop-color="#bb0000"/><stop offset=".379" stop-color="#b20000"/><stop offset=".397" stop-color="#f70000"/><stop offset=".409" stop-color="#ff2100"/><stop offset=".427" stop-color="#ff6800"/><stop offset=".446" stop-color="#ffc700"/><stop offset=".464" stop-color="#bcff43"/><stop offset=".482" stop-color="#44ffbb"/><stop offset=".498" stop-color="#00d2ff"/><stop offset=".512" stop-color="#006eff"/><stop offset=".554" stop-color="#000080"/></linearGradient><linearGradient id="g295" gradientUnits="userSpaceOnUse" x1="0" y1="0" x2="0" y2="263"><stop offset=".378" stop-color="#bb0000"/><stop offset=".421" stop-color="#e40000"/><stop offset=".431" stop-color="#ff0000"/><stop offset=".474" stop-color="#ffb000"/><stop offset=".495" stop-color="#f3ff0c"/><stop offset=".537" stop-color="#3effc1"/><stop offset=".555" stop-color="#00f3ff"/><stop offset=".584" stop-color="#0083ff"/><stop offset=".611" stop-color="#0035ff"/></linearGradient><linearGradient id="g296" gradientUnits="userSpaceOnUse" x1="0" y1="0" x2="0" y2="263"><stop offset=".380" stop-color="#be0000"/><stop offset=".381" stop-color="#b80000"/><stop offset=".389" stop-color="#e10000"/><stop offset=".399" stop-color="#ff1900"/><stop offset=".429" stop-color="#ff8c00"/><stop offset=".447" stop-color="#ffeb00"/><stop offset=".466" stop-color="#98ff67"/><stop offset=".484" stop-color="#21ffde"/><stop offset=".500" stop-color="#00afff"/><stop offset=".514" stop-color="#004aff"/><stop offset=".541" stop-color="#000094"/></linearGradient><linearGradient id="g297" gradientUnits="userSpaceOnUse" x1="0" y1="0" x2="0" y2="263"><stop offset=".380" stop-color="#be0000"/><stop offset=".401" stop-color="#ab0000"/><stop offset=".415" stop-color="#b50000"/><stop offset=".437" stop-color="#fd0000"/><stop offset=".489" stop-color="#ffda00"/><stop offset=".512" stop-color="#c1ff3e"/><stop offset=".551" stop-color="#1cffe3"/><stop offset=".565" stop-color="#00dfff"/><stop offset=".614" stop-color="#0034ff"/></linearGradient><linearGradient id="g298" gradientUnits="userSpaceOnUse" x1="0" y1="0" x2="0" y2="263"><stop offset=".380" stop-color="#bf0000"/><stop offset=".381" stop-color="#b90000"/><stop offset=".389" stop-color="#e50000"/><stop offset=".400" stop-color="#ff2000"/><stop offset=".429" stop-color="#ff9300"/><stop offset=".448" stop-color="#fff200"/><stop offset=".466" stop-color="#91ff6e"/><stop offset=".484" stop-color="#1affe5"/><stop offset=".500" stop-color="#00a7ff"/><stop offset=".514" stop-color="#0043ff"/><stop offset=".541" stop-color="#00008d"/></linearGradient><linearGradient id="g299" gradientUnits="userSpaceOnUse" x1="0" y1="0" x2="0" y2="263"><stop offset=".380" stop-color="#bf0000"/><stop offset=".400" stop-color="#a30000"/><stop offset=".414" stop-color="#ab0000"/><stop offset=".436" stop-color="#f40000"/><stop offset=".449" stop-color="#ff2900"/><stop offset=".488" stop-color="#ffd100"/><stop offset=".511" stop-color="#cbff34"/><stop offset=".550" stop-color="#24ffdb"/><stop offset=".565" stop-color="#00e5ff"/><stop offset=".614" stop-color="#0036ff"/></linearGradient><linearGradient id="g300" gradientUnits="userSpaceOnUse" x1="0" y1="0" x2="0" y2="263"><stop offset=".381" stop-color="#c10000"/><stop offset=".382" stop-color="#bb0000"/><stop offset=".390" stop-color="#e90000"/><stop offset=".400" stop-color="#ff2500"/><stop offset=".430" stop-color="#ff9900"/><stop offset=".449" stop-color="#fff700"/><stop offset=".467" stop-color="#8bff74"/><stop offset=".485" stop-color="#14ffeb"/><stop offset=".501" stop-color="#00a2ff"/><stop offset=".515" stop-color="#003eff"/><stop offset=".542" stop-color="#000088"/></linearGradient><linearGradient id="g301" gradientUnits="userSpaceOnUse" x1="0" y1="0" x2="0" y2="263"><stop offset=".381" stop-color="#c10000"/><stop offset=".403" stop-color="#b70000"/><stop offset=".418" stop-color="#c20000"/><stop offset=".430" stop-color="#e70000"/><stop offset=".443" stop-color="#ff1900"/><stop offset=".498" stop-color="#f7ff08"/><stop offset=".558" stop-color="#00f8ff"/><stop offset=".580" stop-color="#00a2ff"/><stop offset=".615" stop-color="#002fff"/></linearGradient><linearGradient id="g302" gradientUnits="userSpaceOnUse" x1="0" y1="0" x2="0" y2="263"><stop offset=".382" stop-color="#c40000"/><stop offset=".383" stop-color="#bf0000"/><stop offset=".391" stop-color="#ef0000"/><stop offset=".402" stop-color="#ff2d00"/><stop offset=".432" stop-color="#ffa200"/><stop offset=".450" stop-color="#feff01"/><stop offset=".486" stop-color="#0cfff3"/><stop offset=".502" stop-color="#0099ff"/><stop offset=".516" stop-color="#0035ff"/><stop offset=".543" stop-color="#000080"/></linearGradient><linearGradient id="g303" gradientUnits="userSpaceOnUse" x1="0" y1="0" x2="0" y2="263"><stop offset=".382" stop-color="#c40000"/><stop offset=".424" stop-color="#e80000"/><stop offset=".431" stop-color="#ff0000"/><stop offset=".493" stop-color="#fffd00"/><stop offset=".515" stop-color="#9eff61"/><stop offset=".555" stop-color="#00f1ff"/><stop offset=".583" stop-color="#0082ff"/><stop offset=".615" stop-color="#001cff"/><stop offset=".639" stop-color="#0000b8"/></linearGradient><linearGradient id="g304" gradientUnits="userSpaceOnUse" x1="0" y1="0" x2="0" y2="263"><stop offset=".383" stop-color="#c60000"/><stop offset=".384" stop-color="#c10000"/><stop offset=".392" stop-color="#f20000"/><stop offset=".402" stop-color="#ff3200"/><stop offset=".432" stop-color="#ffa700"/><stop offset=".451" stop-color="#f8ff07"/><stop offset=".487" stop-color="#06fff9"/><stop offset=".517" stop-color="#0030ff"/><stop offset=".544" stop-color="#000080"/></linearGradient><linearGradient id="g305" gradientUnits="userSpaceOnUse" x1="0" y1="0" x2="0" y2="263"><stop offset=".383" stop-color="#c60000"/><stop offset=".429" stop-color="#ff0400"/><stop offset=".482" stop-color="#ffda00"/><stop offset=".503" stop-color="#c9ff36"/><stop offset=".544" stop-color="#1bffe4"/><stop offset=".561" stop-color="#00d0ff"/><stop offset=".597" stop-color="#004eff"/><stop offset=".614" stop-color="#0022ff"/><stop offset=".628" stop-color="#0000ee"/></linearGradient><linearGradient id="g306" gradientUnits="userSpaceOnUse" x1="0" y1="0" x2="0" y2="263"><stop offset=".383" stop-color="#c80000"/><stop offset=".384" stop-color="#c20000"/><stop offset=".393" stop-color="#f30000"/><stop offset=".404" stop-color="#ff3400"/><stop offset=".453" stop-color="#f4ff0b"/><stop offset=".489" stop-color="#02fffd"/><stop offset=".519" stop-color="#002cff"/><stop offset=".545" stop-color="#000080"/></linearGradient><linearGradient id="g307" gradientUnits="userSpaceOnUse" x1="0" y1="0" x2="0" y2="263"><stop offset=".383" stop-color="#c80000"/><stop offset=".429" stop-color="#fc0000"/><stop offset=".484" stop-color="#ffdb00"/><stop offset=".506" stop-color="#c6ff39"/><stop offset=".545" stop-color="#1cffe3"/><stop offset=".562" stop-color="#00d7ff"/><stop offset=".589" stop-color="#0073ff"/><stop offset=".619" stop-color="#001cff"/></linearGradient><linearGradient id="g308" gradientUnits="userSpaceOnUse" x1="0" y1="0" x2="0" y2="263"><stop offset=".385" stop-color="#cd0000"/><stop offset=".386" stop-color="#c60000"/><stop offset=".396" stop-color="#f70000"/><stop offset=".409" stop-color="#ff3900"/><stop offset=".442" stop-color="#ffba00"/><stop offset=".460" stop-color="#e6ff19"/><stop offset=".496" stop-color="#00f6ff"/><stop offset=".526" stop-color="#0021ff"/><stop offset=".547" stop-color="#000087"/></linearGradient><linearGradient id="g309" gradientUnits="userSpaceOnUse" x1="0" y1="0" x2="0" y2="263"><stop offset=".385" stop-color="#cd0000"/><stop offset=".399" stop-color="#d90000"/><stop offset=".413" stop-color="#d50000"/><stop offset=".431" stop-color="#e60000"/><stop offset=".442" stop-color="#ff1300"/><stop offset=".490" stop-color="#ffdd00"/><stop offset=".513" stop-color="#bfff40"/><stop offset=".551" stop-color="#1cffe3"/><stop offset=".566" stop-color="#00dfff"/><stop offset=".624" stop-color="#0015ff"/></linearGradient><linearGradient id="g310" gradientUnits="userSpaceOnUse" x1="0" y1="0" x2="0" y2="263"><stop offset=".386" stop-color="#cf0000"/><stop offset=".387" stop-color="#c80000"/><stop offset=".398" stop-color="#f80000"/><stop offset=".412" stop-color="#ff3c00"/><stop offset=".446" stop-color="#ffc200"/><stop offset=".464" stop-color="#deff21"/><stop offset=".483" stop-color="#62ff9d"/><stop offset=".499" stop-color="#00efff"/><stop offset=".529" stop-color="#001cff"/><stop offset=".554" stop-color="#000080"/></linearGradient><linearGradient id="g311" gradientUnits="userSpaceOnUse" x1="0" y1="0" x2="0" y2="263"><stop offset=".386" stop-color="#cf0000"/><stop offset=".400" stop-color="#da0000"/><stop offset=".414" stop-color="#cc0000"/><stop offset=".431" stop-color="#db0000"/><stop offset=".444" stop-color="#ff0d00"/><stop offset=".494" stop-color="#ffe000"/><stop offset=".516" stop-color="#bcff43"/><stop offset=".554" stop-color="#1bffe4"/><stop offset=".568" stop-color="#00e4ff"/><stop offset=".623" stop-color="#0022ff"/></linearGradient><linearGradient id="g312" gradientUnits="userSpaceOnUse" x1="0" y1="0" x2="0" y2="263"><stop offset=".387" stop-color="#d40000"/><stop offset=".388" stop-color="#ca0000"/><stop offset=".407" stop-color="#ff0b00"/><stop offset=".437" stop-color="#ff7b00"/><stop offset=".455" stop-color="#ffd900"/><stop offset=".473" stop-color="#a9ff56"/><stop offset=".491" stop-color="#32ffcd"/><stop offset=".507" stop-color="#00c0ff"/><stop offset=".521" stop-color="#005cff"/><stop offset=".566" stop-color="#000080"/></linearGradient><linearGradient id="g313" gradientUnits="userSpaceOnUse" x1="0" y1="0" x2="0" y2="263"><stop offset=".387" stop-color="#d40000"/><stop offset=".433" stop-color="#f60000"/><stop offset=".440" stop-color="#ff1100"/><stop offset=".484" stop-color="#ffc500"/><stop offset=".505" stop-color="#dfff20"/><stop offset=".546" stop-color="#2fffd0"/><stop offset=".563" stop-color="#00e4ff"/><stop offset=".585" stop-color="#0094ff"/><stop offset=".624" stop-color="#0017ff"/></linearGradient><linearGradient id="g314" gradientUnits="userSpaceOnUse" x1="0" y1="0" x2="0" y2="263"><stop offset=".387" stop-color="#d40000"/><stop offset=".389" stop-color="#ca0000"/><stop offset=".406" stop-color="#ff0500"/><stop offset=".435" stop-color="#ff7200"/><stop offset=".454" stop-color="#ffd100"/><stop offset=".472" stop-color="#b2ff4d"/><stop offset=".490" stop-color="#3affc5"/><stop offset=".506" stop-color="#00c8ff"/><stop offset=".520" stop-color="#0063ff"/><stop offset=".566" stop-color="#000080"/></linearGradient><linearGradient id="g315" gradientUnits="userSpaceOnUse" x1="0" y1="0" x2="0" y2="263"><stop offset=".387" stop-color="#d40000"/><stop offset=".433" stop-color="#f90000"/><stop offset=".440" stop-color="#ff1200"/><stop offset=".483" stop-color="#ffc200"/><stop offset=".504" stop-color="#e3ff1c"/><stop offset=".545" stop-color="#31ffce"/><stop offset=".563" stop-color="#00e4ff"/><stop offset=".586" stop-color="#008dff"/><stop offset=".617" stop-color="#0027ff"/><stop offset=".632" stop-color="#0000ec"/></linearGradient><linearGradient id="g316" gradientUnits="userSpaceOnUse" x1="0" y1="0" x2="0" y2="263"><stop offset=".388" stop-color="#d70000"/><stop offset=".389" stop-color="#cb0000"/><stop offset=".395" stop-color="#d10000"/><stop offset=".413" stop-color="#ff0700"/><stop offset=".429" stop-color="#ff4000"/><stop offset=".447" stop-color="#ffa000"/><stop offset=".466" stop-color="#e3ff1c"/><stop offset=".501" stop-color="#00f6ff"/><stop offset=".515" stop-color="#008cff"/><stop offset=".553" stop-color="#0000a6"/></linearGradient><linearGradient id="g317" gradientUnits="userSpaceOnUse" x1="0" y1="0" x2="0" y2="263"><stop offset=".388" stop-color="#d70000"/><stop offset=".420" stop-color="#ff0000"/><stop offset=".434" stop-color="#ff1000"/><stop offset=".460" stop-color="#ff6a00"/><stop offset=".496" stop-color="#fbff04"/><stop offset=".540" stop-color="#3affc5"/><stop offset=".560" stop-color="#00e3ff"/><stop offset=".600" stop-color="#0045ff"/><stop offset=".624" stop-color="#0000fa"/><stop offset=".656" stop-color="#000080"/></linearGradient><linearGradient id="g318" gradientUnits="userSpaceOnUse" x1="0" y1="0" x2="0" y2="263"><stop offset=".388" stop-color="#d70000"/><stop offset=".389" stop-color="#cb0000"/><stop offset=".395" stop-color="#d10000"/><stop offset=".413" stop-color="#ff0700"/><stop offset=".429" stop-color="#ff4000"/><stop offset=".447" stop-color="#ffa000"/><stop offset=".466" stop-color="#e4ff1b"/><stop offset=".501" stop-color="#00f6ff"/><stop offset=".515" stop-color="#008cff"/><stop offset=".553" stop-color="#0000a6"/></linearGradient><linearGradient id="g319" gradientUnits="userSpaceOnUse" x1="0" y1="0" x2="0" y2="263"><stop offset=".388" stop-color="#d70000"/><stop offset=".420" stop-color="#ff0000"/><stop offset=".434" stop-color="#ff1000"/><stop offset=".460" stop-color="#ff6b00"/><stop offset=".496" stop-color="#fbff04"/><stop offset=".540" stop-color="#3affc5"/><stop offset=".560" stop-color="#00e3ff"/><stop offset=".591" stop-color="#0066ff"/><stop offset=".619" stop-color="#0007ff"/><stop offset=".625" stop-color="#0000f8"/><stop offset=".660" stop-color="#000080"/></linearGradient><linearGradient id="g320" gradientUnits="userSpaceOnUse" x1="0" y1="0" x2="0" y2="263"><stop offset=".389" stop-color="#d90000"/><stop offset=".390" stop-color="#cc0000"/><stop offset=".395" stop-color="#d00000"/><stop offset=".413" stop-color="#ff0000"/><stop offset=".428" stop-color="#ff3700"/><stop offset=".447" stop-color="#ff9700"/><stop offset=".465" stop-color="#edff12"/><stop offset=".500" stop-color="#00feff"/><stop offset=".515" stop-color="#0093ff"/><stop offset=".543" stop-color="#0000dc"/></linearGradient><linearGradient id="g321" gradientUnits="userSpaceOnUse" x1="0" y1="0" x2="0" y2="263"><stop offset=".389" stop-color="#d90000"/><stop offset=".420" stop-color="#fd0000"/><stop offset=".436" stop-color="#ff0f00"/><stop offset=".483" stop-color="#ffcb00"/><stop offset=".504" stop-color="#dcff23"/><stop offset=".545" stop-color="#28ffd7"/><stop offset=".563" stop-color="#00deff"/><stop offset=".593" stop-color="#006cff"/><stop offset=".625" stop-color="#000eff"/></linearGradient><linearGradient id="g322" gradientUnits="userSpaceOnUse" x1="0" y1="0" x2="0" y2="263"><stop offset=".389" stop-color="#d90000"/><stop offset=".390" stop-color="#cd0000"/><stop offset=".395" stop-color="#cf0000"/><stop offset=".413" stop-color="#fe0000"/><stop offset=".428" stop-color="#ff3600"/><stop offset=".446" stop-color="#ff9500"/><stop offset=".465" stop-color="#eeff11"/><stop offset=".500" stop-color="#00ffff"/><stop offset=".515" stop-color="#0094ff"/><stop offset=".541" stop-color="#0000e3"/></linearGradient><linearGradient id="g323" gradientUnits="userSpaceOnUse" x1="0" y1="0" x2="0" y2="263"><stop offset=".389" stop-color="#d90000"/><stop offset=".420" stop-color="#fd0000"/><stop offset=".436" stop-color="#ff0f00"/><stop offset=".484" stop-color="#ffcf00"/><stop offset=".505" stop-color="#d8ff27"/><stop offset=".546" stop-color="#25ffda"/><stop offset=".564" stop-color="#00daff"/><stop offset=".593" stop-color="#006bff"/><stop offset=".629" stop-color="#0000fb"/></linearGradient><linearGradient id="g324" gradientUnits="userSpaceOnUse" x1="0" y1="0" x2="0" y2="263"><stop offset=".390" stop-color="#db0000"/><stop offset=".391" stop-color="#ce0000"/><stop offset=".402" stop-color="#d50000"/><stop offset=".413" stop-color="#f70000"/><stop offset=".427" stop-color="#ff2b00"/><stop offset=".446" stop-color="#ff8b00"/><stop offset=".464" stop-color="#f8ff07"/><stop offset=".499" stop-color="#0afff5"/><stop offset=".515" stop-color="#009cff"/><stop offset=".541" stop-color="#0000ec"/></linearGradient><linearGradient id="g325" gradientUnits="userSpaceOnUse" x1="0" y1="0" x2="0" y2="263"><stop offset=".390" stop-color="#db0000"/><stop offset=".421" stop-color="#fc0000"/><stop offset=".438" stop-color="#ff1100"/><stop offset=".492" stop-color="#ffeb00"/><stop offset=".513" stop-color="#b6ff49"/><stop offset=".553" stop-color="#0dfff2"/><stop offset=".569" stop-color="#00c8ff"/><stop offset=".596" stop-color="#0064ff"/><stop offset=".631" stop-color="#0000f3"/></linearGradient><linearGradient id="g326" gradientUnits="userSpaceOnUse" x1="0" y1="0" x2="0" y2="263"><stop offset=".391" stop-color="#db0000"/><stop offset=".392" stop-color="#cf0000"/><stop offset=".397" stop-color="#d70000"/><stop offset=".416" stop-color="#ff0e00"/><stop offset=".431" stop-color="#ff4700"/><stop offset=".449" stop-color="#ffa600"/><stop offset=".468" stop-color="#ddff22"/><stop offset=".486" stop-color="#61ff9e"/><stop offset=".503" stop-color="#00efff"/><stop offset=".518" stop-color="#0085ff"/><stop offset=".544" stop-color="#0000d3"/></linearGradient><linearGradient id="g327" gradientUnits="userSpaceOnUse" x1="0" y1="0" x2="0" y2="263"><stop offset=".391" stop-color="#db0000"/><stop offset=".435" stop-color="#fd0000"/><stop offset=".490" stop-color="#ffdc00"/><stop offset=".512" stop-color="#c4ff3b"/><stop offset=".552" stop-color="#18ffe7"/><stop offset=".569" stop-color="#00d1ff"/><stop offset=".589" stop-color="#0085ff"/><stop offset=".627" stop-color="#000cff"/></linearGradient><linearGradient id="g328" gradientUnits="userSpaceOnUse" x1="0" y1="0" x2="0" y2="263"><stop offset=".391" stop-color="#db0000"/><stop offset=".392" stop-color="#d00000"/><stop offset=".407" stop-color="#fc0000"/><stop offset=".435" stop-color="#ff6300"/><stop offset=".454" stop-color="#ffc200"/><stop offset=".472" stop-color="#c1ff3e"/><stop offset=".490" stop-color="#47ffb8"/><stop offset=".506" stop-color="#00d5ff"/><stop offset=".521" stop-color="#006eff"/><stop offset=".548" stop-color="#0000ba"/></linearGradient><linearGradient id="g329" gradientUnits="userSpaceOnUse" x1="0" y1="0" x2="0" y2="263"><stop offset=".391" stop-color="#db0000"/><stop offset=".417" stop-color="#dc0000"/><stop offset=".433" stop-color="#ea0000"/><stop offset=".442" stop-color="#ff0c00"/><stop offset=".489" stop-color="#ffcd00"/><stop offset=".511" stop-color="#d2ff2d"/><stop offset=".552" stop-color="#21ffde"/><stop offset=".570" stop-color="#00d2ff"/><stop offset=".625" stop-color="#0011ff"/><stop offset=".649" stop-color="#0000a6"/></linearGradient><linearGradient id="g330" gradientUnits="userSpaceOnUse" x1="0" y1="0" x2="0" y2="263"><stop offset=".391" stop-color="#db0000"/><stop offset=".392" stop-color="#d00000"/><stop offset=".408" stop-color="#ff0200"/><stop offset=".436" stop-color="#ff6a00"/><stop offset=".455" stop-color="#ffc900"/><stop offset=".473" stop-color="#baff45"/><stop offset=".491" stop-color="#41ffbe"/><stop offset=".507" stop-color="#00cfff"/><stop offset=".522" stop-color="#0068ff"/><stop offset=".549" stop-color="#0000b4"/></linearGradient><linearGradient id="g331" gradientUnits="userSpaceOnUse" x1="0" y1="0" x2="0" y2="263"><stop offset=".391" stop-color="#db0000"/><stop offset=".417" stop-color="#d80000"/><stop offset=".433" stop-color="#e50000"/><stop offset=".442" stop-color="#ff0700"/><stop offset=".489" stop-color="#ffc900"/><stop offset=".510" stop-color="#d6ff29"/><stop offset=".552" stop-color="#24ffdb"/><stop offset=".570" stop-color="#00d6ff"/><stop offset=".623" stop-color="#0018ff"/><stop offset=".644" stop-color="#0000c2"/></linearGradient><linearGradient id="g332" gradientUnits="userSpaceOnUse" x1="0" y1="0" x2="0" y2="263"><stop offset=".391" stop-color="#da0000"/><stop offset=".392" stop-color="#cf0000"/><stop offset=".407" stop-color="#ff0000"/><stop offset=".434" stop-color="#ff6500"/><stop offset=".453" stop-color="#ffc400"/><stop offset=".471" stop-color="#bfff40"/><stop offset=".490" stop-color="#45ffba"/><stop offset=".506" stop-color="#00d3ff"/><stop offset=".520" stop-color="#006bff"/><stop offset=".547" stop-color="#0000b7"/></linearGradient><linearGradient id="g333" gradientUnits="userSpaceOnUse" x1="0" y1="0" x2="0" y2="263"><stop offset=".391" stop-color="#da0000"/><stop offset=".417" stop-color="#d70000"/><stop offset=".433" stop-color="#e30000"/><stop offset=".442" stop-color="#ff0500"/><stop offset=".489" stop-color="#ffc600"/><stop offset=".511" stop-color="#d9ff26"/><stop offset=".551" stop-color="#29ffd6"/><stop offset=".569" stop-color="#00dfff"/><stop offset=".630" stop-color="#0007ff"/></linearGradient><linearGradient id="g334" gradientUnits="userSpaceOnUse" x1="0" y1="0" x2="0" y2="263"><stop offset=".391" stop-color="#d90000"/><stop offset=".393" stop-color="#cf0000"/><stop offset=".406" stop-color="#fe0000"/><stop offset=".433" stop-color="#ff6200"/><stop offset=".452" stop-color="#ffc100"/><stop offset=".470" stop-color="#c2ff3d"/><stop offset=".489" stop-color="#47ffb8"/><stop offset=".505" stop-color="#00d5ff"/><stop offset=".520" stop-color="#006dff"/><stop offset=".546" stop-color="#0000ba"/></linearGradient><linearGradient id="g335" gradientUnits="userSpaceOnUse" x1="0" y1="0" x2="0" y2="263"><stop offset=".391" stop-color="#d90000"/><stop offset=".417" stop-color="#d60000"/><stop offset=".433" stop-color="#e20000"/><stop offset=".442" stop-color="#ff0400"/><stop offset=".489" stop-color="#ffc500"/><stop offset=".511" stop-color="#dbff24"/><stop offset=".551" stop-color="#2bffd4"/><stop offset=".569" stop-color="#00e1ff"/><stop offset=".629" stop-color="#000eff"/></linearGradient><linearGradient id="g336" gradientUnits="userSpaceOnUse" x1="0" y1="0" x2="0" y2="263"><stop offset=".392" stop-color="#d70000"/><stop offset=".393" stop-color="#cd0000"/><stop offset=".405" stop-color="#fb0000"/><stop offset=".416" stop-color="#ff2300"/><stop offset=".431" stop-color="#ff5b00"/><stop offset=".450" stop-color="#ffbb00"/><stop offset=".468" stop-color="#c8ff37"/><stop offset=".487" stop-color="#4cffb3"/><stop offset=".503" stop-color="#00daff"/><stop offset=".518" stop-color="#0070ff"/><stop offset=".553" stop-color="#000093"/></linearGradient><linearGradient id="g337" gradientUnits="userSpaceOnUse" x1="0" y1="0" x2="0" y2="263"><stop offset=".392" stop-color="#d70000"/><stop offset=".418" stop-color="#d40000"/><stop offset=".434" stop-color="#e00000"/><stop offset=".443" stop-color="#ff0100"/><stop offset=".489" stop-color="#ffc100"/><stop offset=".511" stop-color="#dfff20"/><stop offset=".551" stop-color="#2fffd0"/><stop offset=".569" stop-color="#00e5ff"/><stop offset=".629" stop-color="#0012ff"/></linearGradient><linearGradient id="g338" gradientUnits="userSpaceOnUse" x1="0" y1="0" x2="0" y2="263"><stop offset=".392" stop-color="#d50000"/><stop offset=".393" stop-color="#cb0000"/><stop offset=".406" stop-color="#fc0000"/><stop offset=".433" stop-color="#ff5e00"/><stop offset=".451" stop-color="#ffbe00"/><stop offset=".469" stop-color="#c5ff3a"/><stop offset=".488" stop-color="#4affb5"/><stop offset=".504" stop-color="#00d8ff"/><stop offset=".519" stop-color="#006fff"/><stop offset=".564" stop-color="#000080"/></linearGradient><linearGradient id="g339" gradientUnits="userSpaceOnUse" x1="0" y1="0" x2="0" y2="263"><stop offset=".392" stop-color="#d50000"/><stop offset=".433" stop-color="#dc0000"/><stop offset=".441" stop-color="#f50000"/><stop offset=".463" stop-color="#ff4e00"/><stop offset=".504" stop-color="#fffb00"/><stop offset=".527" stop-color="#9fff60"/><stop offset=".564" stop-color="#01fffe"/><stop offset=".627" stop-color="#001fff"/></linearGradient><linearGradient id="g340" gradientUnits="userSpaceOnUse" x1="0" y1="0" x2="0" y2="263"><stop offset=".392" stop-color="#d20000"/><stop offset=".393" stop-color="#c80000"/><stop offset=".407" stop-color="#fd0000"/><stop offset=".434" stop-color="#ff6200"/><stop offset=".453" stop-color="#ffc100"/><stop offset=".471" stop-color="#c2ff3d"/><stop offset=".489" stop-color="#47ffb8"/><stop offset=".506" stop-color="#00d5ff"/><stop offset=".520" stop-color="#006dff"/><stop offset=".554" stop-color="#000097"/></linearGradient><linearGradient id="g341" gradientUnits="userSpaceOnUse" x1="0" y1="0" x2="0" y2="263"><stop offset=".392" stop-color="#d20000"/><stop offset=".434" stop-color="#db0000"/><stop offset=".448" stop-color="#ff0b00"/><stop offset=".496" stop-color="#ffd100"/><stop offset=".518" stop-color="#ccff33"/><stop offset=".558" stop-color="#23ffdc"/><stop offset=".573" stop-color="#00e2ff"/><stop offset=".630" stop-color="#0013ff"/></linearGradient><linearGradient id="g342" gradientUnits="userSpaceOnUse" x1="0" y1="0" x2="0" y2="263"><stop offset=".392" stop-color="#d10000"/><stop offset=".393" stop-color="#c70000"/><stop offset=".406" stop-color="#f50000"/><stop offset=".417" stop-color="#ff1d00"/><stop offset=".432" stop-color="#ff5700"/><stop offset=".451" stop-color="#ffb600"/><stop offset=".469" stop-color="#cdff32"/><stop offset=".488" stop-color="#52ffad"/><stop offset=".504" stop-color="#00dfff"/><stop offset=".519" stop-color="#0076ff"/><stop offset=".545" stop-color="#0000c4"/></linearGradient><linearGradient id="g343" gradientUnits="userSpaceOnUse" x1="0" y1="0" x2="0" y2="263"><stop offset=".392" stop-color="#d10000"/><stop offset=".435" stop-color="#dc0000"/><stop offset=".442" stop-color="#f30000"/><stop offset=".464" stop-color="#ff4900"/><stop offset=".503" stop-color="#fff200"/><stop offset=".526" stop-color="#aaff55"/><stop offset=".564" stop-color="#0afff5"/><stop offset=".577" stop-color="#00d5ff"/><stop offset=".630" stop-color="#0017ff"/></linearGradient><linearGradient id="g344" gradientUnits="userSpaceOnUse" x1="0" y1="0" x2="0" y2="263"><stop offset=".392" stop-color="#cf0000"/><stop offset=".393" stop-color="#c50000"/><stop offset=".415" stop-color="#ff0e00"/><stop offset=".429" stop-color="#ff4200"/><stop offset=".448" stop-color="#ffa200"/><stop offset=".466" stop-color="#e2ff1d"/><stop offset=".501" stop-color="#00f2ff"/><stop offset=".517" stop-color="#0086ff"/><stop offset=".543" stop-color="#0000d6"/></linearGradient><linearGradient id="g345" gradientUnits="userSpaceOnUse" x1="0" y1="0" x2="0" y2="263"><stop offset=".392" stop-color="#cf0000"/><stop offset=".438" stop-color="#e50000"/><stop offset=".449" stop-color="#ff0e00"/><stop offset=".496" stop-color="#ffd200"/><stop offset=".518" stop-color="#ccff33"/><stop offset=".557" stop-color="#26ffd9"/><stop offset=".572" stop-color="#00e7ff"/><stop offset=".628" stop-color="#0025ff"/></linearGradient><linearGradient id="g346" gradientUnits="userSpaceOnUse" x1="0" y1="0" x2="0" y2="263"><stop offset=".393" stop-color="#cf0000"/><stop offset=".394" stop-color="#c40000"/><stop offset=".417" stop-color="#ff0700"/><stop offset=".431" stop-color="#ff3d00"/><stop offset=".450" stop-color="#ff9c00"/><stop offset=".468" stop-color="#e7ff18"/><stop offset=".503" stop-color="#00f8ff"/><stop offset=".518" stop-color="#008dff"/><stop offset=".545" stop-color="#0000dc"/></linearGradient><linearGradient id="g347" gradientUnits="userSpaceOnUse" x1="0" y1="0" x2="0" y2="263"><stop offset=".393" stop-color="#cf0000"/><stop offset=".405" stop-color="#d10000"/><stop offset=".418" stop-color="#ea0000"/><stop offset=".437" stop-color="#ff1400"/><stop offset=".487" stop-color="#ffe600"/><stop offset=".509" stop-color="#b9ff46"/><stop offset=".551" stop-color="#07fff8"/><stop offset=".602" stop-color="#0041ff"/><stop offset=".631" stop-color="#0003ff"/></linearGradient><linearGradient id="g348" gradientUnits="userSpaceOnUse" x1="0" y1="0" x2="0" y2="263"><stop offset=".393" stop-color="#d00000"/><stop offset=".394" stop-color="#c40000"/><stop offset=".399" stop-color="#cd0000"/><stop offset=".417" stop-color="#ff0400"/><stop offset=".432" stop-color="#ff3b00"/><stop offset=".451" stop-color="#ff9a00"/><stop offset=".469" stop-color="#e9ff16"/><stop offset=".504" stop-color="#00faff"/><stop offset=".519" stop-color="#008fff"/><stop offset=".545" stop-color="#0000de"/></linearGradient><linearGradient id="g349" gradientUnits="userSpaceOnUse" x1="0" y1="0" x2="0" y2="263"><stop offset=".393" stop-color="#d00000"/><stop offset=".404" stop-color="#cb0000"/><stop offset=".417" stop-color="#f10000"/><stop offset=".436" stop-color="#ff2600"/><stop offset=".471" stop-color="#ffb700"/><stop offset=".492" stop-color="#eeff11"/><stop offset=".537" stop-color="#28ffd7"/><stop offset=".555" stop-color="#00dbff"/><stop offset=".610" stop-color="#0008ff"/><stop offset=".631" stop-color="#0000de"/><stop offset=".656" stop-color="#000080"/></linearGradient><linearGradient id="g350" gradientUnits="userSpaceOnUse" x1="0" y1="0" x2="0" y2="263"><stop offset=".394" stop-color="#d00000"/><stop offset=".395" stop-color="#c40000"/><stop offset=".399" stop-color="#c90000"/><stop offset=".416" stop-color="#f90000"/><stop offset=".430" stop-color="#ff2d00"/><stop offset=".449" stop-color="#ff8c00"/><stop offset=".467" stop-color="#f7ff08"/><stop offset=".502" stop-color="#09fff6"/><stop offset=".518" stop-color="#009cff"/><stop offset=".544" stop-color="#0000eb"/></linearGradient><linearGradient id="g351" gradientUnits="userSpaceOnUse" x1="0" y1="0" x2="0" y2="263"><stop offset=".394" stop-color="#d00000"/><stop offset=".405" stop-color="#d00000"/><stop offset=".418" stop-color="#f60000"/><stop offset=".436" stop-color="#ff2400"/><stop offset=".485" stop-color="#ffed00"/><stop offset=".507" stop-color="#b3ff4c"/><stop offset=".549" stop-color="#00fcff"/><stop offset=".612" stop-color="#0002ff"/><stop offset=".634" stop-color="#0000d5"/><stop offset=".666" stop-color="#000080"/></linearGradient><linearGradient id="g352" gradientUnits="userSpaceOnUse" x1="0" y1="0" x2="0" y2="263"><stop offset=".394" stop-color="#d10000"/><stop offset=".395" stop-color="#c40000"/><stop offset=".399" stop-color="#c50000"/><stop offset=".415" stop-color="#f00000"/><stop offset=".429" stop-color="#ff2200"/><stop offset=".448" stop-color="#ff8100"/><stop offset=".466" stop-color="#fffb00"/><stop offset=".484" stop-color="#88ff77"/><stop offset=".501" stop-color="#14ffeb"/><stop offset=".517" stop-color="#00a6ff"/><stop offset=".543" stop-color="#0000f6"/></linearGradient><linearGradient id="g353" gradientUnits="userSpaceOnUse" x1="0" y1="0" x2="0" y2="263"><stop offset=".394" stop-color="#d10000"/><stop offset=".406" stop-color="#d40000"/><stop offset=".419" stop-color="#fa0000"/><stop offset=".437" stop-color="#ff2200"/><stop offset=".480" stop-color="#ffd000"/><stop offset=".501" stop-color="#d5ff2a"/><stop offset=".544" stop-color="#18ffe7"/><stop offset=".563" stop-color="#00c9ff"/><stop offset=".614" stop-color="#0005ff"/><stop offset=".630" stop-color="#0000e9"/><stop offset=".655" stop-color="#000089"/></linearGradient><linearGradient id="g354" gradientUnits="userSpaceOnUse" x1="0" y1="0" x2="0" y2="263"><stop offset=".394" stop-color="#d20000"/><stop offset=".395" stop-color="#c40000"/><stop offset=".399" stop-color="#bd0000"/><stop offset=".404" stop-color="#be0000"/><stop offset=".426" stop-color="#ff0700"/><stop offset=".444" stop-color="#ff6500"/><stop offset=".463" stop-color="#ffdf00"/><stop offset=".481" stop-color="#a4ff5b"/><stop offset=".498" stop-color="#2fffd0"/><stop offset=".514" stop-color="#00beff"/><stop offset=".546" stop-color="#0000f0"/></linearGradient><linearGradient id="g355" gradientUnits="userSpaceOnUse" x1="0" y1="0" x2="0" y2="263"><stop offset=".394" stop-color="#d20000"/><stop offset=".408" stop-color="#dd0000"/><stop offset=".422" stop-color="#ff0400"/><stop offset=".437" stop-color="#ff1e00"/><stop offset=".487" stop-color="#ffe100"/><stop offset=".508" stop-color="#c4ff3b"/><stop offset=".550" stop-color="#0efff1"/><stop offset=".568" stop-color="#00c3ff"/><stop offset=".605" stop-color="#0039ff"/><stop offset=".631" stop-color="#0000fe"/></linearGradient><linearGradient id="g356" gradientUnits="userSpaceOnUse" x1="0" y1="0" x2="0" y2="263"><stop offset=".395" stop-color="#d30000"/><stop offset=".398" stop-color="#b30000"/><stop offset=".402" stop-color="#aa0000"/><stop offset=".423" stop-color="#e90000"/><stop offset=".440" stop-color="#ff4300"/><stop offset=".458" stop-color="#ffbd00"/><stop offset=".477" stop-color="#c7ff38"/><stop offset=".494" stop-color="#50ffaf"/><stop offset=".511" stop-color="#00dfff"/><stop offset=".551" stop-color="#0000e7"/></linearGradient><linearGradient id="g357" gradientUnits="userSpaceOnUse" x1="0" y1="0" x2="0" y2="263"><stop offset=".395" stop-color="#d30000"/><stop offset=".426" stop-color="#ff0f00"/><stop offset=".444" stop-color="#ff2600"/><stop offset=".491" stop-color="#ffdc00"/><stop offset=".511" stop-color="#caff35"/><stop offset=".553" stop-color="#13ffec"/><stop offset=".571" stop-color="#00c8ff"/><stop offset=".601" stop-color="#0056ff"/><stop offset=".628" stop-color="#0016ff"/></linearGradient><linearGradient id="g358" gradientUnits="userSpaceOnUse" x1="0" y1="0" x2="0" y2="263"><stop offset=".395" stop-color="#d40000"/><stop offset=".399" stop-color="#b60000"/><stop offset=".404" stop-color="#b00000"/><stop offset=".425" stop-color="#f00000"/><stop offset=".443" stop-color="#ff4d00"/><stop offset=".461" stop-color="#ffc700"/><stop offset=".480" stop-color="#bdff42"/><stop offset=".497" stop-color="#47ffb8"/><stop offset=".513" stop-color="#00d6ff"/><stop offset=".558" stop-color="#0000cb"/></linearGradient><linearGradient id="g359" gradientUnits="userSpaceOnUse" x1="0" y1="0" x2="0" y2="263"><stop offset=".395" stop-color="#d40000"/><stop offset=".425" stop-color="#ff0800"/><stop offset=".443" stop-color="#ff2100"/><stop offset=".491" stop-color="#ffdd00"/><stop offset=".512" stop-color="#c8ff37"/><stop offset=".554" stop-color="#13ffec"/><stop offset=".572" stop-color="#00c8ff"/><stop offset=".602" stop-color="#0057ff"/><stop offset=".628" stop-color="#0017ff"/></linearGradient><linearGradient id="g360" gradientUnits="userSpaceOnUse" x1="0" y1="0" x2="0" y2="263"><stop offset=".397" stop-color="#d70000"/><stop offset=".398" stop-color="#c90000"/><stop offset=".409" stop-color="#c00000"/><stop offset=".420" stop-color="#e00000"/><stop offset=".434" stop-color="#ff1400"/><stop offset=".452" stop-color="#ff6e00"/><stop offset=".470" stop-color="#ffe700"/><stop offset=".489" stop-color="#9dff62"/><stop offset=".505" stop-color="#2cffd3"/><stop offset=".520" stop-color="#00bfff"/><stop offset=".552" stop-color="#0000ee"/></linearGradient><linearGradient id="g361" gradientUnits="userSpaceOnUse" x1="0" y1="0" x2="0" y2="263"><stop offset=".397" stop-color="#d70000"/><stop offset=".409" stop-color="#dc0000"/><stop offset=".423" stop-color="#f30000"/><stop offset=".442" stop-color="#ff0f00"/><stop offset=".494" stop-color="#ffde00"/><stop offset=".516" stop-color="#c3ff3c"/><stop offset=".557" stop-color="#10ffef"/><stop offset=".575" stop-color="#00c6ff"/><stop offset=".603" stop-color="#005aff"/><stop offset=".632" stop-color="#000cff"/></linearGradient><linearGradient id="g362" gradientUnits="userSpaceOnUse" x1="0" y1="0" x2="0" y2="263"><stop offset=".397" stop-color="#d80000"/><stop offset=".398" stop-color="#ca0000"/><stop offset=".411" stop-color="#c70000"/><stop offset=".422" stop-color="#e80000"/><stop offset=".437" stop-color="#ff2000"/><stop offset=".455" stop-color="#ff7900"/><stop offset=".473" stop-color="#fff200"/><stop offset=".491" stop-color="#93ff6c"/><stop offset=".508" stop-color="#23ffdc"/><stop offset=".523" stop-color="#00b8ff"/><stop offset=".551" stop-color="#0000fa"/></linearGradient><linearGradient id="g363" gradientUnits="userSpaceOnUse" x1="0" y1="0" x2="0" y2="263"><stop offset=".397" stop-color="#d80000"/><stop offset=".409" stop-color="#d90000"/><stop offset=".441" stop-color="#ff0900"/><stop offset=".495" stop-color="#ffdf00"/><stop offset=".517" stop-color="#c1ff3e"/><stop offset=".559" stop-color="#0dfff2"/><stop offset=".598" stop-color="#006cff"/><stop offset=".624" stop-color="#0022ff"/><stop offset=".642" stop-color="#0000e0"/></linearGradient><linearGradient id="g364" gradientUnits="userSpaceOnUse" x1="0" y1="0" x2="0" y2="263"><stop offset=".397" stop-color="#d80000"/><stop offset=".398" stop-color="#ca0000"/><stop offset=".411" stop-color="#c60000"/><stop offset=".422" stop-color="#e70000"/><stop offset=".436" stop-color="#ff1d00"/><stop offset=".454" stop-color="#ff7600"/><stop offset=".472" stop-color="#ffee00"/><stop offset=".491" stop-color="#96ff69"/><stop offset=".507" stop-color="#26ffd9"/><stop offset=".522" stop-color="#00baff"/><stop offset=".548" stop-color="#0007ff"/></linearGradient><linearGradient id="g365" gradientUnits="userSpaceOnUse" x1="0" y1="0" x2="0" y2="263"><stop offset=".397" stop-color="#d80000"/><stop offset=".409" stop-color="#da0000"/><stop offset=".437" stop-color="#ff0000"/><stop offset=".449" stop-color="#ff2200"/><stop offset=".496" stop-color="#ffe300"/><stop offset=".518" stop-color="#bdff42"/><stop offset=".560" stop-color="#08fff7"/><stop offset=".607" stop-color="#004fff"/><stop offset=".625" stop-color="#001eff"/><stop offset=".641" stop-color="#0000e2"/></linearGradient><linearGradient id="g366" gradientUnits="userSpaceOnUse" x1="0" y1="0" x2="0" y2="263"><stop offset=".397" stop-color="#d90000"/><stop offset=".399" stop-color="#cb0000"/><stop offset=".410" stop-color="#c50000"/><stop offset=".421" stop-color="#e50000"/><stop offset=".435" stop-color="#ff1800"/><stop offset=".453" stop-color="#ff7100"/><stop offset=".471" stop-color="#ffe900"/><stop offset=".489" stop-color="#9cff63"/><stop offset=".505" stop-color="#2bffd4"/><stop offset=".521" stop-color="#00beff"/><stop offset=".547" stop-color="#000cff"/></linearGradient><linearGradient id="g367" gradientUnits="userSpaceOnUse" x1="0" y1="0" x2="0" y2="263"><stop offset=".397" stop-color="#d90000"/><stop offset=".410" stop-color="#dc0000"/><stop offset=".438" stop-color="#ff0300"/><stop offset=".451" stop-color="#ff2800"/><stop offset=".498" stop-color="#ffea00"/><stop offset=".520" stop-color="#b5ff4a"/><stop offset=".562" stop-color="#00ffff"/><stop offset=".609" stop-color="#0047ff"/><stop offset=".627" stop-color="#0018ff"/><stop offset=".644" stop-color="#0000d5"/></linearGradient><linearGradient id="g368" gradientUnits="userSpaceOnUse" x1="0" y1="0" x2="0" y2="263"><stop offset=".398" stop-color="#da0000"/><stop offset=".399" stop-color="#cc0000"/><stop offset=".403" stop-color="#c30000"/><stop offset=".408" stop-color="#c40000"/><stop offset=".430" stop-color="#ff0b00"/><stop offset=".448" stop-color="#ff6200"/><stop offset=".466" stop-color="#ffda00"/><stop offset=".484" stop-color="#acff53"/><stop offset=".501" stop-color="#38ffc7"/><stop offset=".517" stop-color="#00c9ff"/><stop offset=".543" stop-color="#0018ff"/></linearGradient><linearGradient id="g369" gradientUnits="userSpaceOnUse" x1="0" y1="0" x2="0" y2="263"><stop offset=".398" stop-color="#da0000"/><stop offset=".426" stop-color="#fa0000"/><stop offset=".440" stop-color="#ff0c00"/><stop offset=".455" stop-color="#ff3700"/><stop offset=".503" stop-color="#ffff00"/><stop offset=".547" stop-color="#3fffc0"/><stop offset=".565" stop-color="#00f4ff"/><stop offset=".607" stop-color="#0053ff"/><stop offset=".632" stop-color="#0013ff"/></linearGradient><linearGradient id="g370" gradientUnits="userSpaceOnUse" x1="0" y1="0" x2="0" y2="263"><stop offset=".399" stop-color="#db0000"/><stop offset=".402" stop-color="#c30000"/><stop offset=".407" stop-color="#c30000"/><stop offset=".428" stop-color="#ff0300"/><stop offset=".446" stop-color="#ff5800"/><stop offset=".463" stop-color="#ffd000"/><stop offset=".481" stop-color="#b6ff49"/><stop offset=".499" stop-color="#41ffbe"/><stop offset=".515" stop-color="#00d2ff"/><stop offset=".540" stop-color="#0020ff"/></linearGradient><linearGradient id="g371" gradientUnits="userSpaceOnUse" x1="0" y1="0" x2="0" y2="263"><stop offset=".399" stop-color="#db0000"/><stop offset=".427" stop-color="#ff0100"/><stop offset=".442" stop-color="#ff1100"/><stop offset=".457" stop-color="#ff4200"/><stop offset=".486" stop-color="#ffb800"/><stop offset=".506" stop-color="#f1ff0e"/><stop offset=".550" stop-color="#34ffcb"/><stop offset=".567" stop-color="#00e9ff"/><stop offset=".608" stop-color="#004fff"/><stop offset=".634" stop-color="#0010ff"/></linearGradient><linearGradient id="g372" gradientUnits="userSpaceOnUse" x1="0" y1="0" x2="0" y2="263"><stop offset=".399" stop-color="#db0000"/><stop offset=".403" stop-color="#c30000"/><stop offset=".407" stop-color="#c30000"/><stop offset=".428" stop-color="#ff0300"/><stop offset=".446" stop-color="#ff5900"/><stop offset=".464" stop-color="#ffd000"/><stop offset=".482" stop-color="#b6ff49"/><stop offset=".499" stop-color="#41ffbe"/><stop offset=".515" stop-color="#00d2ff"/><stop offset=".540" stop-color="#0020ff"/></linearGradient><linearGradient id="g373" gradientUnits="userSpaceOnUse" x1="0" y1="0" x2="0" y2="263"><stop offset=".399" stop-color="#db0000"/><stop offset=".427" stop-color="#ff0100"/><stop offset=".442" stop-color="#ff1100"/><stop offset=".458" stop-color="#ff4200"/><stop offset=".487" stop-color="#ffb900"/><stop offset=".507" stop-color="#f0ff0f"/><stop offset=".550" stop-color="#33ffcc"/><stop offset=".568" stop-color="#00e8ff"/><stop offset=".608" stop-color="#004fff"/><stop offset=".635" stop-color="#000aff"/></linearGradient><linearGradient id="g374" gradientUnits="userSpaceOnUse" x1="0" y1="0" x2="0" y2="263"><stop offset=".399" stop-color="#da0000"/><stop offset=".400" stop-color="#ce0000"/><stop offset=".403" stop-color="#c60000"/><stop offset=".408" stop-color="#c80000"/><stop offset=".429" stop-color="#ff0900"/><stop offset=".447" stop-color="#ff5e00"/><stop offset=".465" stop-color="#ffd500"/><stop offset=".482" stop-color="#b2ff4d"/><stop offset=".500" stop-color="#3effc1"/><stop offset=".516" stop-color="#00cfff"/><stop offset=".541" stop-color="#001cff"/></linearGradient><linearGradient id="g375" gradientUnits="userSpaceOnUse" x1="0" y1="0" x2="0" y2="263"><stop offset=".399" stop-color="#da0000"/><stop offset=".428" stop-color="#fc0000"/><stop offset=".443" stop-color="#ff0a00"/><stop offset=".461" stop-color="#ff4300"/><stop offset=".491" stop-color="#ffc100"/><stop offset=".512" stop-color="#e5ff1a"/><stop offset=".555" stop-color="#2affd5"/><stop offset=".574" stop-color="#00d7ff"/><stop offset=".609" stop-color="#004dff"/><stop offset=".633" stop-color="#0009ff"/><stop offset=".658" stop-color="#0000a3"/></linearGradient><linearGradient id="g376" gradientUnits="userSpaceOnUse" x1="0" y1="0" x2="0" y2="263"><stop offset=".400" stop-color="#da0000"/><stop offset=".401" stop-color="#ce0000"/><stop offset=".404" stop-color="#c80000"/><stop offset=".409" stop-color="#cd0000"/><stop offset=".430" stop-color="#ff0f00"/><stop offset=".448" stop-color="#ff6300"/><stop offset=".466" stop-color="#ffd900"/><stop offset=".483" stop-color="#aeff51"/><stop offset=".500" stop-color="#3affc5"/><stop offset=".516" stop-color="#00ccff"/><stop offset=".542" stop-color="#0019ff"/></linearGradient><linearGradient id="g377" gradientUnits="userSpaceOnUse" x1="0" y1="0" x2="0" y2="263"><stop offset=".400" stop-color="#da0000"/><stop offset=".444" stop-color="#ff0500"/><stop offset=".463" stop-color="#ff4400"/><stop offset=".496" stop-color="#ffca00"/><stop offset=".516" stop-color="#daff25"/><stop offset=".558" stop-color="#29ffd6"/><stop offset=".575" stop-color="#00deff"/><stop offset=".604" stop-color="#0072ff"/><stop offset=".637" stop-color="#000fff"/></linearGradient><linearGradient id="g378" gradientUnits="userSpaceOnUse" x1="0" y1="0" x2="0" y2="263"><stop offset=".400" stop-color="#da0000"/><stop offset=".401" stop-color="#ce0000"/><stop offset=".404" stop-color="#c90000"/><stop offset=".409" stop-color="#cd0000"/><stop offset=".430" stop-color="#ff1000"/><stop offset=".448" stop-color="#ff6300"/><stop offset=".466" stop-color="#ffda00"/><stop offset=".484" stop-color="#adff52"/><stop offset=".501" stop-color="#3affc5"/><stop offset=".516" stop-color="#00ccff"/><stop offset=".542" stop-color="#0018ff"/></linearGradient><linearGradient id="g379" gradientUnits="userSpaceOnUse" x1="0" y1="0" x2="0" y2="263"><stop offset=".400" stop-color="#da0000"/><stop offset=".445" stop-color="#ff0400"/><stop offset=".464" stop-color="#ff4400"/><stop offset=".496" stop-color="#ffcb00"/><stop offset=".517" stop-color="#d9ff26"/><stop offset=".558" stop-color="#28ffd7"/><stop offset=".576" stop-color="#00ddff"/><stop offset=".597" stop-color="#008cff"/><stop offset=".639" stop-color="#0007ff"/></linearGradient><linearGradient id="g380" gradientUnits="userSpaceOnUse" x1="0" y1="0" x2="0" y2="263"><stop offset=".400" stop-color="#d90000"/><stop offset=".401" stop-color="#cc0000"/><stop offset=".405" stop-color="#c60000"/><stop offset=".411" stop-color="#c90000"/><stop offset=".432" stop-color="#ff1000"/><stop offset=".450" stop-color="#ff6200"/><stop offset=".468" stop-color="#ffd800"/><stop offset=".486" stop-color="#afff50"/><stop offset=".502" stop-color="#3dffc2"/><stop offset=".518" stop-color="#00cfff"/><stop offset=".544" stop-color="#001bff"/></linearGradient><linearGradient id="g381" gradientUnits="userSpaceOnUse" x1="0" y1="0" x2="0" y2="263"><stop offset=".400" stop-color="#d90000"/><stop offset=".444" stop-color="#f00000"/><stop offset=".450" stop-color="#ff0000"/><stop offset=".471" stop-color="#ff4c00"/><stop offset=".508" stop-color="#ffeb00"/><stop offset=".530" stop-color="#b1ff4e"/><stop offset=".569" stop-color="#0dfff2"/><stop offset=".583" stop-color="#00d2ff"/><stop offset=".635" stop-color="#0021ff"/></linearGradient><linearGradient id="g382" gradientUnits="userSpaceOnUse" x1="0" y1="0" x2="0" y2="263"><stop offset=".400" stop-color="#d90000"/><stop offset=".401" stop-color="#cc0000"/><stop offset=".405" stop-color="#c60000"/><stop offset=".411" stop-color="#c90000"/><stop offset=".432" stop-color="#ff1000"/><stop offset=".450" stop-color="#ff6200"/><stop offset=".468" stop-color="#ffd800"/><stop offset=".486" stop-color="#afff50"/><stop offset=".502" stop-color="#3dffc2"/><stop offset=".518" stop-color="#00cfff"/><stop offset=".544" stop-color="#001bff"/></linearGradient><linearGradient id="g383" gradientUnits="userSpaceOnUse" x1="0" y1="0" x2="0" y2="263"><stop offset=".400" stop-color="#d90000"/><stop offset=".443" stop-color="#f00000"/><stop offset=".450" stop-color="#ff0000"/><stop offset=".471" stop-color="#ff4c00"/><stop offset=".508" stop-color="#ffeb00"/><stop offset=".530" stop-color="#b1ff4e"/><stop offset=".569" stop-color="#0dfff2"/><stop offset=".583" stop-color="#00d2ff"/><stop offset=".634" stop-color="#0027ff"/></linearGradient><linearGradient id="g384" gradientUnits="userSpaceOnUse" x1="0" y1="0" x2="0" y2="263"><stop offset=".400" stop-color="#d80000"/><stop offset=".401" stop-color="#ca0000"/><stop offset=".406" stop-color="#c20000"/><stop offset=".412" stop-color="#c40000"/><stop offset=".435" stop-color="#ff1000"/><stop offset=".453" stop-color="#ff6000"/><stop offset=".471" stop-color="#ffd600"/><stop offset=".488" stop-color="#b2ff4d"/><stop offset=".505" stop-color="#41ffbe"/><stop offset=".521" stop-color="#00d4ff"/><stop offset=".556" stop-color="#0000ee"/></linearGradient><linearGradient id="g385" gradientUnits="userSpaceOnUse" x1="0" y1="0" x2="0" y2="263"><stop offset=".400" stop-color="#d80000"/><stop offset=".414" stop-color="#e30000"/><stop offset=".443" stop-color="#d90000"/><stop offset=".453" stop-color="#ed0000"/><stop offset=".464" stop-color="#ff1b00"/><stop offset=".518" stop-color="#fffd00"/><stop offset=".542" stop-color="#99ff66"/><stop offset=".563" stop-color="#3effc1"/><stop offset=".582" stop-color="#00e9ff"/><stop offset=".634" stop-color="#0027ff"/><stop offset=".672" stop-color="#000080"/></linearGradient><linearGradient id="g386" gradientUnits="userSpaceOnUse" x1="0" y1="0" x2="0" y2="263"><stop offset=".400" stop-color="#d70000"/><stop offset=".401" stop-color="#c90000"/><stop offset=".406" stop-color="#c10000"/><stop offset=".413" stop-color="#c10000"/><stop offset=".437" stop-color="#ff1000"/><stop offset=".455" stop-color="#ff5f00"/><stop offset=".472" stop-color="#ffd400"/><stop offset=".490" stop-color="#b3ff4c"/><stop offset=".506" stop-color="#44ffbb"/><stop offset=".522" stop-color="#00d7ff"/><stop offset=".562" stop-color="#0000d7"/></linearGradient><linearGradient id="g387" gradientUnits="userSpaceOnUse" x1="0" y1="0" x2="0" y2="263"><stop offset=".400" stop-color="#d70000"/><stop offset=".414" stop-color="#e10000"/><stop offset=".445" stop-color="#cc0000"/><stop offset=".461" stop-color="#ff0300"/><stop offset=".512" stop-color="#ffd600"/><stop offset=".535" stop-color="#c3ff3c"/><stop offset=".575" stop-color="#16ffe9"/><stop offset=".590" stop-color="#00d9ff"/><stop offset=".629" stop-color="#0047ff"/><stop offset=".649" stop-color="#0000ef"/></linearGradient><linearGradient id="g388" gradientUnits="userSpaceOnUse" x1="0" y1="0" x2="0" y2="263"><stop offset=".400" stop-color="#d60000"/><stop offset=".401" stop-color="#c80000"/><stop offset=".407" stop-color="#c00000"/><stop offset=".414" stop-color="#c10000"/><stop offset=".438" stop-color="#ff1100"/><stop offset=".456" stop-color="#ff6000"/><stop offset=".473" stop-color="#ffd500"/><stop offset=".491" stop-color="#b3ff4c"/><stop offset=".507" stop-color="#44ffbb"/><stop offset=".523" stop-color="#00d9ff"/><stop offset=".569" stop-color="#0000bf"/></linearGradient><linearGradient id="g389" gradientUnits="userSpaceOnUse" x1="0" y1="0" x2="0" y2="263"><stop offset=".400" stop-color="#d60000"/><stop offset=".414" stop-color="#df0000"/><stop offset=".442" stop-color="#d10000"/><stop offset=".455" stop-color="#f30000"/><stop offset=".467" stop-color="#ff2200"/><stop offset=".502" stop-color="#ffb600"/><stop offset=".524" stop-color="#e9ff16"/><stop offset=".581" stop-color="#00f7ff"/><stop offset=".637" stop-color="#002bff"/></linearGradient><linearGradient id="g390" gradientUnits="userSpaceOnUse" x1="0" y1="0" x2="0" y2="263"><stop offset=".400" stop-color="#d60000"/><stop offset=".401" stop-color="#c80000"/><stop offset=".407" stop-color="#c00000"/><stop offset=".414" stop-color="#c10000"/><stop offset=".438" stop-color="#ff1200"/><stop offset=".456" stop-color="#ff6000"/><stop offset=".473" stop-color="#ffd500"/><stop offset=".491" stop-color="#b3ff4c"/><stop offset=".507" stop-color="#44ffbb"/><stop offset=".523" stop-color="#00d9ff"/><stop offset=".569" stop-color="#0000bf"/></linearGradient><linearGradient id="g391" gradientUnits="userSpaceOnUse" x1="0" y1="0" x2="0" y2="263"><stop offset=".400" stop-color="#d60000"/><stop offset=".414" stop-color="#df0000"/><stop offset=".442" stop-color="#d10000"/><stop offset=".456" stop-color="#f30000"/><stop offset=".467" stop-color="#ff2200"/><stop offset=".502" stop-color="#ffb700"/><stop offset=".524" stop-color="#e8ff17"/><stop offset=".581" stop-color="#00f7ff"/><stop offset=".635" stop-color="#0034ff"/></linearGradient><linearGradient id="g392" gradientUnits="userSpaceOnUse" x1="0" y1="0" x2="0" y2="263"><stop offset=".400" stop-color="#d40000"/><stop offset=".402" stop-color="#c50000"/><stop offset=".408" stop-color="#bc0000"/><stop offset=".417" stop-color="#bf0000"/><stop offset=".428" stop-color="#dc0000"/><stop offset=".444" stop-color="#ff1700"/><stop offset=".461" stop-color="#ff6300"/><stop offset=".479" stop-color="#ffd700"/><stop offset=".496" stop-color="#b1ff4e"/><stop offset=".512" stop-color="#46ffb9"/><stop offset=".526" stop-color="#00deff"/><stop offset=".555" stop-color="#0017ff"/></linearGradient><linearGradient id="g393" gradientUnits="userSpaceOnUse" x1="0" y1="0" x2="0" y2="263"><stop offset=".400" stop-color="#d40000"/><stop offset=".427" stop-color="#d70000"/><stop offset=".446" stop-color="#ee0000"/><stop offset=".463" stop-color="#ff3300"/><stop offset=".499" stop-color="#ffc800"/><stop offset=".522" stop-color="#d5ff2a"/><stop offset=".561" stop-color="#2bffd4"/><stop offset=".577" stop-color="#00e8ff"/><stop offset=".604" stop-color="#0085ff"/><stop offset=".636" stop-color="#002cff"/></linearGradient><linearGradient id="g394" gradientUnits="userSpaceOnUse" x1="0" y1="0" x2="0" y2="263"><stop offset=".401" stop-color="#d40000"/><stop offset=".402" stop-color="#c50000"/><stop offset=".409" stop-color="#c00000"/><stop offset=".418" stop-color="#c70000"/><stop offset=".430" stop-color="#e50000"/><stop offset=".446" stop-color="#ff2300"/><stop offset=".463" stop-color="#ff6e00"/><stop offset=".480" stop-color="#ffe300"/><stop offset=".498" stop-color="#a7ff58"/><stop offset=".513" stop-color="#3cffc3"/><stop offset=".528" stop-color="#00d5ff"/><stop offset=".554" stop-color="#001bff"/></linearGradient><linearGradient id="g395" gradientUnits="userSpaceOnUse" x1="0" y1="0" x2="0" y2="263"><stop offset=".401" stop-color="#d40000"/><stop offset=".427" stop-color="#dc0000"/><stop offset=".446" stop-color="#f50000"/><stop offset=".463" stop-color="#ff3700"/><stop offset=".498" stop-color="#ffca00"/><stop offset=".520" stop-color="#d4ff2b"/><stop offset=".561" stop-color="#28ffd7"/><stop offset=".577" stop-color="#00e3ff"/><stop offset=".604" stop-color="#007fff"/><stop offset=".640" stop-color="#0014ff"/></linearGradient><linearGradient id="g396" gradientUnits="userSpaceOnUse" x1="0" y1="0" x2="0" y2="263"><stop offset=".401" stop-color="#d20000"/><stop offset=".403" stop-color="#c70000"/><stop offset=".426" stop-color="#fc0000"/><stop offset=".441" stop-color="#ff2f00"/><stop offset=".476" stop-color="#ffbb00"/><stop offset=".493" stop-color="#ceff31"/><stop offset=".525" stop-color="#00f5ff"/><stop offset=".537" stop-color="#0098ff"/><stop offset=".565" stop-color="#0000d8"/></linearGradient><linearGradient id="g397" gradientUnits="userSpaceOnUse" x1="0" y1="0" x2="0" y2="263"><stop offset=".401" stop-color="#d20000"/><stop offset=".414" stop-color="#d50000"/><stop offset=".427" stop-color="#fc0000"/><stop offset=".445" stop-color="#ff2200"/><stop offset=".491" stop-color="#ffd900"/><stop offset=".512" stop-color="#c9ff36"/><stop offset=".555" stop-color="#11ffee"/><stop offset=".572" stop-color="#00c7ff"/><stop offset=".616" stop-color="#002bff"/><stop offset=".642" stop-color="#0000f3"/></linearGradient><linearGradient id="g398" gradientUnits="userSpaceOnUse" x1="0" y1="0" x2="0" y2="263"><stop offset=".402" stop-color="#d40000"/><stop offset=".404" stop-color="#ca0000"/><stop offset=".422" stop-color="#ff0500"/><stop offset=".467" stop-color="#ffb200"/><stop offset=".484" stop-color="#d9ff26"/><stop offset=".516" stop-color="#00fcff"/><stop offset=".530" stop-color="#0099ff"/><stop offset=".556" stop-color="#0000de"/></linearGradient><linearGradient id="g399" gradientUnits="userSpaceOnUse" x1="0" y1="0" x2="0" y2="263"><stop offset=".402" stop-color="#d40000"/><stop offset=".414" stop-color="#d10000"/><stop offset=".426" stop-color="#ee0000"/><stop offset=".441" stop-color="#ff0000"/><stop offset=".459" stop-color="#ff3500"/><stop offset=".489" stop-color="#ffb500"/><stop offset=".510" stop-color="#f0ff0f"/><stop offset=".554" stop-color="#31ffce"/><stop offset=".572" stop-color="#00e6ff"/><stop offset=".612" stop-color="#004eff"/><stop offset=".638" stop-color="#0017ff"/></linearGradient><linearGradient id="g400" gradientUnits="userSpaceOnUse" x1="0" y1="0" x2="0" y2="263"><stop offset=".403" stop-color="#d40000"/><stop offset=".404" stop-color="#cb0000"/><stop offset=".421" stop-color="#ff0700"/><stop offset=".465" stop-color="#ffb100"/><stop offset=".482" stop-color="#dbff24"/><stop offset=".515" stop-color="#00fdff"/><stop offset=".529" stop-color="#0099ff"/><stop offset=".555" stop-color="#0000df"/></linearGradient><linearGradient id="g401" gradientUnits="userSpaceOnUse" x1="0" y1="0" x2="0" y2="263"><stop offset=".403" stop-color="#d40000"/><stop offset=".414" stop-color="#d00000"/><stop offset=".426" stop-color="#ec0000"/><stop offset=".447" stop-color="#ff0b00"/><stop offset=".469" stop-color="#ff5a00"/><stop offset=".506" stop-color="#fff900"/><stop offset=".529" stop-color="#a2ff5d"/><stop offset=".551" stop-color="#41ffbe"/><stop offset=".570" stop-color="#00f2ff"/><stop offset=".614" stop-color="#0046ff"/><stop offset=".632" stop-color="#001dff"/><stop offset=".655" stop-color="#0000c3"/></linearGradient><linearGradient id="g402" gradientUnits="userSpaceOnUse" x1="0" y1="0" x2="0" y2="263"><stop offset=".403" stop-color="#d50000"/><stop offset=".404" stop-color="#cc0000"/><stop offset=".418" stop-color="#fa0000"/><stop offset=".428" stop-color="#ff2000"/><stop offset=".459" stop-color="#ff9600"/><stop offset=".476" stop-color="#f6ff09"/><stop offset=".509" stop-color="#17ffe8"/><stop offset=".524" stop-color="#00adff"/><stop offset=".549" stop-color="#0000f6"/></linearGradient><linearGradient id="g403" gradientUnits="userSpaceOnUse" x1="0" y1="0" x2="0" y2="263"><stop offset=".403" stop-color="#d50000"/><stop offset=".415" stop-color="#d50000"/><stop offset=".428" stop-color="#f10000"/><stop offset=".442" stop-color="#ff0000"/><stop offset=".448" stop-color="#ff0c00"/><stop offset=".469" stop-color="#ff5600"/><stop offset=".506" stop-color="#fff000"/><stop offset=".528" stop-color="#acff53"/><stop offset=".551" stop-color="#45ffba"/><stop offset=".571" stop-color="#00eeff"/><stop offset=".603" stop-color="#006aff"/><stop offset=".627" stop-color="#001aff"/><stop offset=".639" stop-color="#0001ff"/><stop offset=".676" stop-color="#000080"/></linearGradient><linearGradient id="g404" gradientUnits="userSpaceOnUse" x1="0" y1="0" x2="0" y2="263"><stop offset=".404" stop-color="#d70000"/><stop offset=".405" stop-color="#cd0000"/><stop offset=".422" stop-color="#ff0a00"/><stop offset=".433" stop-color="#ff2d00"/><stop offset=".450" stop-color="#ff6f00"/><stop offset=".467" stop-color="#ffe000"/><stop offset=".484" stop-color="#adff52"/><stop offset=".500" stop-color="#3cffc3"/><stop offset=".516" stop-color="#00d2ff"/><stop offset=".541" stop-color="#001aff"/></linearGradient><linearGradient id="g405" gradientUnits="userSpaceOnUse" x1="0" y1="0" x2="0" y2="263"><stop offset=".404" stop-color="#d70000"/><stop offset=".417" stop-color="#db0000"/><stop offset=".430" stop-color="#f80000"/><stop offset=".450" stop-color="#ff0e00"/><stop offset=".469" stop-color="#ff5100"/><stop offset=".504" stop-color="#ffe400"/><stop offset=".526" stop-color="#bbff44"/><stop offset=".567" stop-color="#0dfff2"/><stop offset=".612" stop-color="#005eff"/><stop offset=".637" stop-color="#0022ff"/></linearGradient><linearGradient id="g406" gradientUnits="userSpaceOnUse" x1="0" y1="0" x2="0" y2="263"><stop offset=".404" stop-color="#d80000"/><stop offset=".405" stop-color="#ce0000"/><stop offset=".419" stop-color="#fd0000"/><stop offset=".430" stop-color="#ff2100"/><stop offset=".444" stop-color="#ff5900"/><stop offset=".462" stop-color="#ffca00"/><stop offset=".478" stop-color="#c3ff3c"/><stop offset=".496" stop-color="#51ffae"/><stop offset=".511" stop-color="#00e6ff"/><stop offset=".537" stop-color="#002dff"/></linearGradient><linearGradient id="g407" gradientUnits="userSpaceOnUse" x1="0" y1="0" x2="0" y2="263"><stop offset=".404" stop-color="#d80000"/><stop offset=".418" stop-color="#df0000"/><stop offset=".431" stop-color="#fb0000"/><stop offset=".451" stop-color="#ff0e00"/><stop offset=".458" stop-color="#ff2000"/><stop offset=".504" stop-color="#ffdd00"/><stop offset=".525" stop-color="#c3ff3c"/><stop offset=".566" stop-color="#13ffec"/><stop offset=".584" stop-color="#00c8ff"/><stop offset=".612" stop-color="#0061ff"/><stop offset=".638" stop-color="#0020ff"/></linearGradient><linearGradient id="g408" gradientUnits="userSpaceOnUse" x1="0" y1="0" x2="0" y2="263"><stop offset=".405" stop-color="#d80000"/><stop offset=".406" stop-color="#ce0000"/><stop offset=".408" stop-color="#d40000"/><stop offset=".420" stop-color="#fd0000"/><stop offset=".430" stop-color="#ff2100"/><stop offset=".445" stop-color="#ff5a00"/><stop offset=".462" stop-color="#ffca00"/><stop offset=".479" stop-color="#c3ff3c"/><stop offset=".496" stop-color="#51ffae"/><stop offset=".512" stop-color="#00e7ff"/><stop offset=".537" stop-color="#002eff"/></linearGradient><linearGradient id="g409" gradientUnits="userSpaceOnUse" x1="0" y1="0" x2="0" y2="263"><stop offset=".405" stop-color="#d80000"/><stop offset=".419" stop-color="#e20000"/><stop offset=".432" stop-color="#ff0300"/><stop offset=".452" stop-color="#ff1500"/><stop offset=".459" stop-color="#ff2700"/><stop offset=".504" stop-color="#ffe200"/><stop offset=".526" stop-color="#bfff40"/><stop offset=".566" stop-color="#0ffff0"/><stop offset=".584" stop-color="#00c4ff"/><stop offset=".612" stop-color="#005eff"/><stop offset=".639" stop-color="#001dff"/></linearGradient><linearGradient id="g410" gradientUnits="userSpaceOnUse" x1="0" y1="0" x2="0" y2="263"><stop offset=".406" stop-color="#da0000"/><stop offset=".407" stop-color="#d00000"/><stop offset=".410" stop-color="#d40000"/><stop offset=".423" stop-color="#fd0000"/><stop offset=".433" stop-color="#ff2200"/><stop offset=".449" stop-color="#ff5e00"/><stop offset=".466" stop-color="#ffcb00"/><stop offset=".483" stop-color="#c3ff3c"/><stop offset=".500" stop-color="#52ffad"/><stop offset=".515" stop-color="#00e9ff"/><stop offset=".556" stop-color="#0000e3"/></linearGradient><linearGradient id="g411" gradientUnits="userSpaceOnUse" x1="0" y1="0" x2="0" y2="263"><stop offset=".406" stop-color="#da0000"/><stop offset=".423" stop-color="#f30000"/><stop offset=".438" stop-color="#ff2700"/><stop offset=".463" stop-color="#ff4900"/><stop offset=".507" stop-color="#fff900"/><stop offset=".528" stop-color="#aaff55"/><stop offset=".568" stop-color="#00faff"/><stop offset=".613" stop-color="#004bff"/><stop offset=".640" stop-color="#0017ff"/></linearGradient><linearGradient id="g412" gradientUnits="userSpaceOnUse" x1="0" y1="0" x2="0" y2="263"><stop offset=".406" stop-color="#da0000"/><stop offset=".407" stop-color="#d00000"/><stop offset=".410" stop-color="#d40000"/><stop offset=".423" stop-color="#fd0000"/><stop offset=".434" stop-color="#ff2200"/><stop offset=".449" stop-color="#ff5e00"/><stop offset=".466" stop-color="#ffcb00"/><stop offset=".483" stop-color="#c3ff3c"/><stop offset=".500" stop-color="#52ffad"/><stop offset=".515" stop-color="#00e9ff"/><stop offset=".558" stop-color="#0000de"/></linearGradient><linearGradient id="g413" gradientUnits="userSpaceOnUse" x1="0" y1="0" x2="0" y2="263"><stop offset=".406" stop-color="#da0000"/><stop offset=".423" stop-color="#f20000"/><stop offset=".438" stop-color="#ff2400"/><stop offset=".462" stop-color="#ff4100"/><stop offset=".505" stop-color="#ffef00"/><stop offset=".526" stop-color="#b5ff4a"/><stop offset=".567" stop-color="#03fffc"/><stop offset=".613" stop-color="#0050ff"/><stop offset=".642" stop-color="#000eff"/></linearGradient><linearGradient id="g414" gradientUnits="userSpaceOnUse" x1="0" y1="0" x2="0" y2="263"><stop offset=".407" stop-color="#d80000"/><stop offset=".408" stop-color="#ce0000"/><stop offset=".411" stop-color="#d30000"/><stop offset=".426" stop-color="#fd0000"/><stop offset=".436" stop-color="#ff2100"/><stop offset=".453" stop-color="#ff6100"/><stop offset=".469" stop-color="#ffca00"/><stop offset=".486" stop-color="#c5ff3a"/><stop offset=".503" stop-color="#55ffaa"/><stop offset=".517" stop-color="#00eeff"/><stop offset=".543" stop-color="#0036ff"/></linearGradient><linearGradient id="g415" gradientUnits="userSpaceOnUse" x1="0" y1="0" x2="0" y2="263"><stop offset=".407" stop-color="#d80000"/><stop offset=".435" stop-color="#f80000"/><stop offset=".454" stop-color="#f10000"/><stop offset=".461" stop-color="#ff0600"/><stop offset=".522" stop-color="#f9ff06"/><stop offset=".565" stop-color="#40ffbf"/><stop offset=".583" stop-color="#00f5ff"/><stop offset=".607" stop-color="#0098ff"/><stop offset=".637" stop-color="#003bff"/></linearGradient><linearGradient id="g416" gradientUnits="userSpaceOnUse" x1="0" y1="0" x2="0" y2="263"><stop offset=".407" stop-color="#d80000"/><stop offset=".408" stop-color="#ce0000"/><stop offset=".411" stop-color="#d20000"/><stop offset=".426" stop-color="#fd0000"/><stop offset=".436" stop-color="#ff2100"/><stop offset=".453" stop-color="#ff6200"/><stop offset=".469" stop-color="#ffca00"/><stop offset=".486" stop-color="#c5ff3a"/><stop offset=".503" stop-color="#55ffaa"/><stop offset=".518" stop-color="#00eeff"/><stop offset=".543" stop-color="#0036ff"/></linearGradient><linearGradient id="g417" gradientUnits="userSpaceOnUse" x1="0" y1="0" x2="0" y2="263"><stop offset=".407" stop-color="#d80000"/><stop offset=".435" stop-color="#f60000"/><stop offset=".454" stop-color="#ee0000"/><stop offset=".460" stop-color="#ff0200"/><stop offset=".521" stop-color="#fffd00"/><stop offset=".582" stop-color="#00fbff"/><stop offset=".606" stop-color="#009cff"/><stop offset=".639" stop-color="#0032ff"/></linearGradient><linearGradient id="g418" gradientUnits="userSpaceOnUse" x1="0" y1="0" x2="0" y2="263"><stop offset=".407" stop-color="#d30000"/><stop offset=".410" stop-color="#c80000"/><stop offset=".432" stop-color="#ff0b00"/><stop offset=".446" stop-color="#ff4000"/><stop offset=".463" stop-color="#ffa600"/><stop offset=".479" stop-color="#eaff15"/><stop offset=".511" stop-color="#13ffec"/><stop offset=".537" stop-color="#0058ff"/></linearGradient><linearGradient id="g419" gradientUnits="userSpaceOnUse" x1="0" y1="0" x2="0" y2="263"><stop offset=".407" stop-color="#d30000"/><stop offset=".419" stop-color="#d50000"/><stop offset=".432" stop-color="#eb0000"/><stop offset=".453" stop-color="#ef0000"/><stop offset=".460" stop-color="#ff0600"/><stop offset=".505" stop-color="#ffbe00"/><stop offset=".526" stop-color="#e4ff1b"/><stop offset=".568" stop-color="#30ffcf"/><stop offset=".585" stop-color="#00e5ff"/><stop offset=".608" stop-color="#008eff"/><stop offset=".637" stop-color="#003eff"/></linearGradient><linearGradient id="g420" gradientUnits="userSpaceOnUse" x1="0" y1="0" x2="0" y2="263"><stop offset=".407" stop-color="#d30000"/><stop offset=".410" stop-color="#c70000"/><stop offset=".431" stop-color="#ff0900"/><stop offset=".445" stop-color="#ff3e00"/><stop offset=".462" stop-color="#ffa300"/><stop offset=".478" stop-color="#edff12"/><stop offset=".510" stop-color="#16ffe9"/><stop offset=".536" stop-color="#005bff"/></linearGradient><linearGradient id="g421" gradientUnits="userSpaceOnUse" x1="0" y1="0" x2="0" y2="263"><stop offset=".407" stop-color="#d30000"/><stop offset=".419" stop-color="#d40000"/><stop offset=".432" stop-color="#ea0000"/><stop offset=".449" stop-color="#eb0000"/><stop offset=".460" stop-color="#ff0600"/><stop offset=".505" stop-color="#ffc000"/><stop offset=".526" stop-color="#e2ff1d"/><stop offset=".568" stop-color="#2cffd3"/><stop offset=".586" stop-color="#00e1ff"/><stop offset=".608" stop-color="#008bff"/><stop offset=".640" stop-color="#002fff"/></linearGradient><linearGradient id="g422" gradientUnits="userSpaceOnUse" x1="0" y1="0" x2="0" y2="263"><stop offset=".406" stop-color="#d00000"/><stop offset=".407" stop-color="#c60000"/><stop offset=".411" stop-color="#cb0000"/><stop offset=".425" stop-color="#f50000"/><stop offset=".435" stop-color="#ff1900"/><stop offset=".450" stop-color="#ff5600"/><stop offset=".467" stop-color="#ffb900"/><stop offset=".483" stop-color="#d7ff28"/><stop offset=".515" stop-color="#03fffc"/><stop offset=".541" stop-color="#0049ff"/></linearGradient><linearGradient id="g423" gradientUnits="userSpaceOnUse" x1="0" y1="0" x2="0" y2="263"><stop offset=".406" stop-color="#d00000"/><stop offset=".432" stop-color="#df0000"/><stop offset=".450" stop-color="#dc0000"/><stop offset=".467" stop-color="#ff1300"/><stop offset=".518" stop-color="#ffea00"/><stop offset=".541" stop-color="#b0ff4f"/><stop offset=".580" stop-color="#07fff8"/><stop offset=".649" stop-color="#000dff"/></linearGradient><linearGradient id="g424" gradientUnits="userSpaceOnUse" x1="0" y1="0" x2="0" y2="263"><stop offset=".406" stop-color="#cc0000"/><stop offset=".407" stop-color="#c30000"/><stop offset=".429" stop-color="#ff0900"/><stop offset=".457" stop-color="#ff7300"/><stop offset=".473" stop-color="#ffd400"/><stop offset=".489" stop-color="#bdff42"/><stop offset=".505" stop-color="#51ffae"/><stop offset=".520" stop-color="#00ebff"/><stop offset=".546" stop-color="#0034ff"/></linearGradient><linearGradient id="g425" gradientUnits="userSpaceOnUse" x1="0" y1="0" x2="0" y2="263"><stop offset=".406" stop-color="#cc0000"/><stop offset=".447" stop-color="#cd0000"/><stop offset=".463" stop-color="#f30000"/><stop offset=".475" stop-color="#ff2300"/><stop offset=".512" stop-color="#ffc200"/><stop offset=".535" stop-color="#d9ff26"/><stop offset=".574" stop-color="#33ffcc"/><stop offset=".589" stop-color="#00f5ff"/><stop offset=".651" stop-color="#0014ff"/></linearGradient><linearGradient id="g426" gradientUnits="userSpaceOnUse" x1="0" y1="0" x2="0" y2="263"><stop offset=".406" stop-color="#cb0000"/><stop offset=".407" stop-color="#c10000"/><stop offset=".420" stop-color="#eb0000"/><stop offset=".430" stop-color="#ff1100"/><stop offset=".459" stop-color="#ff7e00"/><stop offset=".475" stop-color="#ffde00"/><stop offset=".492" stop-color="#b2ff4d"/><stop offset=".507" stop-color="#48ffb7"/><stop offset=".522" stop-color="#00e2ff"/><stop offset=".548" stop-color="#002bff"/></linearGradient><linearGradient id="g427" gradientUnits="userSpaceOnUse" x1="0" y1="0" x2="0" y2="263"><stop offset=".406" stop-color="#cb0000"/><stop offset=".448" stop-color="#c60000"/><stop offset=".466" stop-color="#fa0000"/><stop offset=".519" stop-color="#ffd900"/><stop offset=".542" stop-color="#c2ff3d"/><stop offset=".579" stop-color="#24ffdb"/><stop offset=".591" stop-color="#00f1ff"/><stop offset=".645" stop-color="#0035ff"/></linearGradient><linearGradient id="g428" gradientUnits="userSpaceOnUse" x1="0" y1="0" x2="0" y2="263"><stop offset=".406" stop-color="#c80000"/><stop offset=".407" stop-color="#bf0000"/><stop offset=".421" stop-color="#ed0000"/><stop offset=".432" stop-color="#ff1300"/><stop offset=".461" stop-color="#ff8400"/><stop offset=".478" stop-color="#ffe300"/><stop offset=".494" stop-color="#aeff51"/><stop offset=".509" stop-color="#45ffba"/><stop offset=".524" stop-color="#00e0ff"/><stop offset=".549" stop-color="#002aff"/></linearGradient><linearGradient id="g429" gradientUnits="userSpaceOnUse" x1="0" y1="0" x2="0" y2="263"><stop offset=".406" stop-color="#c80000"/><stop offset=".448" stop-color="#c80000"/><stop offset=".464" stop-color="#f00000"/><stop offset=".476" stop-color="#ff1f00"/><stop offset=".514" stop-color="#ffc100"/><stop offset=".536" stop-color="#daff25"/><stop offset=".589" stop-color="#00fbff"/><stop offset=".646" stop-color="#0031ff"/></linearGradient><linearGradient id="g430" gradientUnits="userSpaceOnUse" x1="0" y1="0" x2="0" y2="263"><stop offset=".406" stop-color="#c50000"/><stop offset=".407" stop-color="#bb0000"/><stop offset=".423" stop-color="#ee0000"/><stop offset=".434" stop-color="#ff1600"/><stop offset=".464" stop-color="#ff8b00"/><stop offset=".480" stop-color="#ffe800"/><stop offset=".497" stop-color="#a9ff56"/><stop offset=".512" stop-color="#42ffbd"/><stop offset=".526" stop-color="#00deff"/><stop offset=".561" stop-color="#0000f9"/></linearGradient><linearGradient id="g431" gradientUnits="userSpaceOnUse" x1="0" y1="0" x2="0" y2="263"><stop offset=".406" stop-color="#c50000"/><stop offset=".433" stop-color="#d10000"/><stop offset=".448" stop-color="#ca0000"/><stop offset=".462" stop-color="#e50000"/><stop offset=".473" stop-color="#ff1300"/><stop offset=".531" stop-color="#f6ff09"/><stop offset=".587" stop-color="#07fff8"/><stop offset=".643" stop-color="#0042ff"/></linearGradient><linearGradient id="g432" gradientUnits="userSpaceOnUse" x1="0" y1="0" x2="0" y2="263"><stop offset=".406" stop-color="#c40000"/><stop offset=".407" stop-color="#ba0000"/><stop offset=".433" stop-color="#ff0c00"/><stop offset=".463" stop-color="#ff7d00"/><stop offset=".479" stop-color="#ffd900"/><stop offset=".495" stop-color="#b9ff46"/><stop offset=".510" stop-color="#51ffae"/><stop offset=".524" stop-color="#00edff"/><stop offset=".566" stop-color="#0000e9"/></linearGradient><linearGradient id="g433" gradientUnits="userSpaceOnUse" x1="0" y1="0" x2="0" y2="263"><stop offset=".406" stop-color="#c40000"/><stop offset=".434" stop-color="#d30000"/><stop offset=".449" stop-color="#cd0000"/><stop offset=".462" stop-color="#e40000"/><stop offset=".473" stop-color="#ff1200"/><stop offset=".530" stop-color="#fbff04"/><stop offset=".587" stop-color="#0afff5"/><stop offset=".641" stop-color="#004cff"/></linearGradient><linearGradient id="g434" gradientUnits="userSpaceOnUse" x1="0" y1="0" x2="0" y2="263"><stop offset=".406" stop-color="#c30000"/><stop offset=".408" stop-color="#b90000"/><stop offset=".413" stop-color="#c20000"/><stop offset=".431" stop-color="#f80000"/><stop offset=".460" stop-color="#ff6500"/><stop offset=".475" stop-color="#ffbe00"/><stop offset=".491" stop-color="#d5ff2a"/><stop offset=".521" stop-color="#09fff6"/><stop offset=".552" stop-color="#003aff"/></linearGradient><linearGradient id="g435" gradientUnits="userSpaceOnUse" x1="0" y1="0" x2="0" y2="263"><stop offset=".406" stop-color="#c30000"/><stop offset=".436" stop-color="#d70000"/><stop offset=".455" stop-color="#d20000"/><stop offset=".474" stop-color="#ff1000"/><stop offset=".529" stop-color="#fffb00"/><stop offset=".586" stop-color="#0efff1"/><stop offset=".597" stop-color="#00e4ff"/><stop offset=".644" stop-color="#0043ff"/></linearGradient><linearGradient id="g436" gradientUnits="userSpaceOnUse" x1="0" y1="0" x2="0" y2="263"><stop offset=".407" stop-color="#c40000"/><stop offset=".408" stop-color="#ba0000"/><stop offset=".413" stop-color="#c30000"/><stop offset=".432" stop-color="#fa0000"/><stop offset=".460" stop-color="#ff6600"/><stop offset=".476" stop-color="#ffbe00"/><stop offset=".492" stop-color="#d5ff2a"/><stop offset=".521" stop-color="#0afff5"/><stop offset=".549" stop-color="#0049ff"/></linearGradient><linearGradient id="g437" gradientUnits="userSpaceOnUse" x1="0" y1="0" x2="0" y2="263"><stop offset=".407" stop-color="#c40000"/><stop offset=".454" stop-color="#cd0000"/><stop offset=".473" stop-color="#ff0e00"/><stop offset=".530" stop-color="#feff01"/><stop offset=".587" stop-color="#0bfff4"/><stop offset=".598" stop-color="#00e1ff"/><stop offset=".646" stop-color="#003cff"/></linearGradient><linearGradient id="g438" gradientUnits="userSpaceOnUse" x1="0" y1="0" x2="0" y2="263"><stop offset=".407" stop-color="#c50000"/><stop offset=".408" stop-color="#bb0000"/><stop offset=".414" stop-color="#c40000"/><stop offset=".432" stop-color="#fa0000"/><stop offset=".460" stop-color="#ff6600"/><stop offset=".476" stop-color="#ffbe00"/><stop offset=".492" stop-color="#d5ff2a"/><stop offset=".522" stop-color="#0afff5"/><stop offset=".547" stop-color="#0051ff"/></linearGradient><linearGradient id="g439" gradientUnits="userSpaceOnUse" x1="0" y1="0" x2="0" y2="263"><stop offset=".407" stop-color="#c50000"/><stop offset=".448" stop-color="#c40000"/><stop offset=".473" stop-color="#ff0e00"/><stop offset=".531" stop-color="#fbff04"/><stop offset=".588" stop-color="#07fff8"/><stop offset=".644" stop-color="#0044ff"/></linearGradient><linearGradient id="g440" gradientUnits="userSpaceOnUse" x1="0" y1="0" x2="0" y2="263"><stop offset=".408" stop-color="#c80000"/><stop offset=".409" stop-color="#be0000"/><stop offset=".415" stop-color="#c70000"/><stop offset=".433" stop-color="#fd0000"/><stop offset=".460" stop-color="#ff6800"/><stop offset=".476" stop-color="#ffbe00"/><stop offset=".492" stop-color="#d5ff2a"/><stop offset=".522" stop-color="#0afff5"/><stop offset=".547" stop-color="#0052ff"/></linearGradient><linearGradient id="g441" gradientUnits="userSpaceOnUse" x1="0" y1="0" x2="0" y2="263"><stop offset=".408" stop-color="#c80000"/><stop offset=".445" stop-color="#b40000"/><stop offset=".473" stop-color="#ff0b00"/><stop offset=".510" stop-color="#ffaa00"/><stop offset=".533" stop-color="#f1ff0e"/><stop offset=".591" stop-color="#00f9ff"/><stop offset=".653" stop-color="#001cff"/></linearGradient><linearGradient id="g442" gradientUnits="userSpaceOnUse" x1="0" y1="0" x2="0" y2="263"><stop offset=".409" stop-color="#cb0000"/><stop offset=".410" stop-color="#c10000"/><stop offset=".415" stop-color="#ca0000"/><stop offset=".433" stop-color="#ff0100"/><stop offset=".461" stop-color="#ff6900"/><stop offset=".477" stop-color="#ffbf00"/><stop offset=".492" stop-color="#d5ff2a"/><stop offset=".522" stop-color="#0bfff4"/><stop offset=".548" stop-color="#0052ff"/></linearGradient><linearGradient id="g443" gradientUnits="userSpaceOnUse" x1="0" y1="0" x2="0" y2="263"><stop offset=".409" stop-color="#cb0000"/><stop offset=".416" stop-color="#b30000"/><stop offset=".441" stop-color="#a20000"/><stop offset=".473" stop-color="#ff0800"/><stop offset=".512" stop-color="#ffb200"/><stop offset=".536" stop-color="#e6ff19"/><stop offset=".591" stop-color="#00f9ff"/><stop offset=".647" stop-color="#0039ff"/></linearGradient><linearGradient id="g444" gradientUnits="userSpaceOnUse" x1="0" y1="0" x2="0" y2="263"><stop offset=".409" stop-color="#cc0000"/><stop offset=".411" stop-color="#c20000"/><stop offset=".416" stop-color="#cc0000"/><stop offset=".434" stop-color="#ff0600"/><stop offset=".462" stop-color="#ff6f00"/><stop offset=".477" stop-color="#ffc400"/><stop offset=".493" stop-color="#d0ff2f"/><stop offset=".523" stop-color="#06fff9"/><stop offset=".549" stop-color="#004eff"/></linearGradient><linearGradient id="g445" gradientUnits="userSpaceOnUse" x1="0" y1="0" x2="0" y2="263"><stop offset=".409" stop-color="#cc0000"/><stop offset=".416" stop-color="#b40000"/><stop offset=".442" stop-color="#a40000"/><stop offset=".473" stop-color="#ff0a00"/><stop offset=".513" stop-color="#ffb500"/><stop offset=".536" stop-color="#e3ff1c"/><stop offset=".591" stop-color="#00f9ff"/><stop offset=".645" stop-color="#0042ff"/></linearGradient><linearGradient id="g446" gradientUnits="userSpaceOnUse" x1="0" y1="0" x2="0" y2="263"><stop offset=".412" stop-color="#d50000"/><stop offset=".414" stop-color="#cd0000"/><stop offset=".431" stop-color="#ff1200"/><stop offset=".474" stop-color="#ffb700"/><stop offset=".489" stop-color="#f5ff0a"/><stop offset=".520" stop-color="#28ffd7"/><stop offset=".533" stop-color="#00c7ff"/><stop offset=".559" stop-color="#0011ff"/></linearGradient><linearGradient id="g447" gradientUnits="userSpaceOnUse" x1="0" y1="0" x2="0" y2="263"><stop offset=".412" stop-color="#d50000"/><stop offset=".420" stop-color="#c00000"/><stop offset=".445" stop-color="#b60000"/><stop offset=".466" stop-color="#ee0000"/><stop offset=".479" stop-color="#ff2500"/><stop offset=".521" stop-color="#ffda00"/><stop offset=".545" stop-color="#bcff43"/><stop offset=".583" stop-color="#1affe5"/><stop offset=".596" stop-color="#00e1ff"/><stop offset=".651" stop-color="#002dff"/></linearGradient><linearGradient id="g448" gradientUnits="userSpaceOnUse" x1="0" y1="0" x2="0" y2="263"><stop offset=".416" stop-color="#df0000"/><stop offset=".417" stop-color="#d60000"/><stop offset=".422" stop-color="#f00000"/><stop offset=".431" stop-color="#ff1900"/><stop offset=".470" stop-color="#ffb300"/><stop offset=".486" stop-color="#fdff02"/><stop offset=".516" stop-color="#2fffd0"/><stop offset=".530" stop-color="#00cfff"/><stop offset=".556" stop-color="#0017ff"/></linearGradient><linearGradient id="g449" gradientUnits="userSpaceOnUse" x1="0" y1="0" x2="0" y2="263"><stop offset=".416" stop-color="#df0000"/><stop offset=".433" stop-color="#b80000"/><stop offset=".448" stop-color="#ac0000"/><stop offset=".464" stop-color="#cf0000"/><stop offset=".478" stop-color="#ff0600"/><stop offset=".516" stop-color="#ffa900"/><stop offset=".539" stop-color="#f1ff0e"/><stop offset=".596" stop-color="#00fdff"/><stop offset=".650" stop-color="#0041ff"/></linearGradient><linearGradient id="g450" gradientUnits="userSpaceOnUse" x1="0" y1="0" x2="0" y2="263"><stop offset=".418" stop-color="#e60000"/><stop offset=".419" stop-color="#dd0000"/><stop offset=".425" stop-color="#f90000"/><stop offset=".474" stop-color="#ffc300"/><stop offset=".489" stop-color="#f1ff0e"/><stop offset=".520" stop-color="#25ffda"/><stop offset=".533" stop-color="#00c6ff"/><stop offset=".559" stop-color="#000eff"/></linearGradient><linearGradient id="g451" gradientUnits="userSpaceOnUse" x1="0" y1="0" x2="0" y2="263"><stop offset=".418" stop-color="#e60000"/><stop offset=".444" stop-color="#e00000"/><stop offset=".464" stop-color="#ba0000"/><stop offset=".477" stop-color="#e40000"/><stop offset=".489" stop-color="#ff1400"/><stop offset=".545" stop-color="#f7ff08"/><stop offset=".603" stop-color="#04fffb"/><stop offset=".650" stop-color="#004bff"/></linearGradient><linearGradient id="g452" gradientUnits="userSpaceOnUse" x1="0" y1="0" x2="0" y2="263"><stop offset=".420" stop-color="#ea0000"/><stop offset=".421" stop-color="#e20000"/><stop offset=".431" stop-color="#ff1100"/><stop offset=".462" stop-color="#ff8a00"/><stop offset=".478" stop-color="#ffd100"/><stop offset=".493" stop-color="#c8ff37"/><stop offset=".523" stop-color="#00ffff"/><stop offset=".549" stop-color="#0043ff"/></linearGradient><linearGradient id="g453" gradientUnits="userSpaceOnUse" x1="0" y1="0" x2="0" y2="263"><stop offset=".420" stop-color="#ea0000"/><stop offset=".438" stop-color="#ff0800"/><stop offset=".454" stop-color="#ff3000"/><stop offset=".476" stop-color="#ff2800"/><stop offset=".513" stop-color="#ffbf00"/><stop offset=".533" stop-color="#eaff15"/><stop offset=".576" stop-color="#30ffcf"/><stop offset=".594" stop-color="#00e5ff"/><stop offset=".625" stop-color="#006dff"/><stop offset=".653" stop-color="#0028ff"/></linearGradient></defs><g stroke-width="0.45"><path d="M400.3 68.6L422.2 75.9L433.2 81.1L437.3 90.1L443.5 106.8L445.6 111.4L447.6 115.3L449.7 118.1L451.8 120.4L455.9 124L457.9 125.6L464.1 129.6L467.2 131L468.4 130.8L465.3 129.4L459.1 125.4L457.1 123.8L453 120.2L450.9 117.9L448.8 115.1L446.8 111.2L444.7 106.6L438.5 89.9L434.4 80.9L423.4 75.7L401.5 68.4Z" fill="url(#g0)" stroke="url(#g0)"/><path d="M398.6 68.8L409.6 70.8L420.5 73.7L431.5 77.6L433.6 79.6L435.6 82.4L437.7 85.9L439.8 90.7L445.9 108.2L448 112.8L450.1 116.8L452.1 119.7L454.2 122.1L456.3 124.1L460.4 127.4L462.5 128.8L465.5 131.7L467.7 130.9L464.6 129.5L458.4 125.5L456.4 123.9L452.3 120.3L450.2 118L448.1 115.2L446.1 111.3L444 106.7L437.8 90L433.7 81L422.7 75.9L400.8 68.5Z" fill="url(#g1)" stroke="url(#g1)"/><path d="M396.9 68.9L407.9 70.7L418.9 73.3L429.8 77.1L431.9 78.3L434 80.4L436 83.4L438.1 87L440.1 92.1L446.3 109.2L448.4 113.9L450.5 117.9L452.5 120.9L454.6 123.3L456.6 125.3L460.8 128.7L463.9 132L466.1 131.6L463 128.7L460.9 127.3L456.8 124L454.7 122L452.6 119.6L450.6 116.7L448.5 112.7L446.5 108.1L440.3 90.6L438.2 85.8L436.1 82.3L434.1 79.5L432 77.5L421.1 73.6L410.1 70.8L399.1 68.7Z" fill="url(#g2)" stroke="url(#g2)"/><path d="M395.8 69L428.6 80.5L430.7 81.6L432.8 83.4L434.8 86.5L436.9 90.1L438.9 95.2L443.1 106.9L447.2 116.3L451.3 122.2L453.4 124.3L455.5 126.3L457.5 127.9L462.7 131.4L464.4 131.9L461.3 128.6L457.1 125.3L455.1 123.2L453 120.8L451 117.8L448.9 113.8L446.8 109.1L440.6 92L438.6 86.9L436.5 83.3L434.5 80.4L432.4 78.2L430.3 77.1L419.4 73.3L408.4 70.6L397.5 68.8Z" fill="url(#g3)" stroke="url(#g3)"/><path d="M395.3 69L406.2 73.8L417.2 77.9L428.1 81.8L430.2 83L432.3 84.9L434.3 87.7L436.4 91.6L438.5 96.6L442.6 108L446.7 117.1L448.8 120.2L450.8 122.9L455 127L459.1 130.1L462.2 134L463.2 131.3L458 127.9L456 126.2L453.9 124.2L451.8 122.1L447.7 116.2L443.6 106.8L439.5 95.2L437.4 90L435.3 86.4L433.3 83.4L431.2 81.5L429.1 80.4L396.3 68.9Z" fill="url(#g4)" stroke="url(#g4)"/><path d="M395 69L406 73.7L427.9 81.7L429.9 83L432 85.1L434.1 88L436.1 92.1L438.2 97.1L442.3 108.6L446.4 117.5L448.5 120.7L450.6 123.3L454.7 127.4L458.8 130.4L461.9 134.2L462.7 133.9L459.6 130L455.5 127L451.3 122.8L449.3 120.2L447.2 117L443.1 108L439 96.5L436.9 91.5L434.8 87.6L432.8 84.8L430.7 82.9L428.6 81.7L417.7 77.9L406.7 73.7L395.8 68.9Z" fill="url(#g5)" stroke="url(#g5)"/><path d="M394.2 69.1L405.2 73.4L427.1 81.3L429.2 83.1L433.3 88.6L437.4 98.9L441.6 109.9L443.6 114.5L445.7 118L447.7 121.1L451.9 125.6L453.9 127.5L456 129.1L461.2 132.3L462.4 134.1L459.3 130.3L455.2 127.3L451.1 123.2L449 120.6L446.9 117.4L442.8 108.5L438.7 97L436.6 92L434.6 87.9L432.5 85.1L430.4 82.9L428.4 81.6L406.5 73.6L395.5 69Z" fill="url(#g6)" stroke="url(#g6)"/><path d="M393.6 69.2L415.5 77L426.5 81.2L428.5 83.3L430.6 86.3L432.6 89.8L434.7 95L438.8 106.4L443 115.7L447.1 121.7L451.2 126.1L453.3 128L457.4 130.8L460.5 133.2L461.7 132.2L456.5 129L454.4 127.4L452.4 125.5L448.3 121.1L446.2 117.9L444.1 114.4L442.1 109.8L437.9 98.8L433.8 88.6L429.7 83L427.6 81.2L405.7 73.3L394.7 69Z" fill="url(#g7)" stroke="url(#g7)"/><path d="M393 69.3L414.9 76.9L425.8 81.7L430 88.6L434.1 99.2L436.2 105.1L440.3 114.6L444.4 120.7L448.5 125.2L450.6 127.1L452.7 129L456.8 131.6L459.9 132.9L461 133.1L457.9 130.7L453.8 127.9L451.7 126L447.6 121.6L443.5 115.7L439.3 106.3L435.2 94.9L433.2 89.7L431.1 86.2L429 83.2L427 81.1L416 76.9L394.1 69.1Z" fill="url(#g8)" stroke="url(#g8)"/><path d="M392.2 69.4L414.1 76.8L425.1 82.4L433.3 104.8L437.5 114.2L441.6 120.8L445.7 126.4L447.8 128.5L451.9 132.1L454 133.5L456 134.4L459.1 141.1L460.4 132.8L457.3 131.5L453.2 128.9L451.1 127L449 125.1L444.9 120.6L440.8 114.5L436.7 105L434.6 99.1L430.5 88.5L426.3 81.6L415.4 76.8L393.5 69.2Z" fill="url(#g9)" stroke="url(#g9)"/><path d="M391.9 69.4L413.8 76.8L424.8 83.1L426.8 90L428.9 95.3L433 106.8L437.2 115.4L441.3 121.1L445.4 126.1L447.5 128.2L451.6 131.7L453.7 133L455.7 133.7L458.8 138.1L459.6 141L456.5 134.3L454.5 133.4L452.4 132.1L448.3 128.5L446.2 126.3L442.1 120.8L438 114.1L433.8 104.7L425.6 82.3L414.6 76.7L392.7 69.3Z" fill="url(#g10)" stroke="url(#g10)"/><path d="M391.4 69.5L413.4 77.4L424.3 82.6L428.4 92.1L434.6 108.4L436.7 112.9L438.8 116.6L440.8 119.4L445 124.2L449.1 128.3L451.1 130L455.3 132.7L458.4 135.6L459.3 138L456.2 133.6L454.2 132.9L452.1 131.6L448 128.1L445.9 126L441.8 121L437.7 115.3L433.5 106.7L429.4 95.2L427.3 90L425.3 83L414.3 76.7L392.4 69.3Z" fill="url(#g11)" stroke="url(#g11)"/><path d="M390.2 69.8L401.2 74.7L412.1 78.9L423.1 82.8L425.2 84.1L427.2 86.3L429.3 89L431.3 93.2L433.4 98.1L437.5 109.4L441.7 118.2L443.7 121.4L445.8 124.2L449.9 128.7L452 130.3L457.1 133.9L458.9 135.6L455.8 132.6L451.6 129.9L449.6 128.2L445.5 124.1L441.3 119.4L439.3 116.5L437.2 112.8L435.1 108.3L429 92L424.8 82.6L413.9 77.3L391.9 69.5Z" fill="url(#g12)" stroke="url(#g12)"/><path d="M388.5 70.4L421.4 82.3L423.5 84.2L427.6 90.6L431.7 101.2L433.8 107.1L437.9 116.6L442 123L446.2 127.8L448.2 129.9L455.5 134.8L457.6 133.8L452.5 130.2L450.4 128.6L446.3 124.1L444.2 121.4L442.2 118.1L438 109.4L433.9 98L431.9 93.1L429.8 88.9L427.7 86.2L425.7 84.1L423.6 82.8L412.6 78.9L401.7 74.6L390.7 69.8Z" fill="url(#g13)" stroke="url(#g13)"/><path d="M386.9 71L408.8 78.3L419.7 82.1L421.8 83.8L423.9 86.2L425.9 89.3L428 93.7L430 99L434.2 110.5L438.3 119.3L440.4 122.7L444.5 128L446.5 130.2L450.7 133.3L453.8 136.2L456 134.7L448.7 129.8L446.7 127.7L442.5 123L438.4 116.5L434.3 107L432.2 101.1L428.1 90.5L424 84.2L421.9 82.2L389 70.3Z" fill="url(#g14)" stroke="url(#g14)"/><path d="M385.2 71.7L396.1 74.7L407.1 78.1L418 82.5L422.2 88.7L424.2 93.2L430.4 110.4L432.5 115L434.6 119L438.7 125L440.7 127.6L444.9 132L449 134.8L452.1 137.2L454.3 136.1L451.2 133.2L447.1 130.1L445 127.9L440.9 122.6L438.8 119.3L434.7 110.4L430.5 98.9L428.5 93.6L426.4 89.2L424.4 86.1L422.3 83.7L420.2 82.1L409.3 78.2L387.4 70.9Z" fill="url(#g15)" stroke="url(#g15)"/><path d="M385.1 71.7L396.1 74.7L407 78.1L418 82.5L422.1 88.7L424.2 93.2L430.4 110.4L432.4 115L434.5 119L438.6 125.1L440.7 127.6L444.8 132L448.9 134.9L452 139.5L452.6 137.1L449.5 134.7L445.4 131.9L441.2 127.5L439.2 125L435.1 118.9L433 114.9L430.9 110.3L424.7 93.1L422.7 88.6L418.6 82.4L407.6 78L396.6 74.6L385.7 71.6Z" fill="url(#g16)" stroke="url(#g16)"/><path d="M384.4 72L395.3 74.9L406.3 78.1L417.2 82.7L421.4 89.3L425.5 99.7L429.6 111.4L431.7 116.1L433.7 120.1L437.9 126.7L439.9 129.3L444.1 133.7L448.2 136.5L451.3 142.2L452.5 139.4L449.4 134.9L445.3 132L441.2 127.5L439.1 125L435 118.9L432.9 115L430.9 110.4L424.7 93.2L422.6 88.6L418.5 82.4L407.5 78L396.6 74.7L385.6 71.6Z" fill="url(#g17)" stroke="url(#g17)"/><path d="M383.6 72.2L394.6 75L405.5 78.2L416.5 82.9L420.6 89.9L428.9 112.3L430.9 116.9L433 120.3L435.1 123.5L437.1 126.1L439.2 128.6L443.3 133L450.5 137.6L451.8 142.1L448.7 136.4L444.6 133.7L440.4 129.2L438.4 126.6L434.2 120L432.2 116L430.1 111.3L426 99.6L421.9 89.2L417.7 82.6L406.8 78L395.8 74.8L384.9 71.9Z" fill="url(#g18)" stroke="url(#g18)"/><path d="M383.5 72.3L394.4 75L405.4 78.2L416.4 82.9L420.5 89.9L428.7 112.5L430.8 117.1L432.9 120.4L434.9 123.6L437 126.2L439.1 128.7L443.2 133.1L447.3 135.8L450.4 137.3L451 137.6L443.8 133L439.7 128.6L437.6 126L435.6 123.4L433.5 120.2L431.4 116.9L429.4 112.3L421.1 89.8L417 82.8L406 78.1L395.1 74.9L384.1 72.2Z" fill="url(#g19)" stroke="url(#g19)"/><path d="M381.8 72.6L392.8 75.4L403.7 78.5L414.7 83.1L418.8 89.9L422.9 100.6L427.1 112.3L429.1 116.9L431.2 120.5L435.3 126.4L437.4 129L441.5 133.6L445.6 136.2L448.7 137.7L450.9 137.2L447.8 135.7L443.7 133L439.6 128.6L437.5 126.1L435.4 123.5L433.4 120.3L431.3 117L429.2 112.4L421 89.9L416.9 82.8L405.9 78.1L394.9 74.9L384 72.2Z" fill="url(#g20)" stroke="url(#g20)"/><path d="M380.1 72.7L402 79.3L413 83.7L415.1 86.4L417.1 89.6L419.2 93.8L421.3 99.1L425.4 110.9L429.5 119.7L433.6 126.1L439.8 133.5L447 138.5L449.2 137.6L446.1 136.2L442 133.5L437.9 129L435.8 126.4L431.7 120.4L429.6 116.8L427.6 112.2L423.4 100.5L419.3 89.8L415.2 83L404.2 78.5L393.3 75.3L382.3 72.6Z" fill="url(#g21)" stroke="url(#g21)"/><path d="M378.4 72.4L389.4 75.2L400.4 78.4L411.3 83.7L415.4 93.9L421.6 111.2L423.7 115.9L425.8 119.6L431.9 127.6L436.1 132.4L438.1 134.4L442.3 137L445.4 138.2L447.5 138.4L440.3 133.4L434.1 126L430 119.6L425.9 110.8L421.8 99L419.7 93.7L417.6 89.5L415.6 86.3L413.5 83.6L402.5 79.3L380.6 72.6Z" fill="url(#g22)" stroke="url(#g22)"/><path d="M377.4 72.2L399.3 80L410.3 85.1L414.4 93.3L416.5 98.4L420.6 109.9L424.7 118.6L430.9 127L437.1 134.1L441.2 136.8L444.3 138.5L445.9 138.1L442.8 136.9L438.6 134.3L436.6 132.3L432.5 127.6L426.3 119.5L424.2 115.9L422.1 111.1L415.9 93.8L411.8 83.6L400.9 78.3L389.9 75.1L378.9 72.3Z" fill="url(#g23)" stroke="url(#g23)"/><path d="M376.8 72.1L387.7 76.9L398.7 81.1L409.6 86L413.8 92.9L415.8 97.8L419.9 108.8L424.1 118.1L428.2 124.6L432.3 130.2L436.5 134.9L440.6 137.6L443.7 142.5L444.8 138.4L441.7 136.7L437.6 134L431.4 127L425.2 118.5L421.1 109.8L417 98.3L414.9 93.2L410.8 85L399.8 79.9L377.9 72.1Z" fill="url(#g24)" stroke="url(#g24)"/><path d="M376.7 72.1L387.6 76.8L398.6 80.9L409.5 85.7L413.7 92.5L417.8 102.7L419.9 108.4L424 117.9L428.1 124.6L432.2 130.3L436.4 135L440.5 137.7L443.6 142L444.2 142.4L441.1 137.6L437 134.8L432.8 130.1L428.7 124.5L424.6 118L420.5 108.7L416.3 97.7L414.3 92.8L410.1 85.9L399.2 81L388.2 76.8L377.3 72Z" fill="url(#g25)" stroke="url(#g25)"/><path d="M375.9 72.1L397.8 79.4L408.8 83.8L412.9 89.9L415 94.4L417 99.6L421.2 111.1L423.2 115.7L425.3 119.5L429.4 125.9L431.5 128.6L435.6 133.5L442.8 138.4L444.1 141.9L441 137.6L436.9 134.9L432.7 130.2L428.6 124.5L424.5 117.8L420.4 108.3L418.3 102.7L414.2 92.4L410 85.7L399.1 80.8L388.1 76.7L377.2 72Z" fill="url(#g26)" stroke="url(#g26)"/><path d="M375.6 72L397.5 78.8L408.5 83.1L410.6 85.9L412.6 89L414.7 93.3L416.8 98.6L420.9 110.4L425 119.1L429.1 125.6L435.3 133.4L439.5 136.2L442.5 139L443.3 138.3L436.1 133.4L432 128.6L429.9 125.8L425.8 119.5L423.7 115.6L421.7 111L417.5 99.5L415.5 94.3L413.4 89.8L409.3 83.7L398.3 79.3L376.4 72Z" fill="url(#g27)" stroke="url(#g27)"/><path d="M375.1 72L386 74.6L397 77.6L408 81.7L410 84L414.1 91L420.3 108.5L422.4 113.5L424.5 118.3L428.6 125.8L432.7 131.3L434.8 133.7L438.9 136.7L442 142.2L443.1 138.9L440 136.1L435.8 133.3L429.6 125.6L425.5 119L421.4 110.3L417.3 98.5L415.2 93.2L413.1 88.9L411.1 85.8L409 83L398.1 78.7L376.1 72Z" fill="url(#g28)" stroke="url(#g28)"/><path d="M374.9 72L385.8 74.6L396.8 77.7L407.8 81.9L409.8 84.4L411.9 87.8L413.9 91.7L420.1 109.3L424.3 119L428.4 126.2L430.4 129.1L434.6 134.1L438.7 137L441.8 142.2L442.5 142.1L439.4 136.6L435.3 133.6L433.2 131.2L429.1 125.7L425 118.3L422.9 113.5L420.8 108.4L414.6 90.9L410.5 83.9L408.5 81.6L397.5 77.6L386.5 74.5L375.6 71.9Z" fill="url(#g29)" stroke="url(#g29)"/><path d="M374.1 72.2L385.1 74.9L396 78.1L407 82.7L411.1 89.5L415.2 100.1L419.4 111.8L421.4 116.4L423.5 120L427.6 126.3L429.7 129L433.8 133.9L441 138.6L442.3 142.1L439.2 137L435.1 134.1L430.9 129L428.9 126.2L424.8 118.9L420.6 109.3L414.4 91.7L412.4 87.7L410.3 84.4L408.3 81.8L397.3 77.7L386.3 74.5L375.4 72Z" fill="url(#g30)" stroke="url(#g30)"/><path d="M373.4 72.3L384.4 75.2L395.3 78.5L406.3 83.5L410.4 91.8L412.5 97.3L416.6 109.3L420.7 118.5L426.9 127.1L433.1 134.4L440.3 139L441.5 138.6L434.3 133.8L430.2 128.9L428.1 126.2L424 119.9L421.9 116.3L419.9 111.7L415.8 100.1L411.6 89.4L407.5 82.6L396.5 78L385.6 74.8L374.6 72.1Z" fill="url(#g31)" stroke="url(#g31)"/><path d="M371.7 73L404.6 84.5L406.6 85.6L408.7 87.5L410.8 90.5L412.8 94.1L414.9 99.3L419 111L423.2 120.7L425.2 124.4L427.3 127.8L431.4 133.2L435.5 136.4L438.6 139.1L440.8 138.9L433.6 134.3L427.4 127L421.2 118.4L417.1 109.2L413 97.2L410.9 91.8L406.8 83.4L395.8 78.4L384.9 75.1L373.9 72.2Z" fill="url(#g32)" stroke="url(#g32)"/><path d="M370 73.8L402.9 85.2L405 86.8L407 89.2L409.1 92.2L411.2 96.7L413.2 101.9L417.3 113.4L421.5 122.3L423.5 126L425.6 129.1L429.7 134.4L431.8 136.1L436.9 139.6L439.1 139L436 136.3L431.9 133.1L427.8 127.7L425.7 124.3L423.7 120.6L419.5 110.9L415.4 99.2L413.3 94.1L411.3 90.4L409.2 87.4L407.2 85.6L405.1 84.4L372.2 72.9Z" fill="url(#g33)" stroke="url(#g33)"/><path d="M368.3 74.3L390.3 81.2L401.2 85.1L403.3 86.8L405.3 89.3L407.4 92.5L409.5 97.1L411.5 102.5L415.7 114L419.8 122.9L421.9 126.6L423.9 129.7L428 135L430.1 136.7L435.3 140.2L437.4 139.5L432.3 136L430.2 134.3L426.1 129L424 125.9L422 122.2L417.8 113.3L413.7 101.8L411.7 96.6L409.6 92.1L407.5 89.1L405.5 86.7L403.4 85.1L370.5 73.7Z" fill="url(#g34)" stroke="url(#g34)"/><path d="M367.9 74.4L389.8 81.2L400.8 85.1L402.8 86.7L404.9 89.1L407 92.2L409 96.6L415.2 113.6L419.3 122.7L421.4 126.4L423.5 129.6L427.6 134.9L431.7 138.1L434.8 142.7L435.8 140.1L430.6 136.6L428.5 134.9L424.4 129.6L422.4 126.5L420.3 122.8L416.2 113.9L412 102.4L410 97.1L407.9 92.4L405.9 89.3L403.8 86.7L401.7 85L390.8 81.1L368.8 74.2Z" fill="url(#g35)" stroke="url(#g35)"/><path d="M367.1 74.4L389.1 81.3L400 85.2L402.1 86.6L404.1 88.6L406.2 91.8L408.3 95.7L410.3 101L414.5 112.8L418.6 122.6L420.6 126.4L422.7 129.8L426.8 135.3L431 138.4L434.1 141.9L435.3 142.6L432.2 138L428.1 134.8L424 129.5L421.9 126.3L419.8 122.6L415.7 113.5L409.5 96.5L407.5 92.1L405.4 89L403.3 86.6L401.3 85L390.3 81.1L368.4 74.3Z" fill="url(#g36)" stroke="url(#g36)"/><path d="M366.7 74.5L388.6 81.4L399.5 85.3L401.6 86.5L403.7 88.4L405.7 91.5L407.8 95.1L409.9 100.4L414 112.1L418.1 122.1L420.2 125.9L422.2 129.4L426.4 134.9L430.5 138L433.6 140.7L434.6 141.8L431.5 138.3L427.3 135.2L423.2 129.8L421.2 126.3L419.1 122.5L415 112.7L410.8 100.9L408.8 95.6L406.7 91.7L404.6 88.6L402.6 86.5L400.5 85.1L389.6 81.2L367.6 74.3Z" fill="url(#g37)" stroke="url(#g37)"/><path d="M366.4 74.4L388.3 81.6L399.3 85.5L401.3 86.7L403.4 88.6L405.5 91.7L407.5 95.3L409.6 100.6L413.7 112.3L417.8 122.1L419.9 125.8L422 129.3L426.1 134.7L430.2 137.9L433.3 141.2L434.1 140.6L431 138L426.9 134.8L422.7 129.3L420.7 125.8L418.6 122L414.5 112L410.4 100.3L408.3 95L406.2 91.4L404.2 88.3L402.1 86.4L400 85.2L389.1 81.3L367.2 74.4Z" fill="url(#g38)" stroke="url(#g38)"/><path d="M365.6 74.4L376.5 78.5L398.4 86.2L400.5 87.4L402.6 89.3L404.6 92.3L406.7 96L408.8 101.1L412.9 112.8L417 122.2L419.1 125.9L421.1 129.3L425.3 134.7L427.3 136.4L432.5 139.9L433.8 141.1L430.7 137.9L426.6 134.6L422.5 129.2L420.4 125.7L418.3 122L414.2 112.2L410.1 100.5L408 95.3L406 91.6L403.9 88.5L401.8 86.6L399.8 85.4L388.8 81.6L366.9 74.4Z" fill="url(#g39)" stroke="url(#g39)"/><path d="M365 74.3L375.9 78.8L397.9 86.8L399.9 87.9L402 89.8L404 92.7L406.1 96.5L408.2 101.5L412.3 113.1L416.4 122.8L418.5 126.7L420.5 130.1L424.7 135.5L428.8 138.6L431.9 142.7L433 139.8L427.8 136.4L425.8 134.7L421.6 129.2L419.6 125.9L417.5 122.2L413.4 112.7L409.3 101L407.2 95.9L405.1 92.2L403.1 89.2L401 87.4L399 86.2L377 78.4L366.1 74.3Z" fill="url(#g40)" stroke="url(#g40)"/><path d="M364.8 74.3L375.8 78.7L397.7 86.6L399.8 87.9L401.8 90L403.9 92.8L405.9 96.9L408 101.9L412.1 113.5L416.3 123.2L418.3 127.1L420.4 130.4L424.5 135.7L426.6 137.4L428.6 138.8L431.7 143.5L432.4 142.6L429.3 138.5L425.2 135.4L421.1 130L419 126.6L416.9 122.7L412.8 113L408.7 101.4L406.6 96.4L404.5 92.6L402.5 89.7L400.4 87.9L398.4 86.7L376.4 78.7L365.5 74.2Z" fill="url(#g41)" stroke="url(#g41)"/><path d="M364.1 74.1L386 81.7L396.9 85.7L399 87.6L403.1 93.7L407.2 104.3L409.3 110.2L411.4 115.3L413.4 119.9L417.6 127.2L423.8 135.2L431 140.5L432.2 143.4L429.1 138.7L427.1 137.4L425 135.7L420.9 130.3L418.8 127L416.8 123.1L412.6 113.4L408.5 101.8L406.4 96.8L404.4 92.7L402.3 89.9L400.3 87.8L398.2 86.5L376.3 78.6L365.3 74.2Z" fill="url(#g42)" stroke="url(#g42)"/><path d="M363.3 74L385.2 80.7L396.2 85.1L400.3 91.1L402.4 95.5L404.4 100.8L408.6 112.5L412.7 121.2L416.8 127.7L423 135.6L427.1 138.4L430.2 140L431.5 140.4L424.3 135.1L418.1 127.1L413.9 119.8L411.9 115.2L409.8 110.1L407.8 104.2L403.6 93.6L399.5 87.5L397.4 85.6L386.5 81.6L364.6 74Z" fill="url(#g43)" stroke="url(#g43)"/><path d="M362.4 73.9L373.4 76.7L384.4 80L395.3 84.2L397.4 86.7L399.4 90L401.5 93.9L403.6 99.3L407.7 111.3L411.8 120.5L415.9 127.3L422.1 135.2L426.3 138.1L429.3 140.7L430.7 139.9L427.6 138.3L423.5 135.5L417.3 127.7L413.2 121.1L409.1 112.4L404.9 100.7L402.9 95.4L400.8 91L396.7 85L385.7 80.7L363.8 73.9Z" fill="url(#g44)" stroke="url(#g44)"/><path d="M361.7 73.8L372.6 76.2L383.6 79.3L394.6 83.3L396.6 85.6L400.7 92.5L406.9 110L411.1 120.6L415.2 129.1L417.2 132.1L421.4 137.3L425.5 140.3L428.6 149.5L429.9 140.6L426.8 138L422.6 135.2L416.4 127.2L412.3 120.5L408.2 111.2L404.1 99.3L402 93.8L399.9 89.9L397.9 86.6L395.8 84.1L384.9 79.9L373.9 76.6L362.9 73.8Z" fill="url(#g45)" stroke="url(#g45)"/><path d="M361.6 73.8L372.6 76.2L383.5 79.2L394.5 83.2L396.6 85.5L400.7 92.4L406.9 109.9L408.9 115.2L411 120.4L415.1 128.9L417.2 131.9L421.3 137.1L425.4 140.1L428.5 148.8L429.1 149.5L426 140.2L421.9 137.2L417.8 132L415.7 129L411.6 120.5L407.4 110L401.2 92.4L397.1 85.5L395.1 83.2L384.1 79.2L373.1 76.2L362.2 73.7Z" fill="url(#g46)" stroke="url(#g46)"/><path d="M360.9 73.8L371.9 76.8L382.8 80.2L393.8 84.6L397.9 90.8L400 95.4L406.2 112.6L408.2 117.2L410.3 121.1L414.4 127.6L416.5 130.5L420.6 135.5L427.8 140.2L429 148.7L425.9 140L421.8 137L417.7 131.8L415.6 128.8L411.5 120.3L409.4 115.1L407.4 109.9L401.2 92.3L397.1 85.5L395 83.2L384 79.1L373.1 76.1L362.1 73.7Z" fill="url(#g47)" stroke="url(#g47)"/><path d="M359.9 73.8L381.8 81.5L392.8 86.5L396.9 94.5L399 99.7L403.1 111.2L407.2 120.1L413.4 128.7L419.6 136.1L423.8 138.8L426.8 140.1L428.3 140.1L421.1 135.4L417 130.4L414.9 127.6L410.8 121.1L408.7 117.1L406.7 112.5L400.5 95.3L398.4 90.8L394.3 84.5L383.3 80.1L372.4 76.7L361.4 73.7Z" fill="url(#g48)" stroke="url(#g48)"/><path d="M358.2 74.1L369.2 79.2L380.2 83.6L391.1 90.3L393.2 97.6L397.3 108L399.4 113.1L401.4 117.2L403.5 120.7L405.6 123.5L407.6 125.6L413.8 133.1L417.9 137.4L420 138.7L425.2 140.5L427.4 140L424.3 138.7L420.1 136L413.9 128.6L407.8 120L403.6 111.1L399.5 99.6L397.4 94.4L393.3 86.4L382.4 81.4L360.4 73.7Z" fill="url(#g49)" stroke="url(#g49)"/><path d="M356.6 74.6L367.5 80.1L378.5 84.6L389.4 91.2L391.5 98.2L393.6 102.9L397.7 113.4L399.8 117.5L401.8 121L403.9 123.8L405.9 126L412.1 133.5L416.3 137.9L418.3 139.2L420.4 139.9L423.5 141.7L425.7 140.4L420.5 138.6L418.4 137.4L414.3 133L408.1 125.5L406.1 123.4L404 120.6L401.9 117.2L399.9 113L397.8 108L393.7 97.5L391.6 90.2L380.7 83.5L369.7 79.1L358.8 74.1Z" fill="url(#g50)" stroke="url(#g50)"/><path d="M355.5 75L366.5 79.4L377.4 83.5L388.4 88.7L392.5 97.1L394.6 102.2L398.7 113.2L402.8 121.7L409 130.2L413.1 135.2L415.2 137.5L419.3 140.2L422.4 141.7L424 141.6L420.9 139.8L418.8 139.2L416.8 137.8L412.6 133.4L406.5 125.9L404.4 123.7L402.3 120.9L400.3 117.4L398.2 113.3L394.1 102.8L392 98.1L389.9 91.1L379 84.5L368 80L357.1 74.6Z" fill="url(#g51)" stroke="url(#g51)"/><path d="M354.9 75.2L376.8 82.8L387.8 87.5L391.9 93.9L400.1 115.3L402.2 120L406.3 127.1L410.5 133.1L414.6 138.1L418.7 140.8L421.8 145.4L422.9 141.6L419.8 140.1L415.7 137.4L413.6 135.1L409.5 130.1L403.3 121.6L399.2 113.2L395.1 102.1L393 97.1L388.9 88.6L377.9 83.4L367 79.4L356 74.9Z" fill="url(#g52)" stroke="url(#g52)"/><path d="M354.8 75.2L376.7 82.9L387.6 87.5L391.8 93.8L395.9 104L400 115.1L402.1 119.8L406.2 127.1L410.3 133.3L414.4 138.2L418.6 141L421.7 145.6L422.3 145.3L419.2 140.8L415.1 138L411 133L406.8 127L402.7 119.9L400.6 115.2L392.4 93.8L388.3 87.4L377.3 82.7L355.4 75.1Z" fill="url(#g53)" stroke="url(#g53)"/><path d="M354 75.4L375.9 83.2L386.9 87.6L391 93.2L393.1 97.3L395.1 102.5L399.2 113.9L403.4 122.6L407.5 129.2L413.7 137.1L417.8 140L420.9 142.7L422.2 145.5L419.1 140.9L415 138.2L410.8 133.2L406.7 127L402.6 119.7L400.5 115L396.4 103.9L392.3 93.7L388.1 87.4L377.2 82.8L355.3 75.1Z" fill="url(#g54)" stroke="url(#g54)"/><path d="M353.2 75.7L386.1 87.7L388.1 89.6L392.3 95.9L396.4 106.5L398.5 112.4L400.5 117.3L402.6 121.9L406.7 129L412.9 137L420.1 142.2L421.4 142.6L418.3 139.9L414.2 137.1L408 129.1L403.9 122.5L399.8 113.8L395.6 102.4L393.6 97.2L391.5 93.1L387.4 87.5L376.4 83.1L354.5 75.3Z" fill="url(#g55)" stroke="url(#g55)"/><path d="M351.5 76L362.5 78.4L373.4 81.5L384.4 85.3L386.5 86.5L388.5 88.4L392.6 94.9L396.8 105.8L398.8 111.8L403 122.2L405 126.6L407.1 130.3L411.2 136.1L418.4 142L420.6 142.1L413.4 136.9L407.2 128.9L403.1 121.8L401 117.2L399 112.3L396.9 106.4L392.8 95.9L388.6 89.6L386.6 87.6L353.7 75.6Z" fill="url(#g56)" stroke="url(#g56)"/><path d="M350.8 76.1L361.8 79L372.7 82.3L383.7 86.2L385.8 87.8L387.8 90.2L389.9 93.4L392 97.7L398.1 114.9L402.3 124.3L404.3 128L406.4 131.4L410.5 136.8L417.7 142.6L418.9 141.9L411.7 136L407.6 130.3L405.5 126.5L403.5 122.1L399.3 111.7L397.3 105.7L393.2 94.8L389 88.4L387 86.4L384.9 85.2L373.9 81.4L363 78.4L352 75.9Z" fill="url(#g57)" stroke="url(#g57)"/><path d="M350.1 76.3L372 83.2L382.9 87.2L385 89.3L389.1 95.7L393.3 106.6L395.3 112.6L397.4 117.8L399.4 122.8L403.6 130.9L407.7 136.6L409.8 139.1L411.8 140.7L413.9 142.1L417 148.2L418.2 142.5L411 136.8L406.9 131.3L404.8 127.9L402.8 124.2L398.6 114.9L392.5 97.6L390.4 93.3L388.3 90.1L386.3 87.7L384.2 86.1L373.2 82.2L362.3 79L351.3 76.1Z" fill="url(#g58)" stroke="url(#g58)"/><path d="M349.8 76.3L371.8 83.5L382.7 87.7L384.8 90L386.8 93.1L388.9 96.8L391 102L395.1 113.7L399.2 123.4L403.3 130.8L405.4 133.7L409.5 138.9L413.7 141.8L416.8 147.8L417.5 148.1L414.4 142L412.3 140.7L410.3 139L408.2 136.5L404.1 130.8L399.9 122.7L397.9 117.7L395.8 112.5L393.8 106.5L389.6 95.7L385.5 89.2L383.4 87.2L372.5 83.1L350.6 76.2Z" fill="url(#g59)" stroke="url(#g59)"/><path d="M349.3 76.4L371.2 84L382.2 88.7L386.3 95L390.4 105.3L392.5 111.2L394.6 116.4L396.6 121L398.7 124.4L402.8 130.7L404.9 133.5L409 138.5L413.1 141.3L416.2 145L417.3 147.7L414.2 141.8L410 138.8L405.9 133.6L403.8 130.7L399.7 123.3L395.6 113.6L391.5 102L389.4 96.7L387.3 93L385.3 89.9L383.2 87.6L372.3 83.4L350.3 76.2Z" fill="url(#g60)" stroke="url(#g60)"/><path d="M348.2 76.5L359.1 81.1L370.1 85.2L381 91.1L383.1 97L385.2 101.9L389.3 113L393.4 121.9L401.7 132.5L407.8 139.6L409.9 141L412 141.9L415.1 143.9L416.7 144.9L413.6 141.3L409.5 138.4L405.4 133.4L403.3 130.6L399.2 124.3L397.1 120.9L395.1 116.3L393 111.1L390.9 105.2L386.8 94.9L382.7 88.6L371.7 83.9L349.8 76.3Z" fill="url(#g61)" stroke="url(#g61)"/><path d="M346.8 76.7L357.8 79.6L368.7 82.9L379.7 88.2L383.8 98.4L390 115.6L392.1 120.3L394.1 123.9L400.3 132.1L404.5 137L406.5 139.1L410.6 141.6L413.7 142.7L415.6 143.8L412.5 141.9L410.4 141L408.4 139.5L402.2 132.4L393.9 121.8L389.8 112.9L385.7 101.9L383.6 96.9L381.5 91L370.6 85.1L359.6 81L348.7 76.5Z" fill="url(#g62)" stroke="url(#g62)"/><path d="M346.5 76.8L357.4 79.2L368.4 82.2L379.3 87.4L383.5 97.5L389.7 115.1L391.7 119.9L393.8 123.8L400 132.9L402 135.4L406.2 139.9L410.3 142.6L413.4 146.8L414.2 142.6L411.2 141.5L407 139L405 136.9L400.8 132L394.6 123.9L392.6 120.3L390.5 115.6L384.3 98.3L380.2 88.1L369.2 82.8L358.3 79.5L347.3 76.6Z" fill="url(#g63)" stroke="url(#g63)"/><path d="M346.1 76.8L357 79.6L368 82.8L378.9 88L383.1 97.6L389.3 115L393.4 123.9L399.6 133.8L401.6 136.5L405.8 141L409.9 143.7L413 150.8L413.9 146.7L410.8 142.5L406.7 139.9L402.5 135.3L400.5 132.8L394.3 123.8L392.2 119.8L390.2 115.1L384 97.4L379.9 87.4L368.9 82.1L357.9 79.1L347 76.7Z" fill="url(#g64)" stroke="url(#g64)"/><path d="M345.3 77L367.2 83.9L378.2 89L382.3 97.8L384.4 103.1L388.5 114.7L392.6 123.5L398.8 131.8L402.9 136.5L405 138.6L412.2 143.7L413.5 150.7L410.4 143.6L406.3 140.9L402.1 136.4L400.1 133.8L393.9 123.8L389.8 114.9L383.6 97.5L379.5 87.9L368.5 82.7L357.5 79.5L346.6 76.8Z" fill="url(#g65)" stroke="url(#g65)"/><path d="M344.8 77L366.7 84.7L377.7 89.7L381.8 97.9L383.9 103.1L388 114.6L392.1 123.4L398.3 131.7L404.5 138.5L408.6 141.2L411.7 142.4L412.7 143.6L405.5 138.5L403.4 136.4L399.3 131.7L393.1 123.4L389 114.7L384.9 103L382.8 97.7L378.7 88.9L367.7 83.8L345.8 76.9Z" fill="url(#g66)" stroke="url(#g66)"/><path d="M343.1 77.4L354.1 80.2L365 83.5L376 88.1L380.1 94.8L384.2 105.4L388.4 117L390.4 121.6L392.5 125.2L394.5 128.3L396.6 131L400.7 135.7L402.8 137.5L406.9 139.5L410 141.5L412.2 142.3L409.1 141.1L405 138.4L398.8 131.6L392.6 123.3L388.5 114.5L384.4 103L382.3 97.8L378.2 89.7L367.2 84.6L345.3 77Z" fill="url(#g67)" stroke="url(#g67)"/><path d="M341.4 77.7L363.3 84.4L374.3 88.3L376.4 90.3L380.5 96.3L388.7 118.3L390.8 122.9L394.9 129.9L399.1 134.7L401.1 135.8L403.2 136.3L405.2 136.4L408.3 138.7L410.5 141.4L407.4 139.4L403.3 137.5L401.2 135.6L397.1 130.9L395.1 128.2L393 125.1L390.9 121.5L388.9 116.9L384.7 105.3L380.6 94.7L376.5 88L365.5 83.4L354.6 80.1L343.6 77.3Z" fill="url(#g68)" stroke="url(#g68)"/><path d="M339.7 78.1L350.7 82.8L361.7 86.9L372.6 92.1L376.7 100.5L378.8 105.5L382.9 116.5L387.1 124.8L389.1 127.7L393.2 132.4L397.4 136.4L399.4 136.8L403.6 136.3L406.7 136.9L408.8 138.6L405.7 136.4L403.7 136.2L401.6 135.8L399.6 134.7L395.4 129.8L391.3 122.8L389.2 118.2L381 96.3L376.9 90.2L374.8 88.2L363.8 84.3L341.9 77.7Z" fill="url(#g69)" stroke="url(#g69)"/><path d="M338.5 78.4L349.4 83.3L360.4 87.6L371.3 91.5L373.4 92.4L375.5 94L377.5 96.7L379.6 100.2L381.7 105.1L385.8 116.5L389.9 125.8L392 128.9L394 131.7L396.1 133.9L398.2 134.6L402.3 134.6L405.4 136.4L407.2 136.8L404.1 136.2L399.9 136.7L397.9 136.3L393.8 132.4L389.6 127.6L387.6 124.8L383.4 116.4L379.3 105.4L377.2 100.4L373.1 92L362.2 86.8L351.2 82.7L340.2 78Z" fill="url(#g70)" stroke="url(#g70)"/><path d="M338.1 78.5L349 83.5L360 87.9L370.9 91.6L373 91.9L375.1 93.1L377.1 95L379.2 97.7L381.2 101.7L383.3 106.7L387.4 118.8L391.6 128.4L393.6 131.5L395.7 134.1L397.8 135L401.9 135.1L405 139.5L405.9 136.3L402.8 134.5L398.7 134.5L396.6 133.8L394.5 131.6L392.5 128.8L390.4 125.7L386.3 116.5L382.2 105L380.1 100.1L378 96.7L376 93.9L373.9 92.3L371.8 91.4L360.9 87.5L349.9 83.2L339 78.3Z" fill="url(#g71)" stroke="url(#g71)"/><path d="M337.7 78.5L348.7 82.8L370.6 90.7L372.7 91.8L374.7 93.7L376.8 96.6L378.8 100.4L380.9 105.4L385 117.3L387.1 122.5L389.2 127.5L391.2 131.1L393.3 134L395.3 136.2L397.4 136.8L401.5 136.8L404.6 144.8L405.5 139.4L402.4 135L398.3 134.9L396.2 134L394.1 131.5L392.1 128.3L387.9 118.7L383.8 106.6L381.8 101.6L379.7 97.6L377.6 94.9L375.6 93L373.5 91.8L371.4 91.6L360.5 87.8L349.5 83.4L338.6 78.4Z" fill="url(#g72)" stroke="url(#g72)"/><path d="M337 78.6L347.9 81.3L358.9 84.5L369.8 89.3L374 97.1L380.1 114.6L382.2 119.7L384.3 124.3L386.3 127.2L388.4 130L392.5 134.1L394.6 135.8L396.6 136.2L400.8 135.7L403.9 136.6L405.1 144.7L402 136.7L397.9 136.7L395.8 136.1L393.8 133.9L391.7 131.1L389.7 127.5L387.6 122.4L385.5 117.2L381.4 105.4L379.3 100.3L377.3 96.5L375.2 93.6L373.2 91.8L371.1 90.6L349.2 82.7L338.2 78.4Z" fill="url(#g73)" stroke="url(#g73)"/><path d="M336.4 78.7L347.3 80.1L358.3 82.7L369.3 88.9L371.3 96.5L377.5 115.1L379.6 120.3L381.6 124.7L383.7 127.5L385.8 129.9L389.9 133.7L394 136.9L396.1 137L398.1 136.8L400.2 135.9L403.3 136.9L404.4 136.5L401.3 135.6L397.2 136.1L395.1 135.7L393 134L388.9 129.9L386.8 127.2L384.8 124.2L382.7 119.6L380.7 114.6L374.5 97L370.3 89.2L359.4 84.4L348.4 81.2L337.5 78.6Z" fill="url(#g74)" stroke="url(#g74)"/><path d="M334.7 79L345.7 81.6L356.6 84.8L367.6 88.7L369.6 90.5L371.7 93.2L373.8 96.5L375.8 101.2L382 118.5L384.1 123.1L386.1 127L388.2 129.8L390.3 132.1L392.3 134L394.4 134.4L398.5 134.3L401.6 136.4L403.8 136.8L400.7 135.8L398.6 136.7L396.6 136.9L394.5 136.8L390.4 133.6L386.3 129.8L384.2 127.5L382.1 124.6L380.1 120.2L378 115L371.8 96.4L369.8 88.9L358.8 82.6L347.8 80.1L336.9 78.7Z" fill="url(#g75)" stroke="url(#g75)"/><path d="M333 79.4L344 81.8L354.9 84.8L365.9 88.6L370 90.5L372.1 92.4L374.1 95.1L376.2 98.5L380.3 108.5L384.5 120L386.5 124.6L388.6 128.5L390.6 131.4L392.7 132.3L394.8 132.7L396.8 132.8L399.9 134.5L402.1 136.4L399 134.2L394.9 134.3L392.8 133.9L390.8 132L388.7 129.7L386.6 126.9L384.6 123L382.5 118.4L376.3 101.1L374.3 96.4L372.2 93.1L370.1 90.4L368.1 88.6L357.1 84.7L346.2 81.6L335.2 79Z" fill="url(#g76)" stroke="url(#g76)"/><path d="M331.9 79.6L342.8 82L353.8 85L364.8 88.7L368.9 90.7L370.9 92.4L373 94.9L375.1 98.3L377.1 102.6L379.2 107.9L383.3 119.6L387.4 128.4L389.5 131.2L391.6 132.4L395.7 132.8L398.8 134.5L400.4 134.5L397.3 132.7L395.3 132.6L393.2 132.3L391.1 131.3L389.1 128.5L387 124.6L385 120L380.8 108.4L376.7 98.4L374.6 95L372.6 92.3L370.5 90.4L366.4 88.5L355.4 84.8L344.5 81.7L333.5 79.3Z" fill="url(#g77)" stroke="url(#g77)"/><path d="M331.3 79.7L342.3 82.1L353.2 85.1L364.2 88.8L368.3 90.7L370.4 92.4L372.5 94.8L374.5 98.2L376.6 102.3L378.6 107.7L382.8 119.6L386.9 128.7L389 131.5L391 132.7L395.1 133.2L398.2 136L399.3 134.4L396.2 132.8L392.1 132.3L390 131.1L387.9 128.3L383.8 119.5L379.7 107.8L377.6 102.5L375.6 98.2L373.5 94.8L371.4 92.3L369.4 90.6L365.3 88.6L354.3 84.9L343.3 81.9L332.4 79.5Z" fill="url(#g78)" stroke="url(#g78)"/><path d="M331.1 79.8L342.1 82.1L353 85.1L364 88.7L368.1 90.7L370.2 92.4L372.2 94.8L374.3 98.3L376.4 102.5L378.4 107.8L382.6 119.8L386.7 128.9L388.8 131.7L390.8 133L394.9 133.7L398 137L398.7 136L395.7 133.2L391.5 132.6L389.5 131.4L387.4 128.6L383.3 119.5L379.1 107.6L377.1 102.3L375 98.1L373 94.7L370.9 92.3L368.8 90.7L364.7 88.7L353.7 85L342.8 82L331.8 79.6Z" fill="url(#g79)" stroke="url(#g79)"/><path d="M330.4 80L341.3 82L352.3 84.8L363.2 88.5L367.4 90.6L369.4 92.5L371.5 95.1L373.6 98.6L375.6 103L377.7 108.2L381.8 119.9L385.9 128.8L388 131.6L390.1 133L394.2 134.2L397.3 136.1L398.5 136.9L395.4 133.6L391.3 132.9L389.3 131.6L387.2 128.8L383.1 119.7L378.9 107.7L376.9 102.4L374.8 98.2L372.8 94.8L370.7 92.3L368.6 90.6L364.5 88.7L353.5 85L342.6 82L331.6 79.7Z" fill="url(#g80)" stroke="url(#g80)"/><path d="M329.6 80.2L340.6 81.9L351.6 84.6L362.5 88.3L366.6 90.6L368.7 92.6L370.8 95.3L372.8 98.9L374.9 103.4L377 108.7L381.1 120.4L385.2 129.1L387.3 131.9L389.3 133.5L393.5 135.3L396.6 137.6L397.8 136.1L394.7 134.1L390.6 132.9L388.5 131.5L386.4 128.7L382.3 119.9L378.2 108.2L376.1 102.9L374.1 98.5L372 95L369.9 92.4L367.9 90.6L363.7 88.4L352.8 84.7L341.8 81.9L330.9 79.9Z" fill="url(#g81)" stroke="url(#g81)"/><path d="M328 80.6L349.9 87.5L360.8 92.1L365 98.6L369.1 109L373.2 120.4L375.3 125L377.3 128.5L379.4 131.3L383.5 135.3L387.7 138.2L391.8 140.2L394.9 142.7L397.1 137.6L394 135.2L389.8 133.4L387.8 131.8L385.7 129L381.6 120.3L377.5 108.6L375.4 103.3L373.3 98.8L371.3 95.2L369.2 92.5L367.2 90.5L363 88.2L352.1 84.5L341.1 81.8L330.1 80.1Z" fill="url(#g82)" stroke="url(#g82)"/><path d="M326.3 81L337.2 83.5L348.2 86.6L359.2 90.4L361.2 91.3L363.3 93L365.3 95.5L367.4 98.8L369.5 103.2L375.7 120.4L379.8 129.2L383.9 134.5L390.1 139.8L393.2 144.4L395.4 142.6L392.3 140.2L388.2 138.1L384 135.2L379.9 131.2L377.8 128.4L375.8 124.9L373.7 120.3L369.6 108.9L365.5 98.5L361.3 92L350.4 87.4L328.5 80.5Z" fill="url(#g83)" stroke="url(#g83)"/><path d="M325.7 81.2L336.6 83.9L347.6 87.1L358.6 91L360.6 92.3L362.7 94.2L366.8 101.1L373 118.3L377.1 127.8L381.2 133.6L385.4 137.3L389.5 140.5L392.6 143.8L393.7 144.3L390.6 139.8L384.4 134.4L380.3 129.1L376.2 120.3L370 103.1L367.9 98.8L365.8 95.4L363.8 92.9L361.7 91.2L359.7 90.3L348.7 86.5L337.7 83.4L326.8 81Z" fill="url(#g84)" stroke="url(#g84)"/><path d="M324.9 81.3L335.9 84.4L346.8 87.8L357.8 91.7L359.9 93.8L364 100L372.2 122.2L374.3 127L376.4 130.4L378.4 133.4L380.5 135.4L382.5 137.3L388.7 141.8L391.8 146.5L393.1 143.7L390 140.4L385.9 137.2L381.7 133.5L377.6 127.7L373.5 118.2L367.3 101L363.2 94.1L361.1 92.2L359.1 90.9L348.1 87L337.1 83.8L326.2 81.1Z" fill="url(#g85)" stroke="url(#g85)"/><path d="M324.6 81.4L346.5 88.1L357.5 92.3L359.5 94.7L361.6 97.9L363.7 101.8L365.7 107.2L369.9 119L374 128.3L378.1 133.8L380.2 135.7L384.3 139.1L388.4 141.8L391.5 144.5L392.3 146.4L389.2 141.7L383.1 137.2L381 135.3L378.9 133.3L376.9 130.3L374.8 126.9L372.7 122.2L364.5 100L360.4 93.7L358.3 91.6L347.3 87.7L336.4 84.3L325.4 81.3Z" fill="url(#g86)" stroke="url(#g86)"/><path d="M324.2 81.5L346.1 88.5L357 92.6L359.1 94.7L363.2 101.2L367.4 112.1L369.4 118.1L373.5 127.6L377.7 133.3L379.7 135.3L383.9 138.7L388 141.5L391.1 143.9L392 144.4L388.9 141.7L384.8 139L380.7 135.6L378.6 133.7L374.5 128.2L370.4 118.9L366.2 107.1L364.2 101.7L362.1 97.8L360 94.7L358 92.2L347 88L325.1 81.3Z" fill="url(#g87)" stroke="url(#g87)"/><path d="M322.9 81.7L333.9 85.8L355.8 93.6L357.9 95.1L359.9 97.3L362 100.3L364 104.6L366.1 109.7L370.2 121.2L372.3 125.8L374.4 129.7L376.4 132.5L378.5 134.8L380.5 136.7L389.8 143.7L391.6 143.8L388.5 141.4L384.4 138.6L380.2 135.2L378.2 133.3L374 127.6L369.9 118L367.9 112L363.7 101.1L359.6 94.6L357.5 92.5L346.6 88.4L324.7 81.4Z" fill="url(#g88)" stroke="url(#g88)"/><path d="M321.2 81.9L332.2 88L343.1 92.9L354.1 97.1L356.2 98.6L358.2 101L360.3 104L364.4 113.5L366.5 119.1L370.6 128.5L374.7 133.9L376.8 135.8L380.9 139.2L388.1 144.1L390.3 143.6L381.1 136.6L379 134.7L376.9 132.4L374.9 129.6L372.8 125.7L370.7 121.1L366.6 109.7L364.5 104.6L362.5 100.2L360.4 97.3L358.4 95L356.3 93.5L334.4 85.7L323.4 81.6Z" fill="url(#g89)" stroke="url(#g89)"/><path d="M319.7 82L330.6 84.8L341.6 88.1L352.5 92.1L354.6 94.3L358.7 101L364.9 118.3L369 127.9L373.2 133.8L375.2 135.7L377.3 137.5L381.4 140.6L386.6 143.9L388.7 144L381.4 139.1L377.3 135.7L375.2 133.8L371.1 128.4L367 119L364.9 113.5L360.8 103.9L358.7 100.9L356.7 98.5L354.6 97L343.7 92.8L332.7 87.9L321.7 81.8Z" fill="url(#g90)" stroke="url(#g90)"/><path d="M319.5 82L330.5 84.6L341.5 87.8L352.4 91.8L354.5 94L358.6 100.8L364.8 118.3L368.9 128L373.1 134.1L377.2 137.8L381.3 140.9L383.4 142.2L386.5 145.3L387.1 143.8L381.9 140.5L377.8 137.4L375.7 135.6L373.7 133.7L369.5 127.8L365.4 118.2L359.2 101L355.1 94.2L353 92L342.1 88L331.1 84.8L320.2 81.9Z" fill="url(#g91)" stroke="url(#g91)"/><path d="M318.9 82L329.9 84.8L340.8 88L351.8 91.9L353.8 93.9L355.9 96.8L358 100.1L362.1 110.7L366.2 122.5L368.3 127.7L370.3 131.9L372.4 135.3L374.5 137.6L376.5 139.5L380.7 142.7L382.7 144L385.8 152.5L387 145.2L383.9 142.2L381.8 140.9L377.7 137.8L373.6 134L369.4 127.9L365.3 118.2L359.1 100.8L355 94L352.9 91.7L342 87.7L331 84.6L320.1 81.9Z" fill="url(#g92)" stroke="url(#g92)"/><path d="M318.1 82L329.1 84.9L340.1 88.3L351 92.1L353.1 93.8L355.1 96.2L357.2 99.4L359.3 103.8L365.5 120.9L369.6 129.7L371.6 132.5L373.7 134.9L377.8 138.5L382 141.5L385.1 144.7L386.3 152.4L383.2 144L381.2 142.6L377 139.4L375 137.5L372.9 135.2L370.8 131.8L368.8 127.6L366.7 122.4L362.6 110.6L358.5 100L356.4 96.7L354.3 93.8L352.3 91.8L341.3 87.9L330.4 84.7L319.4 81.9Z" fill="url(#g93)" stroke="url(#g93)"/><path d="M317.9 81.9L328.8 85L339.8 88.4L350.7 92.2L352.8 93.7L354.9 95.9L356.9 99.2L359 103.3L365.2 120.5L369.3 129.4L373.4 134.7L377.6 138.4L381.7 141.4L384.8 144.5L385.6 144.6L382.5 141.4L378.3 138.4L374.2 134.8L372.2 132.4L370.1 129.6L366 120.8L359.8 103.7L357.7 99.3L355.6 96.1L353.6 93.7L351.5 92.1L340.6 88.2L329.6 84.9L318.6 81.9Z" fill="url(#g94)" stroke="url(#g94)"/><path d="M316.2 81.7L327.1 84.5L338.1 87.7L349.1 91.6L351.1 93L353.2 94.9L357.3 102L363.5 119.2L367.6 128.6L371.8 134.2L375.9 137.9L380 141L383.1 143.7L385.3 144.4L382.2 141.3L378.1 138.3L373.9 134.6L369.8 129.3L365.7 120.4L359.5 103.2L357.4 99.1L355.4 95.9L353.3 93.7L351.2 92.1L340.3 88.3L329.3 84.9L318.4 81.9Z" fill="url(#g95)" stroke="url(#g95)"/><path d="M314.5 81.3L325.5 84.2L336.4 87.5L347.4 92.3L351.5 99.7L355.6 110.8L357.7 117L361.8 126.7L365.9 132.5L368 134.4L372.1 137.9L378.3 142L381.4 144.8L383.6 143.6L380.5 140.9L376.4 137.8L372.3 134.1L368.1 128.5L364 119.1L357.8 101.9L353.7 94.9L351.6 92.9L349.6 91.5L338.6 87.6L327.6 84.4L316.7 81.6Z" fill="url(#g96)" stroke="url(#g96)"/><path d="M314.4 81.3L325.4 84.3L336.4 87.6L347.3 92.3L351.4 99.6L355.6 110.7L357.6 116.9L361.8 126.6L365.9 132.5L370 136.3L374.1 139.4L378.3 142L381.4 144.9L381.9 144.7L378.8 142L372.6 137.8L368.5 134.4L366.4 132.4L362.3 126.6L358.2 116.9L356.1 110.7L352 99.6L347.9 92.2L336.9 87.4L326 84.2L315 81.3Z" fill="url(#g97)" stroke="url(#g97)"/><path d="M313.7 81.2L335.6 88.2L346.6 92.8L350.7 99.4L354.8 110L356.9 115.9L358.9 121.2L361 125.9L363.1 129.5L365.1 132.5L369.3 136.6L373.4 139.8L377.5 142.4L380.6 145.9L381.9 144.8L378.8 141.9L374.6 139.3L370.5 136.2L366.4 132.4L362.3 126.5L358.1 116.8L356.1 110.7L351.9 99.5L347.8 92.2L336.9 87.5L325.9 84.2L314.9 81.3Z" fill="url(#g98)" stroke="url(#g98)"/><path d="M312.9 81.1L334.8 88.8L345.8 93.4L349.9 99.4L354.1 109.2L358.2 120.4L360.2 125L362.3 128.7L364.4 131.5L368.5 135.6L372.6 138.8L376.7 141.5L379.8 144.5L381.1 145.9L378 142.3L373.9 139.7L369.8 136.6L365.6 132.4L363.6 129.4L361.5 125.8L359.4 121.1L357.4 115.9L355.3 109.9L351.2 99.3L347.1 92.8L336.1 88.1L314.2 81.1Z" fill="url(#g99)" stroke="url(#g99)"/><path d="M312.8 81L334.7 88.9L345.7 93.4L349.8 99.4L351.9 103.9L353.9 109L358.1 120.3L360.1 124.9L362.2 128.6L364.3 131.4L368.4 135.6L372.5 138.8L376.6 141.5L379.7 144.5L380.3 144.4L377.3 141.4L373.1 138.7L369 135.5L364.9 131.4L362.8 128.6L360.7 124.9L358.7 120.3L354.6 109.1L350.4 99.3L346.3 93.3L335.3 88.8L313.4 81Z" fill="url(#g100)" stroke="url(#g100)"/><path d="M311.1 80.9L322.1 85.4L333.1 89.4L344 94.5L348.1 102.3L350.2 107.3L354.3 118.5L358.5 127.2L362.6 132.5L364.6 134.4L368.8 137.7L375 141.8L378.1 144.4L380.2 144.4L377.1 141.4L373 138.7L368.9 135.5L364.8 131.4L362.7 128.6L360.6 124.8L358.6 120.2L354.5 109L352.4 103.8L350.3 99.3L346.2 93.4L335.2 88.8L313.3 80.9Z" fill="url(#g101)" stroke="url(#g101)"/><path d="M309.5 81L331.4 87.6L342.3 91.6L344.4 93.5L348.5 99.4L352.6 109.9L356.8 121.3L358.8 125.9L360.9 129.4L363 132.2L367.1 136.2L373.3 140.9L376.4 145.9L378.6 144.4L375.5 141.7L369.3 137.7L365.1 134.3L363.1 132.4L359 127.1L354.8 118.4L350.7 107.2L348.6 102.2L344.5 94.4L333.6 89.3L322.6 85.3L311.6 80.8Z" fill="url(#g102)" stroke="url(#g102)"/><path d="M307.8 81.2L318.7 84.3L329.7 87.6L340.6 91.8L342.7 94.4L344.8 97.7L346.8 101.7L348.9 107.1L353 119.1L357.2 128L361.3 133.4L363.3 135.3L367.5 138.6L374.7 143.5L376.9 145.8L373.8 140.8L367.6 136.1L363.5 132.1L361.4 129.3L359.3 125.8L357.3 121.2L353.1 109.8L349 99.4L344.9 93.4L342.8 91.5L331.9 87.6L310 80.9Z" fill="url(#g103)" stroke="url(#g103)"/><path d="M307.4 81.3L329.3 87.9L340.2 92.2L342.3 94.9L344.4 98.1L346.4 102.3L348.5 107.6L352.6 119.4L356.7 128.3L360.9 133.5L365 137.2L371.2 141.6L374.3 145L375.2 143.5L368 138.5L363.8 135.2L361.8 133.3L357.7 128L353.5 119L349.4 107L347.3 101.6L345.3 97.6L343.2 94.4L341.2 91.8L330.2 87.5L319.2 84.2L308.3 81.1Z" fill="url(#g104)" stroke="url(#g104)"/><path d="M306.6 81.5L328.5 88.5L339.5 92.9L343.6 98.9L345.7 103.2L347.7 108.5L351.9 120.1L356 129L358 131.9L360.1 134.4L362.2 136.4L366.3 139.7L370.4 142.4L373.5 146.6L374.8 144.9L371.7 141.5L365.5 137.1L361.4 133.5L357.2 128.2L353.1 119.4L349 107.5L346.9 102.2L344.9 98L342.8 94.8L340.7 92.1L329.8 87.8L307.9 81.2Z" fill="url(#g105)" stroke="url(#g105)"/><path d="M306.1 81.6L328 88.9L339 93.3L343.1 99.4L345.2 103.9L347.2 109.1L351.3 120.6L353.4 125.2L355.5 129.1L357.5 132L359.6 134.3L361.7 136.2L365.8 139.5L373 144.2L374 146.5L370.9 142.3L366.8 139.6L362.7 136.3L360.6 134.3L358.5 131.9L356.5 128.9L352.4 120L348.2 108.4L346.2 103.1L344.1 98.8L340 92.8L329 88.4L307.1 81.4Z" fill="url(#g106)" stroke="url(#g106)"/><path d="M305.8 81.6L327.8 88.9L338.7 93.3L342.8 99.1L344.9 103.4L347 108.7L351.1 120.2L353.2 124.8L355.2 128.9L357.3 131.7L359.3 134L361.4 135.9L365.5 139.2L372.8 143.7L373.5 144.1L366.3 139.4L362.2 136.1L360.1 134.2L358 131.9L356 129L353.9 125.1L351.8 120.5L347.7 109L345.7 103.8L343.6 99.3L339.5 93.2L328.5 88.8L306.6 81.5Z" fill="url(#g107)" stroke="url(#g107)"/><path d="M304.4 81.9L326.3 88.9L337.3 92.8L339.3 94.8L343.5 100.8L351.7 122.7L353.8 127.3L355.8 130.6L357.9 133.4L362 137.3L366.2 140.4L368.2 141.8L371.3 144.3L373.3 143.6L366 139.1L361.9 135.8L359.9 133.9L357.8 131.6L355.7 128.8L353.7 124.7L351.6 120.1L347.5 108.6L345.4 103.3L343.3 99L339.2 93.2L328.3 88.8L306.3 81.5Z" fill="url(#g108)" stroke="url(#g108)"/><path d="M302.7 82.2L313.7 84.8L324.6 87.9L335.6 91.7L337.7 92.7L339.7 94.6L341.8 97.5L343.9 100.8L348 111.3L352.1 122.8L354.2 127.4L356.2 131.1L358.3 133.9L362.4 138L369.6 143.5L371.8 144.2L368.7 141.7L366.7 140.3L362.5 137.2L358.4 133.3L356.4 130.5L354.3 127.2L352.2 122.6L344 100.7L339.8 94.7L337.8 92.7L326.8 88.8L304.9 81.8Z" fill="url(#g109)" stroke="url(#g109)"/><path d="M301 82.5L323 89.8L333.9 94.1L336 96.8L338 99.8L340.1 104L342.2 109.2L346.3 120.8L350.4 129.6L352.5 132.4L354.5 134.8L356.6 136.7L360.7 140L364.9 142.7L368 145.2L370.1 143.4L362.9 137.9L358.8 133.8L356.7 131L354.7 127.3L352.6 122.7L348.5 111.2L344.4 100.7L342.3 97.4L340.2 94.5L338.2 92.6L336.1 91.6L325.1 87.8L314.2 84.7L303.2 82.1Z" fill="url(#g110)" stroke="url(#g110)"/><path d="M299.4 82.8L321.3 90.1L332.2 94.1L334.3 96L338.4 102.1L342.5 112.8L344.6 118.7L346.7 123.8L348.7 128.4L350.8 131.6L352.9 134.5L357 138.2L361.1 141.4L363.2 142.7L366.3 145.3L368.5 145.2L365.4 142.6L361.2 139.9L357.1 136.6L355.1 134.7L353 132.3L350.9 129.5L346.8 120.7L342.7 109.1L340.6 103.9L338.5 99.7L336.5 96.7L334.4 94L323.5 89.7L301.5 82.4Z" fill="url(#g111)" stroke="url(#g111)"/><path d="M298.9 82.9L320.9 90L331.8 94.5L336 100.5L338 105L344.2 121.8L346.3 126.4L348.3 130.3L350.4 133.1L352.5 135.4L354.5 137.3L358.6 140.5L365.9 145.3L366.8 145.2L363.7 142.6L361.6 141.3L357.5 138.2L353.4 134.4L351.3 131.6L349.2 128.3L347.2 123.7L345.1 118.6L343.1 112.7L338.9 102L334.8 95.9L332.7 94L321.8 90L299.9 82.7Z" fill="url(#g112)" stroke="url(#g112)"/><path d="M298.2 83.1L320.1 89.9L331.1 95.2L335.2 105L341.4 121.9L343.4 126.5L345.5 130.3L347.6 133.4L351.7 138L355.8 141.3L362 145L365.1 148.8L366.4 145.2L359.1 140.5L355 137.2L353 135.3L350.9 133L348.8 130.2L346.8 126.3L344.7 121.7L338.5 104.9L336.5 100.4L332.3 94.4L321.4 89.9L299.5 82.8Z" fill="url(#g113)" stroke="url(#g113)"/><path d="M297.7 83.2L319.6 89.9L330.6 96.2L332.6 103.4L334.7 108.7L338.8 120.5L342.9 129.2L345 132.1L347.1 134.5L349.1 136.5L353.2 139.9L359.4 143.8L361.5 144.5L364.6 146.2L365.6 148.7L362.5 144.9L356.3 141.2L352.2 137.9L348.1 133.3L346 130.2L344 126.4L341.9 121.8L335.7 105L331.6 95.1L320.6 89.8L298.7 83Z" fill="url(#g114)" stroke="url(#g114)"/><path d="M297.4 83.3L319.4 89.9L330.3 95.3L334.4 105.8L340.6 122.7L342.7 127.3L344.8 130.7L346.8 133.5L350.9 137.4L353 139L355.1 140.6L359.2 143.2L364.4 145.6L365.1 146.1L362 144.4L359.9 143.8L353.7 139.8L349.6 136.4L347.6 134.4L345.5 132L343.4 129.2L339.3 120.4L335.2 108.6L333.1 103.3L331.1 96.1L320.1 89.8L298.2 83.1Z" fill="url(#g115)" stroke="url(#g115)"/><path d="M296 83.7L307 86.7L317.9 90.1L328.9 93.8L330.9 94.6L333 95.8L335.1 97.7L339.2 104.4L345.4 121.3L349.5 130.9L353.6 136.7L357.8 140.4L362.9 144.4L364.9 145.5L359.7 143.1L355.6 140.5L353.5 138.9L351.4 137.4L347.3 133.4L345.3 130.6L343.2 127.2L341.1 122.6L334.9 105.7L330.8 95.2L319.9 89.8L297.9 83.2Z" fill="url(#g116)" stroke="url(#g116)"/><path d="M294.3 84.2L305.3 88.6L327.2 96.5L329.2 97.8L331.3 99.8L333.4 102.7L335.4 106.8L337.5 111.8L341.6 123.3L345.8 132L347.8 134.8L349.9 137.2L351.9 139.1L356.1 142.4L361.2 146L363.4 144.3L358.3 140.3L354.1 136.6L350 130.8L345.9 121.2L339.7 104.3L335.6 97.6L333.5 95.8L331.4 94.5L329.4 93.8L318.4 90L307.5 86.7L296.5 83.6Z" fill="url(#g117)" stroke="url(#g117)"/><path d="M292.6 84.7L314.5 91.9L325.5 95.9L327.6 97.9L331.7 104.2L335.8 114.9L337.9 120.9L339.9 125.9L342 130.6L344.1 133.7L346.1 136.5L350.3 140.2L354.4 143.3L359.5 146.8L361.7 146L356.6 142.3L352.4 139L350.4 137.1L348.3 134.7L346.3 131.9L342.1 123.2L338 111.7L335.9 106.7L333.9 102.6L331.8 99.7L329.8 97.7L327.7 96.4L305.8 88.5L294.8 84.2Z" fill="url(#g118)" stroke="url(#g118)"/><path d="M291.8 84.9L313.7 91.9L324.6 95.9L326.7 98L330.8 104.5L335 115.4L337 121.4L341.1 131L345.3 136.7L347.3 138.7L351.5 142.1L358.7 147.2L360 146.7L354.9 143.2L350.8 140.1L346.6 136.4L344.6 133.6L342.5 130.5L340.4 125.9L338.4 120.8L336.3 114.9L332.2 104.1L328.1 97.8L326 95.8L315 91.8L293.1 84.7Z" fill="url(#g119)" stroke="url(#g119)"/><path d="M291 85.1L312.9 91.8L323.9 95.9L326 98.1L330.1 104.8L336.3 121.8L340.4 131.8L344.5 138.2L348.6 142L352.8 145.1L354.8 146.4L357.9 151.6L359.2 147.1L352 142L347.8 138.6L345.8 136.7L341.7 130.9L337.5 121.3L335.5 115.3L331.3 104.4L327.2 97.9L325.2 95.8L314.2 91.8L292.3 84.8Z" fill="url(#g120)" stroke="url(#g120)"/><path d="M290.9 85.1L312.9 91.8L323.8 95.9L325.9 98.1L330 104.8L336.2 121.9L340.3 131.8L344.5 138.1L348.6 141.9L352.7 145L354.8 146.3L357.9 151.5L358.4 151.5L355.3 146.3L353.3 145L349.1 141.9L345 138.1L340.9 131.8L336.8 121.8L330.6 104.7L326.5 98L324.4 95.8L313.4 91.7L291.5 85Z" fill="url(#g121)" stroke="url(#g121)"/><path d="M290.3 85.2L301.2 88.2L312.2 91.6L323.1 96.1L327.3 102.6L331.4 112.9L335.5 124.5L337.6 129.1L339.6 132.9L341.7 135.7L343.8 137.9L345.8 139.8L349.9 143L354.1 145.7L357.2 149.5L358.4 151.4L355.3 146.2L353.2 144.9L349.1 141.8L345 138L340.8 131.7L336.7 121.8L330.5 104.7L326.4 98L324.3 95.8L313.4 91.7L291.4 85Z" fill="url(#g122)" stroke="url(#g122)"/><path d="M289.3 85.4L300.2 88L311.2 91.2L322.1 96.3L326.3 105.7L332.5 123.2L334.5 128L336.6 132L338.6 134.8L340.7 137.2L344.8 140.8L346.9 142.4L353.1 146.3L356.2 147.3L357.7 149.4L354.6 145.6L350.5 142.9L346.3 139.7L344.3 137.8L342.2 135.6L340.1 132.8L338.1 129.1L336 124.5L331.9 112.8L327.8 102.5L323.6 96L312.7 91.5L301.7 88.2L290.8 85.1Z" fill="url(#g123)" stroke="url(#g123)"/><path d="M287.6 85.6L298.5 87.7L309.5 90.6L320.5 94.3L324.6 96.3L326.6 97.9L328.7 100.2L332.8 107.6L334.9 112.8L339 124.5L343.1 133.9L347.3 139.3L354.5 145.8L356.7 147.2L353.6 146.2L347.4 142.3L345.3 140.7L341.2 137.1L339.1 134.7L337.1 131.9L335 127.9L333 123.1L326.8 105.6L322.6 96.2L311.7 91.1L300.7 88L289.8 85.3Z" fill="url(#g124)" stroke="url(#g124)"/><path d="M286.7 85.7L308.6 92.5L321.6 96.9L323.7 97.6L325.7 99.2L327.8 101.5L329.9 104.7L331.9 109L334 114.3L338.1 125.9L342.2 134.6L344.3 137.4L346.4 139.8L350.5 143.5L353.6 147.2L355 145.7L347.8 139.2L343.7 133.8L339.5 124.4L335.4 112.8L333.3 107.5L329.2 100.1L327.1 97.9L325.1 96.2L321 94.2L310 90.5L299 87.6L288.1 85.5Z" fill="url(#g125)" stroke="url(#g125)"/><path d="M285.9 85.8L296.9 90.1L307.8 94.1L318.8 97.9L322.9 98.8L325 100.3L327 102.7L329.1 105.6L331.2 110.2L333.2 115.7L337.4 127.6L339.4 132.5L341.5 136.2L343.5 139.1L345.6 141.2L349.7 144.8L352.8 150.2L354.1 147.1L351 143.4L346.9 139.7L344.8 137.4L342.7 134.5L338.6 125.9L334.5 114.2L332.4 108.9L330.4 104.6L328.3 101.5L326.2 99.1L324.2 97.6L322.1 96.8L309.1 92.4L287.2 85.6Z" fill="url(#g126)" stroke="url(#g126)"/><path d="M285.9 85.8L296.9 90.2L307.8 94.2L318.8 97.9L322.9 98.9L325 100.3L327 102.7L329.1 105.6L331.2 110.2L333.2 115.7L337.3 127.7L339.4 132.5L341.5 136.2L343.5 139L345.6 141.2L349.7 144.7L352.8 149.6L353.3 150.2L350.2 144.7L346.1 141.1L344.1 139L342 136.2L339.9 132.4L337.9 127.6L333.7 115.6L331.7 110.1L329.6 105.5L327.6 102.6L325.5 100.2L323.4 98.7L319.3 97.8L308.3 94.1L297.4 90L286.4 85.7Z" fill="url(#g127)" stroke="url(#g127)"/><path d="M285.2 85.9L296.1 90.3L318 98.1L320.1 99L322.2 100.5L326.3 106.5L330.4 117L332.5 123L336.6 132.5L340.7 138.3L344.9 142L349 145.2L352.1 148.4L353.3 149.5L350.2 144.6L346.1 141.1L344 139L342 136.2L339.9 132.4L337.8 127.6L333.7 115.6L331.7 110.2L329.6 105.5L327.5 102.6L325.5 100.2L323.4 98.8L319.3 97.8L308.3 94.1L297.4 90.1L286.4 85.7Z" fill="url(#g128)" stroke="url(#g128)"/><path d="M284.9 85.9L295.8 90.3L317.8 98.2L319.8 99.6L321.9 101.8L324 104.7L326 108.9L328.1 113.9L332.2 125.4L334.3 130L336.3 133.9L338.4 136.7L340.5 139L342.5 140.9L346.6 144.1L351.8 147.8L352.6 148.3L349.5 145.1L345.4 141.9L341.2 138.2L337.1 132.5L333 122.9L330.9 116.9L326.8 106.4L322.7 100.4L320.6 98.9L318.5 98L296.6 90.2L285.7 85.8Z" fill="url(#g129)" stroke="url(#g129)"/><path d="M284.2 86L295.2 90.4L306.1 94.4L317.1 99L321.2 105L325.3 114.9L329.5 125.8L331.5 130.5L333.6 134.1L335.7 137L339.8 141.2L343.9 144.3L348 146.9L351.1 149.8L352.3 147.7L347.2 144.1L343 140.8L341 138.9L338.9 136.6L336.8 133.8L334.8 129.9L332.7 125.3L328.6 113.8L326.5 108.8L324.5 104.6L322.4 101.7L320.3 99.5L318.3 98.1L296.4 90.2L285.4 85.8Z" fill="url(#g130)" stroke="url(#g130)"/><path d="M284.1 86L295.1 90.3L306.1 94.3L317 98.8L321.1 104.8L325.3 114.6L329.4 125.6L331.4 130.3L333.5 134L335.6 137L339.7 141.2L343.8 144.4L348 147L351 150.2L351.6 149.7L348.5 146.9L344.4 144.3L340.3 141.1L336.2 137L334.1 134L332 130.4L330 125.7L325.8 114.8L321.7 104.9L317.6 98.9L306.6 94.3L295.7 90.3L284.7 85.9Z" fill="url(#g131)" stroke="url(#g131)"/><path d="M283.4 86.1L305.3 93L316.3 97.2L318.3 99.6L320.4 102.7L322.4 106.6L324.5 111.9L328.6 123.7L332.8 132.8L336.9 138.2L338.9 140.1L343.1 143.5L347.2 146.2L350.3 148.7L351.6 150.2L348.5 146.9L344.3 144.3L340.2 141.1L336.1 136.9L334 133.9L332 130.2L329.9 125.5L325.8 114.5L321.6 104.7L317.5 98.8L306.6 94.2L295.6 90.2L284.6 85.9Z" fill="url(#g132)" stroke="url(#g132)"/><path d="M283.1 86.2L294.1 89.2L305.1 92.6L316 96.6L318.1 98.9L322.2 105.7L328.4 122.9L332.5 132.4L336.7 138L340.8 141.8L347 146.2L350.1 149.7L350.8 148.6L347.7 146.1L343.6 143.4L339.4 140L337.4 138.1L333.3 132.7L329.1 123.6L325 111.8L322.9 106.5L320.9 102.6L318.8 99.5L316.8 97.1L305.8 92.9L283.9 86Z" fill="url(#g133)" stroke="url(#g133)"/><path d="M282.5 86.3L293.5 88.5L304.4 91.5L315.4 95.4L317.5 97.5L319.5 100.4L321.6 103.9L323.7 109L329.8 126.5L331.9 131.5L334 135.7L336 139L338.1 141.3L342.2 144.8L346.4 147.7L349.4 154.3L350.6 149.6L347.5 146.1L341.3 141.7L337.2 138L333 132.3L328.9 122.8L322.7 105.6L318.6 98.8L316.5 96.6L305.6 92.5L294.6 89.1L283.7 86.1Z" fill="url(#g134)" stroke="url(#g134)"/><path d="M282.4 86.3L293.3 88.6L304.3 91.6L315.3 95.5L317.3 97.5L319.4 100.3L321.5 103.7L323.5 108.6L325.6 114.1L329.7 126.2L331.8 131.3L333.8 135.8L335.9 139.2L338 141.6L342.1 145.2L346.2 148.1L349.3 155.7L350 154.2L346.9 147.6L342.7 144.7L338.6 141.2L336.5 138.9L334.5 135.6L332.4 131.5L330.4 126.4L324.2 108.9L322.1 103.8L320 100.3L318 97.4L315.9 95.3L305 91.4L294 88.5L283 86.2Z" fill="url(#g135)" stroke="url(#g135)"/><path d="M281.6 86.5L292.6 89.2L303.6 92.3L314.5 96.2L316.6 97.5L318.6 99.5L322.8 106.4L329 123.6L333.1 133.2L337.2 138.9L341.3 142.6L345.5 145.9L348.5 150.1L349.8 155.6L346.7 148L342.6 145.1L338.5 141.5L336.4 139.1L334.3 135.7L332.3 131.3L330.2 126.1L326.1 114.1L324 108.5L322 103.6L319.9 100.2L317.8 97.4L315.8 95.4L304.8 91.5L293.9 88.6L282.9 86.2Z" fill="url(#g136)" stroke="url(#g136)"/><path d="M280.8 86.7L291.8 89.7L302.8 93.1L315.8 97.7L317.9 99.4L319.9 101.9L322 105.1L324 109.6L326.1 115L330.2 126.6L332.3 131.2L334.4 135.2L336.4 138L338.5 140.3L340.5 142.2L344.7 145.6L347.8 149.3L349.1 150L346 145.8L341.8 142.5L337.7 138.8L333.6 133.1L329.5 123.6L323.3 106.3L319.1 99.4L317.1 97.4L315 96.1L304.1 92.2L293.1 89.1L282.1 86.4Z" fill="url(#g137)" stroke="url(#g137)"/><path d="M279.2 87.2L301.1 94.9L312 98.7L314.1 99.2L316.2 100.2L318.2 101.8L322.4 108.1L324.4 113.3L328.5 124.9L332.7 134.5L336.8 140.2L340.9 144L346.1 148.1L348.3 149.2L345.2 145.5L341 142.1L339 140.2L336.9 137.9L334.9 135.1L332.8 131.1L330.7 126.5L326.6 114.9L324.5 109.5L322.5 105L320.4 101.8L318.4 99.3L316.3 97.6L303.3 93L292.3 89.6L281.4 86.6Z" fill="url(#g138)" stroke="url(#g138)"/><path d="M278.4 87.6L289.4 92L311.3 99.9L313.3 101L315.4 102.8L317.5 105.7L319.5 109.4L321.6 114.5L325.7 126.1L329.8 135L334 140.3L336 142.3L340.2 145.6L345.3 149.1L346.6 148L341.4 143.9L337.3 140.1L333.2 134.4L329.1 124.8L324.9 113.2L322.9 108L318.7 101.7L316.7 100.1L314.6 99.1L312.5 98.6L301.6 94.8L279.7 87.1Z" fill="url(#g139)" stroke="url(#g139)"/><path d="M277.6 87.9L288.6 92.8L310.5 101.5L314.6 106.8L316.7 110.9L318.8 115.8L322.9 126.8L325 131.4L327 135.5L329.1 138.5L331.1 140.9L333.2 142.9L337.3 146.1L341.5 148.8L344.6 152L345.8 149.1L340.7 145.5L336.5 142.2L334.5 140.2L330.3 134.9L326.2 126L322.1 114.4L320 109.4L318 105.6L315.9 102.8L313.8 100.9L311.8 99.8L289.9 91.9L278.9 87.5Z" fill="url(#g140)" stroke="url(#g140)"/><path d="M277.5 88L288.4 92.9L299.4 97.2L310.4 101.9L314.5 107.6L318.6 117.2L322.7 127.8L324.8 132.5L326.9 136.1L328.9 139L333.1 143.2L337.2 146.3L341.3 148.9L344.4 151.8L345.1 151.9L342 148.7L337.8 146.1L333.7 142.8L331.6 140.8L329.6 138.4L327.5 135.4L325.5 131.4L323.4 126.7L319.3 115.7L317.2 110.8L315.1 106.7L311 101.4L289.1 92.7L278.1 87.8Z" fill="url(#g141)" stroke="url(#g141)"/><path d="M276.9 88.3L287.8 92.5L298.8 96.4L309.8 100.8L313.9 106.6L315.9 110.9L318 116L322.1 127.3L324.2 131.9L326.3 135.8L328.3 138.6L330.4 140.8L332.4 142.8L336.6 146L340.7 148.8L343.8 152.3L344.9 151.7L341.8 148.8L337.7 146.2L333.6 143.1L329.4 139L327.4 136L325.3 132.4L323.2 127.8L319.1 117.1L315 107.5L310.9 101.8L299.9 97.2L288.9 92.9L278 87.9Z" fill="url(#g142)" stroke="url(#g142)"/><path d="M275.8 88.9L286.8 91.7L297.7 94.9L308.7 99L310.7 101.5L312.8 104.8L314.9 108.7L321.1 126.1L325.2 135.5L329.3 140.9L331.4 142.8L335.5 146.2L342.7 151L344.3 152.2L341.2 148.7L337.1 145.9L333 142.7L330.9 140.8L328.8 138.5L326.8 135.7L324.7 131.8L322.6 127.2L318.5 115.9L316.4 110.8L314.4 106.5L310.3 100.8L299.3 96.3L288.3 92.4L277.4 88.2Z" fill="url(#g143)" stroke="url(#g143)"/><path d="M274.6 89.6L296.5 96.2L309.5 100.7L311.6 102.3L313.6 104.6L315.7 107.8L317.8 112.1L324 129.1L328.1 137.9L330.1 140.7L332.2 143.1L334.3 145L341.5 150.8L343.2 150.9L336 146.1L331.9 142.8L329.8 140.8L325.7 135.4L321.6 126L315.4 108.6L313.3 104.7L311.2 101.4L309.2 98.9L298.2 94.8L287.3 91.6L276.3 88.8Z" fill="url(#g144)" stroke="url(#g144)"/><path d="M274.1 89.9L296 96.6L309.1 101.1L311.1 102L313.2 103.7L317.3 109.7L321.4 120.1L325.6 131.8L327.6 136.6L329.7 140.2L331.8 143L335.9 147L337.9 148.6L341 152.6L342 150.7L334.8 144.9L332.7 143L330.6 140.6L328.6 137.8L324.5 129.1L318.3 112L316.2 107.8L314.1 104.6L312.1 102.2L310 100.6L297 96.1L275.1 89.5Z" fill="url(#g145)" stroke="url(#g145)"/><path d="M273.8 90L295.7 96.7L308.8 101.2L310.8 102.1L312.9 103.9L317 109.9L321.1 120.5L325.3 132.3L327.3 137.2L329.4 140.8L331.4 143.6L335.6 147.6L337.6 149.2L340.7 154.5L341.5 152.5L338.4 148.5L336.4 146.9L332.3 142.9L330.2 140.1L328.1 136.5L326.1 131.7L321.9 120.1L317.8 109.6L313.7 103.6L311.6 101.9L309.6 101L296.5 96.6L274.6 89.8Z" fill="url(#g146)" stroke="url(#g146)"/><path d="M273.1 90.3L295 97L308 101.4L310.1 102.5L312.1 104.2L316.3 110.3L320.4 121L322.4 127L326.6 136.8L328.6 140.2L330.7 143L334.8 146.9L340 151.1L341.2 154.4L338.1 149.1L336.1 147.5L332 143.5L329.9 140.7L327.8 137.1L325.8 132.3L321.6 120.4L317.5 109.8L313.4 103.8L311.3 102L309.3 101.1L296.2 96.7L274.3 89.9Z" fill="url(#g147)" stroke="url(#g147)"/><path d="M272.4 90.6L294.4 97.2L305.3 100.9L307.4 101.7L309.4 102.7L311.5 104.5L315.6 110.7L319.8 121.6L321.8 127.6L325.9 137.3L328 140.6L330.1 143.4L334.2 147.2L336.3 148.8L339.4 151.9L340.5 151L335.3 146.8L331.2 142.9L329.1 140.1L327.1 136.7L322.9 126.9L320.9 120.9L316.8 110.3L312.6 104.1L310.6 102.4L308.5 101.4L295.5 96.9L273.6 90.2Z" fill="url(#g148)" stroke="url(#g148)"/><path d="M270.8 91L281.7 94L292.7 97.3L303.6 101.1L305.7 102.1L307.8 103.9L309.8 106.7L311.9 110L316 120.4L320.1 131.8L322.2 136.4L324.3 140L326.3 142.8L330.4 146.9L337.7 152.4L339.9 151.8L336.8 148.8L334.7 147.1L330.6 143.3L328.5 140.5L326.4 137.2L322.3 127.5L320.3 121.5L316.1 110.7L312 104.4L309.9 102.7L307.9 101.6L305.8 100.8L294.9 97.1L272.9 90.5Z" fill="url(#g149)" stroke="url(#g149)"/><path d="M269.1 91.2L304.1 102.9L306.1 104.1L308.2 106L310.3 109.1L312.3 112.8L314.4 118.1L318.5 129.8L322.6 139L326.8 144.4L330.9 148.1L336 152.1L338.2 152.3L331 146.8L326.8 142.7L324.8 139.9L322.7 136.3L320.6 131.7L316.5 120.3L312.4 109.9L310.3 106.6L308.3 103.8L306.2 102L304.1 101.1L293.2 97.2L282.2 93.9L271.3 90.9Z" fill="url(#g150)" stroke="url(#g150)"/><path d="M269.1 91.2L304 102.9L306.1 104.1L308.1 106L310.2 109.1L312.3 112.8L314.3 118L318.5 129.8L322.6 139L326.7 144.4L330.8 148.1L336 152.2L336.5 152L331.4 148L327.3 144.3L323.1 138.9L319 129.7L314.9 118L312.8 112.8L310.8 109L308.7 106L306.6 104.1L304.6 102.8L269.6 91.1Z" fill="url(#g151)" stroke="url(#g151)"/><path d="M268.4 91.1L303.3 102.9L305.4 104.1L307.4 105.9L309.5 108.9L311.6 112.5L313.6 117.7L317.7 129.6L321.9 139.4L326 144.9L330.1 148.6L332.2 150.2L335.3 154.1L336.5 152.1L331.3 148L327.2 144.3L323.1 138.9L319 129.7L314.8 117.9L312.8 112.7L310.7 109L308.6 105.9L306.6 104.1L304.5 102.8L269.6 91.1Z" fill="url(#g152)" stroke="url(#g152)"/><path d="M267.6 91.1L302.5 103L304.6 104L306.7 105.7L310.8 112.2L312.9 117.4L317 129L321.1 138.5L325.2 144.2L329.4 147.9L334.5 151.8L335.8 154L332.7 150.1L330.6 148.5L326.5 144.8L322.4 139.3L318.2 129.6L314.1 117.6L312.1 112.4L310 108.9L307.9 105.8L305.9 104L303.8 102.8L268.9 91.1Z" fill="url(#g153)" stroke="url(#g153)"/><path d="M267.4 91.1L302.3 103L304.4 104L306.5 105.7L310.6 112.1L312.6 117.3L316.8 128.9L320.9 138.4L325 144.1L331.2 149.5L334.3 152.7L335 151.7L329.9 147.8L325.7 144.1L321.6 138.4L317.5 129L313.4 117.3L311.3 112.1L307.2 105.6L305.1 104L303.1 102.9L268.1 91Z" fill="url(#g154)" stroke="url(#g154)"/><path d="M265.7 90.9L287.6 98.9L298.6 102.7L300.6 103.2L302.7 104.5L304.8 106.5L306.8 109.5L308.9 113.5L311 118.6L315.1 130.3L319.2 139.1L321.3 141.9L323.3 144.4L329.5 149.7L332.6 153.1L334.8 152.6L331.7 149.4L325.5 144L321.4 138.4L317.3 128.8L313.1 117.2L311.1 112L307 105.6L304.9 103.9L302.8 102.9L267.9 91Z" fill="url(#g155)" stroke="url(#g155)"/><path d="M265.2 90.8L300.2 103L302.2 104.6L304.3 107.1L306.3 110.1L310.5 120L314.6 131.5L316.7 136.1L318.7 139.7L320.8 142.5L322.8 144.7L324.9 146.6L332.1 152.3L333.1 153L330 149.6L323.8 144.3L321.8 141.9L319.7 139.1L315.6 130.3L311.5 118.6L309.4 113.4L307.3 109.4L305.3 106.5L303.2 104.4L301.1 103.1L299.1 102.6L288.1 98.8L266.2 90.8Z" fill="url(#g156)" stroke="url(#g156)"/><path d="M264.5 90.7L286.4 98L297.3 101.8L299.4 103L301.5 104.8L303.5 107.9L305.6 111.5L309.7 122.4L311.8 128.6L315.9 138.9L318 142.1L320 144.9L324.2 148.6L328.3 151.7L331.4 158.2L332.6 152.2L325.4 146.5L323.4 144.6L321.3 142.5L319.2 139.6L317.2 136L315.1 131.4L311 119.9L306.8 110L304.8 107L302.7 104.5L300.7 102.9L265.7 90.8Z" fill="url(#g157)" stroke="url(#g157)"/><path d="M264 90.7L285.9 97.6L296.9 101.5L299 103L301 105.3L303.1 108.4L305.2 112.6L307.2 117.9L311.3 129.7L315.5 138.8L317.5 141.8L319.6 144.3L323.7 147.9L327.8 150.9L330.9 155L331.9 158.1L328.8 151.6L324.7 148.5L320.5 144.8L318.5 142L316.4 138.8L312.3 128.5L310.2 122.3L306.1 111.4L304 107.8L302 104.7L299.9 102.9L297.8 101.7L286.9 97.9L265 90.7Z" fill="url(#g158)" stroke="url(#g158)"/><path d="M263.7 90.7L285.6 97.3L296.6 101.2L298.6 102.8L300.7 105.1L302.8 108.3L304.8 112.6L311 129.6L315.1 138.4L317.2 141.2L319.3 143.6L321.3 145.5L330.6 152.7L331.4 154.9L328.3 150.8L324.2 147.8L320.1 144.2L318 141.7L316 138.7L311.8 129.6L307.7 117.8L305.7 112.5L303.6 108.3L301.5 105.2L299.5 102.9L297.4 101.4L286.4 97.5L264.5 90.6Z" fill="url(#g159)" stroke="url(#g159)"/><path d="M262.3 90.5L273.3 92.9L284.3 95.9L295.2 99.8L297.3 101.7L299.3 104.3L301.4 107.7L303.5 112.4L309.7 129.7L311.7 134.4L313.8 138.4L315.8 141.2L317.9 143.5L322 147.1L326.2 150.2L329.3 153.4L331.1 152.7L321.8 145.4L319.8 143.5L317.7 141.1L315.6 138.3L311.5 129.5L305.3 112.5L303.3 108.2L301.2 105L299.1 102.7L297.1 101.1L286.1 97.2L264.2 90.6Z" fill="url(#g160)" stroke="url(#g160)"/><path d="M260.7 90.6L271.6 92.3L282.6 94.9L293.5 98.9L295.6 101.4L299.7 108.5L305.9 126.6L310 136.2L314.2 142.2L318.3 146L324.5 150.5L327.6 153.1L329.8 153.3L326.7 150.1L322.5 147L318.4 143.5L316.4 141.1L314.3 138.3L312.2 134.3L310.2 129.7L304 112.3L301.9 107.6L299.8 104.2L297.8 101.6L295.7 99.8L284.8 95.9L273.8 92.8L262.8 90.5Z" fill="url(#g161)" stroke="url(#g161)"/><path d="M260.1 90.6L271.1 92.6L282 95.5L293 99.6L295.1 102.2L299.2 109.7L305.4 127.6L309.5 137.1L313.6 142.6L315.7 144.5L319.8 147.9L323.9 150.7L327 153.3L328.1 153L325 150.4L318.8 145.9L314.7 142.2L310.5 136.2L306.4 126.5L300.2 108.4L296.1 101.3L294 98.9L283.1 94.9L272.1 92.2L261.2 90.5Z" fill="url(#g162)" stroke="url(#g162)"/><path d="M259.4 90.7L270.3 93.1L281.3 96.2L292.2 100.5L296.4 106.9L298.4 111.3L304.6 129L308.7 138L310.8 140.9L312.9 143.4L314.9 145.4L319.1 148.7L323.2 151.4L326.3 155.9L327.5 153.2L324.4 150.6L320.3 147.8L316.2 144.4L314.1 142.5L310 137L305.9 127.6L299.7 109.6L295.6 102.1L293.5 99.5L282.5 95.4L271.6 92.5L260.6 90.5Z" fill="url(#g163)" stroke="url(#g163)"/><path d="M259 90.7L269.9 93.4L280.9 96.6L291.9 101L296 107.5L298 112.2L300.1 117.7L304.2 129.6L306.3 134.2L308.4 138.2L310.4 141.1L312.5 143.4L314.5 145.4L318.7 148.6L322.8 151.2L325.9 153.6L326.8 155.8L323.7 151.4L319.6 148.6L315.4 145.3L313.4 143.3L311.3 140.8L309.3 137.9L305.1 128.9L298.9 111.3L296.9 106.8L292.7 100.5L281.8 96.1L270.8 93.1L259.9 90.6Z" fill="url(#g164)" stroke="url(#g164)"/><path d="M258.6 90.8L269.6 93.7L280.5 97L291.5 101.2L293.5 103.8L295.6 107.1L297.7 111.1L299.7 116.5L303.9 128.5L308 137.6L312.1 142.9L314.2 144.8L318.3 148.2L322.4 150.9L325.5 153.7L326.4 153.5L323.3 151.2L319.2 148.5L315 145.3L313 143.3L310.9 141L308.9 138.1L306.8 134.1L304.7 129.5L300.6 117.6L298.5 112.1L296.5 107.4L292.4 100.9L281.4 96.5L270.4 93.3L259.5 90.6Z" fill="url(#g165)" stroke="url(#g165)"/><path d="M257.3 91L290.2 102.4L292.2 103.6L294.3 105.6L296.4 108.6L298.4 112.5L300.5 117.7L304.6 129.4L308.7 138.4L312.9 143.7L314.9 145.6L319.1 149L324.2 152.8L326 153.7L322.9 150.9L318.8 148.1L314.7 144.7L312.6 142.8L308.5 137.5L304.4 128.4L300.2 116.5L298.2 111L296.1 107L294.1 103.7L292 101.1L281 96.9L270.1 93.6L259.1 90.7Z" fill="url(#g166)" stroke="url(#g166)"/><path d="M256.1 91.3L278 98.1L289 102L291 103.8L293.1 106.5L295.2 109.7L299.3 119.9L303.4 131.3L305.5 136L307.5 139.6L309.6 142.4L313.7 146.5L317.9 149.7L319.9 151L323 153.7L324.7 152.7L319.6 148.9L315.4 145.6L313.4 143.6L309.2 138.3L305.1 129.3L301 117.6L298.9 112.4L296.9 108.6L294.8 105.5L292.7 103.6L290.7 102.3L257.8 90.9Z" fill="url(#g167)" stroke="url(#g167)"/><path d="M255.6 91.4L266.6 94.5L277.5 97.9L288.5 101.8L290.5 103.9L294.7 110.1L302.9 132.3L305 137.3L307.1 141L309.1 144.2L311.2 146.3L315.3 149.8L319.4 152.6L322.5 158.2L323.5 153.6L320.4 150.9L318.4 149.6L314.2 146.4L310.1 142.3L308 139.5L306 135.9L303.9 131.3L299.8 119.8L295.7 109.6L293.6 106.4L291.5 103.7L289.5 101.9L278.5 98L256.6 91.2Z" fill="url(#g168)" stroke="url(#g168)"/><path d="M255.3 91.4L277.3 98L288.2 101.9L290.3 103.9L294.4 109.9L298.5 120.6L302.7 132.1L304.7 137.4L306.8 141.4L308.8 144.8L310.9 147.1L313 149L317.1 152.1L319.2 153.5L322.3 161.5L323 158.1L319.9 152.5L315.8 149.7L311.7 146.2L309.6 144.1L307.6 140.9L305.5 137.2L303.4 132.2L295.2 110L291.1 103.8L289 101.7L278 97.8L267.1 94.4L256.1 91.3Z" fill="url(#g169)" stroke="url(#g169)"/><path d="M254.6 91.6L276.5 98.3L287.5 102.2L289.5 103.9L291.6 106.4L293.6 109.6L295.7 114.2L297.8 119.5L301.9 131.2L304 135.8L306 139.6L308.1 142.5L312.2 146.6L316.3 149.9L321.5 153.5L322.8 161.4L319.7 153.4L317.6 152.1L313.5 148.9L311.4 147L309.3 144.8L307.3 141.3L305.2 137.3L303.2 132.1L299 120.5L294.9 109.9L290.8 103.8L288.7 101.8L277.8 97.9L255.8 91.4Z" fill="url(#g170)" stroke="url(#g170)"/><path d="M253.9 91.8L275.8 98.6L286.8 102.5L288.9 104L290.9 106.2L293 109.3L295.1 113.5L297.1 118.8L301.2 130.5L305.4 139.4L309.5 144.6L313.6 148.2L317.7 151.3L320.8 154.8L322 153.4L316.8 149.8L312.7 146.6L308.6 142.4L306.5 139.6L304.5 135.7L302.4 131.1L298.3 119.5L296.2 114.1L294.2 109.5L292.1 106.4L290 103.8L288 102.1L277 98.2L255.1 91.5Z" fill="url(#g171)" stroke="url(#g171)"/><path d="M252.2 92.2L274.2 99.2L285.1 103.1L287.2 104.7L289.2 107.2L291.3 110.3L293.4 114.9L295.4 120.2L299.6 131.8L301.6 136.4L303.7 140.3L305.8 143.1L309.9 147.2L314 150.5L319.2 153.8L321.3 154.7L318.3 151.2L314.1 148.2L310 144.5L305.9 139.3L301.7 130.4L297.6 118.7L295.6 113.4L293.5 109.2L291.4 106.1L289.4 103.9L287.3 102.4L276.3 98.5L254.4 91.7Z" fill="url(#g172)" stroke="url(#g172)"/><path d="M250.6 92.7L272.5 100.3L283.4 105.5L287.6 114.3L289.6 119.4L293.8 130.8L297.9 139.4L299.9 142.2L302 144.5L306.1 148.1L308.2 149.7L314.4 153.6L317.5 154.7L319.7 153.8L314.5 150.4L310.4 147.2L306.3 143L304.2 140.2L302.1 136.3L300.1 131.7L295.9 120.1L293.9 114.8L291.8 110.2L289.8 107.1L287.7 104.6L285.6 103L274.7 99.1L252.7 92.1Z" fill="url(#g173)" stroke="url(#g173)"/><path d="M249.6 92.9L271.5 99.4L282.4 104.7L286.6 114.8L292.8 131.8L294.8 136.4L296.9 140.1L298.9 142.9L303.1 146.9L307.2 150.1L313.4 154L316.5 156.7L318 154.7L314.9 153.6L308.7 149.6L306.6 148L302.5 144.4L300.4 142.1L298.4 139.3L294.3 130.7L290.1 119.4L288.1 114.2L283.9 105.4L273 100.2L251.1 92.6Z" fill="url(#g174)" stroke="url(#g174)"/><path d="M248.9 93L259.8 95.7L270.8 98.8L281.8 104.2L285.9 115.1L292.1 132.4L294.1 137.2L296.2 140.6L298.3 143.5L302.4 147.6L306.5 150.8L312.7 154.5L315.8 157.9L317 156.6L313.9 153.9L307.7 150L303.6 146.8L299.4 142.8L297.4 140L295.3 136.3L293.3 131.7L287.1 114.7L282.9 104.7L272 99.3L250.1 92.8Z" fill="url(#g175)" stroke="url(#g175)"/><path d="M248.8 93L259.8 95.7L270.7 98.8L281.7 104.1L285.8 114.5L292 131.9L294.1 136.7L296.1 140.3L298.2 143.3L302.3 147.6L306.4 150.8L312.6 154.6L315.7 157.7L316.3 157.9L313.2 154.4L307 150.7L302.9 147.6L298.8 143.4L296.7 140.5L294.6 137.1L292.6 132.3L286.4 115L282.3 104.2L271.3 98.7L260.3 95.6L249.4 92.9Z" fill="url(#g176)" stroke="url(#g176)"/><path d="M248 93.1L259 95.5L270 98.6L280.9 102.9L285.1 109.3L287.1 113.9L293.3 131.5L297.4 140.3L299.5 143.1L301.6 145.5L303.6 147.4L307.7 150.7L315 155.1L316.2 157.6L313.1 154.5L306.9 150.7L302.8 147.5L298.7 143.2L296.6 140.2L294.6 136.6L292.5 131.8L286.3 114.4L282.2 104L271.2 98.7L260.3 95.6L249.3 93Z" fill="url(#g177)" stroke="url(#g177)"/><path d="M247.2 93.2L258.2 95.4L269.1 98.3L280.1 102.2L282.1 103.6L284.2 105.6L288.3 112.6L294.5 130L298.6 139.6L302.8 145.5L306.9 149.3L314.1 154.6L315.5 155L308.2 150.6L304.1 147.3L302.1 145.4L300 143L297.9 140.2L293.8 131.5L287.6 113.8L285.6 109.3L281.4 102.8L270.5 98.5L259.5 95.5L248.6 93Z" fill="url(#g178)" stroke="url(#g178)"/><path d="M246 93.2L256.9 95.9L267.9 99.1L278.8 103L280.9 104.4L283 106.6L285 109.9L287.1 113.8L293.3 131.1L297.4 140.4L301.5 145.8L303.6 147.7L307.7 151.1L312.9 154.8L314.6 154.5L307.4 149.2L303.3 145.5L299.1 139.5L295 129.9L288.8 112.5L284.7 105.5L282.6 103.5L280.6 102.1L269.6 98.2L258.7 95.3L247.7 93.1Z" fill="url(#g179)" stroke="url(#g179)"/><path d="M245.5 93.2L256.5 96.1L267.4 99.4L278.4 103.3L280.5 104.8L282.5 106.9L284.6 110.2L286.6 114.2L288.7 119.6L292.8 131.6L297 141.3L299 144.4L301.1 147L305.2 150.7L309.3 153.8L312.4 159.7L313.4 154.7L308.2 151L304.1 147.7L302 145.7L297.9 140.3L293.8 131L287.6 113.7L285.5 109.8L283.5 106.5L281.4 104.4L279.3 102.9L268.4 99L257.4 95.9L246.5 93.2Z" fill="url(#g180)" stroke="url(#g180)"/><path d="M245.2 93.2L267.1 99.8L278.1 103.7L280.1 105.5L282.2 108.1L284.3 111.3L286.3 116L288.4 121.3L292.5 133.1L294.6 138.3L296.6 142.6L298.7 145.9L300.8 148.3L304.9 151.8L309 154.8L312.1 162L312.9 159.6L309.8 153.7L305.7 150.6L301.6 147L299.5 144.3L297.5 141.2L293.3 131.5L289.2 119.6L287.1 114.1L285.1 110.1L283 106.8L281 104.7L278.9 103.2L267.9 99.3L257 96.1L246 93.2Z" fill="url(#g181)" stroke="url(#g181)"/><path d="M244.4 93.2L266.4 100.8L277.3 105.2L281.4 110.9L283.5 115.1L285.6 120.3L289.7 131.7L293.8 140.4L295.9 143.2L297.9 145.6L300 147.5L304.1 150.8L308.3 153.5L311.4 155.9L312.6 161.9L309.5 154.7L305.4 151.8L301.3 148.2L299.2 145.8L297.1 142.5L295.1 138.2L293 133.1L288.9 121.3L286.8 115.9L284.8 111.2L282.7 108L280.6 105.4L278.6 103.6L267.6 99.7L245.7 93.1Z" fill="url(#g182)" stroke="url(#g182)"/><path d="M243.8 93.1L254.8 97.6L265.7 101.7L276.7 106.6L280.8 113.7L282.9 118.7L287 129.8L291.1 139.1L295.3 144.5L299.4 148.2L303.5 151.3L307.7 153.9L310.7 155.4L311.9 155.8L308.8 153.4L304.6 150.7L300.5 147.4L298.5 145.5L296.4 143.1L294.3 140.3L290.2 131.6L286.1 120.2L284 115L282 110.8L277.8 105.1L266.9 100.8L244.9 93.1Z" fill="url(#g183)" stroke="url(#g183)"/><path d="M243.4 93.1L254.3 97.3L265.3 101.2L276.2 105.6L280.4 111.3L282.4 115.7L284.5 120.8L288.6 132L290.7 136.6L292.8 140.5L294.8 143.4L296.9 145.6L298.9 147.6L303.1 150.8L307.2 153.5L310.3 155.7L311.3 155.3L308.2 153.8L304 151.2L299.9 148.1L295.8 144.4L291.7 139L287.5 129.8L283.4 118.6L281.3 113.6L277.2 106.5L266.3 101.6L255.3 97.5L244.3 93.1Z" fill="url(#g184)" stroke="url(#g184)"/><path d="M242.6 93.1L264.5 100.4L275.5 104.3L277.6 105.9L279.6 108.3L281.7 111.4L283.7 115.9L285.8 121.1L289.9 132.7L292 137.5L294.1 141.5L296.1 144.5L298.2 146.8L302.3 150.4L306.4 153.3L309.5 157.7L310.8 155.6L307.7 153.4L303.6 150.7L299.4 147.5L297.4 145.5L295.3 143.3L293.3 140.5L291.2 136.6L289.1 132L285 120.7L282.9 115.6L280.9 111.3L276.8 105.5L265.8 101.1L254.8 97.2L243.9 93Z" fill="url(#g185)" stroke="url(#g185)"/><path d="M242.1 93.1L264.1 99.9L275 103.8L277.1 104.9L279.2 106.6L283.3 112.9L287.4 123.8L289.5 129.8L293.6 139.6L297.7 145.6L301.8 149.4L306 152.6L309.1 156.5L310 157.6L306.9 153.3L302.8 150.3L298.7 146.7L296.6 144.4L294.6 141.4L292.5 137.4L290.4 132.6L286.3 121L284.2 115.8L282.2 111.3L280.1 108.3L278.1 105.8L276 104.2L265 100.3L243.1 93Z" fill="url(#g186)" stroke="url(#g186)"/><path d="M241.9 93.1L263.8 99.7L274.7 103.5L276.8 104.8L278.9 106.7L283 113.6L289.2 130.6L293.3 140.1L297.4 145.6L301.6 149.3L308.8 154.5L309.6 156.4L306.5 152.5L302.3 149.3L298.2 145.5L294.1 139.5L290 129.7L287.9 123.7L283.8 112.8L279.7 106.5L277.6 104.8L275.5 103.7L264.6 99.9L242.7 93Z" fill="url(#g187)" stroke="url(#g187)"/><path d="M240.5 93.2L251.4 95.4L262.4 98.3L273.3 102.3L275.4 104.5L279.5 111.1L283.7 122.3L285.7 128.5L287.8 133.8L289.8 138.4L291.9 141.8L294 144.6L298.1 148.6L302.2 151.7L304.3 153L307.4 155.6L309.3 154.4L302.1 149.2L297.9 145.5L293.8 140L289.7 130.5L283.5 113.5L279.4 106.6L277.3 104.7L275.2 103.4L264.3 99.6L242.4 93Z" fill="url(#g188)" stroke="url(#g188)"/><path d="M238.8 93.7L260.7 100.3L271.7 104.2L273.7 105.7L275.8 108L277.8 111.1L279.9 115.3L286.1 132.4L290.2 141.3L294.4 146.5L296.4 148.4L305.7 155.6L307.9 155.6L304.8 153L302.7 151.6L298.6 148.5L294.5 144.6L292.4 141.7L290.4 138.3L288.3 133.7L286.2 128.5L284.2 122.2L280 111.1L275.9 104.4L273.8 102.2L262.9 98.3L251.9 95.3L241 93.1Z" fill="url(#g189)" stroke="url(#g189)"/><path d="M237.1 94.4L259 101.5L270 105.4L272 107.1L274.1 109.7L276.2 112.8L280.3 122.9L284.4 134.3L286.5 139L288.5 142.7L290.6 145.5L292.7 147.6L294.7 149.6L300.9 154.2L304 157.4L306.2 155.5L296.9 148.3L294.9 146.4L290.7 141.2L286.6 132.3L280.4 115.2L278.4 111.1L276.3 107.9L274.2 105.6L272.2 104.1L261.2 100.2L239.3 93.6Z" fill="url(#g190)" stroke="url(#g190)"/><path d="M236 95L257.9 102L268.9 105.9L270.9 107.3L273 109.4L275.1 112.5L277.1 116.5L279.2 121.7L283.3 133.5L287.4 142.5L291.6 147.8L293.6 149.7L297.8 153L302.9 156.5L304.5 157.3L301.4 154.1L295.2 149.5L293.2 147.6L291.1 145.4L289 142.6L287 138.9L284.9 134.3L280.8 122.8L276.7 112.7L274.6 109.6L272.5 107.1L270.5 105.3L259.5 101.4L237.6 94.3Z" fill="url(#g191)" stroke="url(#g191)"/><path d="M235.4 95.3L257.3 102.3L268.3 106.2L270.4 107.4L272.4 109.2L276.5 115.9L280.7 126.8L282.7 132.8L286.9 142.5L291 148.3L295.1 152L299.2 155.1L302.3 158.2L303.4 156.5L298.3 152.9L294.1 149.6L292.1 147.7L287.9 142.4L283.8 133.4L279.7 121.7L277.6 116.4L275.6 112.4L273.5 109.3L271.4 107.2L269.4 105.8L258.4 102L236.5 94.9Z" fill="url(#g192)" stroke="url(#g192)"/><path d="M235.2 95.4L257.2 102.5L268.1 106.4L270.2 107.8L272.2 109.8L274.3 113L276.4 116.9L278.4 122.2L282.6 134L286.7 143.3L288.8 146.3L290.8 148.8L294.9 152.4L299.1 155.5L302.2 159.8L302.8 158.1L299.7 155L295.6 151.9L291.5 148.2L287.4 142.5L283.2 132.8L281.2 126.7L277.1 115.8L272.9 109.1L270.9 107.3L268.8 106.1L257.8 102.3L235.9 95.2Z" fill="url(#g193)" stroke="url(#g193)"/><path d="M234.5 95.8L256.4 103.1L267.4 107.2L269.4 109.5L271.5 112.6L273.6 116.3L275.6 121.6L279.7 133.2L283.9 142.5L288 147.9L290.1 149.8L294.2 153.2L298.3 155.9L301.4 158.6L302.7 159.7L299.6 155.4L295.4 152.4L291.3 148.7L289.3 146.2L287.2 143.2L283.1 133.9L278.9 122.1L276.9 116.9L274.8 112.9L272.8 109.8L270.7 107.7L268.6 106.3L257.7 102.4L235.7 95.3Z" fill="url(#g194)" stroke="url(#g194)"/><path d="M233.9 96.2L255.8 103.5L266.8 108.2L268.8 111.8L270.9 114.9L275 125.5L277.1 131.5L279.1 136.6L281.2 141.2L283.3 144.4L285.3 147.2L289.4 151L293.6 154.1L300.8 158.5L301.9 158.5L298.8 155.9L294.7 153.1L290.6 149.7L288.5 147.8L284.4 142.4L280.2 133.1L276.1 121.5L274.1 116.2L272 112.5L269.9 109.4L267.9 107.1L256.9 103L235 95.8Z" fill="url(#g195)" stroke="url(#g195)"/><path d="M233.7 96.3L255.7 103.6L266.6 108.5L270.7 115.7L274.9 126.5L276.9 132.4L281.1 141.9L285.2 147.6L287.2 149.6L291.4 153L297.6 157.1L300.7 160.2L301.3 158.4L294.1 154.1L289.9 150.9L285.8 147.1L283.8 144.3L281.7 141.1L279.6 136.5L277.6 131.4L275.5 125.5L271.4 114.8L269.3 111.7L267.3 108.1L256.3 103.4L234.4 96.1Z" fill="url(#g196)" stroke="url(#g196)"/><path d="M233.1 96.6L255 104.5L266 109.2L268.1 112.7L270.1 115.7L274.2 126.2L276.3 132L278.4 137L280.4 141.7L282.5 145.1L284.6 148L288.7 152L292.8 155.1L296.9 157.8L300 162L301.2 160.1L298.1 157.1L291.9 152.9L287.7 149.5L285.7 147.5L281.6 141.8L277.4 132.3L275.4 126.4L271.2 115.6L267.1 108.4L256.2 103.5L234.2 96.2Z" fill="url(#g197)" stroke="url(#g197)"/><path d="M232.4 96.9L243.3 101.4L254.3 105.5L265.2 110.1L269.4 116L273.5 125.8L277.6 136.7L279.7 141.3L281.7 144.8L283.8 147.6L287.9 151.6L292.1 154.8L296.2 157.4L299.3 159.8L300.5 161.9L297.4 157.7L293.3 155L289.2 151.9L285.1 147.9L283 145L280.9 141.6L278.9 136.9L276.8 131.9L274.8 126.1L270.6 115.6L268.6 112.6L266.5 109.1L255.5 104.4L233.6 96.5Z" fill="url(#g198)" stroke="url(#g198)"/><path d="M232.1 97.1L243 101.8L254 106L264.9 110.5L269.1 116.2L273.2 125.6L277.3 136.5L279.4 141.1L281.4 144.8L283.5 147.6L287.6 151.7L291.7 154.9L295.9 157.5L299 159L299.8 159.8L296.7 157.3L292.6 154.7L288.4 151.5L284.3 147.5L282.2 144.7L280.2 141.2L278.1 136.6L274 125.7L269.9 115.9L265.7 110L254.8 105.4L243.8 101.4L232.9 96.9Z" fill="url(#g199)" stroke="url(#g199)"/><path d="M230.4 97.7L241.3 100.2L252.3 103.2L263.2 108L267.4 115.5L271.5 126.9L273.6 133.1L277.7 142.9L281.8 148.9L283.9 150.8L285.9 152.6L290.1 155.7L297.3 160.5L299.5 159L296.4 157.4L292.3 154.8L288.1 151.6L284 147.5L281.9 144.7L279.9 141L277.8 136.4L273.7 125.5L269.6 116.1L265.4 110.4L254.5 105.9L243.5 101.7L232.6 97Z" fill="url(#g200)" stroke="url(#g200)"/><path d="M230 97.8L240.9 100.1L251.9 103.1L262.8 108.1L267 117.2L269 122.8L273.1 135.1L277.3 144.2L281.4 149.4L285.5 153.1L289.6 156.1L293.8 158.7L296.9 159.9L297.8 160.4L290.6 155.6L286.4 152.5L284.4 150.7L282.3 148.8L278.2 142.8L274.1 133L272 126.8L267.9 115.4L263.8 107.9L252.8 103.1L241.8 100.1L230.9 97.6Z" fill="url(#g201)" stroke="url(#g201)"/><path d="M229.2 98L240.2 100.1L251.1 102.9L262.1 108.5L270.3 132.5L274.4 142.7L278.6 148.9L282.7 153.1L286.8 156.3L291 158.9L293 159.9L296.1 163.2L297.4 159.9L294.3 158.6L290.2 156L286 153L281.9 149.3L277.8 144.1L273.6 135L269.5 122.7L267.5 117.1L263.3 108.1L252.4 103L241.4 100L230.5 97.7Z" fill="url(#g202)" stroke="url(#g202)"/><path d="M228.9 98L239.8 100L250.8 102.8L261.8 108.9L263.8 115.8L265.9 121.4L270 134L274.1 143.7L278.3 149.2L282.4 153.1L286.5 156.2L290.6 158.8L292.7 159.6L295.8 162.2L296.6 163.1L293.5 159.8L291.5 158.8L287.3 156.2L283.2 153.1L279.1 148.8L275 142.6L270.8 132.4L262.6 108.4L251.6 102.8L240.7 100L229.7 97.9Z" fill="url(#g203)" stroke="url(#g203)"/><path d="M228.7 98.1L239.6 100L250.6 102.8L261.6 109.1L263.6 116.5L269.8 134.7L271.9 139.7L273.9 144.1L278.1 149.4L282.2 153.1L284.3 154.8L290.4 158.7L292.5 159.4L295.6 161.4L296.3 162.2L293.2 159.5L291.1 158.7L287 156.1L282.9 153.1L278.8 149.1L274.6 143.6L270.5 133.9L266.4 121.4L264.3 115.7L262.3 108.8L251.3 102.8L240.3 99.9L229.4 98Z" fill="url(#g204)" stroke="url(#g204)"/><path d="M228.4 98.1L239.4 100.3L250.4 103.2L261.3 109.6L263.4 117L269.6 134.9L271.6 139.9L273.7 144.2L275.8 147L277.8 149.3L279.9 151.2L284 154.5L290.2 158.5L292.3 159.1L295.4 160.6L296.1 161.3L293 159.3L291 158.6L284.8 154.7L282.7 153.1L278.6 149.3L274.4 144L272.4 139.6L270.3 134.6L264.1 116.4L262.1 109L251.1 102.7L240.2 99.9L229.2 98Z" fill="url(#g205)" stroke="url(#g205)"/><path d="M227.4 98.2L249.3 105L260.2 111.6L262.3 119L268.5 136L270.6 140.6L272.6 144.5L274.7 147.3L276.7 149.6L278.8 151.5L282.9 154.7L289.1 158.6L291.2 159.2L294.3 161L295.9 160.5L292.8 159L290.7 158.4L284.5 154.4L280.4 151.2L278.3 149.2L276.3 146.9L274.2 144.1L272.1 139.8L270.1 134.8L263.9 116.9L261.8 109.5L250.9 103.1L239.9 100.2L228.9 98Z" fill="url(#g206)" stroke="url(#g206)"/><path d="M227 98.3L248.9 105.6L259.9 112.2L261.9 119.7L268.1 136.3L270.2 140.9L272.3 144.6L274.3 147.5L276.4 149.7L278.4 151.6L282.6 154.8L288.8 158.6L293.9 160.3L294.8 160.9L291.7 159.2L289.6 158.5L283.4 154.7L279.3 151.4L277.3 149.5L275.2 147.2L273.1 144.4L271.1 140.5L269 135.9L262.8 118.9L260.7 111.5L249.8 104.9L227.9 98.1Z" fill="url(#g207)" stroke="url(#g207)"/><path d="M225.9 98.3L247.8 105.9L258.7 110.9L262.9 118.7L264.9 123.9L269 135.4L273.2 144.4L277.3 149.8L281.4 153.5L285.5 156.5L292.8 161L294.4 160.2L289.3 158.6L283.1 154.7L279 151.5L276.9 149.6L274.8 147.4L272.8 144.6L270.7 140.8L268.6 136.3L262.4 119.6L260.4 112.1L249.4 105.6L227.5 98.2Z" fill="url(#g208)" stroke="url(#g208)"/><path d="M225.5 98.3L247.4 106L258.4 110.7L262.5 117.1L270.8 138.4L272.8 143L274.9 146.4L277 149.2L281.1 153.1L285.2 156.2L289.3 158.9L292.4 161.3L293.3 160.9L286.1 156.4L281.9 153.4L277.8 149.7L273.7 144.3L269.5 135.3L265.4 123.8L263.4 118.6L259.2 110.8L248.3 105.9L226.4 98.2Z" fill="url(#g209)" stroke="url(#g209)"/><path d="M225.3 98.3L247.2 106.1L258.2 110.6L262.3 116.5L264.4 121L266.5 126.2L270.6 137.5L272.6 142.2L274.7 146.1L276.8 149L278.8 151.4L280.9 153.4L285 156.6L289.1 159.3L292.2 163.5L292.9 161.2L289.9 158.8L285.7 156.1L281.6 153L277.5 149.1L275.4 146.3L273.3 143L271.3 138.4L263 117L258.9 110.6L247.9 105.9L226 98.2Z" fill="url(#g210)" stroke="url(#g210)"/><path d="M224.8 98.2L246.7 105.7L257.6 110.6L261.8 118.2L263.8 123.4L268 135L272.1 144.5L276.2 151L278.3 153.5L280.3 155.4L282.4 157L288.6 161.1L291.7 167.6L292.7 163.4L289.6 159.2L285.5 156.5L281.4 153.3L279.3 151.3L277.3 149L275.2 146L273.1 142.1L271.1 137.4L267 126.1L264.9 120.9L262.8 116.4L258.7 110.5L247.7 106L225.8 98.2Z" fill="url(#g211)" stroke="url(#g211)"/><path d="M224 98.2L245.9 105.2L256.9 110.7L263.1 127L265.1 133L267.2 138.1L269.3 142.7L271.3 145.9L273.4 148.7L277.5 152.5L281.6 155.6L285.8 158.2L287.8 159.2L290.9 161.4L292.2 167.5L289.1 161L282.9 156.9L280.8 155.3L278.8 153.4L276.7 150.9L272.6 144.4L268.5 134.9L264.3 123.4L262.3 118.1L258.1 110.5L247.2 105.6L225.3 98.2Z" fill="url(#g212)" stroke="url(#g212)"/><path d="M223.6 98.2L245.6 104.9L256.5 111L258.6 117.7L260.6 123L264.8 134.9L268.9 143.9L273 149.2L275.1 151.1L279.2 154.4L285.4 158.4L290.6 160.1L291.4 161.3L288.3 159.2L286.3 158.1L282.1 155.5L278 152.4L273.9 148.6L271.8 145.8L269.8 142.6L267.7 138L265.6 132.9L263.6 126.9L257.4 110.6L246.4 105.1L224.5 98.1Z" fill="url(#g213)" stroke="url(#g213)"/><path d="M223.1 98.1L245 105.5L256 110.3L260.1 117.5L264.2 128.3L266.3 134.2L270.4 143.7L274.5 149.4L278.7 153.1L282.8 156.2L290 160.7L291.1 160L285.9 158.3L279.7 154.3L275.6 151L273.5 149.1L269.4 143.8L265.3 134.8L261.1 122.9L259.1 117.6L257 110.9L246.1 104.8L224.1 98.1Z" fill="url(#g214)" stroke="url(#g214)"/><path d="M222 98L232.9 102.6L243.9 106.8L254.8 110.5L256.9 110.9L259 112.1L261 114.1L263.1 116.9L265.1 120.8L267.2 125.9L271.3 137.6L275.5 146.3L277.5 149.1L279.6 151.5L281.7 153.4L285.8 156.8L288.9 160.1L290.5 160.6L283.3 156.1L279.2 153L275 149.3L270.9 143.6L266.8 134.1L264.7 128.2L260.6 117.4L256.5 110.2L245.5 105.4L223.6 98Z" fill="url(#g215)" stroke="url(#g215)"/><path d="M221.7 98L243.6 105.8L254.6 109.6L256.6 110.2L258.7 111.6L260.8 113.8L262.8 116.8L264.9 121L266.9 126.2L271.1 137.8L273.1 142.4L275.2 146.4L277.3 149.2L279.3 151.6L285.5 156.9L288.6 161.5L289.4 160L286.3 156.7L282.2 153.3L280.1 151.4L278 149L276 146.2L271.8 137.5L267.7 125.8L265.7 120.7L263.6 116.8L261.5 114L259.5 112L257.4 110.8L255.3 110.5L244.4 106.7L233.4 102.5L222.5 97.9Z" fill="url(#g216)" stroke="url(#g216)"/><path d="M221.6 97.9L256.5 109.9L258.6 111.4L260.6 113.7L262.7 116.7L264.8 121.1L266.8 126.3L271 138L273 142.6L275.1 146.5L277.2 149.4L279.2 151.6L281.3 153.6L288.5 159L289.1 161.4L286 156.8L279.8 151.5L277.8 149.2L275.7 146.4L273.6 142.4L271.6 137.8L267.4 126.1L265.4 121L263.3 116.7L261.3 113.7L259.2 111.5L257.1 110.1L255.1 109.5L244.1 105.7L222.2 97.9Z" fill="url(#g217)" stroke="url(#g217)"/><path d="M220.9 97.9L231.9 100.2L242.8 103.2L253.8 107L255.9 108.1L257.9 110.1L260 113.1L262.1 116.5L266.2 127.2L270.3 138.7L272.4 143.5L274.4 147.2L276.5 150.1L280.6 154.1L284.7 157.4L287.8 161.2L289 158.9L281.8 153.5L279.7 151.6L277.7 149.3L275.6 146.5L273.5 142.5L271.5 137.9L267.3 126.3L265.3 121L263.2 116.7L261.2 113.6L259.1 111.3L257 109.8L222.1 97.9Z" fill="url(#g218)" stroke="url(#g218)"/><path d="M220.3 97.8L231.2 98.7L242.2 101L253.2 104.8L255.2 106.4L257.3 108.8L261.4 116.2L267.6 134L271.7 143.8L273.8 147.2L275.8 150L280 153.8L287.2 159.3L288.3 161.1L285.3 157.3L281.1 154.1L277 150L274.9 147.2L272.9 143.4L270.8 138.7L266.7 127.1L262.6 116.4L260.5 113L258.4 110L256.4 108L254.3 106.9L243.3 103.1L232.4 100.1L221.4 97.8Z" fill="url(#g219)" stroke="url(#g219)"/><path d="M191.5 139L200.7 123.6L208 109.1L210.4 104.8L212.9 101.8L215.3 99.7L217.7 98.1L220.2 97.8L220.8 97.7L218.3 98L215.9 99.5L213.5 101.6L211 104.6L208.6 108.8L201.3 123.3L198.8 127.6L196.4 131.4L192.2 139.1Z" fill="url(#g220)" stroke="url(#g220)"/><path d="M220.2 97.8L231.1 98.8L242.1 101.1L253 104.9L255.1 106.5L257.2 108.9L261.3 116.3L267.5 134.1L271.6 143.8L273.7 147.1L275.7 149.9L279.9 153.8L284 156.9L287.1 159.8L287.7 159.2L280.5 153.7L276.3 149.9L274.3 147.1L272.2 143.8L268.1 133.9L261.9 116.1L257.8 108.7L255.7 106.4L253.7 104.7L242.7 100.9L231.7 98.6L220.8 97.7Z" fill="url(#g221)" stroke="url(#g221)"/><path d="M191.4 138.9L198.1 128L200.6 123.7L207.9 109.2L210.3 104.9L212.8 102L215.2 99.7L217.6 98L220.1 97.8L220.7 97.7L218.2 98L215.8 99.6L213.4 101.8L210.9 104.7L208.5 109L201.2 123.5L192.1 138.9Z" fill="url(#g222)" stroke="url(#g222)"/><path d="M220.1 97.8L231 98.8L242 101.2L252.9 105L255 106.6L257.1 109L261.2 116.3L267.4 134.1L271.5 143.8L273.6 147.1L275.6 149.9L279.8 153.8L287 159.6L287.6 159.7L284.5 156.9L280.4 153.7L276.2 149.8L274.2 147L272.1 143.7L268 134L261.8 116.2L257.7 108.8L255.6 106.5L253.6 104.8L242.6 101L231.6 98.7L220.7 97.7Z" fill="url(#g223)" stroke="url(#g223)"/><path d="M190 140.3L196.7 130.4L199.1 126.2L201.5 121.7L208.8 107.1L213.7 100.3L216.2 97.9L218.6 97.6L220.6 97.7L218.1 98L215.7 99.6L213.3 101.9L210.8 104.8L208.4 109.2L201.1 123.6L198.6 128L191.9 138.8Z" fill="url(#g224)" stroke="url(#g224)"/><path d="M218.6 97.6L229.6 99.8L240.5 102.7L251.5 106.6L253.5 108L255.6 110L259.7 117L265.9 134.4L270 144L274.2 149.9L278.3 153.7L282.4 156.9L285.5 160.3L287.5 159.5L280.3 153.7L276.1 149.8L274.1 147L272 143.7L267.9 134L261.7 116.2L257.6 108.9L255.5 106.5L253.5 104.9L242.5 101.1L231.5 98.7L220.6 97.7Z" fill="url(#g225)" stroke="url(#g225)"/><path d="M188.3 140.2L192.5 136.3L197.4 128.5L199.9 124.2L207.2 109.7L212 101L214.5 98L216.9 97.6L219.1 97.5L216.7 97.9L214.2 100.3L209.3 107L202 121.6L199.6 126.1L197.2 130.3L190.5 140.2Z" fill="url(#g226)" stroke="url(#g226)"/><path d="M216.9 97.6L227.9 99.8L238.8 102.8L249.8 106.7L251.8 109.1L256 115.7L262.2 133.3L264.2 138.5L266.3 143.1L268.4 146.4L270.4 149.2L274.5 153L283.8 159.9L286 160.3L282.9 156.8L278.8 153.6L274.7 149.9L270.5 144L266.4 134.3L260.2 117L256.1 109.9L254 107.9L252 106.5L241 102.6L230.1 99.7L219.1 97.5Z" fill="url(#g227)" stroke="url(#g227)"/><path d="M186.6 140.3L193.3 130.6L195.7 126.4L198.2 122L205.5 107.4L210.4 100.5L212.8 98L215.2 97.7L217.4 97.5L215 97.9L212.5 100.9L207.7 109.6L200.4 124.1L197.9 128.4L193 136.2L188.8 140.1Z" fill="url(#g228)" stroke="url(#g228)"/><path d="M215.2 97.7L226.2 100.6L237.1 103.8L248.1 107.7L250.2 109L252.2 110.9L256.4 117.8L262.5 135L266.7 144.5L270.8 150.1L274.9 153.9L279 156.9L282.1 158.9L284.3 159.8L275 152.9L270.9 149.1L268.9 146.3L266.8 143L264.7 138.4L262.7 133.2L256.5 115.7L252.4 109L250.3 106.7L239.3 102.7L228.4 99.8L217.4 97.5Z" fill="url(#g229)" stroke="url(#g229)"/><path d="M186.4 140.4L193.1 130.3L195.5 126.1L197.9 121.6L205.3 107L210.1 100.4L212.6 98.1L215 97.7L215.7 97.6L213.3 97.9L210.9 100.4L206 107.3L198.7 121.9L196.2 126.3L193.8 130.5L187.1 140.3Z" fill="url(#g230)" stroke="url(#g230)"/><path d="M215 97.7L226 100.7L236.9 104L247.9 107.9L249.9 109L252 110.8L256.1 117.2L262.3 134.2L266.4 143.9L268.5 147.1L270.6 149.9L274.7 153.7L281.9 159.2L282.6 158.9L279.6 156.9L275.4 153.8L271.3 150.1L267.2 144.4L263 134.9L256.9 117.7L252.7 110.8L250.7 108.9L248.6 107.6L237.6 103.7L226.7 100.5L215.7 97.6Z" fill="url(#g231)" stroke="url(#g231)"/><path d="M185.9 140.4L190.2 133.4L192.6 129.8L195.1 125.5L204.8 106.3L209.7 100.3L212.1 98.1L214.6 97.8L215.5 97.6L213.1 98L210.6 100.3L205.8 106.9L198.4 121.5L196 126L193.6 130.2L186.9 140.3Z" fill="url(#g232)" stroke="url(#g232)"/><path d="M214.6 97.8L236.5 104.4L247.4 108.3L249.5 109L251.6 110.8L253.6 113.4L255.7 116.5L259.8 126.6L263.9 138.4L266 143.2L268.1 147.2L270.1 150.1L272.2 152.3L274.3 154.3L278.4 157.5L281.5 161.5L282.4 159.1L275.2 153.7L271.1 149.9L269 147L267 143.8L262.8 134.1L256.6 117.1L252.5 110.7L250.4 108.9L248.4 107.8L237.4 103.9L226.5 100.6L215.5 97.6Z" fill="url(#g233)" stroke="url(#g233)"/><path d="M185.6 141.3L189.9 133L192.3 129.4L194.8 125.1L204.5 106L209.4 100.2L211.8 98.1L214.2 97.8L215.1 97.7L212.6 98L210.2 100.2L205.3 106.2L195.6 125.4L193.1 129.7L190.7 133.3L186.4 140.3Z" fill="url(#g234)" stroke="url(#g234)"/><path d="M214.2 97.8L236.2 104.7L249.2 109.2L251.3 110.7L253.3 113L255.4 116.1L257.4 120.3L259.5 125.6L263.6 137.8L267.8 147.3L269.8 150.2L271.9 152.6L273.9 154.6L278.1 157.9L281.2 163.4L282 161.5L278.9 157.4L274.8 154.2L272.7 152.2L270.6 150L268.6 147.2L266.5 143.2L264.4 138.3L260.3 126.5L256.2 116.5L254.1 113.3L252.1 110.7L250 108.9L247.9 108.2L237 104.4L215.1 97.7Z" fill="url(#g235)" stroke="url(#g235)"/><path d="M184.9 142.9L189.2 132.2L191.6 128.5L194 124.2L201.4 109.7L203.8 105.3L206.2 102.3L208.7 99.9L211.1 98.2L213.5 97.9L214.8 97.7L212.3 98L209.9 100.1L205 105.9L195.3 125L192.8 129.3L190.4 132.9L186.1 141.2Z" fill="url(#g236)" stroke="url(#g236)"/><path d="M213.5 97.9L248.5 109.7L250.5 110.7L252.6 112.3L256.7 118.2L260.9 129L262.9 135L267.1 144.8L271.2 150.8L275.3 154.6L280.5 158.9L281.7 163.3L278.6 157.8L274.4 154.5L272.4 152.6L270.3 150.2L268.3 147.2L264.1 137.7L260 125.5L257.9 120.2L255.9 116L253.8 112.9L251.8 110.6L249.7 109.1L236.7 104.7L214.8 97.7Z" fill="url(#g237)" stroke="url(#g237)"/><path d="M184.9 143.1L189.1 132.2L191.6 128.5L194 124.2L201.3 109.7L203.7 105.3L206.2 102.3L208.6 99.9L211.1 98.2L213.5 97.9L214 97.8L211.6 98.1L209.2 99.8L206.7 102.2L204.3 105.2L201.9 109.6L194.6 124.1L192.1 128.4L189.7 132.1L185.4 142.8Z" fill="url(#g238)" stroke="url(#g238)"/><path d="M213.5 97.9L248.4 109.7L250.5 110.6L252.6 112.3L256.7 118.3L260.8 129L262.9 135L267 144.7L271.1 150.7L277.3 156.2L280.4 159.4L281 158.9L275.8 154.5L271.7 150.7L267.6 144.7L263.4 134.9L261.4 128.9L257.2 118.2L253.1 112.2L251.1 110.6L249 109.6L214 97.8Z" fill="url(#g239)" stroke="url(#g239)"/><path d="M184.4 144.9L188.7 132.4L191.1 128.7L193.5 124.4L203.3 105.5L205.7 102.5L208.2 100L210.6 98.3L213 98L214 97.8L211.6 98.1L209.1 99.9L206.7 102.2L204.2 105.2L201.8 109.7L194.5 124.1L192.1 128.4L189.6 132.1L185.4 143Z" fill="url(#g240)" stroke="url(#g240)"/><path d="M213 98L248 109.6L250 110.6L252.1 112.3L256.2 118.5L260.4 129.3L262.4 135.3L266.5 144.9L270.7 150.9L276.9 156.3L280 159.3L280.9 159.3L277.8 156.1L271.6 150.7L267.5 144.6L263.4 134.9L261.3 128.9L257.2 118.2L253.1 112.2L251 110.6L248.9 109.6L214 97.8Z" fill="url(#g241)" stroke="url(#g241)"/><path d="M184.4 144.8L188.6 132.4L191.1 128.7L193.5 124.4L203.3 105.5L205.7 102.5L208.1 100.1L210.6 98.3L213 98L213.5 97.9L211.1 98.2L208.7 100L206.2 102.4L203.8 105.4L194 124.3L191.6 128.6L189.2 132.3L184.9 144.9Z" fill="url(#g242)" stroke="url(#g242)"/><path d="M213 98L247.9 109.5L250 110.6L252.1 112.3L256.2 118.5L260.3 129.3L262.4 135.3L266.5 144.9L270.6 150.9L276.8 156.3L279.9 159.7L280.5 159.2L277.4 156.2L271.2 150.8L267.1 144.8L262.9 135.2L260.9 129.2L256.7 118.4L252.6 112.2L250.5 110.5L248.5 109.5L213.5 97.9Z" fill="url(#g243)" stroke="url(#g243)"/><path d="M183.6 142.5L187.9 132.7L190.3 129.1L192.8 124.8L202.5 105.8L204.9 102.8L207.4 100.2L209.8 98.4L212.2 98.1L213.5 97.9L211.1 98.2L208.6 100L206.2 102.4L203.8 105.4L194 124.3L191.6 128.6L189.1 132.3L184.9 144.7Z" fill="url(#g244)" stroke="url(#g244)"/><path d="M212.2 98.1L234.2 104.8L247.2 109.3L249.2 110.5L251.3 112.2L255.4 118.9L259.6 130L261.6 136.6L265.8 147.3L267.8 150.5L269.9 153.2L276.1 158.6L279.2 166.7L280.4 159.6L277.3 156.2L271.1 150.8L267 144.9L262.9 135.2L260.8 129.2L256.7 118.4L252.6 112.2L250.5 110.5L248.4 109.5L213.5 97.9Z" fill="url(#g245)" stroke="url(#g245)"/><path d="M183.2 141.3L187.5 132.9L189.9 129.3L192.4 125L202.1 105.9L204.6 102.9L207 100.3L209.4 98.4L211.9 98.1L212.7 98L210.3 98.3L207.9 100.2L205.4 102.7L203 105.7L193.3 124.7L190.8 129L188.4 132.6L184.1 142.4Z" fill="url(#g246)" stroke="url(#g246)"/><path d="M211.9 98.1L233.8 104.7L244.7 108.4L246.8 109.2L248.9 110.4L250.9 112.3L255.1 119L259.2 130.1L261.2 136.4L265.4 146.5L269.5 152.2L273.6 155.9L275.7 157.5L278.8 162.5L279.7 166.6L276.6 158.5L270.4 153.1L268.3 150.4L266.3 147.2L262.1 136.5L260.1 129.9L255.9 118.8L251.8 112.2L249.8 110.4L247.7 109.2L234.7 104.7L212.7 98Z" fill="url(#g247)" stroke="url(#g247)"/><path d="M182.9 140.2L187.2 133L189.6 129.4L192 125.1L201.8 106L204.2 103L206.7 100.4L209.1 98.5L211.5 98.1L212.4 98L209.9 98.3L207.5 100.2L205.1 102.8L202.6 105.8L192.9 124.9L190.4 129.2L188 132.8L183.7 141.2Z" fill="url(#g248)" stroke="url(#g248)"/><path d="M211.5 98.1L233.4 104.9L244.4 108.7L246.5 109.4L248.5 111L250.6 113.4L252.7 116.6L254.7 120.9L260.9 137.9L265 146.6L267.1 149.5L269.2 151.8L271.2 153.7L278.4 159.5L279.3 162.4L276.2 157.4L274.1 155.8L270 152.1L265.9 146.4L261.7 136.3L259.7 130L255.6 119L251.4 112.2L249.4 110.3L247.3 109.1L245.2 108.3L234.3 104.6L212.4 98Z" fill="url(#g249)" stroke="url(#g249)"/><path d="M182.9 140.2L187.1 133L189.6 129.4L192 125.1L201.7 106.1L204.2 103L206.6 100.4L209.1 98.5L211.5 98.2L212 98.1L209.6 98.4L207.2 100.3L204.7 102.9L202.3 106L192.5 125L190.1 129.3L187.7 132.9L183.4 140.1Z" fill="url(#g250)" stroke="url(#g250)"/><path d="M211.5 98.2L233.4 104.9L244.4 108.7L246.4 109.4L248.5 111.1L250.6 113.5L252.6 116.7L254.7 121.1L256.7 126.5L260.9 138.1L262.9 142.7L265 146.7L267.1 149.5L269.1 151.8L271.2 153.7L278.4 159.3L278.9 159.4L271.7 153.7L269.7 151.7L267.6 149.4L265.5 146.6L261.4 137.8L255.2 120.8L253.2 116.5L251.1 113.3L249 110.9L247 109.3L244.9 108.6L233.9 104.8L212 98.1Z" fill="url(#g251)" stroke="url(#g251)"/><path d="M181.6 140.7L185.8 133.6L188.2 129.9L190.7 125.6L200.4 106.5L205.3 100.7L207.7 98.6L210.2 98.3L212 98.1L209.6 98.4L207.1 100.3L204.7 102.9L202.2 106L192.5 125L190.1 129.3L187.6 133L183.4 140.1Z" fill="url(#g252)" stroke="url(#g252)"/><path d="M210.2 98.3L232.1 105.7L243.1 109.8L245.1 111.7L249.2 118.1L253.4 128.8L255.4 134.8L259.6 144.3L263.7 150.1L265.7 152L269.9 155.4L277.1 160.6L278.9 159.3L271.7 153.6L269.6 151.7L267.6 149.4L265.5 146.6L263.4 142.6L261.4 138L257.2 126.4L255.2 121.1L253.1 116.6L251.1 113.4L249 111L246.9 109.3L244.9 108.6L233.9 104.8L212 98.1Z" fill="url(#g253)" stroke="url(#g253)"/><path d="M181 141L187.7 130.8L190.1 126.6L192.5 122.1L199.8 107.5L204.7 101L207.2 98.7L209.6 98.3L210.7 98.2L208.2 98.5L205.8 100.6L200.9 106.4L191.2 125.6L188.8 129.9L186.3 133.5L182.1 140.6Z" fill="url(#g254)" stroke="url(#g254)"/><path d="M209.6 98.3L242.5 110.2L244.5 112.1L248.7 118.1L252.8 128.7L254.8 134.6L259 144.2L263.1 150.1L267.2 153.8L276.5 160.6L277.6 160.5L270.4 155.3L266.3 151.9L264.2 150L260.1 144.2L255.9 134.7L253.9 128.7L249.7 118L245.6 111.6L243.6 109.7L232.6 105.6L210.7 98.2Z" fill="url(#g255)" stroke="url(#g255)"/><path d="M180.2 141L184.5 135.6L189.3 127.8L191.8 123.4L199.1 108.8L201.5 105L204 101.4L206.4 98.7L208.8 98.4L210.1 98.3L207.7 98.6L205.2 100.9L200.4 107.4L193 122L190.6 126.5L188.2 130.7L181.5 140.9Z" fill="url(#g256)" stroke="url(#g256)"/><path d="M208.8 98.4L219.8 102.8L241.7 110.8L243.8 112.5L247.9 118.2L258.2 144.8L260.3 148.6L262.3 151.9L264.4 154L268.5 157.4L272.7 160.3L275.8 168.2L277 160.5L267.7 153.8L263.6 150L259.5 144.1L255.4 134.5L253.3 128.6L249.2 118.1L245 112L243 110.1L210.1 98.3Z" fill="url(#g257)" stroke="url(#g257)"/><path d="M179.9 141.1L184.1 136.2L189 128.4L191.4 124L198.7 109.4L203.6 101.6L206.1 98.8L208.5 98.4L209.3 98.3L206.9 98.7L204.5 101.3L202 104.9L199.6 108.7L192.3 123.4L189.8 127.7L185 135.6L180.7 141Z" fill="url(#g258)" stroke="url(#g258)"/><path d="M208.5 98.4L219.5 103L241.4 111L243.4 112.7L247.6 118.2L251.7 128.5L255.8 139.5L257.9 144.4L259.9 148L262 151.1L264.1 153.1L268.2 156.5L272.3 159.4L275.4 164.2L276.3 168.1L273.2 160.2L269 157.3L264.9 153.9L262.8 151.8L260.8 148.5L258.7 144.7L248.4 118.1L244.3 112.4L242.2 110.7L220.3 102.7L209.3 98.3Z" fill="url(#g259)" stroke="url(#g259)"/><path d="M179.5 141.1L183.7 135.6L188.6 127.8L191 123.4L198.3 108.8L200.8 105L203.2 101.4L205.6 98.8L208.1 98.5L209 98.3L206.6 98.7L204.1 101.5L199.3 109.4L191.9 124L189.5 128.3L184.6 136.1L180.4 141Z" fill="url(#g260)" stroke="url(#g260)"/><path d="M208.1 98.5L219 103.1L241 111.1L243 112.4L245.1 114.4L247.1 117.3L249.2 121.4L251.3 126.3L255.4 137.7L257.5 142.4L259.5 146.3L261.6 149.2L263.6 151.5L265.7 153.4L269.8 156.7L275 160.3L275.9 164.1L272.8 159.3L268.7 156.5L264.6 153L262.5 151L260.4 147.9L258.4 144.3L256.3 139.4L252.2 128.4L248.1 118.2L243.9 112.6L241.9 110.9L220 102.9L209 98.3Z" fill="url(#g261)" stroke="url(#g261)"/><path d="M178.4 141.2L182.6 134.1L185.1 130.5L187.5 126.2L197.2 107L202.1 101L204.6 98.9L207 98.5L208.6 98.4L206.1 98.7L203.7 101.3L201.3 104.9L198.8 108.7L191.5 123.3L189.1 127.7L184.2 135.5L180 141Z" fill="url(#g262)" stroke="url(#g262)"/><path d="M207 98.5L218 103.3L228.9 107.6L239.9 111.4L241.9 111.7L244 112.8L246.1 114.7L248.1 117.5L250.2 121.3L252.2 126.4L256.4 138.1L260.5 146.8L262.6 149.6L264.6 152L270.8 157.3L273.9 161L275.5 160.2L270.3 156.6L266.2 153.3L264.2 151.4L262.1 149.1L260 146.3L258 142.3L255.9 137.7L251.8 126.2L249.7 121.3L247.7 117.2L245.6 114.4L243.5 112.3L241.5 111L219.5 103L208.6 98.4Z" fill="url(#g263)" stroke="url(#g263)"/><path d="M178.2 141.7L182.4 133.9L184.9 130.3L187.3 126L197.1 106.8L201.9 100.9L204.4 98.9L206.8 98.6L207.5 98.5L205.1 98.8L202.6 100.9L197.7 106.9L188 126.1L185.6 130.4L183.1 134L178.9 141.1Z" fill="url(#g264)" stroke="url(#g264)"/><path d="M206.8 98.6L217.8 103.4L228.7 107.6L239.7 111.4L241.8 111.7L243.8 112.7L245.9 114.3L247.9 117.1L250 120.5L252.1 125.6L256.2 137.3L260.3 146.4L264.4 151.8L273.7 160L274.4 161L271.3 157.3L265.1 151.9L263.1 149.6L261 146.7L256.9 138L252.8 126.3L250.7 121.2L248.6 117.4L246.6 114.6L244.5 112.7L242.4 111.6L240.4 111.3L229.4 107.5L218.5 103.3L207.5 98.5Z" fill="url(#g265)" stroke="url(#g265)"/><path d="M177.4 144.7L181.7 134.6L184.1 131L186.5 126.7L196.3 107.6L201.2 101.2L203.6 99L206 98.6L207.3 98.5L204.9 98.8L202.4 100.9L197.6 106.7L187.8 125.9L185.4 130.2L182.9 133.8L178.7 141.6Z" fill="url(#g266)" stroke="url(#g266)"/><path d="M206 98.6L227.9 106.6L238.9 110.4L241 110.9L243 111.8L245.1 113.4L249.2 119.6L251.3 124.7L255.4 136.3L259.5 145.9L263.7 151.6L267.8 155.4L272.9 159.4L274.2 159.9L265 151.7L260.8 146.4L256.7 137.2L252.6 125.5L250.5 120.4L248.4 117L246.4 114.2L244.3 112.6L242.3 111.6L240.2 111.3L229.2 107.6L218.3 103.3L207.3 98.5Z" fill="url(#g267)" stroke="url(#g267)"/><path d="M176.9 146.7L181.1 135.2L183.5 131.5L188.4 122.8L195.7 108.2L200.6 101.4L203 99L205.5 98.7L206.5 98.5L204.1 98.9L201.7 101.1L196.8 107.5L187 126.7L184.6 130.9L182.2 134.5L177.9 144.6Z" fill="url(#g268)" stroke="url(#g268)"/><path d="M205.5 98.7L240.4 110.3L242.5 111.2L244.5 112.9L248.7 118.9L252.8 129.8L254.9 136.2L259 146.6L261 150L263.1 152.8L267.2 156.6L269.3 158.3L272.4 164.4L273.4 159.3L268.3 155.3L264.2 151.5L260 145.8L255.9 136.3L251.8 124.7L249.7 119.5L245.6 113.3L243.5 111.7L241.5 110.8L239.4 110.3L228.5 106.5L206.5 98.5Z" fill="url(#g269)" stroke="url(#g269)"/><path d="M176.6 146L180.9 135.3L183.3 131.6L188.2 123L195.5 108.4L200.4 101.5L202.8 99L205.3 98.7L206 98.6L203.5 98.9L201.1 101.3L196.2 108.1L188.9 122.7L184 131.4L181.6 135.1L177.4 146.6Z" fill="url(#g270)" stroke="url(#g270)"/><path d="M205.3 98.7L227.2 105.6L240.2 110L242.3 111L244.3 112.7L248.5 118.8L252.6 129.6L254.7 136.1L256.7 141.8L258.8 146.9L260.8 150.4L262.9 153.2L267 157.1L269.1 158.7L272.2 166L272.9 164.4L269.8 158.2L267.7 156.5L263.6 152.7L261.6 149.9L259.5 146.5L255.4 136.1L253.3 129.7L249.2 118.8L245 112.8L243 111.2L240.9 110.2L206 98.6Z" fill="url(#g271)" stroke="url(#g271)"/><path d="M176.5 145.5L180.8 135.5L183.2 131.8L188.1 123.2L195.4 108.6L200.3 101.5L202.7 99L205.1 98.7L205.8 98.6L203.3 98.9L200.9 101.4L196 108.4L188.7 123L183.8 131.6L181.4 135.3L177.2 145.9Z" fill="url(#g272)" stroke="url(#g272)"/><path d="M205.1 98.7L227 105.5L240.1 109.9L242.1 110.9L244.2 112.6L248.3 118.7L252.4 129.4L254.5 135.8L256.6 141.5L258.6 146.5L260.7 150L262.8 152.8L266.9 156.7L269 158.3L272 164.3L272.7 165.9L269.6 158.6L267.5 157L263.4 153.1L261.3 150.3L259.3 146.8L257.2 141.7L255.2 136L253.1 129.6L249 118.7L244.8 112.7L242.8 110.9L240.7 110L227.7 105.6L205.8 98.6Z" fill="url(#g273)" stroke="url(#g273)"/><path d="M175.9 143.3L180.1 134.5L182.6 130.9L185 126.6L194.8 107.4L199.6 101.3L202.1 99.1L204.5 98.8L205.6 98.6L203.2 99L200.8 101.5L195.9 108.5L188.6 123.1L183.7 131.7L181.3 135.4L177 145.4Z" fill="url(#g274)" stroke="url(#g274)"/><path d="M204.5 98.8L215.5 101.8L226.4 105.1L239.5 109.7L241.5 111.5L243.6 114.1L245.6 117.3L247.7 122L249.8 127.3L253.9 138.9L256 143.5L258 147.4L260.1 150.2L262.1 152.5L268.3 157.8L271.4 162.2L272.6 164.3L269.5 158.2L267.4 156.6L263.3 152.7L261.2 149.9L259.1 146.4L257.1 141.4L255 135.7L253 129.3L248.8 118.6L244.7 112.5L242.6 110.8L240.6 109.8L227.6 105.4L205.6 98.6Z" fill="url(#g275)" stroke="url(#g275)"/><path d="M175.3 140.7L179.6 133.5L182 129.9L184.5 125.6L194.2 106.6L196.7 103.6L199.1 101L201.5 99.1L204 98.8L205 98.7L202.6 99L200.1 101.2L195.3 107.3L185.5 126.5L183.1 130.8L180.6 134.4L176.4 143.3Z" fill="url(#g276)" stroke="url(#g276)"/><path d="M204 98.8L214.9 101.6L225.9 104.8L236.8 108.7L238.9 110.2L241 112.3L243 115.6L245.1 119.6L251.3 136.9L255.4 146.1L259.5 151.5L263.7 155.1L267.8 158.2L270.9 161.1L271.9 162.2L268.8 157.7L262.7 152.4L260.6 150.1L258.5 147.3L256.5 143.4L254.4 138.8L250.3 127.3L248.2 121.9L246.1 117.2L244.1 114L242 111.4L240 109.6L226.9 105L216 101.7L205 98.7Z" fill="url(#g277)" stroke="url(#g277)"/><path d="M174.9 139.9L181.5 129.1L184 124.8L191.3 110.3L193.7 106L196.2 103L198.6 100.8L201 99.1L203.5 98.8L204.5 98.7L202 99L199.6 100.9L197.2 103.5L194.7 106.5L185 125.5L182.5 129.8L180.1 133.5L175.8 140.6Z" fill="url(#g278)" stroke="url(#g278)"/><path d="M203.5 98.8L214.4 101.4L225.4 104.5L236.4 108.4L238.4 110.6L242.5 117L250.8 139.4L252.9 144L254.9 147.4L257 150.3L261.1 154.2L267.3 158.8L270.4 163.4L271.4 161.1L268.3 158.1L264.2 155.1L260 151.4L255.9 146L251.8 136.9L245.6 119.6L243.5 115.6L241.5 112.3L239.4 110.1L237.3 108.6L226.4 104.7L215.4 101.5L204.5 98.7Z" fill="url(#g279)" stroke="url(#g279)"/><path d="M174.8 139.9L181.5 129L184 124.7L191.3 110.2L193.7 105.9L196.1 103L198.6 100.8L201 99.1L203.4 98.9L204 98.8L201.5 99.1L199.1 100.7L196.7 102.9L194.2 105.9L191.8 110.2L184.5 124.7L182 129L175.4 139.8Z" fill="url(#g280)" stroke="url(#g280)"/><path d="M203.4 98.9L214.4 101.4L225.4 104.5L236.3 108.4L238.4 110.6L242.5 117.1L246.6 128.2L248.7 134.3L250.8 139.5L252.8 144.2L254.9 147.5L257 150.3L259 152.4L261.1 154.2L267.3 158.8L270.4 162.4L270.9 163.3L267.8 158.7L261.6 154.1L257.5 150.2L255.4 147.4L253.4 143.9L251.3 139.3L243 116.9L238.9 110.5L236.9 108.4L225.9 104.4L214.9 101.3L204 98.8Z" fill="url(#g281)" stroke="url(#g281)"/><path d="M174.1 141.5L178.4 134.4L180.8 130.8L183.2 126.5L193 107.3L197.8 101.3L200.3 99.2L202.7 98.9L204 98.8L201.5 99.1L199.1 100.7L196.6 102.9L194.2 105.9L191.8 110.1L184.5 124.6L182 128.9L175.3 139.8Z" fill="url(#g282)" stroke="url(#g282)"/><path d="M202.7 98.9L224.6 105.6L235.6 109.4L237.7 110.8L239.7 112.7L241.8 115.9L243.8 119.7L245.9 125L250 136.8L254.2 146.4L258.3 152L262.4 155.7L266.5 158.7L269.6 162L270.9 162.3L267.8 158.7L261.6 154.1L259.5 152.3L257.5 150.3L255.4 147.4L253.3 144.1L251.3 139.5L249.2 134.2L247.1 128.1L243 117L238.9 110.5L236.8 108.3L225.9 104.4L214.9 101.3L204 98.8Z" fill="url(#g283)" stroke="url(#g283)"/><path d="M173.3 141.6L177.6 136.1L182.5 128.3L184.9 123.9L192.2 109.3L194.7 105.5L197.1 101.9L199.5 99.3L202 99L203.2 98.8L200.8 99.2L198.4 101.3L193.5 107.2L183.7 126.4L181.3 130.7L178.9 134.3L174.6 141.4Z" fill="url(#g284)" stroke="url(#g284)"/><path d="M202 99L234.8 110.5L236.9 111L239 112.5L241 114.7L243.1 117.7L245.2 121.9L247.2 127.1L251.3 138.7L253.4 143.3L255.5 147.4L257.5 150.2L259.6 152.6L263.7 156.1L268.9 159.9L270.1 161.9L267 158.6L262.9 155.6L258.8 151.9L254.7 146.3L250.5 136.7L246.4 124.9L244.4 119.6L242.3 115.8L240.2 112.6L238.2 110.7L236.1 109.4L225.1 105.5L203.2 98.8Z" fill="url(#g285)" stroke="url(#g285)"/><path d="M173.1 141.7L177.4 136.6L182.3 128.7L184.7 124.4L192 109.8L196.9 102.1L199.3 99.4L201.8 99L202.5 98.9L200 99.3L197.6 101.8L195.2 105.4L192.7 109.2L185.4 123.8L183 128.2L178.1 136L173.8 141.6Z" fill="url(#g286)" stroke="url(#g286)"/><path d="M201.8 99L223.7 107L234.6 110.7L236.7 111.3L238.8 112.5L240.8 114.4L242.9 117.3L245 121.1L247 126.3L251.1 138L255.3 147L259.4 152.3L265.6 157.6L268.7 160.8L269.4 159.8L264.2 156.1L260.1 152.5L258 150.1L256 147.3L253.9 143.3L251.8 138.7L247.7 127L245.7 121.8L243.6 117.6L241.5 114.6L239.5 112.4L237.4 111L235.3 110.4L202.5 98.9Z" fill="url(#g287)" stroke="url(#g287)"/><path d="M171.5 141.8L178.2 131.6L180.6 127.4L190.3 108.2L195.2 101.8L197.6 99.5L200.1 99.2L202.3 98.9L199.8 99.3L197.4 102L192.5 109.7L185.2 124.3L182.8 128.7L177.9 136.5L173.6 141.6Z" fill="url(#g288)" stroke="url(#g288)"/><path d="M200.1 99.2L233 110.6L235 111.9L237.1 113.9L239.1 116.9L241.2 120.8L243.3 126L247.4 137.7L251.5 146.6L255.7 151.9L257.7 153.9L261.8 157.2L267 161L269.2 160.7L266.1 157.6L259.9 152.2L255.8 146.9L251.7 137.9L247.5 126.2L245.5 121L243.4 117.2L241.3 114.3L239.3 112.4L237.2 111.2L235.1 110.7L224.2 106.9L202.3 98.9Z" fill="url(#g289)" stroke="url(#g289)"/><path d="M171.4 141.9L178.1 131.6L180.5 127.3L190.3 108.2L195.2 101.8L197.6 99.5L200 99.2L200.6 99.1L198.2 99.4L195.7 101.7L190.8 108.1L181.1 127.3L178.7 131.5L172 141.8Z" fill="url(#g290)" stroke="url(#g290)"/><path d="M200 99.2L232.9 110.6L235 111.9L237 113.9L239.1 116.9L241.2 120.8L243.2 126L247.4 137.7L251.5 146.6L255.6 151.9L257.7 153.9L261.8 157.2L267 160.5L267.5 160.9L262.3 157.1L258.2 153.8L256.2 151.9L252 146.6L247.9 137.6L243.8 125.9L241.7 120.7L239.7 116.8L237.6 113.8L235.5 111.8L233.5 110.5L200.6 99.1Z" fill="url(#g291)" stroke="url(#g291)"/><path d="M169.9 146L174.2 134.7L176.6 131.1L179 126.7L188.8 107.6L193.6 101.8L196.1 99.8L198.5 99.5L200.5 99.1L198.1 99.4L195.7 101.7L190.8 108.1L181 127.3L178.6 131.5L171.9 141.8Z" fill="url(#g292)" stroke="url(#g292)"/><path d="M198.5 99.5L231.4 110.7L233.5 111.7L235.5 113.3L239.7 119.6L243.8 130.3L245.8 136.3L250 145.9L254.1 151.8L258.2 155.6L265.4 161.3L267.5 160.5L262.3 157.1L258.2 153.8L256.1 151.9L252 146.6L247.9 137.6L243.7 125.9L241.7 120.7L239.6 116.8L237.5 113.8L235.5 111.8L233.4 110.5L200.5 99.1Z" fill="url(#g293)" stroke="url(#g293)"/><path d="M169.8 145.6L174 134.6L176.5 131L178.9 126.7L188.7 107.6L193.5 101.8L196 99.8L198.4 99.5L199 99.4L196.6 99.7L194.2 101.7L189.3 107.5L179.5 126.7L177.1 131L174.7 134.6L170.4 145.9Z" fill="url(#g294)" stroke="url(#g294)"/><path d="M198.4 99.5L231.3 110.7L233.3 111.7L235.4 113.3L239.5 119.5L243.7 130.2L245.7 136.2L249.8 145.9L254 151.8L258.1 155.6L265.3 160.8L265.9 161.2L258.7 155.5L254.6 151.7L250.5 145.8L246.3 136.2L244.3 130.2L240.2 119.5L236 113.2L234 111.6L231.9 110.6L199 99.4Z" fill="url(#g295)" stroke="url(#g295)"/><path d="M168.4 142.2L172.6 135.1L175.1 131.5L177.5 127.2L187.3 108L192.1 102.2L194.6 100.2L197 99.9L198.9 99.4L196.5 99.7L194 101.7L189.2 107.5L179.4 126.6L177 130.9L174.5 134.5L170.3 145.6Z" fill="url(#g296)" stroke="url(#g296)"/><path d="M197 99.9L208 102.4L218.9 105.4L229.9 109.2L231.9 110.2L234 112.1L236.1 114.9L238.1 118.3L242.3 128.7L246.4 140.2L248.5 144.8L250.5 148.6L252.6 151.4L254.6 153.6L256.7 155.6L263.9 161.5L265.8 160.7L258.6 155.5L254.5 151.7L250.3 145.8L246.2 136.1L244.2 130.1L240 119.4L235.9 113.2L233.8 111.6L231.8 110.6L198.9 99.4Z" fill="url(#g297)" stroke="url(#g297)"/><path d="M168.1 142.3L172.3 135.2L174.8 131.6L177.2 127.3L187 108.1L191.8 102.3L194.3 100.3L196.7 100L197.5 99.8L195.1 100.1L192.6 102.1L187.8 107.9L178 127.1L175.6 131.4L173.1 135L168.9 142.2Z" fill="url(#g298)" stroke="url(#g298)"/><path d="M196.7 100L207.7 102.2L218.6 105.1L229.6 108.9L231.7 110L233.7 111.9L235.8 114.6L237.8 118.1L239.9 122.9L246.1 140L248.2 144.6L250.2 148.5L252.3 151.3L254.4 153.6L256.4 155.5L263.6 161.5L264.4 161.4L257.2 155.5L255.1 153.5L253.1 151.3L251 148.5L249 144.7L246.9 140.1L242.8 128.6L238.6 118.2L236.6 114.8L234.5 112.1L232.5 110.1L230.4 109.1L219.4 105.3L208.5 102.3L197.5 99.8Z" fill="url(#g299)" stroke="url(#g299)"/><path d="M167.6 142.6L171.9 135.4L174.3 131.8L176.8 127.5L186.5 108.3L191.4 102.5L193.8 100.5L196.3 100.2L197.2 99.9L194.8 100.2L192.3 102.2L187.5 108L177.7 127.2L175.3 131.5L172.9 135.1L168.6 142.3Z" fill="url(#g300)" stroke="url(#g300)"/><path d="M196.3 100.2L207.2 102.9L218.2 106.1L229.1 109.9L231.2 111.2L233.3 113.1L237.4 119.9L243.6 137.1L247.7 146.7L251.8 152.5L256 156.3L263.2 161.8L264.1 161.4L256.9 155.5L254.9 153.5L252.8 151.2L250.7 148.4L248.7 144.5L246.6 139.9L240.4 122.8L238.4 118L236.3 114.6L234.2 111.8L232.2 109.9L230.1 108.8L219.1 105L208.2 102.1L197.2 99.9Z" fill="url(#g301)" stroke="url(#g301)"/><path d="M166.9 142.9L171.1 135.7L173.6 132.1L176 127.8L185.7 108.7L190.6 102.8L193.1 100.8L195.5 100.5L196.8 100.1L194.3 100.4L191.9 102.4L187 108.2L177.3 127.4L174.8 131.7L172.4 135.3L168.1 142.5Z" fill="url(#g302)" stroke="url(#g302)"/><path d="M195.5 100.5L217.4 107.7L228.4 111.6L230.4 113.4L234.6 119.2L238.7 129.6L242.8 141L244.9 146.1L246.9 150L249 153.3L251.1 155.5L253.1 157.4L257.3 160.5L259.3 161.8L262.4 168.1L263.7 161.8L256.5 156.2L252.3 152.4L248.2 146.6L244.1 137L237.9 119.8L233.8 113L231.7 111.1L229.6 109.9L218.7 106L207.7 102.8L196.8 100.1Z" fill="url(#g303)" stroke="url(#g303)"/><path d="M166.4 143.1L170.7 136L173.1 132.4L175.5 128L185.3 108.9L190.2 103L192.6 101L195 100.6L196 100.4L193.6 100.7L191.1 102.7L186.3 108.6L176.5 127.7L174.1 132.1L171.6 135.7L167.4 142.8Z" fill="url(#g304)" stroke="url(#g304)"/><path d="M195 100.6L217 108.6L227.9 112.8L230 115.1L232 118L234.1 121.7L236.2 126.8L240.3 138.3L244.4 147.6L248.5 153.3L252.7 157L254.7 158.6L258.9 161.4L262 165.1L262.9 168L259.8 161.8L257.8 160.4L253.6 157.3L251.6 155.4L249.5 153.2L247.4 149.9L245.4 146L243.3 141L239.2 129.5L235.1 119.1L230.9 113.3L228.9 111.5L217.9 107.6L196 100.4Z" fill="url(#g305)" stroke="url(#g305)"/><path d="M166.1 143.4L170.4 136.5L172.8 132.9L175.2 128.6L185 109.4L189.9 103.3L192.3 101.1L194.7 100.8L195.5 100.6L193.1 100.9L190.7 102.9L185.8 108.8L176 128L173.6 132.3L171.2 135.9L166.9 143Z" fill="url(#g306)" stroke="url(#g306)"/><path d="M194.7 100.8L216.7 108.7L227.6 112.9L229.7 115.3L231.7 118.3L233.8 122.2L235.9 127.3L240 138.8L244.1 147.7L248.2 153L250.3 154.9L254.4 158.2L261.7 162.9L262.5 165L259.4 161.3L255.2 158.6L253.2 157L249 153.2L244.9 147.5L240.8 138.2L236.7 126.7L234.6 121.6L232.5 117.9L230.5 115L228.4 112.7L217.5 108.5L195.5 100.6Z" fill="url(#g307)" stroke="url(#g307)"/><path d="M165.2 143.9L169.5 138.2L174.3 130.4L176.8 126L184.1 111.4L186.5 107.6L189 104.1L191.4 101.6L193.8 101.2L195.2 100.7L192.8 101L190.4 103.2L185.5 109.4L175.7 128.5L173.3 132.8L170.9 136.4L166.6 143.4Z" fill="url(#g308)" stroke="url(#g308)"/><path d="M193.8 101.2L215.8 108.7L226.7 113.2L230.8 119.2L232.9 123.8L235 128.9L239.1 140.3L241.2 144.9L243.2 148.7L245.3 151.6L249.4 155.7L253.5 158.9L257.7 161.6L260.7 164.1L262.2 162.8L254.9 158.1L250.8 154.8L248.8 152.9L244.6 147.6L240.5 138.7L236.4 127.2L234.3 122.1L232.2 118.2L230.2 115.3L228.1 112.8L217.2 108.6L195.2 100.7Z" fill="url(#g309)" stroke="url(#g309)"/><path d="M164.7 145.6L173.9 131.3L176.3 127L183.6 112.4L186 108.3L188.5 104.5L190.9 101.8L193.4 101.4L194.3 101.1L191.9 101.5L189.5 104L187 107.5L184.6 111.3L177.3 125.9L174.8 130.3L170 138.1L165.7 143.8Z" fill="url(#g310)" stroke="url(#g310)"/><path d="M193.4 101.4L215.3 108.8L226.2 113.4L230.4 119.7L234.5 129.9L238.6 141.1L240.7 145.7L242.7 149.3L244.8 152.1L248.9 156.1L253 159.3L260.3 163.8L261.3 164L258.2 161.5L254 158.8L249.9 155.6L245.8 151.5L243.7 148.7L241.7 144.9L239.6 140.2L235.5 128.9L233.4 123.7L231.3 119.1L227.2 113.1L216.3 108.7L194.3 101.1Z" fill="url(#g311)" stroke="url(#g311)"/><path d="M163.8 148.8L168.1 137L170.5 133.4L172.9 129.1L182.7 110L187.6 104.2L190 102.1L192.4 101.8L193.9 101.3L191.4 101.7L189 104.5L186.5 108.2L184.1 112.3L176.8 126.9L174.4 131.2L165.2 145.6Z" fill="url(#g312)" stroke="url(#g312)"/><path d="M192.4 101.8L214.3 109.7L225.3 113.8L227.4 115.8L229.4 118.8L231.5 122.2L235.6 132.9L237.7 138.7L241.8 148.2L245.9 153.7L248 155.7L252.1 159L259.3 164L260.8 163.7L253.6 159.2L249.4 156L245.3 152L243.2 149.2L241.2 145.7L239.1 141.1L235 129.8L230.9 119.6L226.7 113.3L215.8 108.7L193.9 101.3Z" fill="url(#g313)" stroke="url(#g313)"/><path d="M163.7 148.9L168 136.8L170.4 133.2L172.8 128.9L182.6 109.8L185 106.8L187.4 104.1L189.9 102.2L192.3 101.9L192.9 101.7L190.5 102.1L188.1 104.1L183.2 109.9L173.4 129L171 133.3L168.6 137L164.3 148.7Z" fill="url(#g314)" stroke="url(#g314)"/><path d="M192.3 101.9L225.2 113.8L227.3 115.7L231.4 121.9L235.5 132.5L237.6 138.4L241.7 148.1L245.8 154L250 157.8L256.1 162.2L259.2 166.2L259.8 163.9L252.6 159L248.5 155.6L246.4 153.7L242.3 148.1L238.2 138.7L236.1 132.8L232 122.1L229.9 118.7L227.9 115.7L225.8 113.7L214.8 109.6L192.9 101.7Z" fill="url(#g315)" stroke="url(#g315)"/><path d="M163 145.3L167.3 135.6L172.2 127.4L179.5 112.8L181.9 108.7L184.4 105.8L186.8 103.9L189.2 102.4L191.7 102.1L192.8 101.8L190.4 102.1L187.9 104L185.5 106.7L183.1 109.7L173.3 128.8L170.9 133.1L168.5 136.7L164.2 148.8Z" fill="url(#g316)" stroke="url(#g316)"/><path d="M191.7 102.1L202.6 106.4L224.5 114.3L226.6 115.8L228.7 118L230.7 121L232.8 125.4L234.9 130.4L239 142.1L241.1 147.4L243.1 151.9L245.2 155.3L247.2 157.8L251.4 161.3L255.5 164.2L258.6 172.4L259.7 166.1L256.6 162.1L250.5 157.7L246.3 153.9L242.2 148L238.1 138.3L236 132.4L231.9 121.9L227.8 115.6L225.7 113.7L192.8 101.8Z" fill="url(#g317)" stroke="url(#g317)"/><path d="M163 145.3L167.3 135.6L172.2 127.4L179.5 112.8L181.9 108.7L184.4 105.8L186.8 103.9L189.2 102.4L191.7 102.1L192.2 102.1L189.7 102.3L187.3 103.8L184.9 105.7L182.4 108.7L180 112.7L172.7 127.3L167.8 135.5L163.6 145.2Z" fill="url(#g318)" stroke="url(#g318)"/><path d="M191.7 102.1L202.6 106.4L224.5 114.3L226.6 115.8L228.7 118.1L230.7 121L232.8 125.4L234.9 130.4L239 142.1L241 147.4L243.1 151.9L245.2 155.3L247.2 157.8L249.3 159.7L255.5 164.3L258.6 173.6L259.1 172.3L256 164.1L251.9 161.2L247.7 157.7L245.7 155.2L243.6 151.8L241.6 147.3L239.5 142L235.4 130.3L233.3 125.3L231.2 120.9L229.2 118L227.1 115.7L225.1 114.2L203.1 106.3L192.2 102.1Z" fill="url(#g319)" stroke="url(#g319)"/><path d="M162.3 142.7L171.4 127.2L178.7 112.6L181.2 108.7L183.6 105.8L186 104L188.5 102.6L190.9 102.4L192.2 102.1L189.7 102.3L187.3 103.8L184.9 105.7L182.4 108.7L180 112.7L172.7 127.3L167.8 135.5L163.5 145.2Z" fill="url(#g320)" stroke="url(#g320)"/><path d="M190.9 102.4L201.9 106.6L223.8 114.5L225.9 116.3L230 122.1L238.2 143.4L240.3 148L242.4 151.2L244.4 154L248.5 157.8L252.7 160.9L257.8 164.3L259.1 173.5L256 164.2L249.8 159.6L247.7 157.7L245.7 155.2L243.6 151.8L241.6 147.3L239.5 142L235.4 130.3L233.3 125.3L231.2 120.9L229.2 118L227.1 115.7L225 114.2L203.1 106.3L192.2 102.1Z" fill="url(#g321)" stroke="url(#g321)"/><path d="M162.2 142.3L168.9 131.5L171.3 127.1L178.6 112.5L181.1 108.7L183.5 105.8L185.9 104L188.4 102.7L190.8 102.4L191.4 102.3L189 102.6L186.5 103.9L184.1 105.7L181.7 108.6L179.2 112.5L171.9 127.1L162.8 142.6Z" fill="url(#g322)" stroke="url(#g322)"/><path d="M190.8 102.4L201.8 106.6L223.7 114.6L225.7 116.4L229.9 122.3L234 132.7L236.1 138.6L240.2 148.2L244.3 154.1L248.4 157.9L254.6 162.4L257.7 165.3L258.3 164.2L253.2 160.9L249 157.7L244.9 154L242.9 151.1L240.8 147.9L238.7 143.3L230.5 122L226.4 116.2L224.3 114.5L202.4 106.5L191.4 102.3Z" fill="url(#g323)" stroke="url(#g323)"/><path d="M161.4 142.2L168.1 131.3L170.5 126.9L177.8 112.3L180.2 108.6L182.7 105.8L185.1 104.1L187.6 102.9L190 102.7L191.3 102.3L188.9 102.6L186.4 103.9L184 105.7L181.6 108.6L179.1 112.4L171.8 127L169.4 131.4L162.7 142.2Z" fill="url(#g324)" stroke="url(#g324)"/><path d="M190 102.7L200.9 106.9L211.9 110.8L222.9 115.1L224.9 117.5L227 120.4L229.1 124.2L231.1 129.3L235.2 140.7L239.4 149.6L243.5 154.9L247.6 158.5L253.8 162.9L256.9 166L258.2 165.3L255.1 162.3L248.9 157.8L244.8 154.1L240.7 148.2L236.6 138.5L234.5 132.7L230.4 122.2L226.2 116.3L224.2 114.5L202.3 106.6L191.3 102.3Z" fill="url(#g325)" stroke="url(#g325)"/><path d="M160.6 143.1L167.3 132.2L169.8 127.9L177.1 113.3L179.5 109.3L181.9 106.4L184.4 104.5L186.8 103L189.3 102.8L190.5 102.6L188.1 102.8L185.6 104L183.2 105.7L180.7 108.5L178.3 112.2L171 126.8L168.6 131.2L161.9 142.1Z" fill="url(#g326)" stroke="url(#g326)"/><path d="M189.3 102.8L211.2 110.3L222.1 114.5L224.2 116.9L226.3 119.9L228.3 123.8L230.4 129L234.5 140.6L238.6 149.6L242.8 154.9L244.8 156.8L248.9 160.2L256.2 165L257.4 165.9L254.3 162.8L248.1 158.4L244 154.8L239.9 149.5L235.7 140.6L231.6 129.2L229.6 124.2L227.5 120.3L225.4 117.4L223.4 115L212.4 110.7L201.5 106.8L190.5 102.6Z" fill="url(#g327)" stroke="url(#g327)"/><path d="M159.9 144L166.6 133.2L169 128.9L176.3 114.4L178.7 110.1L181.2 107.1L183.6 104.8L186.1 103.2L188.5 102.9L189.8 102.7L187.3 103L184.9 104.4L182.4 106.3L180 109.2L177.6 113.3L170.3 127.8L167.8 132.1L161.1 143Z" fill="url(#g328)" stroke="url(#g328)"/><path d="M188.5 102.9L210.4 109.8L221.4 113.9L223.4 116.3L225.5 119.5L227.6 123.3L229.6 128.6L233.7 140.3L237.9 150L242 156.1L246.1 159.8L252.3 164.3L255.4 170.8L256.7 164.9L249.5 160.1L245.3 156.7L243.3 154.8L239.1 149.5L235 140.5L230.9 128.9L228.8 123.7L226.8 119.9L224.7 116.8L222.6 114.4L211.7 110.2L189.8 102.7Z" fill="url(#g329)" stroke="url(#g329)"/><path d="M159.7 144.3L166.4 133.4L168.8 129.1L176.1 114.7L178.6 110.3L181 107.3L183.4 104.9L185.9 103.2L188.3 102.9L189 102.8L186.6 103.1L184.1 104.8L181.7 107L179.3 110L176.8 114.3L169.5 128.8L167.1 133.1L160.4 143.9Z" fill="url(#g330)" stroke="url(#g330)"/><path d="M188.3 102.9L210.2 109.6L221.2 113.8L223.2 116.2L225.3 119.4L227.4 123.2L229.4 128.5L233.6 140.3L237.7 149.9L241.8 155.8L245.9 159.5L252.1 164L255.2 169.3L255.9 170.7L252.8 164.2L246.6 159.8L242.5 156L238.4 149.9L234.3 140.3L230.1 128.5L228.1 123.2L226 119.4L223.9 116.2L221.9 113.9L210.9 109.7L189 102.8Z" fill="url(#g331)" stroke="url(#g331)"/><path d="M159.1 143.9L165.8 133.1L168.2 128.8L175.6 114.3L178 110L180.4 107L182.9 104.8L185.3 103.2L187.7 102.9L188.8 102.8L186.4 103.1L183.9 104.9L181.5 107.2L179.1 110.2L176.6 114.6L169.3 129.1L166.9 133.4L160.2 144.2Z" fill="url(#g332)" stroke="url(#g332)"/><path d="M187.7 102.9L209.7 109.7L220.6 113.9L222.7 116.3L224.7 119.4L226.8 123.2L228.9 128.5L233 140.3L237.1 149.6L241.2 155L243.3 156.9L247.4 160.2L251.6 163L254.7 165.8L255.7 169.3L252.6 163.9L246.4 159.5L242.3 155.7L238.2 149.8L234.1 140.2L229.9 128.4L227.9 123.1L225.8 119.3L223.7 116.1L221.7 113.7L210.7 109.5L188.8 102.8Z" fill="url(#g333)" stroke="url(#g333)"/><path d="M158.8 143.7L165.4 132.8L167.9 128.5L175.2 114L177.6 109.8L180.1 106.9L182.5 104.8L184.9 103.2L187.4 102.9L188.2 102.8L185.8 103.1L183.4 104.8L180.9 107L178.5 109.9L176.1 114.2L168.7 128.7L166.3 133L159.6 143.8Z" fill="url(#g334)" stroke="url(#g334)"/><path d="M187.4 102.9L209.3 109.8L220.3 113.9L222.3 116.3L224.4 119.5L226.4 123.2L228.5 128.5L232.6 140.3L236.8 149.6L240.9 155L242.9 156.9L247.1 160.2L251.2 163L254.3 165.5L255.2 165.7L252.1 162.9L247.9 160.2L243.8 156.8L241.7 154.9L237.6 149.5L233.5 140.2L229.4 128.4L227.3 123.1L225.2 119.3L223.2 116.2L221.1 113.8L210.2 109.6L188.2 102.8Z" fill="url(#g335)" stroke="url(#g335)"/><path d="M158 145.6L162.3 136.3L167.1 128L174.4 113.4L176.9 109.5L179.3 106.5L181.7 104.6L184.2 103.2L186.6 103L187.9 102.9L185.4 103.1L183 104.7L180.6 106.8L178.1 109.7L175.7 113.9L168.4 128.4L165.9 132.8L159.3 143.6Z" fill="url(#g336)" stroke="url(#g336)"/><path d="M186.6 103L208.5 109.9L219.5 114.1L221.6 116.4L223.6 119.5L225.7 123.3L227.8 128.6L231.9 140.3L236 149.6L240.1 155L242.2 156.9L246.3 160.3L250.4 163L253.5 165.4L254.8 165.4L251.7 162.9L247.6 160.2L243.4 156.8L241.4 154.9L237.3 149.5L233.1 140.2L229 128.5L226.9 123.1L224.9 119.4L222.8 116.2L220.8 113.9L209.8 109.7L187.9 102.9Z" fill="url(#g337)" stroke="url(#g337)"/><path d="M157.2 148.2L161.5 136.5L166.4 128.3L173.7 113.8L176.1 109.7L178.5 106.7L181 104.7L183.4 103.3L185.9 103L187.1 102.9L184.7 103.2L182.3 104.6L179.8 106.5L177.4 109.4L174.9 113.4L167.6 128L162.8 136.2L158.5 145.5Z" fill="url(#g338)" stroke="url(#g338)"/><path d="M185.9 103L207.8 110L218.7 114L220.8 115.9L224.9 121.9L233.2 143.7L235.2 148.3L237.3 151.7L239.4 154.5L243.5 158.3L247.6 161.5L252.8 164.9L254 165.4L250.9 163L246.8 160.2L242.7 156.8L240.6 154.9L236.5 149.5L232.4 140.2L228.3 128.5L226.2 123.2L224.1 119.5L222.1 116.3L220 114L209 109.8L187.1 102.9Z" fill="url(#g339)" stroke="url(#g339)"/><path d="M156.3 145.7L160.6 136.8L163 133L165.4 128.7L172.8 114.2L175.2 109.9L177.6 107L180.1 104.8L182.5 103.3L184.9 103L186.4 102.9L183.9 103.2L181.5 104.7L179.1 106.7L176.6 109.6L174.2 113.7L166.9 128.2L162 136.4L157.7 148.1Z" fill="url(#g340)" stroke="url(#g340)"/><path d="M184.9 103L206.9 110.2L217.8 114.1L219.9 115.6L221.9 117.9L224 121L226.1 125.2L228.1 130.4L232.3 142.1L236.4 150.8L238.4 153.6L240.5 155.9L244.6 159.5L248.8 162.6L251.9 165.7L253.3 164.8L248.1 161.4L244 158.3L239.9 154.4L237.8 151.6L235.7 148.2L233.7 143.6L225.4 121.8L221.3 115.8L219.2 113.9L208.3 110L186.4 102.9Z" fill="url(#g341)" stroke="url(#g341)"/><path d="M155.7 143.4L162.4 132.6L164.9 128.3L172.2 113.7L174.6 109.7L177 106.7L179.5 104.8L181.9 103.3L184.3 103L185.4 102.9L183 103.2L180.6 104.8L178.1 106.9L175.7 109.9L173.3 114.1L165.9 128.6L163.5 132.9L161.1 136.7L156.8 145.6Z" fill="url(#g342)" stroke="url(#g342)"/><path d="M184.3 103L206.3 110.4L217.2 114.4L219.3 116.2L223.4 122L227.5 132.4L229.6 138.4L231.7 143.6L233.7 148.2L235.8 151.6L237.9 154.4L242 158.4L246.1 161.5L248.2 162.9L251.3 165.7L252.4 165.7L249.3 162.5L245.1 159.4L241 155.8L239 153.5L236.9 150.7L232.8 142L228.6 130.3L226.6 125.1L224.5 120.9L222.4 117.8L220.4 115.5L218.3 114L207.4 110.2L185.4 102.9Z" fill="url(#g343)" stroke="url(#g343)"/><path d="M154.6 142.7L161.3 131.8L163.8 127.5L171.1 112.9L173.5 109.1L175.9 106.3L178.4 104.6L180.8 103.4L183.3 103.1L184.8 102.9L182.4 103.2L180 104.7L177.5 106.6L175.1 109.6L172.7 113.6L165.4 128.2L162.9 132.5L156.2 143.3Z" fill="url(#g344)" stroke="url(#g344)"/><path d="M183.3 103.1L205.2 110.8L216.1 115.2L220.3 121L222.3 125.3L224.4 130.4L228.5 141.8L230.6 146.5L232.6 150.4L234.7 153.2L236.8 155.5L238.8 157.5L243 160.7L250.2 165.3L251.8 165.6L248.7 162.8L246.6 161.4L242.5 158.3L238.4 154.4L236.3 151.5L234.2 148.1L232.2 143.5L230.1 138.3L228 132.3L223.9 121.9L219.8 116.1L217.7 114.3L206.8 110.3L184.8 102.9Z" fill="url(#g345)" stroke="url(#g345)"/><path d="M153.4 143.2L160.1 132.3L162.6 128L169.9 113.4L172.3 109.6L174.8 106.7L177.2 104.9L179.6 103.6L182.1 103.3L183.8 103L181.3 103.3L178.9 104.5L176.5 106.2L174 109.1L171.6 112.8L164.3 127.4L161.8 131.8L155.1 142.7Z" fill="url(#g346)" stroke="url(#g346)"/><path d="M182.1 103.3L204 109.9L214.9 114.8L219.1 122.8L221.1 128.2L225.3 140L229.4 149.3L233.5 154.8L237.6 158.4L241.8 161.5L249 165.9L250.7 165.2L243.5 160.6L239.3 157.4L237.3 155.5L235.2 153.2L233.1 150.3L231.1 146.4L229 141.8L224.9 130.4L222.8 125.2L220.8 120.9L216.6 115.1L205.7 110.7L183.8 103Z" fill="url(#g347)" stroke="url(#g347)"/><path d="M153 143.4L159.6 132.5L162.1 128.2L169.4 113.6L171.8 109.7L174.3 106.8L176.7 105L179.1 103.7L181.6 103.4L182.6 103.2L180.1 103.5L177.7 104.8L175.3 106.6L172.8 109.5L170.4 113.3L163.1 127.9L160.6 132.3L153.9 143.1Z" fill="url(#g348)" stroke="url(#g348)"/><path d="M181.6 103.4L192.5 106.3L203.5 109.6L214.5 114.7L218.6 123.9L224.8 141.3L228.9 150.2L231 153.5L233 156.2L235.1 158.6L239.2 162L245.4 166L248.5 172.4L249.5 165.8L242.3 161.4L238.1 158.4L234 154.7L229.9 149.3L225.8 139.9L221.6 128.1L219.6 122.7L215.4 114.8L204.5 109.8L182.6 103.2Z" fill="url(#g349)" stroke="url(#g349)"/><path d="M152.7 143L159.4 132.1L161.8 127.7L169.1 113.2L171.6 109.5L174 106.6L176.4 105L178.9 103.8L181.3 103.5L182.1 103.3L179.6 103.6L177.2 104.9L174.8 106.7L172.3 109.6L169.9 113.5L162.6 128.1L160.2 132.4L153.5 143.3Z" fill="url(#g350)" stroke="url(#g350)"/><path d="M181.3 103.5L192.3 106.6L203.2 110L214.2 114.8L218.3 122.3L222.4 133.4L224.5 139.4L228.6 149.3L230.7 153L232.7 156.4L234.8 158.9L236.9 161L241 164L245.1 166.7L248.2 175.2L249 172.3L245.9 166L239.7 161.9L235.6 158.5L233.5 156.2L231.5 153.4L229.4 150.2L225.3 141.2L219.1 123.8L215 114.6L204 109.5L193 106.2L182.1 103.3Z" fill="url(#g351)" stroke="url(#g351)"/><path d="M152.5 142.7L159.2 131.8L161.6 127.4L168.9 112.8L171.4 109.3L173.8 106.5L176.2 104.9L178.6 103.8L181.1 103.6L181.8 103.4L179.4 103.7L176.9 104.9L174.5 106.5L172.1 109.4L169.7 113.1L162.4 127.6L159.9 132L153.2 142.9Z" fill="url(#g352)" stroke="url(#g352)"/><path d="M181.1 103.6L203 110.3L214 114.9L218.1 121.3L222.2 131.7L226.3 143.1L228.4 147.9L230.5 152L232.5 155.3L234.6 157.9L236.6 160L240.8 163.1L244.9 165.8L248 172.2L248.7 175.1L245.6 166.6L241.5 164L237.4 160.9L235.3 158.9L233.3 156.3L231.2 152.9L229.1 149.2L225 139.4L222.9 133.3L218.8 122.2L214.7 114.7L203.7 109.9L192.8 106.5L181.8 103.4Z" fill="url(#g353)" stroke="url(#g353)"/><path d="M152.1 143.7L156.3 135.3L161.2 126.5L168.4 112L170.9 108.8L173.3 106.2L175.7 104.8L178.1 104L180.5 103.7L181.6 103.5L179.2 103.7L176.7 104.8L174.3 106.4L171.9 109.1L169.5 112.7L162.2 127.2L159.8 131.6L153.1 142.5Z" fill="url(#g354)" stroke="url(#g354)"/><path d="M180.5 103.7L202.5 111.1L213.4 115L215.5 117L219.6 122.9L227.9 144.7L229.9 149.3L232 152.5L234.1 155.3L238.2 159.1L242.3 162.3L244.4 163.6L247.5 166.1L248.5 172.1L245.4 165.7L241.3 163L237.2 159.9L235.1 157.8L233 155.2L231 151.9L228.9 147.9L226.8 143L222.7 131.6L218.6 121.3L214.5 114.8L203.5 110.2L181.6 103.5Z" fill="url(#g355)" stroke="url(#g355)"/><path d="M151.5 144.9L155.7 134.3L158.2 130L167.8 111.1L170.2 108.1L172.6 105.8L175.1 104.7L177.5 104.1L179.9 103.9L181.1 103.6L178.6 103.9L176.2 104.7L173.8 106.1L171.4 108.6L169 111.8L161.7 126.3L156.9 135.1L152.6 143.5Z" fill="url(#g356)" stroke="url(#g356)"/><path d="M179.9 103.9L190.9 108.1L212.8 115.9L214.8 116.7L216.9 118.2L221 123.9L225.1 134.4L227.2 140.4L231.3 150.1L235.5 156.1L239.6 159.9L246.8 165.2L248 166L244.9 163.5L242.8 162.2L238.7 159.1L234.6 155.3L232.5 152.4L230.4 149.2L228.4 144.6L220.1 122.8L216 116.9L213.9 114.9L203 111L181.1 103.6Z" fill="url(#g357)" stroke="url(#g357)"/><path d="M151.2 146.7L155.5 135L160.3 126.1L167.5 111.7L169.9 108.7L172.3 106.2L174.7 105L177.2 104.2L179.6 104L180.4 103.8L178 104L175.6 104.6L173.2 105.7L170.8 108L168.3 111L158.7 129.9L156.3 134.1L152 144.8Z" fill="url(#g358)" stroke="url(#g358)"/><path d="M179.6 104L212.4 115.7L214.5 116.6L216.6 118.1L220.7 124.1L224.8 134.7L226.9 140.7L231 150.3L235.1 156.3L239.3 160.1L246.5 165.3L247.3 165.1L240.1 159.8L236 156.1L231.8 150L227.7 140.3L225.7 134.3L221.5 123.8L217.4 118.1L215.3 116.6L213.3 115.8L191.4 108L180.4 103.8Z" fill="url(#g359)" stroke="url(#g359)"/><path d="M150.3 145.3L154.6 136.9L159.4 128.5L166.6 114.1L168.9 110.4L171.3 107.6L173.7 105.9L176.1 104.6L178.5 104.3L180.1 103.9L177.7 104.2L175.3 104.9L172.9 106.1L170.5 108.6L168.1 111.5L160.9 125.8L156.1 134.7L151.8 146.4Z" fill="url(#g360)" stroke="url(#g360)"/><path d="M178.5 104.3L200.5 111.2L211.4 115L213.5 116.2L215.5 118L219.7 124.6L225.9 141.6L230 151.1L234.1 156.8L238.2 160.5L242.4 163.6L245.5 166.3L247 165.2L239.8 160L235.6 156.2L231.5 150.3L227.4 140.6L225.3 134.6L221.2 124L217.1 118L215 116.5L212.9 115.6L180.1 103.9Z" fill="url(#g361)" stroke="url(#g361)"/><path d="M150 144.8L159.1 129.3L166.2 114.9L168.6 111L171 108.1L173.4 106.2L175.8 104.7L178.2 104.4L179 104.2L176.7 104.5L174.3 105.8L171.9 107.5L169.5 110.3L167.1 114L159.9 128.3L155.1 136.7L150.8 145.1Z" fill="url(#g362)" stroke="url(#g362)"/><path d="M178.2 104.4L200.1 111L211.1 114.8L213.2 116.1L215.2 118L219.3 124.8L225.5 141.9L229.7 151.6L233.8 157.3L237.9 161.1L242 164.2L245.1 168.8L246 166.2L242.9 163.5L238.7 160.4L234.6 156.7L230.5 151L226.4 141.5L220.2 124.6L216.1 117.9L214 116.1L211.9 114.9L201 111.1L179 104.2Z" fill="url(#g363)" stroke="url(#g363)"/><path d="M149.9 144.1L156.5 133.3L158.9 129L166.1 114.7L168.5 110.9L170.9 108L173.3 106.1L175.7 104.7L178.1 104.5L178.7 104.3L176.3 104.6L173.9 106.1L171.5 108L169.1 110.9L166.8 114.8L159.6 129.1L150.5 144.7Z" fill="url(#g364)" stroke="url(#g364)"/><path d="M178.1 104.5L200 111.1L210.9 115L213 116.3L215.1 118.2L217.1 121.4L219.2 125.1L221.2 130.5L225.4 142.3L229.5 152L233.6 157.6L237.7 161.3L241.9 164.4L245 168.7L245.6 168.7L242.5 164.1L238.4 161L234.3 157.3L230.2 151.5L226 141.9L219.8 124.7L215.7 117.9L213.7 116L211.6 114.7L200.6 110.9L178.7 104.3Z" fill="url(#g365)" stroke="url(#g365)"/><path d="M149.6 143.7L156.3 132.9L158.7 128.6L165.8 114.3L168.2 110.6L170.6 107.8L173 106.1L175.4 104.8L177.8 104.5L178.6 104.4L176.2 104.7L173.8 106L171.4 107.9L169 110.8L166.6 114.6L159.4 128.9L157.1 133.2L150.4 144Z" fill="url(#g366)" stroke="url(#g366)"/><path d="M177.8 104.5L199.7 111.3L210.7 115.2L212.7 116.5L214.8 118.6L216.9 121.7L218.9 125.6L221 130.9L225.1 142.8L229.2 152.4L231.3 155.5L233.4 158.1L237.5 161.8L241.6 164.9L244.7 169.5L245.5 168.6L242.4 164.4L238.3 161.3L234.1 157.6L230 151.9L225.9 142.2L221.7 130.4L219.7 125L217.6 121.3L215.6 118.1L213.5 116.2L211.4 114.9L200.5 111L178.6 104.4Z" fill="url(#g367)" stroke="url(#g367)"/><path d="M149 142.7L153.2 136.1L155.6 131.9L165.1 113.1L167.5 110L169.9 107.4L172.3 105.9L174.6 105L177 104.7L178.3 104.5L175.9 104.7L173.5 106L171.2 107.7L168.8 110.5L166.4 114.1L159.3 128.4L156.9 132.7L150.2 143.5Z" fill="url(#g368)" stroke="url(#g368)"/><path d="M177 104.7L198.9 111.9L209.9 115.8L212 117.3L214 119.6L216.1 122.7L218.2 127L220.2 132.3L224.3 143.9L228.5 152.5L230.5 155.4L232.6 157.7L234.7 159.6L238.8 162.9L243.9 166.3L245.2 169.4L242.1 164.8L238 161.7L233.9 158.1L231.8 155.4L229.7 152.4L225.6 142.7L221.5 130.9L219.4 125.5L217.4 121.7L215.3 118.5L213.2 116.5L211.2 115.1L200.2 111.2L178.3 104.5Z" fill="url(#g369)" stroke="url(#g369)"/><path d="M148.5 142.1L152.8 135.4L155.2 131.2L164.7 112.5L167 109.5L169.4 107.1L171.8 105.9L174.2 105.1L176.5 104.9L177.5 104.6L175.2 104.9L172.8 105.9L170.4 107.3L168 109.9L165.7 113L156.2 131.7L153.8 135.9L149.5 142.5Z" fill="url(#g370)" stroke="url(#g370)"/><path d="M176.5 104.9L209.4 116.2L211.5 117.9L213.5 120.3L215.6 123.4L217.7 127.9L219.7 133.2L223.8 144.6L225.9 149.2L228 153L230 155.8L234.2 160L238.3 163.2L243.4 166.6L244.4 166.2L239.3 162.8L235.2 159.5L233.1 157.6L231 155.3L229 152.5L224.9 143.8L220.7 132.2L218.7 126.9L216.6 122.6L214.5 119.5L212.5 117.2L210.4 115.7L199.5 111.8L177.5 104.6Z" fill="url(#g371)" stroke="url(#g371)"/><path d="M148.5 142.1L152.7 135.4L155.1 131.2L164.6 112.5L167 109.5L169.3 107.2L171.7 105.9L174.1 105.1L176.5 104.9L177 104.8L174.7 105L172.3 105.8L169.9 107.1L167.5 109.4L165.2 112.4L155.7 131.1L153.3 135.3L149.1 142Z" fill="url(#g372)" stroke="url(#g372)"/><path d="M176.5 104.9L209.3 116.2L211.4 117.9L213.5 120.4L215.5 123.4L219.6 133.3L223.8 144.7L225.8 149.3L227.9 153.1L230 155.9L234.1 160L243.4 167L243.9 166.5L238.8 163.1L234.7 159.9L230.5 155.7L228.5 152.9L226.4 149.1L224.3 144.5L220.2 133.1L218.2 127.8L216.1 123.3L214 120.2L212 117.8L209.9 116.1L177 104.8Z" fill="url(#g373)" stroke="url(#g373)"/><path d="M147.8 142.3L152.1 135.6L154.4 131.4L163.9 112.7L166.2 109.8L168.6 107.4L171 106L173.3 105.2L175.7 105L177 104.8L174.6 105L172.2 105.8L169.9 107.1L167.5 109.4L165.1 112.3L155.7 131L153.3 135.1L149.1 141.8Z" fill="url(#g374)" stroke="url(#g374)"/><path d="M175.7 105L208.6 116.5L210.6 118.4L214.8 124.1L218.9 134.5L223 145.9L225.1 151L227.1 154.8L229.2 158.1L231.3 160.2L235.4 163.7L239.5 166.5L242.6 173L243.9 166.9L234.6 159.9L230.5 155.8L228.4 153L226.3 149.2L224.3 144.6L220.2 133.2L216 123.3L214 120.3L211.9 117.8L209.8 116.2L177 104.8Z" fill="url(#g375)" stroke="url(#g375)"/><path d="M147.2 142.5L151.4 135.8L153.8 131.6L163.2 113L165.5 110.1L167.9 107.6L170.2 106.2L172.6 105.3L174.9 105.1L176.2 104.9L173.8 105.1L171.5 105.9L169.1 107.3L166.8 109.7L164.4 112.6L155 131.2L152.7 135.3L148.4 142Z" fill="url(#g376)" stroke="url(#g376)"/><path d="M174.9 105.1L196.9 112.8L207.8 116.9L209.9 118.9L214 125.2L218.1 135.8L220.2 141.7L224.3 151.2L228.4 156.9L230.5 158.9L234.6 162.3L238.8 165.1L241.9 167.6L243.1 172.9L240 166.4L235.9 163.6L231.8 160.1L229.7 158L227.6 154.7L225.6 150.9L223.5 145.8L219.4 134.5L215.3 124L211.1 118.3L209.1 116.4L176.2 104.9Z" fill="url(#g377)" stroke="url(#g377)"/><path d="M147.1 142.5L151.3 135.8L153.7 131.7L163.1 113.1L165.4 110.1L167.8 107.7L170.1 106.2L172.5 105.4L174.8 105.1L175.4 105L173.1 105.3L170.7 106.1L168.4 107.5L166 110L163.7 112.9L154.3 131.5L151.9 135.7L147.7 142.4Z" fill="url(#g378)" stroke="url(#g378)"/><path d="M174.8 105.1L196.8 112.8L207.7 116.9L209.8 119L213.9 125.3L218 136L220.1 141.9L224.2 151.4L228.4 157L232.5 160.7L238.7 165.1L241.8 168.1L242.4 167.5L239.3 165L235.1 162.2L231 158.8L229 156.9L224.8 151.2L220.7 141.6L218.6 135.7L214.5 125.1L210.4 118.8L208.3 116.8L197.4 112.7L175.4 105Z" fill="url(#g379)" stroke="url(#g379)"/><path d="M146.6 142.9L150.8 136.3L153.2 132.1L162.6 113.6L164.9 110.5L167.3 108L169.6 106.4L172 105.4L174.3 105.1L175.3 105L173 105.3L170.7 106.1L168.3 107.6L166 110L163.6 112.9L154.2 131.5L151.9 135.6L147.6 142.3Z" fill="url(#g380)" stroke="url(#g380)"/><path d="M174.3 105.1L207.2 116.6L209.2 118.3L211.3 120.8L213.4 123.8L217.5 133.6L221.6 145L223.7 149.6L225.7 153.3L227.8 156.2L231.9 160.3L236.1 163.5L241.2 167.1L242.3 168L239.2 165L233 160.6L228.9 156.9L224.7 151.3L220.6 141.8L218.5 135.9L214.4 125.2L210.3 118.9L208.2 116.9L197.3 112.8L175.3 105Z" fill="url(#g381)" stroke="url(#g381)"/><path d="M146.6 142.9L150.8 136.3L153.2 132.1L162.6 113.7L164.9 110.5L167.3 108L169.6 106.4L171.9 105.4L174.3 105.1L174.8 105.1L172.5 105.3L170.1 106.3L167.8 107.9L165.4 110.4L163.1 113.6L153.7 132L151.4 136.2L147.1 142.9Z" fill="url(#g382)" stroke="url(#g382)"/><path d="M174.3 105.1L207.2 116.6L209.2 118.3L211.3 120.7L213.4 123.8L217.5 133.6L221.6 145L223.7 149.6L225.7 153.3L227.8 156.2L231.9 160.3L236.1 163.5L241.2 166.8L241.7 167L236.6 163.4L232.4 160.2L228.3 156.1L226.2 153.3L224.2 149.5L222.1 144.9L218 133.5L213.9 123.7L211.8 120.7L209.7 118.2L207.7 116.6L174.8 105.1Z" fill="url(#g383)" stroke="url(#g383)"/><path d="M145.9 146.2L150.2 136.9L154.9 128.4L161.9 114.4L164.2 111.1L166.5 108.4L168.9 106.7L171.2 105.5L173.5 105.2L174.8 105.1L172.5 105.3L170.1 106.3L167.8 107.9L165.5 110.4L163.1 113.5L153.8 131.9L151.4 136L147.2 142.7Z" fill="url(#g384)" stroke="url(#g384)"/><path d="M173.5 105.2L206.4 116.4L208.5 117.5L210.5 119.1L214.7 125.5L218.8 136.2L220.9 142.5L225 153.2L227 156.8L229.1 159.7L233.2 163.5L237.4 166.7L240.5 176.6L241.7 166.7L236.6 163.4L232.4 160.2L228.3 156.1L226.2 153.3L224.2 149.5L222.1 144.9L218 133.5L213.9 123.7L211.8 120.7L209.7 118.2L207.7 116.6L174.8 105.1Z" fill="url(#g385)" stroke="url(#g385)"/><path d="M145.6 147.9L149.9 137.2L154.5 128.8L161.5 114.8L163.8 111.3L166.2 108.6L168.5 106.8L170.8 105.5L173.2 105.2L174 105.1L171.7 105.4L169.4 106.6L167.1 108.3L164.7 110.9L162.4 114.3L155.4 128.3L150.7 136.7L146.5 146.1Z" fill="url(#g386)" stroke="url(#g386)"/><path d="M173.2 105.2L195.1 112.5L208.1 117.1L210.2 118.7L212.2 121.4L214.3 124.4L218.4 134.6L222.5 146.4L224.6 151.3L226.7 155.2L228.7 158.1L230.8 160.2L232.9 162.1L237 165.3L240.1 170.7L241 176.5L237.9 166.6L233.7 163.4L229.6 159.6L227.6 156.7L225.5 153.1L221.4 142.4L219.3 136.1L215.2 125.4L211 119L209 117.4L206.9 116.3L174 105.1Z" fill="url(#g387)" stroke="url(#g387)"/><path d="M145.3 149.5L149.5 137.4L154.2 129.2L161.2 115.3L163.5 111.6L165.8 108.9L168.1 106.9L170.5 105.5L172.8 105.2L173.7 105.1L171.3 105.4L169 106.7L166.7 108.5L164.4 111.2L162 114.7L155.1 128.6L150.4 137L146.2 147.7Z" fill="url(#g388)" stroke="url(#g388)"/><path d="M172.8 105.2L194.7 112.5L205.7 116.3L207.7 117.7L209.8 119.8L211.8 122.9L213.9 126.9L216 132.1L220.1 143.8L224.2 152.7L228.4 158L232.5 161.7L236.6 164.7L239.7 167.4L240.6 170.6L237.5 165.2L233.4 162L231.3 160.1L229.2 158L227.2 155.1L225.1 151.2L223 146.3L218.9 134.5L214.8 124.3L212.7 121.3L210.7 118.6L208.6 117L195.6 112.4L173.7 105.1Z" fill="url(#g389)" stroke="url(#g389)"/><path d="M145.3 149.5L149.5 137.5L154.2 129.2L161.1 115.3L163.5 111.6L165.8 108.9L168.1 106.9L170.5 105.5L172.8 105.2L173.3 105.2L171 105.4L168.6 106.8L166.3 108.8L164 111.5L161.7 115.2L154.7 129.1L150 137.4L145.8 149.4Z" fill="url(#g390)" stroke="url(#g390)"/><path d="M172.8 105.2L194.7 112.4L205.7 116.3L207.7 117.7L209.8 119.8L211.8 122.9L213.9 126.9L216 132.1L220.1 143.8L224.2 152.8L228.3 158L230.4 160L234.5 163.3L239.7 166.9L240.2 167.3L237.1 164.6L233 161.6L228.9 157.9L224.7 152.6L220.6 143.7L216.5 132L214.4 126.8L212.4 122.8L210.3 119.7L208.2 117.6L206.2 116.2L195.2 112.4L173.3 105.2Z" fill="url(#g391)" stroke="url(#g391)"/><path d="M144.1 146L153 130.5L159.9 116.7L162.2 112.6L164.6 109.7L166.9 107.3L169.2 105.6L171.5 105.3L173.3 105.2L171 105.4L168.7 106.8L166.4 108.7L164 111.5L161.7 115L154.8 128.8L150.2 137.1L145.9 149.2Z" fill="url(#g392)" stroke="url(#g392)"/><path d="M171.5 105.3L193.4 112.2L204.4 117.3L208.5 126L210.5 131.3L214.7 143L218.8 151.8L220.9 154.6L222.9 157L227 160.6L229.1 162.2L235.3 166.2L238.4 167.2L240.2 166.8L235 163.2L230.9 159.9L228.9 157.9L224.7 152.7L220.6 143.8L216.5 132.1L214.4 126.8L212.3 122.8L210.3 119.7L208.2 117.6L206.2 116.2L195.2 112.4L173.3 105.2Z" fill="url(#g393)" stroke="url(#g393)"/><path d="M143.9 145.7L150.5 135L152.8 130.9L159.7 117.2L162 113L166.6 107.5L169 105.6L171.3 105.3L172 105.2L169.7 105.5L167.4 107.2L165.1 109.6L162.8 112.5L160.5 116.6L153.5 130.4L144.7 145.9Z" fill="url(#g394)" stroke="url(#g394)"/><path d="M171.3 105.3L193.2 112.2L204.1 117.3L208.3 125.7L210.3 131L214.5 142.8L218.6 151.7L222.7 157L224.8 158.9L228.9 162.2L238.2 168.4L238.9 167.2L235.8 166.1L229.6 162.2L227.6 160.6L223.4 156.9L221.4 154.5L219.3 151.7L215.2 142.9L211 131.2L209 125.9L204.9 117.2L193.9 112.2L172 105.2Z" fill="url(#g395)" stroke="url(#g395)"/><path d="M142.7 148.5L146.9 141.4L149.2 138L151.5 134L160.6 116L165.2 108.5L167.5 105.9L169.8 105.5L171.8 105.3L169.5 105.6L167.2 107.4L162.6 112.8L160.3 116.9L153.5 130.6L151.2 134.6L144.6 145.3Z" fill="url(#g396)" stroke="url(#g396)"/><path d="M169.8 105.5L191.7 112.2L202.7 116.9L204.7 120.6L206.8 123.9L210.9 134.8L213 140.8L215.1 146L217.1 150.6L219.2 153.8L221.2 156.6L225.4 160.4L229.5 163.5L233.6 166.2L236.7 168.9L238.7 168.3L229.4 162.1L225.3 158.8L223.2 156.9L219.1 151.6L215 142.7L210.8 131L208.8 125.7L204.6 117.2L193.7 112.2L171.8 105.3Z" fill="url(#g397)" stroke="url(#g397)"/><path d="M141.4 146.3L147.9 135.8L150.2 131.8L159.3 113.9L163.8 108.1L166.1 106.2L168.4 105.8L170.3 105.4L168 105.8L165.8 108.3L161.2 115.8L152.1 133.6L149.9 137.6L147.6 141L143.3 148.1Z" fill="url(#g398)" stroke="url(#g398)"/><path d="M168.4 105.8L179.3 108.8L190.3 112.1L201.2 116L203.3 117.9L205.4 120.6L207.4 123.9L211.6 134.2L215.7 145.7L217.7 150.4L219.8 154.1L221.9 156.9L226 161L230.1 164.2L235.3 167.7L237.2 168.8L234.1 166.1L230 163.4L225.9 160.3L221.7 156.5L219.7 153.7L217.6 150.5L215.6 145.9L213.5 140.7L211.4 134.7L207.3 123.8L205.2 120.5L203.2 116.8L192.2 112.1L170.3 105.4Z" fill="url(#g399)" stroke="url(#g399)"/><path d="M141.2 146L147.7 135.4L150 131.4L159 113.6L163.6 108.1L165.8 106.2L168.1 105.9L168.9 105.8L166.6 106.1L164.3 108L159.8 113.8L150.7 131.6L148.5 135.6L141.9 146.2Z" fill="url(#g400)" stroke="url(#g400)"/><path d="M168.1 105.9L179.1 108.8L190 112.1L201 115.9L203.1 117.6L205.1 120.1L207.2 123.3L209.2 127.7L215.4 145L219.6 154.2L221.6 157.2L223.7 159.6L227.8 163.2L231.9 166.3L235 172.3L235.8 167.6L230.6 164.1L226.5 160.9L222.4 156.8L220.3 154L218.2 150.3L216.2 145.7L212.1 134.1L207.9 123.8L205.9 120.5L203.8 117.8L201.7 115.9L190.8 112L179.8 108.7L168.9 105.8Z" fill="url(#g401)" stroke="url(#g401)"/><path d="M140.7 144.5L145 137.9L147.3 133.9L156.3 116.2L158.6 112.6L160.8 109.9L163.1 107.8L165.3 106.3L167.6 106L168.6 105.8L166.4 106.1L164.1 108L159.6 113.5L157.3 117.7L150.5 131.2L148.3 135.2L141.8 145.8Z" fill="url(#g402)" stroke="url(#g402)"/><path d="M167.6 106L178.6 109.1L189.5 112.5L200.5 116.4L202.5 117.9L204.6 120.2L206.7 123.4L208.7 127.6L210.8 133L214.9 145L219 155.2L221.1 158.7L223.2 161.3L227.3 165L231.4 168.1L234.5 177.7L235.5 172.2L232.4 166.2L228.3 163.2L224.2 159.5L222.1 157.1L220.1 154.1L215.9 144.9L209.7 127.7L207.7 123.2L205.6 120L203.6 117.5L201.5 115.9L190.5 112L179.6 108.7L168.6 105.8Z" fill="url(#g403)" stroke="url(#g403)"/><path d="M140.1 142.4L144.3 135.6L146.6 131.6L155.6 113.8L157.8 111.1L160.1 108.8L162.3 107.4L164.6 106.5L166.8 106.3L168.1 106L165.9 106.2L163.6 107.7L161.4 109.8L159.1 112.5L156.9 116L147.8 133.6L145.6 137.6L141.3 144.3Z" fill="url(#g404)" stroke="url(#g404)"/><path d="M166.8 106.3L188.8 113.1L199.7 117L201.8 118.3L203.8 120.3L205.9 123.5L208 127.3L210 132.6L214.2 144.4L218.3 153.5L222.4 158.9L224.5 160.8L228.6 164.2L233.8 167.6L235 177.6L231.9 168L227.8 164.9L223.7 161.3L221.6 158.6L219.5 155.1L215.4 144.9L211.3 132.9L209.2 127.5L207.2 123.3L205.1 120.1L203 117.8L201 116.3L190 112.4L179.1 109L168.1 106Z" fill="url(#g405)" stroke="url(#g405)"/><path d="M139.7 141.2L144 134.4L146.2 130.3L153 116.9L155.2 113L157.4 110.2L159.7 108.3L161.9 107.2L164.2 106.6L166.4 106.4L167.3 106.2L165.1 106.4L162.9 107.3L160.6 108.7L158.4 111L156.1 113.7L147.1 131.5L144.9 135.4L140.6 142.2Z" fill="url(#g406)" stroke="url(#g406)"/><path d="M166.4 106.4L188.3 113.4L199.3 117.3L201.4 118.5L203.4 120.4L205.5 123.5L207.6 127.2L209.6 132.4L213.7 144.1L217.9 153.5L222 158.9L224.1 160.9L228.2 164.2L233.3 167.8L234.3 167.5L229.1 164.1L225 160.7L222.9 158.8L218.8 153.5L214.7 144.3L210.5 132.5L208.5 127.2L206.4 123.4L204.4 120.2L202.3 118.2L200.2 116.9L189.3 113L167.3 106.2Z" fill="url(#g407)" stroke="url(#g407)"/><path d="M139.5 141.3L143.7 134.5L146 130.5L152.7 117.1L155 113.2L157.2 110.4L159.4 108.5L161.7 107.3L163.9 106.7L166.2 106.4L166.9 106.3L164.7 106.5L162.5 107.1L160.2 108.2L158 110.1L155.7 112.9L153.5 116.8L146.8 130.2L144.5 134.2L140.3 141.1Z" fill="url(#g408)" stroke="url(#g408)"/><path d="M166.2 106.4L188.1 113.7L199 117.6L201.1 118.8L203.2 120.6L205.2 123.7L207.3 127.3L209.4 132.6L213.5 144.2L217.6 153.6L221.7 159L223.8 160.9L227.9 164.3L233.1 168L233.9 167.8L228.7 164.1L224.6 160.8L222.5 158.8L218.4 153.4L214.3 144L210.1 132.4L208.1 127.1L206 123.4L203.9 120.3L201.9 118.4L199.8 117.2L188.9 113.4L166.9 106.3Z" fill="url(#g409)" stroke="url(#g409)"/><path d="M138.3 146.4L142.5 135.4L144.7 131.4L153.6 114L155.9 111.3L158.1 109.2L160.3 107.8L162.5 107L164.7 106.8L166.7 106.3L164.4 106.6L162.2 107.2L160 108.4L157.8 110.2L155.5 113L153.3 116.8L146.7 130.1L144.4 134.1L140.2 141Z" fill="url(#g410)" stroke="url(#g410)"/><path d="M164.7 106.8L175.7 111.2L197.6 119.1L199.7 120.2L201.8 121.8L203.8 124.7L205.9 128.2L207.9 133.2L212.1 144.7L216.2 154L220.3 159.4L222.4 161.3L226.5 164.7L231.7 168.2L233.6 167.9L228.4 164.2L224.3 160.8L222.2 158.9L218.1 153.5L214 144.1L209.9 132.5L207.8 127.2L205.7 123.6L203.7 120.6L201.6 118.7L199.5 117.5L188.6 113.6L166.7 106.3Z" fill="url(#g411)" stroke="url(#g411)"/><path d="M138.2 146.7L142.4 135.4L144.6 131.5L153.5 114L155.8 111.3L158 109.2L160.2 107.8L162.4 107L164.6 106.8L165.3 106.7L163 106.9L160.8 107.7L158.6 109.1L156.4 111.2L154.1 113.9L145.2 131.3L143 135.3L138.8 146.2Z" fill="url(#g412)" stroke="url(#g412)"/><path d="M164.6 106.8L175.6 111.2L197.5 119.1L199.6 120L201.7 121.6L203.7 124.5L205.8 127.8L209.9 138.3L212 144.3L216.1 153.7L220.2 159.3L224.3 163L228.5 166.1L231.6 168.8L232.2 168.1L227 164.6L222.9 161.2L220.8 159.3L216.7 153.9L212.6 144.7L208.4 133.1L206.4 128.1L204.3 124.6L202.3 121.8L200.2 120.1L198.1 119.1L176.2 111.1L165.3 106.7Z" fill="url(#g413)" stroke="url(#g413)"/><path d="M136.8 142.8L141.1 136.1L143.3 132.2L152.1 114.7L154.3 112L156.5 109.7L158.7 108.2L160.9 107.2L163.1 107L165.2 106.7L162.9 106.9L160.7 107.7L158.5 109.1L156.3 111.1L154.1 113.8L151.9 117.9L145.3 131.1L143.1 135L138.9 146.3Z" fill="url(#g414)" stroke="url(#g414)"/><path d="M163.1 107L198.1 118.7L200.1 119.5L202.2 121.2L206.3 126.9L208.4 132L214.6 148.7L216.6 153.3L218.7 156.7L220.8 159.5L222.8 161.6L224.9 163.5L230.1 167.6L232.1 168.7L229 166L224.8 162.9L220.7 159.2L216.6 153.7L212.5 144.2L210.4 138.2L206.3 127.7L204.2 124.4L202.2 121.5L200.1 119.9L198 119L176.1 111.1L165.2 106.7Z" fill="url(#g415)" stroke="url(#g415)"/><path d="M136.8 142.9L141 136.1L143.2 132.2L152.1 114.7L154.3 112L156.5 109.8L158.7 108.2L160.9 107.2L163.1 107L163.6 106.9L161.4 107.1L159.2 108.1L157 109.6L154.8 111.9L152.6 114.6L143.8 132.1L141.6 136L137.4 142.7Z" fill="url(#g416)" stroke="url(#g416)"/><path d="M163.1 107L198 118.7L200.1 119.4L202.1 121.1L206.3 126.8L210.4 137.1L214.5 148.4L216.6 153L218.6 156.6L220.7 159.4L224.8 163.4L226.9 165L230 168.1L230.6 167.5L225.4 163.4L223.3 161.5L221.3 159.4L219.2 156.6L217.1 153.2L215.1 148.6L208.9 131.9L206.8 126.9L202.7 121.1L200.6 119.4L198.6 118.6L163.6 106.9Z" fill="url(#g417)" stroke="url(#g417)"/><path d="M135.4 141.2L139.7 134.4L148.4 117.3L150.6 113.6L152.8 110.9L155 109L157.1 107.8L159.3 107.2L161.5 106.9L163.6 106.9L161.4 107.1L159.2 108.1L157 109.6L154.8 111.8L152.7 114.5L143.9 131.8L141.7 135.7L137.5 142.5Z" fill="url(#g418)" stroke="url(#g418)"/><path d="M161.5 106.9L183.4 113.6L196.5 118.1L198.5 119.2L200.6 121L204.7 127.5L208.8 138.3L210.9 144.3L215 154L219.1 159.9L223.3 163.6L228.4 167.5L230.5 168.1L227.4 165L225.3 163.3L221.2 159.3L219.1 156.5L217.1 153L215 148.3L210.9 137L206.8 126.7L202.6 121L200.6 119.4L198.5 118.6L163.6 106.9Z" fill="url(#g419)" stroke="url(#g419)"/><path d="M135.3 141.1L139.6 134.2L148.3 117.1L150.5 113.5L152.7 110.8L154.8 109L157 107.8L159.2 107.2L161.4 106.9L162 106.8L159.8 107.1L157.7 107.7L155.5 109L153.3 110.8L151.1 113.5L148.9 117.2L140.2 134.3L135.9 141.1Z" fill="url(#g420)" stroke="url(#g420)"/><path d="M161.4 106.9L183.3 113.5L194.3 117.3L196.3 118L198.4 119.2L200.4 121L204.6 127.5L208.7 138.5L210.8 144.5L214.9 154.1L219 160L223.1 163.7L225.2 165.4L228.3 168.4L228.9 167.4L223.8 163.5L219.7 159.8L215.5 153.9L211.4 144.3L209.3 138.3L205.2 127.4L201.1 120.9L199 119.1L197 118L183.9 113.5L162 106.8Z" fill="url(#g421)" stroke="url(#g421)"/><path d="M134.8 142.2L139 135.4L141.2 131.5L149.9 114.4L152.1 111.7L154.2 109.5L156.4 108L158.6 107.1L160.8 106.9L161.9 106.8L159.7 107.1L157.5 107.7L155.4 108.9L153.2 110.7L151 113.3L148.8 116.9L140.2 134L135.9 140.9Z" fill="url(#g422)" stroke="url(#g422)"/><path d="M160.8 106.9L182.7 113.6L193.6 117.4L195.7 118.3L197.8 120L199.8 122.7L201.9 125.9L206 136.2L210.1 147.8L212.2 152.6L214.3 156.4L216.3 159.3L218.4 161.4L220.5 163.3L224.6 166.6L227.7 170.8L228.8 168.3L225.7 165.3L223.6 163.7L219.5 159.9L215.4 154.1L211.3 144.4L209.2 138.4L205.1 127.5L201 120.9L198.9 119.1L196.8 117.9L194.8 117.2L183.8 113.4L161.9 106.8Z" fill="url(#g423)" stroke="url(#g423)"/><path d="M134.1 143.5L138.4 136.7L140.5 132.9L149.2 115.7L151.3 112.7L153.5 110.2L155.7 108.3L157.8 107.1L160 106.8L161.3 106.8L159.1 107L156.9 107.9L154.8 109.4L152.6 111.5L150.4 114.2L141.8 131.2L139.6 135.1L135.4 141.9Z" fill="url(#g424)" stroke="url(#g424)"/><path d="M160 106.8L181.9 113.7L192.9 117.6L194.9 119.3L197 121.7L199.1 124.9L201.1 129.4L203.2 134.7L207.3 146.3L209.4 150.9L211.4 154.8L213.5 157.6L215.6 159.9L217.6 161.8L223.8 166.6L226.9 171.1L228.2 170.7L225.1 166.5L221 163.3L218.9 161.3L216.8 159.2L214.8 156.3L212.7 152.5L210.6 147.7L206.5 136.1L202.4 125.8L200.3 122.6L198.3 119.9L196.2 118.2L194.1 117.3L183.2 113.5L161.3 106.8Z" fill="url(#g425)" stroke="url(#g425)"/><path d="M133.8 144L138.1 137.3L140.3 133.5L148.9 116.4L151.1 113.2L153.2 110.5L155.4 108.5L157.5 107.1L159.7 106.8L160.5 106.7L158.3 107L156.2 108.2L154 110.1L151.9 112.6L149.7 115.6L141.1 132.8L138.9 136.6L134.6 143.3Z" fill="url(#g426)" stroke="url(#g426)"/><path d="M159.7 106.8L181.6 113.8L192.6 117.7L194.6 119.7L198.8 125.7L207 147.6L209.1 152.2L211.1 155.5L213.2 158.3L215.3 160.3L219.4 163.8L223.5 166.7L226.6 169.6L227.4 171.1L224.3 166.5L218.1 161.7L216.1 159.8L214 157.5L211.9 154.7L209.9 150.8L207.8 146.2L203.7 134.6L201.6 129.3L199.6 124.8L197.5 121.7L195.4 119.2L193.4 117.6L182.4 113.7L160.5 106.7Z" fill="url(#g427)" stroke="url(#g427)"/><path d="M133.2 144.5L137.4 137.8L139.6 134L148.2 117L150.3 113.6L152.5 110.9L154.6 108.6L156.8 107L158.9 106.8L160.2 106.7L158.1 107L155.9 108.4L153.8 110.4L151.6 113L149.5 116.2L140.9 133.2L138.7 137L134.4 143.7Z" fill="url(#g428)" stroke="url(#g428)"/><path d="M158.9 106.8L180.8 113.9L191.8 117.8L193.9 119.5L195.9 122L198 125.1L202.1 135.1L206.2 146.6L208.3 151.2L210.4 154.9L212.4 157.8L214.5 160L216.6 161.9L222.7 166.5L225.8 169.9L227.1 169.5L224 166.6L219.9 163.7L215.8 160.2L213.7 158.2L211.6 155.4L209.6 152.1L207.5 147.5L199.3 125.6L195.1 119.6L193.1 117.6L182.1 113.7L160.2 106.7Z" fill="url(#g429)" stroke="url(#g429)"/><path d="M132.4 147.5L136.6 138.4L140.9 130.6L147.3 117.8L149.5 114.1L153.7 108.7L155.9 107L158 106.7L159.4 106.7L157.3 107L155.1 108.5L153 110.7L150.9 113.5L148.7 116.8L140.2 133.7L138 137.5L133.8 144.2Z" fill="url(#g430)" stroke="url(#g430)"/><path d="M158 106.7L179.9 114L190.9 117.9L193 119.3L195 121.4L197.1 124.5L199.1 128.5L201.2 133.7L205.3 145.4L209.5 154.3L213.6 159.5L217.7 163.2L221.8 166.2L224.9 169.1L226.3 169.9L223.2 166.4L217.1 161.8L215 159.9L212.9 157.7L210.9 154.9L208.8 151.1L206.7 146.5L202.6 135L198.5 125.1L196.4 122L194.4 119.4L192.3 117.7L181.3 113.8L159.4 106.7Z" fill="url(#g431)" stroke="url(#g431)"/><path d="M131.8 148.8L136.1 137.9L140.4 130.1L146.7 117.4L148.9 113.9L151 111.1L153.1 108.7L155.3 107.1L157.4 106.8L158.5 106.6L156.4 106.9L154.3 108.6L152.1 111.1L150 114L147.9 117.6L141.5 130.4L137.2 138.1L133 147.3Z" fill="url(#g432)" stroke="url(#g432)"/><path d="M157.4 106.8L190.3 118.1L192.3 119.4L194.4 121.5L196.5 124.5L198.5 128.4L200.6 133.6L204.7 145.3L208.8 154.3L213 159.6L215 161.5L224.3 168.7L225.4 169L222.3 166.1L218.2 163.1L214.1 159.5L210 154.2L205.8 145.3L201.7 133.7L199.7 128.4L197.6 124.4L195.5 121.3L193.5 119.2L191.4 117.8L180.4 113.9L158.5 106.6Z" fill="url(#g433)" stroke="url(#g433)"/><path d="M130.9 145.1L137.3 133.4L145.7 116.6L147.9 113.4L150 110.7L152.1 108.6L154.2 107.2L156.3 106.9L157.9 106.7L155.8 107L153.7 108.6L151.6 110.9L149.4 113.7L147.3 117.1L141 129.8L136.7 137.6L132.5 148.5Z" fill="url(#g434)" stroke="url(#g434)"/><path d="M156.3 106.9L189.2 118.4L191.3 119.7L193.3 121.6L195.4 124.6L197.5 128.3L199.5 133.5L203.7 145.1L207.8 154.2L211.9 159.6L216 163.3L220.2 166.3L223.3 169.3L224.8 168.6L215.5 161.4L213.5 159.5L209.4 154.2L205.2 145.3L201.1 133.6L199 128.3L197 124.4L194.9 121.4L192.8 119.3L190.8 118L157.9 106.7Z" fill="url(#g435)" stroke="url(#g435)"/><path d="M130.7 144.3L137 133.4L145.5 116.6L147.6 113.5L149.7 110.8L151.8 108.7L153.9 107.3L156 107L156.8 106.8L154.7 107.1L152.6 108.5L150.5 110.6L148.4 113.3L146.3 116.5L137.8 133.2L131.4 144.9Z" fill="url(#g436)" stroke="url(#g436)"/><path d="M156 107L178 114.1L188.9 118L191 119.4L193.1 121.4L195.1 124.5L197.2 128.4L199.2 133.7L203.4 145.4L207.5 154.4L211.6 159.8L215.7 163.4L219.9 166.5L223 169.8L223.8 169.3L220.7 166.3L216.5 163.2L212.4 159.5L208.3 154.2L204.2 145.1L200 133.4L198 128.2L195.9 124.5L193.8 121.5L191.8 119.6L189.7 118.3L156.8 106.8Z" fill="url(#g437)" stroke="url(#g437)"/><path d="M130.5 143.9L134.8 137.2L136.9 133.4L145.3 116.7L147.4 113.6L149.6 110.9L151.7 108.8L153.8 107.4L155.9 107.1L156.6 106.9L154.4 107.2L152.3 108.6L150.2 110.7L148.1 113.4L146 116.5L137.5 133.3L131.2 144.2Z" fill="url(#g438)" stroke="url(#g438)"/><path d="M155.9 107.1L177.8 113.9L188.8 117.8L190.8 119.2L192.9 121.3L195 124.5L197 128.5L199.1 133.8L203.2 145.6L207.3 154.6L211.5 160L215.6 163.6L219.7 166.7L222.8 169.4L223.5 169.7L220.4 166.4L216.2 163.3L212.1 159.7L208 154.3L203.9 145.4L199.7 133.6L197.7 128.3L195.6 124.4L193.6 121.3L191.5 119.3L189.4 117.9L178.5 114.1L156.6 106.9Z" fill="url(#g439)" stroke="url(#g439)"/><path d="M130 144L134.2 137.2L136.3 133.5L144.8 116.8L146.9 113.8L149 111.1L151.1 109L153.2 107.6L155.3 107.4L156.4 107L154.3 107.3L152.2 108.7L150.1 110.8L148 113.4L145.9 116.5L137.5 133.2L135.3 136.9L131.1 143.7Z" fill="url(#g440)" stroke="url(#g440)"/><path d="M155.3 107.4L166.2 110L177.2 113.1L188.2 117L190.2 118.6L192.3 121.1L194.4 124.4L196.4 128.7L202.6 146.2L206.7 155.4L208.8 158.4L210.9 160.9L215 164.5L219.1 167.5L222.2 171.7L223.3 169.3L220.2 166.6L216.1 163.6L212 159.9L207.8 154.6L203.7 145.5L199.6 133.7L197.5 128.4L195.5 124.4L193.4 121.3L191.3 119.1L189.3 117.7L178.3 113.8L156.4 107Z" fill="url(#g441)" stroke="url(#g441)"/><path d="M129.4 144.1L133.7 137.3L135.8 133.6L144.2 116.9L148.4 111.3L150.5 109.3L152.6 107.9L154.7 107.6L155.8 107.3L153.7 107.5L151.6 108.9L149.5 111L145.3 116.6L136.9 133.3L134.8 137L130.6 143.8Z" fill="url(#g442)" stroke="url(#g442)"/><path d="M154.7 107.6L165.6 109.4L176.6 112.2L187.5 116.1L189.6 118L191.7 120.8L193.7 124.3L195.8 129L202 146.7L206.1 155.5L208.2 158.3L210.2 160.7L214.3 164.3L218.5 167.3L221.6 170.2L222.7 171.6L219.6 167.5L215.5 164.4L211.4 160.8L209.3 158.3L207.2 155.3L203.1 146.1L196.9 128.7L194.9 124.3L192.8 121L190.7 118.6L188.7 116.9L177.7 113L166.8 109.9L155.8 107.3Z" fill="url(#g443)" stroke="url(#g443)"/><path d="M129.3 144.3L133.6 137.5L135.7 133.8L144.1 117.2L146.2 114.1L148.2 111.5L150.3 109.4L152.4 108L154.5 107.7L155.2 107.6L153.1 107.8L151 109.2L148.9 111.2L144.7 116.8L136.3 133.5L134.2 137.2L130 144Z" fill="url(#g444)" stroke="url(#g444)"/><path d="M154.5 107.7L165.5 109.5L176.5 112.2L187.4 116.1L189.5 118.1L191.5 120.9L193.6 124.4L195.7 129.2L201.9 146.8L206 155.5L208 158.3L210.1 160.7L212.2 162.6L221.4 169.7L222.1 170.1L219 167.2L214.9 164.2L210.7 160.6L208.7 158.2L206.6 155.4L202.5 146.6L196.3 128.9L194.2 124.2L192.2 120.7L190.1 117.9L188 116L177.1 112.1L166.1 109.4L155.2 107.6Z" fill="url(#g445)" stroke="url(#g445)"/><path d="M128 147L132.2 140.3L134.3 136.6L144.7 116.6L148.8 110.6L150.9 108.8L153 108.5L155 107.6L153 107.9L150.9 109.2L148.8 111.3L144.7 116.9L136.4 133.4L134.3 137.1L130 143.9Z" fill="url(#g446)" stroke="url(#g446)"/><path d="M153 108.5L163.9 110.4L174.9 113.3L185.8 117.2L187.9 119.4L192 126L194.1 131.2L198.2 143.3L200.3 148.6L202.4 153.3L204.4 156.9L206.5 159.7L210.6 163.7L214.7 166.9L216.8 168.2L219.9 171.1L222 169.6L212.7 162.5L210.6 160.6L208.5 158.2L206.5 155.4L202.4 146.7L196.2 129.1L194.1 124.3L192 120.8L190 118L187.9 116L177 112.2L166 109.4L155 107.6Z" fill="url(#g447)" stroke="url(#g447)"/><path d="M126.5 146.2L130.7 139.4L132.8 135.8L141 119.5L143.1 116.3L145.1 113.5L147.2 111.1L149.2 109.6L151.3 109.3L153.5 108.4L151.4 108.7L149.4 110.5L145.3 116.4L135 136.2L132.9 139.9L128.7 146.5Z" fill="url(#g448)" stroke="url(#g448)"/><path d="M151.3 109.3L162.2 111.2L173.2 114L184.2 117.9L186.2 119.6L188.3 122.1L190.4 125.6L192.4 130L198.6 147.7L202.7 156.7L206.9 162L208.9 163.9L213 167.3L218.2 170.9L220.4 171L217.3 168.2L215.2 166.8L211.1 163.6L207 159.6L204.9 156.8L202.9 153.2L200.8 148.6L198.7 143.2L194.6 131.2L192.5 125.9L188.4 119.3L186.4 117.1L175.4 113.2L164.4 110.4L153.5 108.4Z" fill="url(#g449)" stroke="url(#g449)"/><path d="M125 147L129.3 140.2L131.3 136.6L139.4 120.5L141.5 117.2L143.5 114.3L145.5 111.8L147.6 110.2L149.6 109.9L151.8 109.2L149.8 109.5L147.7 111L145.7 113.3L143.7 116.1L141.6 119.2L133.5 135.4L131.5 139L127.2 145.7Z" fill="url(#g450)" stroke="url(#g450)"/><path d="M149.6 109.9L171.5 116.8L184.5 121.2L186.6 121.9L188.7 123.3L190.7 125.4L192.8 128.5L194.9 132.4L196.9 137.7L201 149.5L205.2 158.5L209.3 163.8L213.4 167.6L216.5 171L218.7 170.8L213.6 167.2L209.4 163.9L207.4 161.9L203.2 156.6L199.1 147.6L192.9 129.9L190.9 125.6L188.8 122L186.7 119.6L184.7 117.8L173.7 113.9L162.8 111.1L151.8 109.2Z" fill="url(#g451)" stroke="url(#g451)"/><path d="M123.6 144.4L127.8 137.4L137.9 117.9L139.9 115.5L141.9 113.4L143.9 111.7L145.9 110.7L147.9 110.5L150.1 109.9L148.1 110.1L146.1 111.7L144.1 114.1L142.1 117L140.1 120.2L132 136.2L130 139.8L125.7 146.5Z" fill="url(#g452)" stroke="url(#g452)"/><path d="M147.9 110.5L158.9 115.1L169.8 119.3L180.8 123.1L182.9 123.7L184.9 125.1L189.1 130.3L193.2 140.3L195.2 146.3L197.3 151.5L199.4 156.2L201.4 159.6L203.5 162.4L207.6 166.4L214.8 171.7L217 170.9L213.9 167.5L209.8 163.7L205.7 158.4L201.6 149.4L197.4 137.6L195.4 132.3L193.3 128.4L191.2 125.3L189.2 123.2L187.1 121.8L185.1 121.1L172 116.7L150.1 109.9Z" fill="url(#g453)" stroke="url(#g453)"/></g>
<path d="M63.6 166.4L63.6 47.4M63.6 166.4L257 221.3M257 221.3L509.4 179.3M63.6 166.4L57.5 164.7M63.6 126.7L57.5 125M63.6 87.1L57.5 85.3M63.6 47.4L57.5 45.7M63.6 166.4L57.4 167.4M160.3 193.9L154.1 194.9M257 221.3L250.8 222.3M257 221.3L263.1 223M341.1 207.3L347.2 209M425.3 193.3L431.3 195M509.4 179.3L515.5 181" stroke="#000" stroke-width="2.4" fill="none" stroke-linecap="butt"/>
<g font-family="Liberation Sans, Arial, Helvetica, sans-serif" font-size="16" fill="#000" stroke="#000" stroke-width="0.2"><text transform="translate(25.76 51.00) scale(1.109 1.000)">220</text><text transform="translate(26.03 90.90) scale(1.087 1.000)">210</text><text transform="translate(26.03 130.90) scale(1.083 1.000)">200</text><text transform="translate(26.09 170.70) scale(1.088 1.000)">190</text><text transform="translate(26.13 183.30) scale(1.083 1.000)">250</text><text transform="translate(122.52 210.70) scale(1.095 1.000)">200</text><text transform="translate(220.54 238.70) scale(1.052 1.000)">150</text><text transform="translate(264.76 238.70) scale(1.065 1.000)">0</text><text transform="translate(349.21 224.80) scale(1.076 1.000)">100</text><text transform="translate(432.73 211.50) scale(1.083 1.000)">200</text><text transform="translate(517.35 197.40) scale(1.086 1.000)">300</text><text transform="translate(77.89 250.10) scale(1.060 1.000)">Width/Pixel</text><text transform="translate(364.94 252.80) scale(1.088 1.000)">Sampling result</text><text transform="translate(19.1 152.30) rotate(-90) scale(1.078 1.000)">Height/Pixel</text></g>
</svg></body></html>
